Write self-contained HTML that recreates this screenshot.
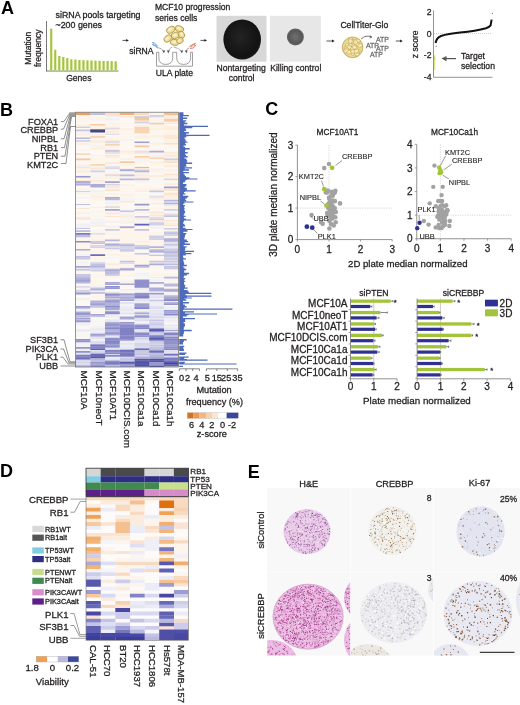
<!DOCTYPE html>
<html><head><meta charset="utf-8"><title>Figure</title>
<style>
html,body{margin:0;padding:0;background:#fff;}
body{width:520px;height:705px;overflow:hidden;}
svg{display:block;font-family:"Liberation Sans", Arial, sans-serif;}
</style></head><body>
<svg width="520" height="705" viewBox="0 0 520 705">
<text x="0.90" y="13.60" font-size="18" text-anchor="start" font-weight="bold" fill="#000">A</text>
<text x="55.50" y="18.40" font-size="8.85" text-anchor="start" fill="#231f20" stroke="#231f20" stroke-width="0.28">siRNA pools targeting</text>
<text x="55.50" y="28.10" font-size="8.85" text-anchor="start" fill="#231f20" stroke="#231f20" stroke-width="0.28">~200 genes</text>
<line x1="46.50" y1="21.00" x2="46.50" y2="71.30" stroke="#555" stroke-width="0.8"/>
<line x1="46.10" y1="71.00" x2="118.50" y2="71.00" stroke="#555" stroke-width="0.8"/>
<rect x="49.90" y="28.70" width="2.60" height="41.90" fill="#d9e8a8"/>
<rect x="50.30" y="28.70" width="1.80" height="41.90" fill="#a4c43c"/>
<rect x="53.93" y="49.80" width="2.60" height="20.80" fill="#d9e8a8"/>
<rect x="54.33" y="49.80" width="1.80" height="20.80" fill="#a4c43c"/>
<rect x="57.96" y="56.00" width="2.60" height="14.60" fill="#d9e8a8"/>
<rect x="58.36" y="56.00" width="1.80" height="14.60" fill="#a4c43c"/>
<rect x="61.99" y="57.00" width="2.60" height="13.60" fill="#d9e8a8"/>
<rect x="62.39" y="57.00" width="1.80" height="13.60" fill="#a4c43c"/>
<rect x="66.02" y="58.00" width="2.60" height="12.60" fill="#d9e8a8"/>
<rect x="66.42" y="58.00" width="1.80" height="12.60" fill="#a4c43c"/>
<rect x="70.05" y="59.40" width="2.60" height="11.20" fill="#d9e8a8"/>
<rect x="70.45" y="59.40" width="1.80" height="11.20" fill="#a4c43c"/>
<rect x="74.08" y="59.60" width="2.60" height="11.00" fill="#d9e8a8"/>
<rect x="74.48" y="59.60" width="1.80" height="11.00" fill="#a4c43c"/>
<rect x="78.11" y="60.00" width="2.60" height="10.60" fill="#d9e8a8"/>
<rect x="78.51" y="60.00" width="1.80" height="10.60" fill="#a4c43c"/>
<rect x="82.14" y="60.20" width="2.60" height="10.40" fill="#d9e8a8"/>
<rect x="82.54" y="60.20" width="1.80" height="10.40" fill="#a4c43c"/>
<rect x="86.17" y="60.40" width="2.60" height="10.20" fill="#d9e8a8"/>
<rect x="86.57" y="60.40" width="1.80" height="10.20" fill="#a4c43c"/>
<rect x="90.20" y="60.50" width="2.60" height="10.10" fill="#d9e8a8"/>
<rect x="90.60" y="60.50" width="1.80" height="10.10" fill="#a4c43c"/>
<rect x="94.23" y="60.70" width="2.60" height="9.90" fill="#d9e8a8"/>
<rect x="94.63" y="60.70" width="1.80" height="9.90" fill="#a4c43c"/>
<rect x="98.26" y="60.80" width="2.60" height="9.80" fill="#d9e8a8"/>
<rect x="98.66" y="60.80" width="1.80" height="9.80" fill="#a4c43c"/>
<rect x="102.29" y="61.00" width="2.60" height="9.60" fill="#d9e8a8"/>
<rect x="102.69" y="61.00" width="1.80" height="9.60" fill="#a4c43c"/>
<rect x="106.32" y="61.00" width="2.60" height="9.60" fill="#d9e8a8"/>
<rect x="106.72" y="61.00" width="1.80" height="9.60" fill="#a4c43c"/>
<rect x="110.35" y="61.20" width="2.60" height="9.40" fill="#d9e8a8"/>
<rect x="110.75" y="61.20" width="1.80" height="9.40" fill="#a4c43c"/>
<rect x="114.38" y="61.30" width="2.60" height="9.30" fill="#d9e8a8"/>
<rect x="114.78" y="61.30" width="1.80" height="9.30" fill="#a4c43c"/>
<text x="31.00" y="48.20" font-size="8.6" text-anchor="middle" fill="#231f20" stroke="#231f20" stroke-width="0.28" transform="rotate(-90 31.00 48.20)">Mutation</text>
<text x="41.00" y="48.20" font-size="8.6" text-anchor="middle" fill="#231f20" stroke="#231f20" stroke-width="0.28" transform="rotate(-90 41.00 48.20)">frequency</text>
<text x="78.80" y="80.60" font-size="8.6" text-anchor="middle" fill="#231f20" stroke="#231f20" stroke-width="0.28">Genes</text>
<line x1="122.50" y1="40.40" x2="127.30" y2="40.40" stroke="#231f20" stroke-width="0.75"/>
<path d="M126.20,39.00 L128.80,40.40 L126.20,41.80 Z" stroke="none" fill="#231f20" stroke-width="0.8"/>
<line x1="200.50" y1="40.40" x2="205.50" y2="40.40" stroke="#231f20" stroke-width="0.75"/>
<path d="M204.40,39.00 L207.00,40.40 L204.40,41.80 Z" stroke="none" fill="#231f20" stroke-width="0.8"/>
<line x1="326.50" y1="41.00" x2="333.10" y2="41.00" stroke="#231f20" stroke-width="0.75"/>
<path d="M332.00,39.60 L334.60,41.00 L332.00,42.40 Z" stroke="none" fill="#231f20" stroke-width="0.8"/>
<line x1="395.80" y1="41.00" x2="401.20" y2="41.00" stroke="#231f20" stroke-width="0.75"/>
<path d="M400.10,39.60 L402.70,41.00 L400.10,42.40 Z" stroke="none" fill="#231f20" stroke-width="0.8"/>
<text x="154.90" y="10.40" font-size="8.6" text-anchor="start" fill="#231f20" stroke="#231f20" stroke-width="0.28">MCF10 progression</text>
<text x="154.90" y="20.60" font-size="8.6" text-anchor="start" fill="#231f20" stroke="#231f20" stroke-width="0.28">series cells</text>
<ellipse cx="170.8" cy="29.8" rx="4.6" ry="3.1" transform="rotate(-25 170.8 29.8)" fill="#eedc96" stroke="#a88a3a" stroke-width="0.7"/>
<ellipse cx="170.20000000000002" cy="29.3" rx="2.3" ry="1.395" transform="rotate(-25 170.8 29.8)" fill="#f8f0c8"/>
<ellipse cx="179.4" cy="28.9" rx="4.4" ry="3.0" transform="rotate(20 179.4 28.9)" fill="#eedc96" stroke="#a88a3a" stroke-width="0.7"/>
<ellipse cx="178.8" cy="28.4" rx="2.2" ry="1.35" transform="rotate(20 179.4 28.9)" fill="#f8f0c8"/>
<ellipse cx="167.9" cy="38.5" rx="4.4" ry="3.1" transform="rotate(-40 167.9 38.5)" fill="#eedc96" stroke="#a88a3a" stroke-width="0.7"/>
<ellipse cx="167.3" cy="38.0" rx="2.2" ry="1.395" transform="rotate(-40 167.9 38.5)" fill="#f8f0c8"/>
<ellipse cx="175.4" cy="35.4" rx="4.2" ry="3.1" transform="rotate(-15 175.4 35.4)" fill="#eedc96" stroke="#a88a3a" stroke-width="0.7"/>
<ellipse cx="174.8" cy="34.9" rx="2.1" ry="1.395" transform="rotate(-15 175.4 35.4)" fill="#f8f0c8"/>
<ellipse cx="181.5" cy="34.8" rx="3.6" ry="3.0" transform="rotate(60 181.5 34.8)" fill="#eedc96" stroke="#a88a3a" stroke-width="0.7"/>
<ellipse cx="180.9" cy="34.3" rx="1.8" ry="1.35" transform="rotate(60 181.5 34.8)" fill="#f8f0c8"/>
<ellipse cx="174.6" cy="42.4" rx="4.3" ry="3.0" transform="rotate(10 174.6 42.4)" fill="#eedc96" stroke="#a88a3a" stroke-width="0.7"/>
<ellipse cx="174.0" cy="41.9" rx="2.15" ry="1.35" transform="rotate(10 174.6 42.4)" fill="#f8f0c8"/>
<ellipse cx="180.0" cy="40.6" rx="3.4" ry="2.8" transform="rotate(-30 180.0 40.6)" fill="#eedc96" stroke="#a88a3a" stroke-width="0.7"/>
<ellipse cx="179.4" cy="40.1" rx="1.7" ry="1.26" transform="rotate(-30 180.0 40.6)" fill="#f8f0c8"/>
<path d="M156.5,52.3 L156.5,66.2 L192.5,66.2 L192.5,52.3 L190.6,52.3 L190.6,57.5 Q190.6,64.4 183.6,64.4 Q176.7,64.4 176.7,57.5 L176.7,52.3 L172.7,52.3 L172.7,57.5 Q172.7,64.4 165.7,64.4 Q158.8,64.4 158.8,57.5 L158.8,52.3 Z" stroke="#777" fill="none" stroke-width="0.7"/>
<path d="M157.5,47.5 Q162,48 163.5,51.5" stroke="#777" fill="none" stroke-width="0.6"/>
<path d="M172,47 Q169,48.5 168.5,51.5" stroke="#777" fill="none" stroke-width="0.6"/>
<path d="M173.5,47 Q178,47.5 181.5,51.5" stroke="#777" fill="none" stroke-width="0.6"/>
<path d="M189,48 Q186.5,48.5 186,51.5" stroke="#777" fill="none" stroke-width="0.6"/>
<path d="M162.3,50.6 L163.8,53.2 L165.3,50.6 Z" stroke="none" fill="#555" stroke-width="0.8"/>
<path d="M166.8,50.6 L168.3,53.2 L169.8,50.6 Z" stroke="none" fill="#555" stroke-width="0.8"/>
<path d="M180.3,50.6 L181.8,53.2 L183.3,50.6 Z" stroke="none" fill="#555" stroke-width="0.8"/>
<path d="M184.8,50.6 L186.3,53.2 L187.8,50.6 Z" stroke="none" fill="#555" stroke-width="0.8"/>
<path d="M152,42.8 Q153.9,41.3 157.8,46.5" stroke="#4a8ad0" fill="none" stroke-width="0.8"/>
<path d="M152,44.4 Q155.9,45.8 157.8,48.1" stroke="#4a8ad0" fill="none" stroke-width="0.8"/>
<line x1="153.45" y1="43.52" x2="153.85" y2="45.52" stroke="#4a8ad0" stroke-width="0.6"/>
<line x1="154.90" y1="44.45" x2="155.30" y2="46.45" stroke="#4a8ad0" stroke-width="0.6"/>
<line x1="156.35" y1="45.38" x2="156.75" y2="47.38" stroke="#4a8ad0" stroke-width="0.6"/>
<path d="M189.5,46.5 Q191.65,45.0 195.8,43.2" stroke="#d0503c" fill="none" stroke-width="0.8"/>
<path d="M189.5,48.1 Q193.65,49.5 195.8,44.800000000000004" stroke="#d0503c" fill="none" stroke-width="0.8"/>
<line x1="191.07" y1="45.47" x2="191.47" y2="47.47" stroke="#d0503c" stroke-width="0.6"/>
<line x1="192.65" y1="44.65" x2="193.05" y2="46.65" stroke="#d0503c" stroke-width="0.6"/>
<line x1="194.23" y1="43.83" x2="194.63" y2="45.83" stroke="#d0503c" stroke-width="0.6"/>
<text x="129.20" y="54.10" font-size="8.6" text-anchor="start" fill="#231f20" stroke="#231f20" stroke-width="0.28">siRNA</text>
<text x="174.40" y="76.20" font-size="8.6" text-anchor="middle" fill="#231f20" stroke="#231f20" stroke-width="0.28">ULA plate</text>
<rect x="216.50" y="15.80" width="50.00" height="45.90" fill="#d8d8d8"/>
<defs><radialGradient id="gblk" cx="0.45" cy="0.45" r="0.6"><stop offset="0" stop-color="#242424"/><stop offset="0.8" stop-color="#121212"/><stop offset="1" stop-color="#1c1c1c"/></radialGradient><radialGradient id="ggry" cx="0.5" cy="0.5" r="0.5"><stop offset="0" stop-color="#707070"/><stop offset="0.8" stop-color="#575757"/><stop offset="1" stop-color="#6a6a6a"/></radialGradient><radialGradient id="gyel" cx="0.5" cy="0.5" r="0.5"><stop offset="0" stop-color="#f4e4a4"/><stop offset="0.9" stop-color="#ecd88c"/><stop offset="1" stop-color="#c8a848"/></radialGradient></defs>
<ellipse cx="242.2" cy="39.5" rx="18.8" ry="20.0" fill="url(#gblk)"/>
<rect x="270.00" y="15.80" width="50.80" height="45.90" fill="#e7e7e7"/>
<ellipse cx="295.4" cy="37.0" rx="8.5" ry="8.4" fill="url(#ggry)"/>
<text x="216.60" y="71.40" font-size="8.6" text-anchor="start" fill="#231f20" stroke="#231f20" stroke-width="0.28">Nontargeting</text>
<text x="241.60" y="81.40" font-size="8.6" text-anchor="middle" fill="#231f20" stroke="#231f20" stroke-width="0.28">control</text>
<text x="270.20" y="71.40" font-size="8.6" text-anchor="start" fill="#231f20" stroke="#231f20" stroke-width="0.28">Killing control</text>
<text x="340.40" y="28.40" font-size="8.6" text-anchor="start" fill="#231f20" stroke="#231f20" stroke-width="0.28">CellTiter-Glo</text>
<circle cx="352.6" cy="47.3" r="10.4" fill="url(#gyel)" stroke="#c0a040" stroke-width="0.6"/>
<ellipse cx="353.0" cy="53.0" rx="2.4" ry="1.9" transform="rotate(94 353.0 53.0)" fill="#f6eab8" stroke="#b8963c" stroke-width="0.45"/>
<ellipse cx="357.1" cy="44.7" rx="2.4" ry="1.9" transform="rotate(148 357.1 44.7)" fill="#f6eab8" stroke="#b8963c" stroke-width="0.45"/>
<ellipse cx="353.2" cy="47.5" rx="2.4" ry="1.9" transform="rotate(120 353.2 47.5)" fill="#f6eab8" stroke="#b8963c" stroke-width="0.45"/>
<ellipse cx="352.4" cy="50.7" rx="2.4" ry="1.9" transform="rotate(120 352.4 50.7)" fill="#f6eab8" stroke="#b8963c" stroke-width="0.45"/>
<ellipse cx="347.1" cy="45.8" rx="2.4" ry="1.9" transform="rotate(101 347.1 45.8)" fill="#f6eab8" stroke="#b8963c" stroke-width="0.45"/>
<ellipse cx="350.9" cy="45.3" rx="2.4" ry="1.9" transform="rotate(162 350.9 45.3)" fill="#f6eab8" stroke="#b8963c" stroke-width="0.45"/>
<ellipse cx="357.1" cy="53.7" rx="2.4" ry="1.9" transform="rotate(99 357.1 53.7)" fill="#f6eab8" stroke="#b8963c" stroke-width="0.45"/>
<ellipse cx="352.2" cy="40.9" rx="2.4" ry="1.9" transform="rotate(16 352.2 40.9)" fill="#f6eab8" stroke="#b8963c" stroke-width="0.45"/>
<ellipse cx="356.9" cy="54.0" rx="2.4" ry="1.9" transform="rotate(10 356.9 54.0)" fill="#f6eab8" stroke="#b8963c" stroke-width="0.45"/>
<ellipse cx="352.3" cy="48.3" rx="2.4" ry="1.9" transform="rotate(68 352.3 48.3)" fill="#f6eab8" stroke="#b8963c" stroke-width="0.45"/>
<ellipse cx="346.0" cy="48.4" rx="2.4" ry="1.9" transform="rotate(99 346.0 48.4)" fill="#f6eab8" stroke="#b8963c" stroke-width="0.45"/>
<ellipse cx="350.9" cy="39.7" rx="2.4" ry="1.9" transform="rotate(101 350.9 39.7)" fill="#f6eab8" stroke="#b8963c" stroke-width="0.45"/>
<ellipse cx="351.8" cy="41.5" rx="2.4" ry="1.9" transform="rotate(34 351.8 41.5)" fill="#f6eab8" stroke="#b8963c" stroke-width="0.45"/>
<ellipse cx="354.1" cy="45.9" rx="2.4" ry="1.9" transform="rotate(34 354.1 45.9)" fill="#f6eab8" stroke="#b8963c" stroke-width="0.45"/>
<ellipse cx="349.0" cy="47.4" rx="2.4" ry="1.9" transform="rotate(172 349.0 47.4)" fill="#f6eab8" stroke="#b8963c" stroke-width="0.45"/>
<ellipse cx="346.9" cy="49.7" rx="2.4" ry="1.9" transform="rotate(77 346.9 49.7)" fill="#f6eab8" stroke="#b8963c" stroke-width="0.45"/>
<ellipse cx="346.1" cy="50.8" rx="2.4" ry="1.9" transform="rotate(146 346.1 50.8)" fill="#f6eab8" stroke="#b8963c" stroke-width="0.45"/>
<ellipse cx="349.1" cy="52.1" rx="2.4" ry="1.9" transform="rotate(149 349.1 52.1)" fill="#f6eab8" stroke="#b8963c" stroke-width="0.45"/>
<ellipse cx="353.1" cy="51.5" rx="2.4" ry="1.9" transform="rotate(7 353.1 51.5)" fill="#f6eab8" stroke="#b8963c" stroke-width="0.45"/>
<ellipse cx="357.7" cy="40.9" rx="2.4" ry="1.9" transform="rotate(171 357.7 40.9)" fill="#f6eab8" stroke="#b8963c" stroke-width="0.45"/>
<ellipse cx="350.4" cy="41.1" rx="2.4" ry="1.9" transform="rotate(83 350.4 41.1)" fill="#f6eab8" stroke="#b8963c" stroke-width="0.45"/>
<ellipse cx="360.1" cy="45.6" rx="2.4" ry="1.9" transform="rotate(145 360.1 45.6)" fill="#f6eab8" stroke="#b8963c" stroke-width="0.45"/>
<ellipse cx="357.7" cy="51.2" rx="2.4" ry="1.9" transform="rotate(162 357.7 51.2)" fill="#f6eab8" stroke="#b8963c" stroke-width="0.45"/>
<ellipse cx="355.5" cy="42.2" rx="2.4" ry="1.9" transform="rotate(72 355.5 42.2)" fill="#f6eab8" stroke="#b8963c" stroke-width="0.45"/>
<ellipse cx="356.4" cy="51.0" rx="2.4" ry="1.9" transform="rotate(163 356.4 51.0)" fill="#f6eab8" stroke="#b8963c" stroke-width="0.45"/>
<ellipse cx="354.5" cy="47.2" rx="2.4" ry="1.9" transform="rotate(17 354.5 47.2)" fill="#f6eab8" stroke="#b8963c" stroke-width="0.45"/>
<path d="M361,39 Q366,34.5 371.5,37" stroke="#231f20" fill="none" stroke-width="0.6"/>
<path d="M369.8,35.6 L371.8,37.1 L369.6,38.0" stroke="#231f20" fill="none" stroke-width="0.6"/>
<text x="376.00" y="41.60" font-size="6.9" text-anchor="start" fill="#6d6d6d" stroke="#6d6d6d" stroke-width="0.28">ATP</text>
<text x="366.00" y="48.00" font-size="6.9" text-anchor="start" fill="#6d6d6d" stroke="#6d6d6d" stroke-width="0.28">ATP</text>
<text x="376.00" y="51.00" font-size="6.9" text-anchor="start" fill="#6d6d6d" stroke="#6d6d6d" stroke-width="0.28">ATP</text>
<text x="370.00" y="57.20" font-size="6.9" text-anchor="start" fill="#6d6d6d" stroke="#6d6d6d" stroke-width="0.28">ATP</text>
<text x="418.40" y="44.30" font-size="8.6" text-anchor="middle" fill="#231f20" stroke="#231f20" stroke-width="0.28" transform="rotate(-90 418.40 44.30)">z score</text>
<line x1="433.50" y1="10.40" x2="433.50" y2="77.30" stroke="#777" stroke-width="0.8"/>
<line x1="433.50" y1="77.30" x2="492.50" y2="77.30" stroke="#777" stroke-width="0.8"/>
<text x="431.50" y="14.60" font-size="8.6" text-anchor="end" fill="#231f20" stroke="#231f20" stroke-width="0.28">2</text>
<text x="431.50" y="36.50" font-size="8.6" text-anchor="end" fill="#231f20" stroke="#231f20" stroke-width="0.28">0</text>
<text x="431.50" y="58.40" font-size="8.6" text-anchor="end" fill="#231f20" stroke="#231f20" stroke-width="0.28">-2</text>
<text x="431.50" y="80.40" font-size="8.6" text-anchor="end" fill="#231f20" stroke="#231f20" stroke-width="0.28">-4</text>
<line x1="434.00" y1="33.60" x2="492.00" y2="33.60" stroke="#aaa" stroke-width="0.6" stroke-dasharray="1,1"/>
<path d="M435.6,43 Q436.6,37.6 441,36 Q448,33.8 460,32.6 Q476,30.8 486,28.2 Q489.6,27 490.6,25.4 L491.6,19.6" stroke="#111" fill="none" stroke-width="2.0"/>
<circle cx="436.20" cy="46.30" r="0.50" fill="#333"/>
<circle cx="492.40" cy="13.30" r="0.50" fill="#333"/>
<line x1="434.60" y1="55.00" x2="434.60" y2="70.00" stroke="#d8e890" stroke-width="1.2"/>
<line x1="434.20" y1="56.00" x2="435.20" y2="60.00" stroke="#a8c848" stroke-width="0.6"/>
<line x1="444.00" y1="58.60" x2="456.00" y2="58.60" stroke="#555" stroke-width="1.2"/>
<path d="M446.5,55.9 L441.5,58.6 L446.5,61.3 Z" stroke="none" fill="#555" stroke-width="0.8"/>
<text x="461.00" y="59.00" font-size="8.6" text-anchor="start" fill="#231f20" stroke="#231f20" stroke-width="0.28">Target</text>
<text x="461.00" y="69.20" font-size="8.6" text-anchor="start" fill="#231f20" stroke="#231f20" stroke-width="0.28">selection</text>
<text x="0.00" y="115.70" font-size="18" text-anchor="start" font-weight="bold" fill="#000">B</text>
<defs><filter id="hmb" x="-5%" y="-2%" width="110%" height="104%"><feGaussianBlur stdDeviation="0.25 0.4"/></filter><clipPath id="hmc"><rect x="75.6" y="112.2" width="103.0" height="254.8"/></clipPath></defs>
<g clip-path="url(#hmc)"><g filter="url(#hmb)">
<path fill="#eca060" d="M75.6 112.2h14.8v1.7h-14.8zM75.6 113.5h14.8v1.7h-14.8z"/>
<path fill="#c0c0e0" d="M90.3 112.2h14.8v1.7h-14.8zM90.3 113.5h14.8v1.7h-14.8zM149.2 114.9h14.8v1.7h-14.8zM105 149.4h14.8v1.7h-14.8zM134.5 166.6h14.8v1.7h-14.8zM75.6 203.8h14.8v1.7h-14.8zM163.9 233h14.8v1.7h-14.8zM75.6 234.3h14.8v1.7h-14.8zM134.5 246.2h14.8v1.7h-14.8zM119.7 250.2h14.8v1.7h-14.8zM75.6 255.5h14.8v1.7h-14.8zM75.6 258.2h14.8v1.7h-14.8zM90.3 263.5h14.8v1.7h-14.8zM119.7 267.5h14.8v1.7h-14.8zM90.3 270.1h14.8v1.7h-14.8zM105 272.8h14.8v1.7h-14.8zM75.6 286h14.8v1.7h-14.8zM90.3 291.4h14.8v1.7h-14.8zM119.7 292.7h14.8v1.7h-14.8zM105 295.3h14.8v1.7h-14.8zM149.2 344.4h14.8v1.7h-14.8zM134.5 351.1h14.8v1.7h-14.8zM149.2 352.4h14.8v1.7h-14.8zM134.5 353.7h29.5v1.7h-29.5zM119.7 359h14.8v1.7h-14.8zM75.6 364.3h14.8v1.7h-14.8zM105 365.7h14.8v1.7h-14.8z"/>
<path fill="#fae0cc" d="M105 112.2h14.8v1.7h-14.8zM105 113.5h14.8v1.7h-14.8zM163.9 213.1h14.8v1.7h-14.8zM163.9 225h14.8v1.7h-14.8z"/>
<path fill="#f0b07c" d="M119.7 112.2h14.8v1.7h-14.8zM119.7 113.5h14.8v1.7h-14.8z"/>
<path fill="#f8dcc0" d="M134.5 112.2h14.8v1.7h-14.8zM134.5 113.5h14.8v1.7h-14.8zM105 140.1h14.8v1.7h-14.8z"/>
<path fill="#fdf4ec" d="M149.2 112.2h14.8v1.7h-14.8zM149.2 113.5h14.8v1.7h-14.8zM90.3 114.9h14.8v1.7h-14.8zM119.7 114.9h14.8v1.7h-14.8zM90.3 116.2h29.5v1.7h-29.5zM75.6 117.5h14.8v1.7h-14.8zM75.6 120.2h14.8v1.7h-14.8zM105 122.8h14.8v1.7h-14.8zM119.7 125.5h14.8v1.7h-14.8zM149.2 125.5h14.8v1.7h-14.8zM90.3 126.8h14.8v1.7h-14.8zM149.2 129.5h14.8v1.7h-14.8zM119.7 133.4h14.8v1.7h-14.8zM75.6 134.8h14.8v1.7h-14.8zM134.5 134.8h14.8v1.7h-14.8zM105 136.1h14.8v1.7h-14.8zM90.3 137.4h14.8v1.7h-14.8zM105 138.7h14.8v1.7h-14.8zM149.2 138.7h14.8v1.7h-14.8zM75.6 141.4h14.8v1.7h-14.8zM90.3 144.1h14.8v1.7h-14.8zM75.6 146.7h29.5v1.7h-29.5zM163.9 146.7h14.8v1.7h-14.8zM105 148h14.8v1.7h-14.8zM149.2 148h14.8v1.7h-14.8zM134.5 149.4h14.8v1.7h-14.8zM163.9 150.7h14.8v1.7h-14.8zM119.7 152h14.8v1.7h-14.8zM134.5 153.3h14.8v1.7h-14.8zM163.9 153.3h14.8v1.7h-14.8zM75.6 157.3h14.8v1.7h-14.8zM119.7 157.3h14.8v1.7h-14.8zM90.3 158.6h14.8v1.7h-14.8zM90.3 160h29.5v1.7h-29.5zM75.6 161.3h14.8v1.7h-14.8zM105 161.3h14.8v1.7h-14.8zM134.5 161.3h14.8v1.7h-14.8zM149.2 162.6h14.8v1.7h-14.8zM163.9 166.6h14.8v1.7h-14.8zM75.6 167.9h14.8v1.7h-14.8zM90.3 169.3h14.8v1.7h-14.8zM149.2 171.9h14.8v1.7h-14.8zM134.5 173.2h14.8v1.7h-14.8zM105 175.9h14.8v1.7h-14.8zM119.7 177.2h14.8v1.7h-14.8zM149.2 178.6h14.8v1.7h-14.8zM90.3 181.2h14.8v1.7h-14.8zM119.7 185.2h29.5v1.7h-29.5zM75.6 187.8h14.8v1.7h-14.8zM90.3 189.2h14.8v1.7h-14.8zM134.5 189.2h29.5v1.7h-29.5zM134.5 193.2h14.8v1.7h-14.8zM90.3 197.1h14.8v1.7h-14.8zM90.3 198.5h14.8v1.7h-14.8zM119.7 199.8h14.8v1.7h-14.8zM149.2 199.8h14.8v1.7h-14.8zM134.5 201.1h14.8v1.7h-14.8zM149.2 203.8h14.8v1.7h-14.8zM149.2 207.8h14.8v1.7h-14.8zM90.3 210.4h14.8v1.7h-14.8zM149.2 210.4h14.8v1.7h-14.8zM90.3 211.7h14.8v1.7h-14.8zM90.3 214.4h14.8v1.7h-14.8zM75.6 215.7h29.5v1.7h-29.5zM105 219.7h14.8v1.7h-14.8zM90.3 230.3h59v1.7h-59zM163.9 230.3h14.8v1.7h-14.8zM90.3 231.6h73.7v1.7h-73.7zM105 233h59v1.7h-59zM90.3 234.3h73.7v1.7h-73.7zM90.3 235.6h14.8v1.7h-14.8zM119.7 235.6h29.5v1.7h-29.5zM163.9 235.6h14.8v1.7h-14.8zM75.6 236.9h73.7v1.7h-73.7zM75.6 238.3h73.7v1.7h-73.7zM75.6 239.6h14.8v1.7h-14.8zM119.7 239.6h44.2v1.7h-44.2zM105 240.9h29.5v1.7h-29.5zM149.2 240.9h14.8v1.7h-14.8zM75.6 242.3h14.8v1.7h-14.8zM119.7 242.3h44.2v1.7h-44.2zM75.6 243.6h29.5v1.7h-29.5zM134.5 243.6h29.5v1.7h-29.5zM75.6 244.9h14.8v1.7h-14.8zM149.2 244.9h14.8v1.7h-14.8zM75.6 246.2h14.8v1.7h-14.8zM105 246.2h14.8v1.7h-14.8zM163.9 246.2h14.8v1.7h-14.8zM75.6 247.6h29.5v1.7h-29.5zM149.2 247.6h14.8v1.7h-14.8zM90.3 248.9h29.5v1.7h-29.5zM75.6 250.2h29.5v1.7h-29.5zM75.6 251.5h29.5v1.7h-29.5zM119.7 251.5h14.8v1.7h-14.8zM75.6 252.9h44.2v1.7h-44.2zM119.7 254.2h29.5v1.7h-29.5zM90.3 255.5h14.8v1.7h-14.8zM119.7 255.5h44.2v1.7h-44.2zM90.3 256.9h59v1.7h-59zM90.3 258.2h14.8v1.7h-14.8zM119.7 258.2h29.5v1.7h-29.5zM90.3 259.5h14.8v1.7h-14.8zM119.7 259.5h44.2v1.7h-44.2zM90.3 260.8h14.8v1.7h-14.8zM134.5 260.8h14.8v1.7h-14.8zM75.6 262.2h14.8v1.7h-14.8zM105 262.2h14.8v1.7h-14.8zM134.5 262.2h29.5v1.7h-29.5zM75.6 263.5h14.8v1.7h-14.8zM119.7 263.5h14.8v1.7h-14.8zM105 264.8h29.5v1.7h-29.5zM119.7 266.1h14.8v1.7h-14.8zM75.6 267.5h14.8v1.7h-14.8zM105 267.5h14.8v1.7h-14.8zM134.5 268.8h14.8v1.7h-14.8zM163.9 268.8h14.8v1.7h-14.8zM119.7 270.1h14.8v1.7h-14.8zM163.9 270.1h14.8v1.7h-14.8zM75.6 271.4h14.8v1.7h-14.8zM149.2 271.4h14.8v1.7h-14.8zM75.6 272.8h14.8v1.7h-14.8zM163.9 272.8h14.8v1.7h-14.8zM90.3 274.1h14.8v1.7h-14.8zM119.7 274.1h14.8v1.7h-14.8zM163.9 274.1h14.8v1.7h-14.8zM90.3 275.4h44.2v1.7h-44.2zM90.3 276.8h29.5v1.7h-29.5zM134.5 276.8h14.8v1.7h-14.8zM90.3 279.4h14.8v1.7h-14.8zM119.7 279.4h14.8v1.7h-14.8zM90.3 280.7h29.5v1.7h-29.5zM163.9 280.7h14.8v1.7h-14.8zM90.3 282.1h14.8v1.7h-14.8zM163.9 282.1h14.8v1.7h-14.8zM90.3 283.4h14.8v1.7h-14.8zM75.6 284.7h14.8v1.7h-14.8zM75.6 287.4h14.8v1.7h-14.8zM163.9 287.4h14.8v1.7h-14.8zM163.9 294h14.8v1.7h-14.8zM90.3 295.3h14.8v1.7h-14.8zM90.3 296.7h14.8v1.7h-14.8zM90.3 298h14.8v1.7h-14.8zM75.6 299.3h14.8v1.7h-14.8zM90.3 308.6h14.8v1.7h-14.8zM90.3 311.3h14.8v1.7h-14.8zM75.6 337.8h14.8v1.7h-14.8z"/>
<path fill="#f4c090" d="M163.9 112.2h14.8v1.7h-14.8zM163.9 113.5h14.8v1.7h-14.8z"/>
<path fill="#fcecdc" d="M75.6 114.9h14.8v1.7h-14.8zM163.9 126.8h14.8v1.7h-14.8zM163.9 128.1h14.8v1.7h-14.8zM90.3 140.1h14.8v1.7h-14.8zM90.3 141.4h14.8v1.7h-14.8zM105 142.7h14.8v1.7h-14.8zM90.3 148h14.8v1.7h-14.8zM119.7 167.9h14.8v1.7h-14.8zM105 173.2h14.8v1.7h-14.8zM134.5 174.6h29.5v1.7h-29.5zM149.2 175.9h14.8v1.7h-14.8zM163.9 183.9h14.8v1.7h-14.8zM149.2 187.8h14.8v1.7h-14.8zM134.5 190.5h14.8v1.7h-14.8zM163.9 191.8h14.8v1.7h-14.8zM105 193.2h14.8v1.7h-14.8zM90.3 195.8h14.8v1.7h-14.8zM149.2 202.4h14.8v1.7h-14.8zM90.3 206.4h14.8v1.7h-14.8zM163.9 222.3h14.8v1.7h-14.8z"/>
<path fill="#ececf4" d="M105 114.9h14.8v1.7h-14.8zM75.6 217h14.8v1.7h-14.8zM149.2 276.8h14.8v1.7h-14.8zM134.5 287.4h14.8v1.7h-14.8zM119.7 288.7h29.5v1.7h-29.5zM134.5 300.6h14.8v1.7h-14.8zM149.2 303.3h14.8v1.7h-14.8zM119.7 306h14.8v1.7h-14.8zM119.7 307.3h14.8v1.7h-14.8zM75.6 308.6h14.8v1.7h-14.8zM163.9 308.6h14.8v1.7h-14.8zM105 315.2h14.8v1.7h-14.8zM163.9 319.2h14.8v1.7h-14.8zM75.6 323.2h14.8v1.7h-14.8zM105 335.2h14.8v1.7h-14.8zM119.7 340.5h14.8v1.7h-14.8zM75.6 341.8h14.8v1.7h-14.8zM119.7 341.8h14.8v1.7h-14.8zM119.7 344.4h14.8v1.7h-14.8zM119.7 345.8h14.8v1.7h-14.8zM75.6 348.4h14.8v1.7h-14.8z"/>
<path fill="#fcf0e4" d="M134.5 114.9h14.8v1.7h-14.8zM163.9 117.5h14.8v1.7h-14.8zM119.7 122.8h29.5v1.7h-29.5zM75.6 124.1h14.8v1.7h-14.8zM75.6 125.5h14.8v1.7h-14.8zM163.9 125.5h14.8v1.7h-14.8zM90.3 128.1h14.8v1.7h-14.8zM149.2 132.1h14.8v1.7h-14.8zM75.6 133.4h29.5v1.7h-29.5zM149.2 134.8h14.8v1.7h-14.8zM134.5 136.1h14.8v1.7h-14.8zM75.6 142.7h14.8v1.7h-14.8zM134.5 142.7h29.5v1.7h-29.5zM75.6 144.1h14.8v1.7h-14.8zM90.3 145.4h14.8v1.7h-14.8zM90.3 154.7h14.8v1.7h-14.8zM105 157.3h14.8v1.7h-14.8zM134.5 157.3h14.8v1.7h-14.8zM119.7 158.6h14.8v1.7h-14.8zM75.6 164h14.8v1.7h-14.8zM119.7 164h14.8v1.7h-14.8zM163.9 164h14.8v1.7h-14.8zM134.5 165.3h14.8v1.7h-14.8zM149.2 167.9h14.8v1.7h-14.8zM75.6 171.9h14.8v1.7h-14.8zM134.5 171.9h14.8v1.7h-14.8zM119.7 173.2h14.8v1.7h-14.8zM163.9 174.6h14.8v1.7h-14.8zM134.5 175.9h14.8v1.7h-14.8zM105 179.9h14.8v1.7h-14.8zM134.5 181.2h14.8v1.7h-14.8zM90.3 182.5h14.8v1.7h-14.8zM163.9 182.5h14.8v1.7h-14.8zM119.7 183.9h14.8v1.7h-14.8zM163.9 187.8h14.8v1.7h-14.8zM75.6 193.2h14.8v1.7h-14.8zM163.9 194.5h14.8v1.7h-14.8zM105 195.8h14.8v1.7h-14.8zM105 201.1h14.8v1.7h-14.8zM134.5 206.4h14.8v1.7h-14.8zM134.5 211.7h14.8v1.7h-14.8zM75.6 213.1h14.8v1.7h-14.8zM90.3 218.4h14.8v1.7h-14.8zM163.9 236.9h14.8v1.7h-14.8zM90.3 239.6h14.8v1.7h-14.8zM119.7 282.1h14.8v1.7h-14.8z"/>
<path fill="#fbe8d4" d="M163.9 114.9h14.8v1.7h-14.8zM163.9 122.8h14.8v1.7h-14.8zM105 162.6h14.8v1.7h-14.8zM134.5 167.9h14.8v1.7h-14.8zM119.7 170.6h14.8v1.7h-14.8zM149.2 197.1h14.8v1.7h-14.8zM119.7 201.1h14.8v1.7h-14.8zM134.5 217h14.8v1.7h-14.8zM119.7 221h14.8v1.7h-14.8zM119.7 227.7h14.8v1.7h-14.8z"/>
<path fill="#fbf8f4" d="M75.6 116.2h14.8v1.7h-14.8zM149.2 130.8h14.8v1.7h-14.8zM163.9 138.7h14.8v1.7h-14.8zM163.9 145.4h14.8v1.7h-14.8zM75.6 154.7h14.8v1.7h-14.8zM134.5 154.7h14.8v1.7h-14.8zM119.7 156h14.8v1.7h-14.8zM163.9 177.2h14.8v1.7h-14.8zM90.3 178.6h14.8v1.7h-14.8zM149.2 183.9h14.8v1.7h-14.8zM119.7 186.5h14.8v1.7h-14.8zM149.2 191.8h14.8v1.7h-14.8zM119.7 195.8h14.8v1.7h-14.8zM149.2 213.1h14.8v1.7h-14.8zM163.9 221h14.8v1.7h-14.8zM75.6 222.3h14.8v1.7h-14.8zM119.7 223.7h14.8v1.7h-14.8zM105 260.8h14.8v1.7h-14.8zM149.2 278.1h14.8v1.7h-14.8zM75.6 300.6h14.8v1.7h-14.8zM90.3 319.2h14.8v1.7h-14.8zM75.6 333.8h14.8v1.7h-14.8z"/>
<path fill="#fbe4d0" d="M119.7 116.2h14.8v1.7h-14.8zM163.9 137.4h14.8v1.7h-14.8zM105 154.7h14.8v1.7h-14.8zM75.6 166.6h14.8v1.7h-14.8zM90.3 167.9h14.8v1.7h-14.8zM163.9 173.2h14.8v1.7h-14.8zM75.6 179.9h29.5v1.7h-29.5zM105 205.1h14.8v1.7h-14.8zM75.6 207.8h14.8v1.7h-14.8zM149.2 214.4h14.8v1.7h-14.8zM105 215.7h14.8v1.7h-14.8zM75.6 218.4h14.8v1.7h-14.8zM163.9 219.7h14.8v1.7h-14.8zM90.3 225h14.8v1.7h-14.8z"/>
<path fill="#c8c8e4" d="M134.5 116.2h14.8v1.7h-14.8zM105 128.1h14.8v1.7h-14.8zM90.3 186.5h14.8v1.7h-14.8zM75.6 190.5h14.8v1.7h-14.8zM149.2 190.5h14.8v1.7h-14.8zM134.5 215.7h14.8v1.7h-14.8zM149.2 218.4h14.8v1.7h-14.8zM75.6 227.7h14.8v1.7h-14.8zM163.9 231.6h14.8v1.7h-14.8zM90.3 240.9h14.8v1.7h-14.8zM119.7 243.6h14.8v1.7h-14.8zM105 247.6h14.8v1.7h-14.8zM119.7 248.9h14.8v1.7h-14.8zM149.2 248.9h14.8v1.7h-14.8zM149.2 251.5h14.8v1.7h-14.8zM149.2 254.2h14.8v1.7h-14.8zM163.9 255.5h14.8v1.7h-14.8zM75.6 256.9h14.8v1.7h-14.8zM149.2 260.8h14.8v1.7h-14.8zM163.9 267.5h14.8v1.7h-14.8zM105 274.1h14.8v1.7h-14.8zM75.6 291.4h14.8v1.7h-14.8zM90.3 292.7h14.8v1.7h-14.8zM75.6 307.3h14.8v1.7h-14.8zM75.6 316.6h14.8v1.7h-14.8zM149.2 340.5h14.8v1.7h-14.8zM149.2 348.4h14.8v1.7h-14.8zM90.3 352.4h14.8v1.7h-14.8zM134.5 352.4h14.8v1.7h-14.8zM163.9 356.4h14.8v1.7h-14.8z"/>
<path fill="#d8d8ec" d="M149.2 116.2h14.8v1.7h-14.8zM105 167.9h14.8v1.7h-14.8zM163.9 178.6h14.8v1.7h-14.8zM90.3 244.9h14.8v1.7h-14.8zM163.9 244.9h14.8v1.7h-14.8zM119.7 247.6h14.8v1.7h-14.8zM163.9 256.9h14.8v1.7h-14.8zM149.2 316.6h14.8v1.7h-14.8zM134.5 328.5h14.8v1.7h-14.8zM90.3 341.8h14.8v1.7h-14.8zM105 353.7h14.8v1.7h-14.8zM134.5 355.1h14.8v1.7h-14.8z"/>
<path fill="#fcece0" d="M163.9 116.2h14.8v1.7h-14.8zM134.5 120.2h14.8v1.7h-14.8zM134.5 146.7h14.8v1.7h-14.8zM119.7 150.7h14.8v1.7h-14.8zM163.9 152h14.8v1.7h-14.8zM105 156h14.8v1.7h-14.8zM163.9 156h14.8v1.7h-14.8zM149.2 161.3h14.8v1.7h-14.8zM163.9 165.3h14.8v1.7h-14.8zM163.9 262.2h14.8v1.7h-14.8zM105 263.5h14.8v1.7h-14.8zM149.2 274.1h14.8v1.7h-14.8z"/>
<path fill="#fcf4e8" d="M90.3 117.5h14.8v1.7h-14.8zM149.2 120.2h14.8v1.7h-14.8zM119.7 132.1h14.8v1.7h-14.8zM163.9 133.4h14.8v1.7h-14.8zM119.7 136.1h14.8v1.7h-14.8zM105 137.4h14.8v1.7h-14.8zM149.2 144.1h14.8v1.7h-14.8zM105 146.7h14.8v1.7h-14.8zM119.7 149.4h14.8v1.7h-14.8zM90.3 157.3h14.8v1.7h-14.8zM149.2 164h14.8v1.7h-14.8zM75.6 169.3h14.8v1.7h-14.8zM149.2 170.6h14.8v1.7h-14.8zM90.3 175.9h14.8v1.7h-14.8zM119.7 175.9h14.8v1.7h-14.8zM75.6 185.2h14.8v1.7h-14.8zM119.7 190.5h14.8v1.7h-14.8zM134.5 195.8h14.8v1.7h-14.8zM90.3 199.8h14.8v1.7h-14.8zM163.9 205.1h14.8v1.7h-14.8zM163.9 207.8h14.8v1.7h-14.8zM119.7 219.7h14.8v1.7h-14.8zM134.5 225h14.8v1.7h-14.8zM105 250.2h14.8v1.7h-14.8zM105 288.7h14.8v1.7h-14.8zM105 298h14.8v1.7h-14.8z"/>
<path fill="#f8f4f4" d="M105 117.5h14.8v1.7h-14.8zM90.3 120.2h14.8v1.7h-14.8zM105 121.5h14.8v1.7h-14.8zM149.2 126.8h14.8v1.7h-14.8zM90.3 138.7h14.8v1.7h-14.8zM119.7 140.1h14.8v1.7h-14.8zM149.2 141.4h14.8v1.7h-14.8zM134.5 144.1h14.8v1.7h-14.8zM149.2 158.6h14.8v1.7h-14.8zM119.7 165.3h14.8v1.7h-14.8zM163.9 170.6h14.8v1.7h-14.8zM90.3 173.2h14.8v1.7h-14.8zM90.3 174.6h14.8v1.7h-14.8zM105 182.5h14.8v1.7h-14.8zM105 187.8h14.8v1.7h-14.8zM75.6 189.2h14.8v1.7h-14.8zM119.7 193.2h14.8v1.7h-14.8zM90.3 194.5h14.8v1.7h-14.8zM105 210.4h14.8v1.7h-14.8zM119.7 211.7h14.8v1.7h-14.8zM163.9 211.7h14.8v1.7h-14.8zM119.7 217h14.8v1.7h-14.8zM90.3 219.7h14.8v1.7h-14.8zM134.5 219.7h14.8v1.7h-14.8zM134.5 221h29.5v1.7h-29.5zM75.6 225h14.8v1.7h-14.8zM149.2 227.7h14.8v1.7h-14.8zM75.6 264.8h14.8v1.7h-14.8zM149.2 266.1h14.8v1.7h-14.8zM75.6 270.1h14.8v1.7h-14.8zM163.9 278.1h14.8v1.7h-14.8zM163.9 279.4h14.8v1.7h-14.8zM134.5 290h14.8v1.7h-14.8zM119.7 319.2h14.8v1.7h-14.8zM134.5 321.9h14.8v1.7h-14.8zM163.9 321.9h14.8v1.7h-14.8zM90.3 323.2h14.8v1.7h-14.8z"/>
<path fill="#fdf8f4" d="M119.7 117.5h14.8v1.7h-14.8zM119.7 118.8h14.8v1.7h-14.8zM119.7 121.5h14.8v1.7h-14.8zM119.7 124.1h14.8v1.7h-14.8zM149.2 124.1h14.8v1.7h-14.8zM119.7 126.8h14.8v1.7h-14.8zM119.7 130.8h14.8v1.7h-14.8zM90.3 132.1h14.8v1.7h-14.8zM149.2 137.4h14.8v1.7h-14.8zM75.6 138.7h14.8v1.7h-14.8zM134.5 138.7h14.8v1.7h-14.8zM119.7 145.4h14.8v1.7h-14.8zM149.2 146.7h14.8v1.7h-14.8zM75.6 148h14.8v1.7h-14.8zM90.3 150.7h14.8v1.7h-14.8zM75.6 152h29.5v1.7h-29.5zM149.2 152h14.8v1.7h-14.8zM90.3 153.3h14.8v1.7h-14.8zM105 158.6h14.8v1.7h-14.8zM75.6 162.6h14.8v1.7h-14.8zM119.7 162.6h14.8v1.7h-14.8zM105 164h14.8v1.7h-14.8zM149.2 166.6h14.8v1.7h-14.8zM90.3 171.9h14.8v1.7h-14.8zM163.9 171.9h14.8v1.7h-14.8zM149.2 173.2h14.8v1.7h-14.8zM75.6 178.6h14.8v1.7h-14.8zM105 178.6h14.8v1.7h-14.8zM119.7 181.2h14.8v1.7h-14.8zM119.7 182.5h14.8v1.7h-14.8zM134.5 183.9h14.8v1.7h-14.8zM149.2 186.5h14.8v1.7h-14.8zM163.9 190.5h14.8v1.7h-14.8zM119.7 191.8h29.5v1.7h-29.5zM75.6 194.5h14.8v1.7h-14.8zM134.5 197.1h14.8v1.7h-14.8zM163.9 198.5h14.8v1.7h-14.8zM75.6 199.8h14.8v1.7h-14.8zM75.6 202.4h14.8v1.7h-14.8zM134.5 202.4h14.8v1.7h-14.8zM90.3 203.8h44.2v1.7h-44.2zM119.7 205.1h29.5v1.7h-29.5zM75.6 206.4h14.8v1.7h-14.8zM119.7 206.4h14.8v1.7h-14.8zM149.2 206.4h14.8v1.7h-14.8zM149.2 209.1h14.8v1.7h-14.8zM75.6 210.4h14.8v1.7h-14.8zM163.9 210.4h14.8v1.7h-14.8zM75.6 219.7h14.8v1.7h-14.8zM105 223.7h14.8v1.7h-14.8zM119.7 225h14.8v1.7h-14.8zM134.5 226.3h14.8v1.7h-14.8zM134.5 227.7h14.8v1.7h-14.8zM75.6 229h14.8v1.7h-14.8zM119.7 229h14.8v1.7h-14.8zM149.2 230.3h14.8v1.7h-14.8zM105 242.3h14.8v1.7h-14.8zM134.5 267.5h14.8v1.7h-14.8zM149.2 268.8h14.8v1.7h-14.8zM163.9 271.4h14.8v1.7h-14.8zM90.3 272.8h14.8v1.7h-14.8zM149.2 272.8h14.8v1.7h-14.8zM119.7 276.8h14.8v1.7h-14.8zM90.3 278.1h14.8v1.7h-14.8zM134.5 278.1h14.8v1.7h-14.8zM75.6 283.4h14.8v1.7h-14.8zM149.2 284.7h14.8v1.7h-14.8zM149.2 286h29.5v1.7h-29.5zM119.7 287.4h14.8v1.7h-14.8zM163.9 291.4h14.8v1.7h-14.8zM75.6 294h29.5v1.7h-29.5zM75.6 296.7h14.8v1.7h-14.8zM90.3 299.3h14.8v1.7h-14.8zM75.6 302h14.8v1.7h-14.8zM75.6 304.6h14.8v1.7h-14.8zM90.3 321.9h14.8v1.7h-14.8z"/>
<path fill="#f4c89c" d="M134.5 117.5h14.8v1.7h-14.8zM134.5 118.8h14.8v1.7h-14.8zM105 150.7h14.8v1.7h-14.8z"/>
<path fill="#fdf8f0" d="M149.2 117.5h14.8v1.7h-14.8zM105 120.2h29.5v1.7h-29.5zM75.6 121.5h14.8v1.7h-14.8zM75.6 122.8h29.5v1.7h-29.5zM163.9 124.1h14.8v1.7h-14.8zM105 125.5h14.8v1.7h-14.8zM105 129.5h14.8v1.7h-14.8zM75.6 130.8h14.8v1.7h-14.8zM163.9 130.8h14.8v1.7h-14.8zM149.2 133.4h14.8v1.7h-14.8zM105 134.8h14.8v1.7h-14.8zM75.6 136.1h14.8v1.7h-14.8zM134.5 140.1h29.5v1.7h-29.5zM119.7 141.4h14.8v1.7h-14.8zM163.9 141.4h14.8v1.7h-14.8zM119.7 144.1h14.8v1.7h-14.8zM163.9 144.1h14.8v1.7h-14.8zM105 145.4h14.8v1.7h-14.8zM149.2 145.4h14.8v1.7h-14.8zM119.7 146.7h14.8v1.7h-14.8zM119.7 148h14.8v1.7h-14.8zM163.9 148h14.8v1.7h-14.8zM90.3 149.4h14.8v1.7h-14.8zM163.9 149.4h14.8v1.7h-14.8zM75.6 150.7h14.8v1.7h-14.8zM119.7 154.7h14.8v1.7h-14.8zM90.3 156h14.8v1.7h-14.8zM75.6 160h14.8v1.7h-14.8zM119.7 160h14.8v1.7h-14.8zM90.3 162.6h14.8v1.7h-14.8zM163.9 162.6h14.8v1.7h-14.8zM134.5 164h14.8v1.7h-14.8zM90.3 165.3h14.8v1.7h-14.8zM119.7 166.6h14.8v1.7h-14.8zM163.9 167.9h14.8v1.7h-14.8zM105 170.6h14.8v1.7h-14.8zM134.5 182.5h14.8v1.7h-14.8zM149.2 185.2h29.5v1.7h-29.5zM75.6 186.5h14.8v1.7h-14.8zM119.7 189.2h14.8v1.7h-14.8zM90.3 191.8h14.8v1.7h-14.8zM75.6 195.8h14.8v1.7h-14.8zM75.6 198.5h14.8v1.7h-14.8zM75.6 201.1h29.5v1.7h-29.5zM149.2 201.1h29.5v1.7h-29.5zM90.3 205.1h14.8v1.7h-14.8zM149.2 205.1h14.8v1.7h-14.8zM134.5 207.8h14.8v1.7h-14.8zM75.6 209.1h29.5v1.7h-29.5zM134.5 210.4h14.8v1.7h-14.8zM75.6 214.4h14.8v1.7h-14.8zM163.9 218.4h14.8v1.7h-14.8zM105 222.3h14.8v1.7h-14.8zM75.6 231.6h14.8v1.7h-14.8zM105 235.6h14.8v1.7h-14.8zM134.5 248.9h14.8v1.7h-14.8zM105 251.5h14.8v1.7h-14.8zM149.2 256.9h14.8v1.7h-14.8zM149.2 258.2h14.8v1.7h-14.8zM134.5 263.5h14.8v1.7h-14.8zM149.2 264.8h14.8v1.7h-14.8zM134.5 270.1h14.8v1.7h-14.8zM90.3 271.4h14.8v1.7h-14.8zM119.7 271.4h14.8v1.7h-14.8zM119.7 272.8h14.8v1.7h-14.8zM105 279.4h14.8v1.7h-14.8zM119.7 284.7h14.8v1.7h-14.8zM119.7 286h14.8v1.7h-14.8zM119.7 291.4h14.8v1.7h-14.8zM75.6 295.3h14.8v1.7h-14.8zM75.6 303.3h14.8v1.7h-14.8zM90.3 309.9h14.8v1.7h-14.8zM90.3 312.6h14.8v1.7h-14.8zM75.6 331.2h14.8v1.7h-14.8zM105 348.4h14.8v1.7h-14.8z"/>
<path fill="#fdf4e8" d="M75.6 118.8h29.5v1.7h-29.5zM149.2 118.8h14.8v1.7h-14.8zM105 124.1h14.8v1.7h-14.8zM134.5 124.1h14.8v1.7h-14.8zM134.5 125.5h14.8v1.7h-14.8zM119.7 129.5h14.8v1.7h-14.8zM163.9 129.5h14.8v1.7h-14.8zM163.9 132.1h14.8v1.7h-14.8zM149.2 149.4h14.8v1.7h-14.8zM105 153.3h29.5v1.7h-29.5zM163.9 157.3h14.8v1.7h-14.8zM90.3 161.3h14.8v1.7h-14.8zM105 171.9h14.8v1.7h-14.8zM119.7 187.8h29.5v1.7h-29.5zM90.3 193.2h14.8v1.7h-14.8zM119.7 197.1h14.8v1.7h-14.8zM163.9 206.4h14.8v1.7h-14.8zM119.7 209.1h14.8v1.7h-14.8zM105 225h14.8v1.7h-14.8zM163.9 229h14.8v1.7h-14.8z"/>
<path fill="#f0f0f4" d="M105 118.8h14.8v1.7h-14.8zM75.6 165.3h14.8v1.7h-14.8zM90.3 166.6h14.8v1.7h-14.8zM90.3 190.5h14.8v1.7h-14.8zM105 202.4h14.8v1.7h-14.8zM119.7 214.4h14.8v1.7h-14.8zM75.6 223.7h14.8v1.7h-14.8zM149.2 226.3h14.8v1.7h-14.8zM149.2 279.4h14.8v1.7h-14.8zM149.2 283.4h14.8v1.7h-14.8zM75.6 288.7h14.8v1.7h-14.8zM105 291.4h14.8v1.7h-14.8zM75.6 298h14.8v1.7h-14.8zM134.5 302h29.5v1.7h-29.5zM119.7 303.3h14.8v1.7h-14.8zM149.2 304.6h14.8v1.7h-14.8zM163.9 306h14.8v1.7h-14.8zM163.9 307.3h14.8v1.7h-14.8zM134.5 308.6h29.5v1.7h-29.5zM105 309.9h14.8v1.7h-14.8zM134.5 309.9h14.8v1.7h-14.8zM134.5 313.9h14.8v1.7h-14.8zM163.9 315.2h14.8v1.7h-14.8zM105 316.6h14.8v1.7h-14.8zM134.5 320.6h14.8v1.7h-14.8zM163.9 320.6h14.8v1.7h-14.8zM75.6 321.9h14.8v1.7h-14.8zM90.3 325.9h14.8v1.7h-14.8zM163.9 325.9h14.8v1.7h-14.8zM75.6 328.5h14.8v1.7h-14.8zM90.3 329.8h14.8v1.7h-14.8zM90.3 331.2h14.8v1.7h-14.8zM75.6 343.1h14.8v1.7h-14.8zM75.6 349.7h14.8v1.7h-14.8zM105 356.4h14.8v1.7h-14.8z"/>
<path fill="#f8cca8" d="M163.9 118.8h14.8v1.7h-14.8zM163.9 120.2h14.8v1.7h-14.8zM90.3 124.1h14.8v1.7h-14.8z"/>
<path fill="#faf8f4" d="M90.3 121.5h14.8v1.7h-14.8zM134.5 148h14.8v1.7h-14.8zM149.2 160h14.8v1.7h-14.8zM134.5 162.6h14.8v1.7h-14.8zM119.7 179.9h14.8v1.7h-14.8zM105 199.8h14.8v1.7h-14.8zM134.5 214.4h14.8v1.7h-14.8zM149.2 225h14.8v1.7h-14.8zM134.5 250.2h14.8v1.7h-14.8zM119.7 252.9h14.8v1.7h-14.8zM105 266.1h14.8v1.7h-14.8zM105 290h14.8v1.7h-14.8zM119.7 300.6h14.8v1.7h-14.8zM75.6 325.9h14.8v1.7h-14.8z"/>
<path fill="#d4d4e8" d="M134.5 121.5h14.8v1.7h-14.8zM105 183.9h14.8v1.7h-14.8zM163.9 234.3h14.8v1.7h-14.8zM90.3 246.2h14.8v1.7h-14.8zM163.9 252.9h14.8v1.7h-14.8zM90.3 262.2h14.8v1.7h-14.8zM149.2 343.1h14.8v1.7h-14.8zM134.5 347.1h14.8v1.7h-14.8zM75.6 361.7h14.8v1.7h-14.8z"/>
<path fill="#f4f4f4" d="M149.2 121.5h14.8v1.7h-14.8zM90.3 134.8h14.8v1.7h-14.8zM75.6 149.4h14.8v1.7h-14.8zM149.2 153.3h14.8v1.7h-14.8zM134.5 160h14.8v1.7h-14.8zM105 165.3h14.8v1.7h-14.8zM119.7 171.9h14.8v1.7h-14.8zM90.3 177.2h14.8v1.7h-14.8zM75.6 191.8h14.8v1.7h-14.8zM149.2 194.5h14.8v1.7h-14.8zM75.6 197.1h14.8v1.7h-14.8zM119.7 198.5h29.5v1.7h-29.5zM75.6 211.7h14.8v1.7h-14.8zM119.7 213.1h14.8v1.7h-14.8zM119.7 218.4h14.8v1.7h-14.8zM90.3 221h14.8v1.7h-14.8zM119.7 222.3h29.5v1.7h-29.5zM90.3 223.7h14.8v1.7h-14.8zM105 226.3h14.8v1.7h-14.8zM75.6 254.2h14.8v1.7h-14.8zM75.6 260.8h14.8v1.7h-14.8zM163.9 264.8h14.8v1.7h-14.8zM134.5 274.1h14.8v1.7h-14.8zM134.5 275.4h14.8v1.7h-14.8zM163.9 275.4h14.8v1.7h-14.8zM119.7 280.7h14.8v1.7h-14.8zM90.3 284.7h14.8v1.7h-14.8zM90.3 286h14.8v1.7h-14.8zM119.7 290h14.8v1.7h-14.8zM134.5 298h14.8v1.7h-14.8zM119.7 304.6h14.8v1.7h-14.8zM75.6 309.9h14.8v1.7h-14.8zM119.7 313.9h14.8v1.7h-14.8zM90.3 316.6h14.8v1.7h-14.8zM134.5 317.9h14.8v1.7h-14.8zM163.9 317.9h14.8v1.7h-14.8zM90.3 320.6h14.8v1.7h-14.8zM119.7 320.6h14.8v1.7h-14.8zM75.6 324.5h14.8v1.7h-14.8zM75.6 335.2h14.8v1.7h-14.8zM75.6 345.8h14.8v1.7h-14.8z"/>
<path fill="#fcf0e0" d="M163.9 121.5h14.8v1.7h-14.8zM90.3 125.5h14.8v1.7h-14.8zM149.2 128.1h14.8v1.7h-14.8zM149.2 136.1h14.8v1.7h-14.8zM134.5 137.4h14.8v1.7h-14.8zM163.9 140.1h14.8v1.7h-14.8zM163.9 160h14.8v1.7h-14.8zM163.9 175.9h14.8v1.7h-14.8zM75.6 177.2h14.8v1.7h-14.8zM105 177.2h14.8v1.7h-14.8zM163.9 179.9h14.8v1.7h-14.8zM119.7 194.5h14.8v1.7h-14.8zM163.9 195.8h14.8v1.7h-14.8zM134.5 218.4h14.8v1.7h-14.8zM134.5 240.9h14.8v1.7h-14.8zM105 254.2h14.8v1.7h-14.8z"/>
<path fill="#f8cca4" d="M149.2 122.8h14.8v1.7h-14.8z"/>
<path fill="#cccce8" d="M75.6 126.8h14.8v1.7h-14.8zM163.9 227.7h14.8v1.7h-14.8zM149.2 236.9h14.8v1.7h-14.8zM75.6 282.1h14.8v1.7h-14.8zM149.2 333.8h14.8v1.7h-14.8zM90.3 351.1h14.8v1.7h-14.8zM163.9 355.1h14.8v1.7h-14.8z"/>
<path fill="#fbe8d8" d="M105 126.8h14.8v1.7h-14.8zM163.9 154.7h14.8v1.7h-14.8zM105 185.2h14.8v1.7h-14.8zM149.2 219.7h14.8v1.7h-14.8z"/>
<path fill="#f8d4b4" d="M134.5 126.8h14.8v1.7h-14.8zM134.5 128.1h14.8v1.7h-14.8zM134.5 129.5h14.8v1.7h-14.8zM134.5 130.8h14.8v1.7h-14.8zM134.5 132.1h14.8v1.7h-14.8zM105 144.1h14.8v1.7h-14.8zM90.3 164h14.8v1.7h-14.8z"/>
<path fill="#fcf8f4" d="M75.6 128.1h14.8v1.7h-14.8zM105 132.1h14.8v1.7h-14.8zM134.5 133.4h14.8v1.7h-14.8zM119.7 137.4h14.8v1.7h-14.8zM75.6 145.4h14.8v1.7h-14.8zM149.2 165.3h14.8v1.7h-14.8zM75.6 173.2h14.8v1.7h-14.8zM149.2 179.9h14.8v1.7h-14.8zM134.5 186.5h14.8v1.7h-14.8zM90.3 187.8h14.8v1.7h-14.8zM134.5 199.8h14.8v1.7h-14.8zM90.3 207.8h29.5v1.7h-29.5zM105 217h14.8v1.7h-14.8zM105 218.4h14.8v1.7h-14.8zM163.9 226.3h14.8v1.7h-14.8zM90.3 227.7h14.8v1.7h-14.8zM134.5 251.5h14.8v1.7h-14.8zM105 255.5h14.8v1.7h-14.8zM75.6 259.5h14.8v1.7h-14.8zM149.2 270.1h14.8v1.7h-14.8zM134.5 271.4h14.8v1.7h-14.8zM105 278.1h14.8v1.7h-14.8zM105 284.7h14.8v1.7h-14.8zM105 317.9h14.8v1.7h-14.8zM163.9 323.2h14.8v1.7h-14.8zM163.9 328.5h14.8v1.7h-14.8z"/>
<path fill="#fcf0e8" d="M119.7 128.1h14.8v1.7h-14.8zM75.6 132.1h14.8v1.7h-14.8zM119.7 138.7h14.8v1.7h-14.8zM149.2 154.7h14.8v1.7h-14.8zM149.2 156h14.8v1.7h-14.8zM134.5 158.6h14.8v1.7h-14.8zM149.2 169.3h29.5v1.7h-29.5zM75.6 174.6h14.8v1.7h-14.8zM163.9 197.1h14.8v1.7h-14.8zM149.2 198.5h14.8v1.7h-14.8zM105 211.7h14.8v1.7h-14.8zM149.2 215.7h14.8v1.7h-14.8z"/>
<path fill="#c4c4e0" d="M75.6 129.5h14.8v1.7h-14.8zM163.9 215.7h14.8v1.7h-14.8zM134.5 229h14.8v1.7h-14.8zM163.9 240.9h14.8v1.7h-14.8zM163.9 250.2h14.8v1.7h-14.8zM163.9 254.2h14.8v1.7h-14.8zM163.9 258.2h14.8v1.7h-14.8zM119.7 260.8h14.8v1.7h-14.8zM163.9 260.8h14.8v1.7h-14.8zM90.3 264.8h14.8v1.7h-14.8zM75.6 268.8h14.8v1.7h-14.8zM75.6 275.4h14.8v1.7h-14.8zM75.6 311.3h14.8v1.7h-14.8zM90.3 315.2h14.8v1.7h-14.8zM149.2 323.2h14.8v1.7h-14.8z"/>
<path fill="#3c409c" d="M90.3 129.5h14.8v1.7h-14.8zM90.3 130.8h14.8v1.7h-14.8zM149.2 360.4h14.8v1.7h-14.8zM134.5 364.3h14.8v1.7h-14.8z"/>
<path fill="#fce8d8" d="M105 130.8h14.8v1.7h-14.8zM163.9 134.8h14.8v1.7h-14.8zM163.9 136.1h14.8v1.7h-14.8zM134.5 152h14.8v1.7h-14.8zM105 186.5h14.8v1.7h-14.8zM149.2 211.7h14.8v1.7h-14.8zM105 213.1h14.8v1.7h-14.8z"/>
<path fill="#e0e0f0" d="M105 133.4h14.8v1.7h-14.8zM134.5 150.7h14.8v1.7h-14.8zM105 152h14.8v1.7h-14.8zM149.2 195.8h14.8v1.7h-14.8zM163.9 203.8h14.8v1.7h-14.8zM90.3 233h14.8v1.7h-14.8zM149.2 296.7h14.8v1.7h-14.8zM119.7 302h14.8v1.7h-14.8zM149.2 306h14.8v1.7h-14.8zM149.2 312.6h14.8v1.7h-14.8zM163.9 316.6h14.8v1.7h-14.8zM149.2 320.6h14.8v1.7h-14.8zM149.2 325.9h14.8v1.7h-14.8zM90.3 337.8h14.8v1.7h-14.8zM90.3 340.5h14.8v1.7h-14.8zM90.3 343.1h14.8v1.7h-14.8zM90.3 349.7h14.8v1.7h-14.8zM163.9 349.7h14.8v1.7h-14.8zM163.9 351.1h14.8v1.7h-14.8zM105 359h14.8v1.7h-14.8zM75.6 363h14.8v1.7h-14.8z"/>
<path fill="#f8f8f4" d="M119.7 134.8h14.8v1.7h-14.8zM90.3 142.7h14.8v1.7h-14.8zM119.7 142.7h14.8v1.7h-14.8zM75.6 156h14.8v1.7h-14.8zM105 169.3h14.8v1.7h-14.8zM149.2 177.2h14.8v1.7h-14.8zM134.5 179.9h14.8v1.7h-14.8zM149.2 181.2h29.5v1.7h-29.5zM149.2 182.5h14.8v1.7h-14.8zM105 190.5h14.8v1.7h-14.8zM105 191.8h14.8v1.7h-14.8zM149.2 193.2h14.8v1.7h-14.8zM105 194.5h14.8v1.7h-14.8zM134.5 194.5h14.8v1.7h-14.8zM90.3 202.4h14.8v1.7h-14.8zM119.7 202.4h14.8v1.7h-14.8zM75.6 205.1h14.8v1.7h-14.8zM119.7 207.8h14.8v1.7h-14.8zM90.3 213.1h14.8v1.7h-14.8zM134.5 213.1h14.8v1.7h-14.8zM105 214.4h14.8v1.7h-14.8zM90.3 217h14.8v1.7h-14.8zM163.9 217h14.8v1.7h-14.8zM75.6 221h14.8v1.7h-14.8zM90.3 226.3h14.8v1.7h-14.8zM105 227.7h14.8v1.7h-14.8zM90.3 229h14.8v1.7h-14.8zM149.2 229h14.8v1.7h-14.8zM149.2 252.9h14.8v1.7h-14.8zM105 258.2h14.8v1.7h-14.8zM105 259.5h14.8v1.7h-14.8zM149.2 275.4h14.8v1.7h-14.8zM119.7 278.1h14.8v1.7h-14.8zM149.2 280.7h14.8v1.7h-14.8zM90.3 290h14.8v1.7h-14.8zM163.9 304.6h14.8v1.7h-14.8zM90.3 307.3h14.8v1.7h-14.8zM119.7 311.3h14.8v1.7h-14.8zM119.7 315.2h14.8v1.7h-14.8zM90.3 317.9h14.8v1.7h-14.8zM90.3 324.5h14.8v1.7h-14.8zM75.6 327.2h14.8v1.7h-14.8zM75.6 332.5h14.8v1.7h-14.8zM75.6 336.5h14.8v1.7h-14.8z"/>
<path fill="#f8d0b0" d="M90.3 136.1h14.8v1.7h-14.8z"/>
<path fill="#b8b8dc" d="M75.6 137.4h14.8v1.7h-14.8zM119.7 178.6h14.8v1.7h-14.8zM105 198.5h14.8v1.7h-14.8zM105 239.6h14.8v1.7h-14.8zM163.9 251.5h14.8v1.7h-14.8zM105 268.8h14.8v1.7h-14.8zM163.9 276.8h14.8v1.7h-14.8zM105 292.7h14.8v1.7h-14.8zM163.9 295.3h14.8v1.7h-14.8zM90.3 302h14.8v1.7h-14.8zM90.3 304.6h14.8v1.7h-14.8zM149.2 331.2h14.8v1.7h-14.8zM149.2 347.1h14.8v1.7h-14.8zM90.3 357.7h14.8v1.7h-14.8z"/>
<path fill="#d0d0e8" d="M75.6 140.1h14.8v1.7h-14.8zM90.3 170.6h14.8v1.7h-14.8zM163.9 209.1h14.8v1.7h-14.8zM163.9 214.4h14.8v1.7h-14.8zM149.2 222.3h14.8v1.7h-14.8zM149.2 223.7h14.8v1.7h-14.8zM149.2 235.6h14.8v1.7h-14.8zM149.2 238.3h14.8v1.7h-14.8zM134.5 244.9h14.8v1.7h-14.8zM75.6 290h14.8v1.7h-14.8zM149.2 327.2h14.8v1.7h-14.8zM149.2 332.5h14.8v1.7h-14.8zM134.5 337.8h14.8v1.7h-14.8zM149.2 345.8h14.8v1.7h-14.8zM134.5 349.7h14.8v1.7h-14.8z"/>
<path fill="#dcdcec" d="M105 141.4h14.8v1.7h-14.8zM105 166.6h14.8v1.7h-14.8zM134.5 169.3h14.8v1.7h-14.8zM105 174.6h14.8v1.7h-14.8zM105 206.4h14.8v1.7h-14.8zM163.9 259.5h14.8v1.7h-14.8zM119.7 262.2h14.8v1.7h-14.8zM90.3 268.8h14.8v1.7h-14.8zM149.2 307.3h14.8v1.7h-14.8zM134.5 331.2h14.8v1.7h-14.8zM134.5 339.1h14.8v1.7h-14.8zM134.5 345.8h14.8v1.7h-14.8zM105 347.1h14.8v1.7h-14.8zM119.7 348.4h14.8v1.7h-14.8zM119.7 356.4h14.8v1.7h-14.8z"/>
<path fill="#a0a0d0" d="M134.5 141.4h14.8v1.7h-14.8zM163.9 186.5h14.8v1.7h-14.8zM134.5 264.8h14.8v1.7h-14.8zM75.6 279.4h14.8v1.7h-14.8zM119.7 294h14.8v1.7h-14.8zM119.7 299.3h14.8v1.7h-14.8zM90.3 303.3h14.8v1.7h-14.8zM75.6 313.9h14.8v1.7h-14.8zM105 321.9h14.8v1.7h-14.8zM119.7 339.1h14.8v1.7h-14.8zM163.9 345.8h14.8v1.7h-14.8zM149.2 357.7h14.8v1.7h-14.8zM90.3 364.3h14.8v1.7h-14.8z"/>
<path fill="#fae0c8" d="M163.9 142.7h14.8v1.7h-14.8zM163.9 161.3h14.8v1.7h-14.8z"/>
<path fill="#f4c8a4" d="M134.5 145.4h14.8v1.7h-14.8zM75.6 158.6h14.8v1.7h-14.8z"/>
<path fill="#acacd8" d="M149.2 150.7h14.8v1.7h-14.8zM90.3 183.9h14.8v1.7h-14.8zM90.3 185.2h14.8v1.7h-14.8zM105 197.1h14.8v1.7h-14.8zM119.7 226.3h14.8v1.7h-14.8zM75.6 248.9h14.8v1.7h-14.8zM149.2 263.5h14.8v1.7h-14.8zM105 270.1h14.8v1.7h-14.8zM105 282.1h14.8v1.7h-14.8zM149.2 282.1h14.8v1.7h-14.8zM149.2 287.4h14.8v1.7h-14.8zM119.7 296.7h14.8v1.7h-14.8zM149.2 299.3h14.8v1.7h-14.8zM134.5 316.6h14.8v1.7h-14.8zM119.7 323.2h14.8v1.7h-14.8zM105 328.5h14.8v1.7h-14.8z"/>
<path fill="#f8d8bc" d="M75.6 153.3h14.8v1.7h-14.8z"/>
<path fill="#f8d0ac" d="M134.5 156h14.8v1.7h-14.8z"/>
<path fill="#f8d8b8" d="M149.2 157.3h14.8v1.7h-14.8z"/>
<path fill="#cccce4" d="M163.9 158.6h14.8v1.7h-14.8zM105 229h14.8v1.7h-14.8zM149.2 341.8h14.8v1.7h-14.8zM75.6 353.7h14.8v1.7h-14.8zM119.7 357.7h14.8v1.7h-14.8z"/>
<path fill="#f4c8a0" d="M119.7 161.3h14.8v1.7h-14.8z"/>
<path fill="#acacd4" d="M119.7 169.3h14.8v1.7h-14.8zM105 243.6h14.8v1.7h-14.8zM149.2 288.7h14.8v1.7h-14.8zM105 331.2h14.8v1.7h-14.8z"/>
<path fill="#fcecd8" d="M75.6 170.6h14.8v1.7h-14.8zM134.5 177.2h14.8v1.7h-14.8zM119.7 215.7h14.8v1.7h-14.8zM163.9 223.7h14.8v1.7h-14.8z"/>
<path fill="#b4b4dc" d="M134.5 170.6h14.8v1.7h-14.8zM163.9 199.8h14.8v1.7h-14.8zM119.7 244.9h14.8v1.7h-14.8zM163.9 284.7h14.8v1.7h-14.8zM119.7 298h14.8v1.7h-14.8zM105 303.3h14.8v1.7h-14.8zM149.2 355.1h14.8v1.7h-14.8zM90.3 359h14.8v1.7h-14.8z"/>
<path fill="#bcbcdc" d="M119.7 174.6h14.8v1.7h-14.8zM105 244.9h14.8v1.7h-14.8zM134.5 247.6h14.8v1.7h-14.8zM163.9 263.5h14.8v1.7h-14.8zM163.9 283.4h14.8v1.7h-14.8zM75.6 315.2h14.8v1.7h-14.8z"/>
<path fill="#9898cc" d="M75.6 175.9h14.8v1.7h-14.8zM75.6 181.2h14.8v1.7h-14.8zM134.5 203.8h14.8v1.7h-14.8zM75.6 292.7h14.8v1.7h-14.8zM134.5 294h14.8v1.7h-14.8zM163.9 303.3h14.8v1.7h-14.8zM119.7 321.9h14.8v1.7h-14.8zM105 324.5h14.8v1.7h-14.8zM149.2 349.7h14.8v1.7h-14.8zM90.3 361.7h14.8v1.7h-14.8z"/>
<path fill="#c4c4e4" d="M134.5 178.6h14.8v1.7h-14.8zM75.6 182.5h14.8v1.7h-14.8zM119.7 210.4h14.8v1.7h-14.8zM90.3 242.3h14.8v1.7h-14.8zM163.9 243.6h14.8v1.7h-14.8zM163.9 248.9h14.8v1.7h-14.8zM134.5 252.9h14.8v1.7h-14.8zM163.9 266.1h14.8v1.7h-14.8zM75.6 274.1h14.8v1.7h-14.8zM90.3 287.4h14.8v1.7h-14.8zM90.3 306h14.8v1.7h-14.8zM149.2 319.2h14.8v1.7h-14.8zM119.7 360.4h14.8v1.7h-14.8z"/>
<path fill="#a4a4d4" d="M105 181.2h14.8v1.7h-14.8zM105 209.1h14.8v1.7h-14.8zM75.6 278.1h14.8v1.7h-14.8zM163.9 298h14.8v1.7h-14.8zM134.5 306h14.8v1.7h-14.8zM90.3 313.9h14.8v1.7h-14.8zM119.7 316.6h14.8v1.7h-14.8zM75.6 317.9h14.8v1.7h-14.8zM163.9 337.8h14.8v1.7h-14.8zM90.3 363h14.8v1.7h-14.8zM119.7 364.3h14.8v1.7h-14.8zM149.2 364.3h14.8v1.7h-14.8z"/>
<path fill="#b0b0d8" d="M75.6 183.9h14.8v1.7h-14.8zM163.9 202.4h14.8v1.7h-14.8zM163.9 238.3h14.8v1.7h-14.8zM163.9 239.6h14.8v1.7h-14.8zM149.2 250.2h14.8v1.7h-14.8zM90.3 266.1h14.8v1.7h-14.8zM90.3 288.7h14.8v1.7h-14.8zM163.9 288.7h14.8v1.7h-14.8zM149.2 290h14.8v1.7h-14.8zM90.3 300.6h14.8v1.7h-14.8zM105 302h14.8v1.7h-14.8zM105 304.6h14.8v1.7h-14.8zM163.9 312.6h14.8v1.7h-14.8zM105 329.8h14.8v1.7h-14.8zM105 333.8h14.8v1.7h-14.8zM134.5 356.4h14.8v1.7h-14.8z"/>
<path fill="#fae4cc" d="M105 189.2h14.8v1.7h-14.8zM163.9 193.2h14.8v1.7h-14.8z"/>
<path fill="#fbe4cc" d="M163.9 189.2h14.8v1.7h-14.8z"/>
<path fill="#bcbce0" d="M134.5 209.1h14.8v1.7h-14.8zM75.6 230.3h14.8v1.7h-14.8zM75.6 235.6h14.8v1.7h-14.8zM134.5 266.1h14.8v1.7h-14.8zM105 271.4h14.8v1.7h-14.8zM75.6 276.8h14.8v1.7h-14.8zM119.7 295.3h14.8v1.7h-14.8zM75.6 319.2h14.8v1.7h-14.8zM90.3 360.4h14.8v1.7h-14.8zM105 364.3h14.8v1.7h-14.8zM75.6 365.7h14.8v1.7h-14.8z"/>
<path fill="#dcdcf0" d="M149.2 217h14.8v1.7h-14.8zM163.9 247.6h14.8v1.7h-14.8zM149.2 315.2h14.8v1.7h-14.8zM134.5 319.2h14.8v1.7h-14.8zM134.5 336.5h14.8v1.7h-14.8zM75.6 360.4h14.8v1.7h-14.8z"/>
<path fill="#f4f0f4" d="M105 221h14.8v1.7h-14.8zM90.3 222.3h14.8v1.7h-14.8zM75.6 226.3h14.8v1.7h-14.8zM134.5 272.8h14.8v1.7h-14.8zM163.9 292.7h14.8v1.7h-14.8zM149.2 294h14.8v1.7h-14.8zM149.2 298h14.8v1.7h-14.8zM105 313.9h14.8v1.7h-14.8zM90.3 327.2h14.8v1.7h-14.8zM90.3 339.1h14.8v1.7h-14.8zM75.6 344.4h14.8v1.7h-14.8z"/>
<path fill="#6064b4" d="M134.5 223.7h14.8v1.7h-14.8zM90.3 348.4h14.8v1.7h-14.8z"/>
<path fill="#7878c0" d="M75.6 233h14.8v1.7h-14.8z"/>
<path fill="#8c8cc8" d="M75.6 240.9h14.8v1.7h-14.8zM105 306h14.8v1.7h-14.8zM105 311.3h14.8v1.7h-14.8zM119.7 324.5h14.8v1.7h-14.8zM119.7 325.9h14.8v1.7h-14.8zM134.5 332.5h14.8v1.7h-14.8zM119.7 337.8h14.8v1.7h-14.8zM105 343.1h14.8v1.7h-14.8zM163.9 343.1h14.8v1.7h-14.8zM105 345.8h14.8v1.7h-14.8zM119.7 363h14.8v1.7h-14.8z"/>
<path fill="#e4e4f0" d="M163.9 242.3h14.8v1.7h-14.8zM149.2 295.3h14.8v1.7h-14.8zM134.5 299.3h14.8v1.7h-14.8zM149.2 300.6h14.8v1.7h-14.8zM149.2 309.9h14.8v1.7h-14.8zM134.5 311.3h14.8v1.7h-14.8zM119.7 312.6h14.8v1.7h-14.8zM105 320.6h14.8v1.7h-14.8zM90.3 332.5h14.8v1.7h-14.8zM105 336.5h14.8v1.7h-14.8zM134.5 341.8h14.8v1.7h-14.8zM119.7 343.1h14.8v1.7h-14.8zM75.6 352.4h14.8v1.7h-14.8zM163.9 352.4h14.8v1.7h-14.8z"/>
<path fill="#d4d4ec" d="M119.7 246.2h14.8v1.7h-14.8zM90.3 267.5h14.8v1.7h-14.8zM149.2 321.9h14.8v1.7h-14.8zM149.2 324.5h14.8v1.7h-14.8zM134.5 343.1h14.8v1.7h-14.8zM134.5 344.4h14.8v1.7h-14.8zM75.6 359h14.8v1.7h-14.8z"/>
<path fill="#b4b4d8" d="M149.2 246.2h14.8v1.7h-14.8zM163.9 365.7h14.8v1.7h-14.8z"/>
<path fill="#6c6cb8" d="M90.3 254.2h14.8v1.7h-14.8zM119.7 349.7h14.8v1.7h-14.8zM149.2 351.1h14.8v1.7h-14.8z"/>
<path fill="#a8a8d4" d="M75.6 266.1h14.8v1.7h-14.8zM119.7 268.8h14.8v1.7h-14.8zM75.6 280.7h14.8v1.7h-14.8zM119.7 283.4h14.8v1.7h-14.8zM163.9 290h14.8v1.7h-14.8zM105 296.7h14.8v1.7h-14.8zM163.9 296.7h14.8v1.7h-14.8zM105 299.3h14.8v1.7h-14.8zM163.9 302h14.8v1.7h-14.8zM105 307.3h14.8v1.7h-14.8zM105 308.6h14.8v1.7h-14.8zM163.9 311.3h14.8v1.7h-14.8zM134.5 312.6h14.8v1.7h-14.8zM119.7 317.9h14.8v1.7h-14.8zM105 325.9h14.8v1.7h-14.8zM163.9 329.8h14.8v1.7h-14.8zM90.3 335.2h14.8v1.7h-14.8zM149.2 356.4h14.8v1.7h-14.8zM134.5 357.7h14.8v1.7h-14.8z"/>
<path fill="#fdf8ec" d="M149.2 267.5h14.8v1.7h-14.8z"/>
<path fill="#9090cc" d="M134.5 279.4h14.8v1.7h-14.8zM134.5 280.7h14.8v1.7h-14.8zM134.5 282.1h14.8v1.7h-14.8zM134.5 283.4h14.8v1.7h-14.8zM134.5 284.7h14.8v1.7h-14.8zM105 286h14.8v1.7h-14.8zM134.5 286h14.8v1.7h-14.8zM134.5 292.7h14.8v1.7h-14.8zM75.6 339.1h14.8v1.7h-14.8zM163.9 340.5h14.8v1.7h-14.8zM90.3 345.8h14.8v1.7h-14.8zM163.9 347.1h14.8v1.7h-14.8zM75.6 351.1h14.8v1.7h-14.8zM105 351.1h14.8v1.7h-14.8z"/>
<path fill="#a4a4d0" d="M105 283.4h14.8v1.7h-14.8zM134.5 303.3h14.8v1.7h-14.8z"/>
<path fill="#9898d0" d="M105 287.4h14.8v1.7h-14.8zM149.2 292.7h14.8v1.7h-14.8zM105 300.6h14.8v1.7h-14.8zM75.6 320.6h14.8v1.7h-14.8z"/>
<path fill="#e8e8f4" d="M134.5 291.4h29.5v1.7h-29.5zM163.9 300.6h14.8v1.7h-14.8zM119.7 308.6h14.8v1.7h-14.8zM119.7 309.9h14.8v1.7h-14.8zM149.2 311.3h14.8v1.7h-14.8zM149.2 317.9h14.8v1.7h-14.8zM105 319.2h14.8v1.7h-14.8zM134.5 323.2h14.8v1.7h-14.8zM163.9 324.5h14.8v1.7h-14.8zM163.9 327.2h14.8v1.7h-14.8zM90.3 328.5h14.8v1.7h-14.8zM75.6 329.8h14.8v1.7h-14.8zM163.9 331.2h14.8v1.7h-14.8zM163.9 335.2h14.8v1.7h-14.8zM134.5 340.5h14.8v1.7h-14.8zM119.7 347.1h14.8v1.7h-14.8zM105 357.7h14.8v1.7h-14.8z"/>
<path fill="#9090c8" d="M105 294h14.8v1.7h-14.8zM105 312.6h14.8v1.7h-14.8zM149.2 363h14.8v1.7h-14.8z"/>
<path fill="#8484c4" d="M134.5 295.3h14.8v1.7h-14.8zM134.5 325.9h14.8v1.7h-14.8zM163.9 332.5h14.8v1.7h-14.8zM163.9 333.8h14.8v1.7h-14.8zM163.9 359h14.8v1.7h-14.8z"/>
<path fill="#8080c4" d="M134.5 296.7h14.8v1.7h-14.8zM119.7 327.2h14.8v1.7h-14.8zM119.7 328.5h14.8v1.7h-14.8zM119.7 329.8h14.8v1.7h-14.8zM119.7 331.2h14.8v1.7h-14.8zM119.7 332.5h14.8v1.7h-14.8zM119.7 333.8h14.8v1.7h-14.8zM149.2 335.2h14.8v1.7h-14.8zM119.7 336.5h14.8v1.7h-14.8zM149.2 336.5h14.8v1.7h-14.8zM105 339.1h14.8v1.7h-14.8zM149.2 339.1h29.5v1.7h-29.5zM105 349.7h14.8v1.7h-14.8zM119.7 352.4h14.8v1.7h-14.8zM119.7 355.1h14.8v1.7h-14.8zM75.6 356.4h14.8v1.7h-14.8zM134.5 365.7h14.8v1.7h-14.8z"/>
<path fill="#8888c8" d="M163.9 299.3h14.8v1.7h-14.8zM134.5 307.3h14.8v1.7h-14.8zM163.9 313.9h14.8v1.7h-14.8zM105 327.2h14.8v1.7h-14.8zM134.5 327.2h14.8v1.7h-14.8zM134.5 333.8h14.8v1.7h-14.8zM119.7 335.2h14.8v1.7h-14.8zM163.9 336.5h14.8v1.7h-14.8zM105 341.8h14.8v1.7h-14.8zM163.9 348.4h14.8v1.7h-14.8zM105 352.4h14.8v1.7h-14.8zM105 355.1h14.8v1.7h-14.8zM90.3 365.7h14.8v1.7h-14.8z"/>
<path fill="#9c9cd0" d="M134.5 304.6h14.8v1.7h-14.8zM75.6 306h14.8v1.7h-14.8zM163.9 309.9h14.8v1.7h-14.8zM134.5 315.2h14.8v1.7h-14.8zM90.3 333.8h14.8v1.7h-14.8zM105 344.4h14.8v1.7h-14.8zM163.9 344.4h14.8v1.7h-14.8zM149.2 361.7h14.8v1.7h-14.8zM119.7 365.7h14.8v1.7h-14.8z"/>
<path fill="#9494cc" d="M75.6 312.6h14.8v1.7h-14.8zM105 323.2h14.8v1.7h-14.8zM134.5 324.5h14.8v1.7h-14.8zM105 332.5h14.8v1.7h-14.8zM134.5 335.2h14.8v1.7h-14.8zM105 337.8h14.8v1.7h-14.8zM75.6 340.5h14.8v1.7h-14.8zM163.9 341.8h14.8v1.7h-14.8zM75.6 347.1h14.8v1.7h-14.8zM105 360.4h14.8v1.7h-14.8z"/>
<path fill="#e4e4f4" d="M149.2 313.9h14.8v1.7h-14.8zM134.5 329.8h14.8v1.7h-14.8zM90.3 336.5h14.8v1.7h-14.8z"/>
<path fill="#6468b4" d="M149.2 328.5h14.8v1.7h-14.8z"/>
<path fill="#5458ac" d="M149.2 329.8h14.8v1.7h-14.8zM134.5 359h14.8v1.7h-14.8zM119.7 361.7h14.8v1.7h-14.8zM134.5 363h14.8v1.7h-14.8z"/>
<path fill="#585cac" d="M149.2 337.8h14.8v1.7h-14.8zM134.5 360.4h14.8v1.7h-14.8z"/>
<path fill="#8484c8" d="M105 340.5h14.8v1.7h-14.8z"/>
<path fill="#7474c0" d="M90.3 344.4h14.8v1.7h-14.8z"/>
<path fill="#787cc0" d="M90.3 347.1h14.8v1.7h-14.8z"/>
<path fill="#6c70bc" d="M134.5 348.4h14.8v1.7h-14.8z"/>
<path fill="#7474bc" d="M119.7 351.1h14.8v1.7h-14.8zM119.7 353.7h14.8v1.7h-14.8z"/>
<path fill="#686cb8" d="M90.3 353.7h14.8v1.7h-14.8zM90.3 355.1h14.8v1.7h-14.8z"/>
<path fill="#7070bc" d="M163.9 353.7h14.8v1.7h-14.8zM75.6 357.7h14.8v1.7h-14.8zM163.9 360.4h14.8v1.7h-14.8z"/>
<path fill="#7c7cc0" d="M75.6 355.1h14.8v1.7h-14.8zM105 361.7h14.8v1.7h-14.8z"/>
<path fill="#5858ac" d="M90.3 356.4h14.8v1.7h-14.8z"/>
<path fill="#7478c0" d="M163.9 357.7h14.8v1.7h-14.8z"/>
<path fill="#4c50a4" d="M149.2 359h14.8v1.7h-14.8z"/>
<path fill="#5054a8" d="M134.5 361.7h14.8v1.7h-14.8zM149.2 365.7h14.8v1.7h-14.8z"/>
<path fill="#5c5cb0" d="M163.9 361.7h14.8v1.7h-14.8z"/>
<path fill="#7c7cc4" d="M105 363h14.8v1.7h-14.8z"/>
<path fill="#4044a0" d="M163.9 363h14.8v1.7h-14.8z"/>
<path fill="#6464b4" d="M163.9 364.3h14.8v1.7h-14.8z"/>
<rect x="90.31" y="129.70" width="14.71" height="1.00" fill="#50506a"/>
</g></g>
<rect x="75.6" y="112.2" width="103.0" height="254.8" fill="none" stroke="#666" stroke-width="0.7"/>
<path fill="#4d6abb" d="M179.2 112.2h4.2v1.4h-4.2zM179.2 113.5h4.3v1.4h-4.3zM179.2 114.9h9.6v1.4h-9.6zM179.2 116.2h3.8v1.4h-3.8zM179.2 117.5h8v1.4h-8zM179.2 118.8h3.8v1.4h-3.8zM179.2 120.2h7v1.4h-7zM179.2 121.5h5.5v1.4h-5.5zM179.2 122.8h8.2v1.4h-8.2zM179.2 124.1h4.7v1.4h-4.7zM179.2 125.5h7.3v1.4h-7.3zM179.2 126.8h13.1v1.4h-13.1zM179.2 128.1h6.3v1.4h-6.3zM179.2 129.5h7v1.4h-7zM179.2 130.8h5.1v1.4h-5.1zM179.2 132.1h9.7v1.4h-9.7zM179.2 133.4h7v1.4h-7zM179.2 134.8h9.4v1.4h-9.4zM179.2 136.1h7v1.4h-7zM179.2 137.4h5.2v1.4h-5.2zM179.2 138.7h6.3v1.4h-6.3zM179.2 140.1h6.4v1.4h-6.4zM179.2 141.4h8.3v1.4h-8.3zM179.2 142.7h6v1.4h-6zM179.2 144.1h6.7v1.4h-6.7zM179.2 145.4h4.4v1.4h-4.4zM179.2 146.7h5.9v1.4h-5.9zM179.2 148h10.5v1.4h-10.5zM179.2 149.4h6.2v1.4h-6.2zM179.2 150.7h5.8v1.4h-5.8zM179.2 152h8.5v1.4h-8.5zM179.2 153.3h5.9v1.4h-5.9zM179.2 154.7h6.8v1.4h-6.8zM179.2 156h8.4v1.4h-8.4zM179.2 157.3h5.2v1.4h-5.2zM179.2 158.6h7.2v1.4h-7.2zM179.2 160h7.9v1.4h-7.9zM179.2 161.3h7.6v1.4h-7.6zM179.2 162.6h12.9v1.4h-12.9zM179.2 164h6.8v1.4h-6.8zM179.2 165.3h7.2v1.4h-7.2zM179.2 166.6h5.3v1.4h-5.3zM179.2 167.9h5.5v1.4h-5.5zM179.2 169.3h9.8v1.4h-9.8zM179.2 170.6h4.1v1.4h-4.1zM179.2 171.9h9.7v1.4h-9.7zM179.2 173.2h4.5v1.4h-4.5zM179.2 174.6h5.7v1.4h-5.7zM179.2 175.9h6.8v1.4h-6.8zM179.2 177.2h10.2v1.4h-10.2zM179.2 178.6h7.7v1.4h-7.7zM179.2 179.9h6.4v1.4h-6.4zM179.2 181.2h5.6v1.4h-5.6zM179.2 182.5h3.8v1.4h-3.8zM179.2 183.9h7.3v1.4h-7.3zM179.2 185.2h7v1.4h-7zM179.2 186.5h5.5v1.4h-5.5zM179.2 187.8h7.6v1.4h-7.6zM179.2 189.2h7.6v1.4h-7.6zM179.2 190.5h5.8v1.4h-5.8zM179.2 191.8h4.8v1.4h-4.8zM179.2 193.2h6.2v1.4h-6.2zM179.2 194.5h3.8v1.4h-3.8zM179.2 195.8h9.1v1.4h-9.1zM179.2 197.1h7.7v1.4h-7.7zM179.2 198.5h6v1.4h-6zM179.2 199.8h7v1.4h-7zM179.2 201.1h4.9v1.4h-4.9zM179.2 202.4h5.2v1.4h-5.2zM179.2 203.8h3.9v1.4h-3.9zM179.2 205.1h5.7v1.4h-5.7zM179.2 206.4h4.8v1.4h-4.8zM179.2 207.8h5.5v1.4h-5.5zM179.2 209.1h4.8v1.4h-4.8zM179.2 210.4h5.8v1.4h-5.8zM179.2 211.7h5.9v1.4h-5.9zM179.2 213.1h5.2v1.4h-5.2zM179.2 214.4h4.5v1.4h-4.5zM179.2 215.7h6.4v1.4h-6.4zM179.2 217h4.7v1.4h-4.7zM179.2 218.4h6.7v1.4h-6.7zM179.2 219.7h4.8v1.4h-4.8zM179.2 221h4.5v1.4h-4.5zM179.2 222.3h3.8v1.4h-3.8zM179.2 223.7h5.1v1.4h-5.1zM179.2 225h5.8v1.4h-5.8zM179.2 226.3h3.8v1.4h-3.8zM179.2 227.7h6.3v1.4h-6.3zM179.2 229h7.2v1.4h-7.2zM179.2 230.3h8.3v1.4h-8.3zM179.2 231.6h4.2v1.4h-4.2zM179.2 233h7v1.4h-7zM179.2 234.3h5.9v1.4h-5.9zM179.2 235.6h5.7v1.4h-5.7zM179.2 236.9h5.4v1.4h-5.4zM179.2 238.3h5.1v1.4h-5.1zM179.2 239.6h7.6v1.4h-7.6zM179.2 240.9h9v1.4h-9zM179.2 242.3h5.6v1.4h-5.6zM179.2 243.6h10.7v1.4h-10.7zM179.2 244.9h4.5v1.4h-4.5zM179.2 246.2h7.4v1.4h-7.4zM179.2 247.6h6v1.4h-6zM179.2 248.9h6v1.4h-6zM179.2 250.2h5.4v1.4h-5.4zM179.2 251.5h6.4v1.4h-6.4zM179.2 252.9h12.2v1.4h-12.2zM179.2 254.2h6.5v1.4h-6.5zM179.2 255.5h3.8v1.4h-3.8zM179.2 256.9h4.2v1.4h-4.2zM179.2 258.2h6.8v1.4h-6.8zM179.2 259.5h4v1.4h-4zM179.2 260.8h4.4v1.4h-4.4zM179.2 262.2h4.9v1.4h-4.9zM179.2 263.5h4.9v1.4h-4.9zM179.2 264.8h7.6v1.4h-7.6zM179.2 266.1h4.1v1.4h-4.1zM179.2 267.5h5.2v1.4h-5.2zM179.2 268.8h7.1v1.4h-7.1zM179.2 270.1h5.1v1.4h-5.1zM179.2 271.4h5v1.4h-5zM179.2 272.8h9.9v1.4h-9.9zM179.2 274.1h7.7v1.4h-7.7zM179.2 275.4h5v1.4h-5zM179.2 276.8h4.4v1.4h-4.4zM179.2 278.1h6v1.4h-6zM179.2 279.4h4.8v1.4h-4.8zM179.2 280.7h6.1v1.4h-6.1zM179.2 282.1h4.8v1.4h-4.8zM179.2 283.4h4.9v1.4h-4.9zM179.2 284.7h6.1v1.4h-6.1zM179.2 286h5.8v1.4h-5.8zM179.2 287.4h8.4v1.4h-8.4zM179.2 288.7h5v1.4h-5zM179.2 290h8.5v1.4h-8.5zM179.2 291.4h9.7v1.4h-9.7zM179.2 292.7h3.9v1.4h-3.9zM179.2 294h6.3v1.4h-6.3zM179.2 295.3h7.9v1.4h-7.9zM179.2 296.7h7.7v1.4h-7.7zM179.2 298h5.4v1.4h-5.4zM179.2 299.3h7.1v1.4h-7.1zM179.2 300.6h3.8v1.4h-3.8zM179.2 302h9.7v1.4h-9.7zM179.2 303.3h3.8v1.4h-3.8zM179.2 304.6h5.7v1.4h-5.7zM179.2 306h7.4v1.4h-7.4zM179.2 307.3h5v1.4h-5zM179.2 308.6h4.2v1.4h-4.2zM179.2 309.9h3.8v1.4h-3.8zM179.2 311.3h3.8v1.4h-3.8zM179.2 312.6h5.8v1.4h-5.8zM179.2 313.9h9.3v1.4h-9.3zM179.2 315.2h7.5v1.4h-7.5zM179.2 316.6h3.8v1.4h-3.8zM179.2 317.9h5.3v1.4h-5.3zM179.2 319.2h5.9v1.4h-5.9zM179.2 320.6h6.1v1.4h-6.1zM179.2 321.9h4.4v1.4h-4.4zM179.2 323.2h5.6v1.4h-5.6zM179.2 324.5h5.8v1.4h-5.8zM179.2 325.9h5.3v1.4h-5.3zM179.2 327.2h4.6v1.4h-4.6zM179.2 328.5h4.5v1.4h-4.5zM179.2 329.8h12.5v1.4h-12.5zM179.2 331.2h4.8v1.4h-4.8zM179.2 332.5h4.6v1.4h-4.6zM179.2 333.8h4v1.4h-4zM179.2 335.2h4v1.4h-4zM179.2 339.1h7.5v1.4h-7.5zM179.2 340.5h4.7v1.4h-4.7zM179.2 341.8h3.8v1.4h-3.8zM179.2 343.1h3.8v1.4h-3.8zM179.2 345.8h5v1.4h-5zM179.2 347.1h3.8v1.4h-3.8zM179.2 348.4h4.7v1.4h-4.7zM179.2 349.7h4.7v1.4h-4.7zM179.2 352.4h7.3v1.4h-7.3zM179.2 353.7h5.8v1.4h-5.8zM179.2 356.4h9.4v1.4h-9.4zM179.2 357.7h5v1.4h-5zM179.2 359h7.9v1.4h-7.9zM179.2 361.7h5.6v1.4h-5.6zM179.2 363h5.1v1.4h-5.1zM179.2 365.7h3.8v1.4h-3.8zM179.2 125.8h28.8v1.2h-28.8zM179.2 134.7h30.4v1.2h-30.4zM179.2 178.4h18.3v1.2h-18.3zM179.2 190.3h16.4v1.2h-16.4zM179.2 201.4h14.2v1.2h-14.2zM179.2 167.3h12.8v1.2h-12.8zM179.2 228.9h13.3v1.2h-13.3zM179.2 219.4h11.8v1.2h-11.8zM179.2 292.7h32.1v1.2h-32.1zM179.2 295.6h32.3v1.2h-32.3zM179.2 308.6h53.2v1.2h-53.2zM179.2 311.3h14.8v1.2h-14.8zM179.2 313.4h37.8v1.2h-37.8zM179.2 359.6h28.3v1.2h-28.3zM179.2 363.4h57.4v1.2h-57.4zM179.2 250.7h14.8v1.2h-14.8zM179.2 297.4h12.6v1.2h-12.6zM179.2 318.1h15.8v1.2h-15.8z"/>
<line x1="179.30" y1="368.80" x2="199.50" y2="368.80" stroke="#555" stroke-width="0.7"/>
<line x1="206.40" y1="368.80" x2="237.70" y2="368.80" stroke="#555" stroke-width="0.7"/>
<line x1="179.30" y1="368.80" x2="179.30" y2="371.00" stroke="#555" stroke-width="0.7"/>
<line x1="186.00" y1="368.80" x2="186.00" y2="371.00" stroke="#555" stroke-width="0.7"/>
<line x1="192.70" y1="368.80" x2="192.70" y2="371.00" stroke="#555" stroke-width="0.7"/>
<line x1="199.40" y1="368.80" x2="199.40" y2="371.00" stroke="#555" stroke-width="0.7"/>
<line x1="206.40" y1="368.80" x2="206.40" y2="371.00" stroke="#555" stroke-width="0.7"/>
<line x1="216.90" y1="368.80" x2="216.90" y2="371.00" stroke="#555" stroke-width="0.7"/>
<line x1="227.30" y1="368.80" x2="227.30" y2="371.00" stroke="#555" stroke-width="0.7"/>
<line x1="237.70" y1="368.80" x2="237.70" y2="371.00" stroke="#555" stroke-width="0.7"/>
<text x="181.50" y="381.30" font-size="9.2" text-anchor="middle" fill="#231f20" stroke="#231f20" stroke-width="0.28">0</text>
<text x="187.50" y="381.30" font-size="9.2" text-anchor="middle" fill="#231f20" stroke="#231f20" stroke-width="0.28">2</text>
<text x="196.00" y="381.30" font-size="9.2" text-anchor="middle" fill="#231f20" stroke="#231f20" stroke-width="0.28">4</text>
<text x="207.20" y="381.30" font-size="9.2" text-anchor="middle" fill="#231f20" stroke="#231f20" stroke-width="0.28">5</text>
<text x="216.80" y="381.30" font-size="9.2" text-anchor="middle" fill="#231f20" stroke="#231f20" stroke-width="0.28">15</text>
<text x="226.20" y="381.30" font-size="9.2" text-anchor="middle" fill="#231f20" stroke="#231f20" stroke-width="0.28">25</text>
<text x="237.40" y="381.30" font-size="9.2" text-anchor="middle" fill="#231f20" stroke="#231f20" stroke-width="0.28">35</text>
<text x="214.00" y="392.80" font-size="9.2" text-anchor="middle" fill="#231f20" stroke="#231f20" stroke-width="0.28">Mutation</text>
<text x="214.50" y="404.60" font-size="9.2" text-anchor="middle" fill="#231f20" stroke="#231f20" stroke-width="0.28">frequency (%)</text>
<rect x="187.30" y="412.60" width="6.10" height="5.80" fill="#d8701e"/>
<rect x="193.30" y="412.60" width="6.10" height="5.80" fill="#ec9a52"/>
<rect x="199.30" y="412.60" width="7.10" height="5.80" fill="#f4b680"/>
<rect x="206.30" y="412.60" width="6.10" height="5.80" fill="#f8d2b0"/>
<rect x="212.30" y="412.60" width="6.10" height="5.80" fill="#fbe6d6"/>
<rect x="218.30" y="412.60" width="8.40" height="5.80" fill="#ffffff"/>
<rect x="226.60" y="412.60" width="11.70" height="5.80" fill="#3a46a2"/>
<rect x="187.3" y="412.6" width="50.9" height="5.8" fill="none" stroke="#bbb" stroke-width="0.4"/>
<text x="191.60" y="427.50" font-size="9.2" text-anchor="middle" fill="#231f20" stroke="#231f20" stroke-width="0.28">6</text>
<text x="201.70" y="427.50" font-size="9.2" text-anchor="middle" fill="#231f20" stroke="#231f20" stroke-width="0.28">4</text>
<text x="211.80" y="427.50" font-size="9.2" text-anchor="middle" fill="#231f20" stroke="#231f20" stroke-width="0.28">2</text>
<text x="222.60" y="427.50" font-size="9.2" text-anchor="middle" fill="#231f20" stroke="#231f20" stroke-width="0.28">0</text>
<text x="232.00" y="427.50" font-size="9.2" text-anchor="middle" fill="#231f20" stroke="#231f20" stroke-width="0.28">-2</text>
<text x="211.80" y="436.80" font-size="9.2" text-anchor="middle" fill="#231f20" stroke="#231f20" stroke-width="0.28">z-score</text>
<text x="58.20" y="124.50" font-size="9.2" text-anchor="end" fill="#231f20" stroke="#231f20" stroke-width="0.28">FOXA1</text>
<text x="58.20" y="133.20" font-size="9.2" text-anchor="end" fill="#231f20" stroke="#231f20" stroke-width="0.28">CREBBP</text>
<text x="58.20" y="142.10" font-size="9.2" text-anchor="end" fill="#231f20" stroke="#231f20" stroke-width="0.28">NIPBL</text>
<text x="58.20" y="150.70" font-size="9.2" text-anchor="end" fill="#231f20" stroke="#231f20" stroke-width="0.28">RB1</text>
<text x="58.20" y="159.40" font-size="9.2" text-anchor="end" fill="#231f20" stroke="#231f20" stroke-width="0.28">PTEN</text>
<text x="58.20" y="167.80" font-size="9.2" text-anchor="end" fill="#231f20" stroke="#231f20" stroke-width="0.28">KMT2C</text>
<path d="M60.8,121.6 L63.9,121.6 L69.6,113.3 L75.6,113.3" stroke="#444" fill="none" stroke-width="0.6"/>
<path d="M60.8,129.1 L63.5,129.1 L70,114 L75.6,114" stroke="#444" fill="none" stroke-width="0.6"/>
<path d="M60.8,138.8 L64,138.8 L70.5,115 L75.6,115" stroke="#444" fill="none" stroke-width="0.6"/>
<path d="M60.8,147.6 L64.5,147.6 L71,116 L75.6,116" stroke="#444" fill="none" stroke-width="0.6"/>
<path d="M60.8,156.2 L65,156.2 L71.5,116.5 L75.6,116.5" stroke="#444" fill="none" stroke-width="0.6"/>
<path d="M60.8,163.5 L66,163.5 L70.5,126.5 L75.6,126.5" stroke="#444" fill="none" stroke-width="0.6"/>
<rect x="69.30" y="112.40" width="6.30" height="4.40" fill="#9a9a9a"/>
<text x="58.20" y="343.00" font-size="9.2" text-anchor="end" fill="#231f20" stroke="#231f20" stroke-width="0.28">SF3B1</text>
<text x="58.20" y="352.20" font-size="9.2" text-anchor="end" fill="#231f20" stroke="#231f20" stroke-width="0.28">PIK3CA</text>
<text x="58.20" y="360.40" font-size="9.2" text-anchor="end" fill="#231f20" stroke="#231f20" stroke-width="0.28">PLK1</text>
<text x="58.20" y="369.20" font-size="9.2" text-anchor="end" fill="#231f20" stroke="#231f20" stroke-width="0.28">UBB</text>
<path d="M60.5,339.8 L64,339.8 L70,361.8 L75.6,361.8" stroke="#444" fill="none" stroke-width="0.6"/>
<path d="M60.5,349.0 L63.5,349.0 L69,362.8 L75.6,362.8" stroke="#444" fill="none" stroke-width="0.6"/>
<path d="M60.5,357.2 L63,357.2 L68,364 L75.6,364" stroke="#444" fill="none" stroke-width="0.6"/>
<path d="M60.5,366.0 L75.6,366.0" stroke="#444" fill="none" stroke-width="0.6"/>
<text x="81.00" y="370.60" font-size="9.9" text-anchor="start" fill="#231f20" stroke="#231f20" stroke-width="0.28" transform="rotate(90 81.00 370.60)">MCF10A</text>
<text x="95.70" y="370.60" font-size="9.9" text-anchor="start" fill="#231f20" stroke="#231f20" stroke-width="0.28" transform="rotate(90 95.70 370.60)">MCF10neoT</text>
<text x="109.50" y="370.60" font-size="9.9" text-anchor="start" fill="#231f20" stroke="#231f20" stroke-width="0.28" transform="rotate(90 109.50 370.60)">MCF10AT1</text>
<text x="123.70" y="370.60" font-size="9.9" text-anchor="start" fill="#231f20" stroke="#231f20" stroke-width="0.28" transform="rotate(90 123.70 370.60)">MCF10DCIS.com</text>
<text x="138.10" y="370.60" font-size="9.9" text-anchor="start" fill="#231f20" stroke="#231f20" stroke-width="0.28" transform="rotate(90 138.10 370.60)">MCF10Ca1a</text>
<text x="152.50" y="370.60" font-size="9.9" text-anchor="start" fill="#231f20" stroke="#231f20" stroke-width="0.28" transform="rotate(90 152.50 370.60)">MCF10Ca1d</text>
<text x="167.10" y="370.60" font-size="9.9" text-anchor="start" fill="#231f20" stroke="#231f20" stroke-width="0.28" transform="rotate(90 167.10 370.60)">MCF10Ca1h</text>
<text x="265.20" y="115.30" font-size="18" text-anchor="start" font-weight="bold" fill="#000">C</text>
<text x="337.50" y="135.20" font-size="8.3" text-anchor="middle" fill="#231f20" stroke="#231f20" stroke-width="0.28">MCF10AT1</text>
<line x1="297.40" y1="145.10" x2="297.40" y2="239.60" stroke="#777" stroke-width="0.8"/>
<line x1="297.40" y1="239.60" x2="392.20" y2="239.60" stroke="#777" stroke-width="0.8"/>
<line x1="295.40" y1="239.60" x2="297.40" y2="239.60" stroke="#777" stroke-width="0.7"/>
<text x="293.20" y="243.20" font-size="10" text-anchor="end" fill="#231f20" stroke="#231f20" stroke-width="0.28">0</text>
<line x1="295.40" y1="208.10" x2="297.40" y2="208.10" stroke="#777" stroke-width="0.7"/>
<text x="293.20" y="211.70" font-size="10" text-anchor="end" fill="#231f20" stroke="#231f20" stroke-width="0.28">1</text>
<line x1="295.40" y1="176.60" x2="297.40" y2="176.60" stroke="#777" stroke-width="0.7"/>
<text x="293.20" y="180.20" font-size="10" text-anchor="end" fill="#231f20" stroke="#231f20" stroke-width="0.28">2</text>
<line x1="295.40" y1="145.10" x2="297.40" y2="145.10" stroke="#777" stroke-width="0.7"/>
<text x="293.20" y="148.70" font-size="10" text-anchor="end" fill="#231f20" stroke="#231f20" stroke-width="0.28">3</text>
<line x1="297.40" y1="239.60" x2="297.40" y2="241.60" stroke="#777" stroke-width="0.7"/>
<text x="297.40" y="252.60" font-size="10" text-anchor="middle" fill="#231f20" stroke="#231f20" stroke-width="0.28">0</text>
<line x1="329.00" y1="239.60" x2="329.00" y2="241.60" stroke="#777" stroke-width="0.7"/>
<text x="329.00" y="252.60" font-size="10" text-anchor="middle" fill="#231f20" stroke="#231f20" stroke-width="0.28">1</text>
<line x1="360.60" y1="239.60" x2="360.60" y2="241.60" stroke="#777" stroke-width="0.7"/>
<text x="360.60" y="252.60" font-size="10" text-anchor="middle" fill="#231f20" stroke="#231f20" stroke-width="0.28">2</text>
<line x1="392.20" y1="239.60" x2="392.20" y2="241.60" stroke="#777" stroke-width="0.7"/>
<text x="392.20" y="252.60" font-size="10" text-anchor="middle" fill="#231f20" stroke="#231f20" stroke-width="0.28">3</text>
<line x1="329.00" y1="145.10" x2="329.00" y2="239.60" stroke="#bbb" stroke-width="0.6" stroke-dasharray="1.2,1.2"/>
<line x1="297.40" y1="208.10" x2="392.20" y2="208.10" stroke="#bbb" stroke-width="0.6" stroke-dasharray="1.2,1.2"/>
<circle cx="332.74" cy="195.66" r="2.30" fill="#a2a2a2"/>
<circle cx="329.11" cy="216.20" r="2.30" fill="#a2a2a2"/>
<circle cx="331.79" cy="191.72" r="2.30" fill="#a2a2a2"/>
<circle cx="331.91" cy="218.69" r="2.30" fill="#a2a2a2"/>
<circle cx="329.16" cy="208.32" r="2.30" fill="#a2a2a2"/>
<circle cx="333.18" cy="207.92" r="2.30" fill="#a2a2a2"/>
<circle cx="330.12" cy="209.93" r="2.30" fill="#a2a2a2"/>
<circle cx="331.36" cy="214.71" r="2.30" fill="#a2a2a2"/>
<circle cx="330.97" cy="205.34" r="2.30" fill="#a2a2a2"/>
<circle cx="334.78" cy="208.34" r="2.30" fill="#a2a2a2"/>
<circle cx="333.21" cy="217.34" r="2.30" fill="#a2a2a2"/>
<circle cx="332.96" cy="206.31" r="2.30" fill="#a2a2a2"/>
<circle cx="329.72" cy="208.03" r="2.30" fill="#a2a2a2"/>
<circle cx="333.07" cy="210.79" r="2.30" fill="#a2a2a2"/>
<circle cx="333.36" cy="193.70" r="2.30" fill="#a2a2a2"/>
<circle cx="334.74" cy="192.79" r="2.30" fill="#a2a2a2"/>
<circle cx="328.02" cy="204.62" r="2.30" fill="#a2a2a2"/>
<circle cx="329.39" cy="199.02" r="2.30" fill="#a2a2a2"/>
<circle cx="331.15" cy="205.70" r="2.30" fill="#a2a2a2"/>
<circle cx="332.05" cy="213.26" r="2.30" fill="#a2a2a2"/>
<circle cx="331.20" cy="214.45" r="2.30" fill="#a2a2a2"/>
<circle cx="335.82" cy="212.00" r="2.30" fill="#a2a2a2"/>
<circle cx="331.02" cy="224.12" r="2.30" fill="#a2a2a2"/>
<circle cx="327.55" cy="215.53" r="2.30" fill="#a2a2a2"/>
<circle cx="332.83" cy="200.62" r="2.30" fill="#a2a2a2"/>
<circle cx="331.63" cy="213.71" r="2.30" fill="#a2a2a2"/>
<circle cx="335.28" cy="217.27" r="2.30" fill="#a2a2a2"/>
<circle cx="328.99" cy="203.25" r="2.30" fill="#a2a2a2"/>
<circle cx="328.66" cy="205.29" r="2.30" fill="#a2a2a2"/>
<circle cx="333.24" cy="208.40" r="2.30" fill="#a2a2a2"/>
<circle cx="331.93" cy="207.40" r="2.30" fill="#a2a2a2"/>
<circle cx="329.41" cy="228.57" r="2.30" fill="#a2a2a2"/>
<circle cx="328.14" cy="207.82" r="2.30" fill="#a2a2a2"/>
<circle cx="327.16" cy="212.99" r="2.30" fill="#a2a2a2"/>
<circle cx="331.46" cy="195.35" r="2.30" fill="#a2a2a2"/>
<circle cx="327.79" cy="212.68" r="2.30" fill="#a2a2a2"/>
<circle cx="331.51" cy="202.87" r="2.30" fill="#a2a2a2"/>
<circle cx="327.76" cy="190.46" r="2.30" fill="#a2a2a2"/>
<circle cx="329.07" cy="197.63" r="2.30" fill="#a2a2a2"/>
<circle cx="330.51" cy="203.96" r="2.30" fill="#a2a2a2"/>
<circle cx="334.88" cy="201.16" r="2.30" fill="#a2a2a2"/>
<circle cx="331.28" cy="217.13" r="2.30" fill="#a2a2a2"/>
<circle cx="329.45" cy="221.06" r="2.30" fill="#a2a2a2"/>
<circle cx="335.70" cy="222.26" r="2.30" fill="#a2a2a2"/>
<circle cx="325.84" cy="192.43" r="2.30" fill="#a2a2a2"/>
<circle cx="333.97" cy="211.13" r="2.30" fill="#a2a2a2"/>
<circle cx="332.94" cy="215.46" r="2.30" fill="#a2a2a2"/>
<circle cx="329.63" cy="203.08" r="2.30" fill="#a2a2a2"/>
<circle cx="329.00" cy="164.00" r="2.30" fill="#a2a2a2"/>
<circle cx="324.26" cy="168.09" r="2.30" fill="#a2a2a2"/>
<circle cx="340.06" cy="203.38" r="2.30" fill="#a2a2a2"/>
<circle cx="311.62" cy="215.03" r="2.30" fill="#a2a2a2"/>
<circle cx="322.68" cy="223.85" r="2.30" fill="#a2a2a2"/>
<circle cx="321.10" cy="222.27" r="2.30" fill="#a2a2a2"/>
<circle cx="333.74" cy="225.42" r="2.30" fill="#a2a2a2"/>
<circle cx="335.32" cy="190.77" r="2.30" fill="#a2a2a2"/>
<circle cx="327.42" cy="192.35" r="2.30" fill="#a2a2a2"/>
<circle cx="332.16" cy="167.78" r="2.40" fill="#a3c43a"/>
<circle cx="324.26" cy="189.20" r="2.40" fill="#a3c43a"/>
<circle cx="326.47" cy="205.58" r="2.40" fill="#a3c43a"/>
<circle cx="306.88" cy="226.69" r="2.40" fill="#2e3192"/>
<circle cx="312.25" cy="227.63" r="2.40" fill="#2e3192"/>
<text x="342.00" y="159.00" font-size="7.4" text-anchor="start" fill="#231f20" stroke="#231f20" stroke-width="0.12">CREBBP</text>
<line x1="335.50" y1="165.50" x2="342.00" y2="160.50" stroke="#555" stroke-width="0.6"/>
<text x="298.80" y="179.00" font-size="7.4" text-anchor="start" fill="#231f20" stroke="#231f20" stroke-width="0.12">KMT2C</text>
<line x1="321.50" y1="180.50" x2="323.50" y2="186.50" stroke="#555" stroke-width="0.6"/>
<text x="299.70" y="200.00" font-size="7.4" text-anchor="start" fill="#231f20" stroke="#231f20" stroke-width="0.12">NIPBL</text>
<line x1="320.50" y1="201.00" x2="324.50" y2="204.00" stroke="#555" stroke-width="0.6"/>
<text x="313.50" y="220.70" font-size="7.4" text-anchor="start" fill="#231f20" stroke="#231f20" stroke-width="0.12">UBB</text>
<line x1="314.00" y1="219.50" x2="310.50" y2="216.00" stroke="#555" stroke-width="0.6"/>
<text x="317.70" y="238.70" font-size="7.4" text-anchor="start" fill="#231f20" stroke="#231f20" stroke-width="0.12">PLK1</text>
<line x1="313.00" y1="229.00" x2="317.50" y2="233.50" stroke="#555" stroke-width="0.6"/>
<text x="454.50" y="135.00" font-size="8.3" text-anchor="middle" fill="#231f20" stroke="#231f20" stroke-width="0.28">MCF10Ca1h</text>
<line x1="416.75" y1="144.35" x2="416.75" y2="238.75" stroke="#777" stroke-width="0.8"/>
<line x1="416.75" y1="238.75" x2="511.23" y2="238.75" stroke="#777" stroke-width="0.8"/>
<line x1="414.75" y1="238.75" x2="416.75" y2="238.75" stroke="#777" stroke-width="0.7"/>
<text x="412.55" y="242.35" font-size="10" text-anchor="end" fill="#231f20" stroke="#231f20" stroke-width="0.28">0</text>
<line x1="414.75" y1="215.15" x2="416.75" y2="215.15" stroke="#777" stroke-width="0.7"/>
<text x="412.55" y="218.75" font-size="10" text-anchor="end" fill="#231f20" stroke="#231f20" stroke-width="0.28">1</text>
<line x1="414.75" y1="191.55" x2="416.75" y2="191.55" stroke="#777" stroke-width="0.7"/>
<text x="412.55" y="195.15" font-size="10" text-anchor="end" fill="#231f20" stroke="#231f20" stroke-width="0.28">2</text>
<line x1="414.75" y1="167.95" x2="416.75" y2="167.95" stroke="#777" stroke-width="0.7"/>
<text x="412.55" y="171.55" font-size="10" text-anchor="end" fill="#231f20" stroke="#231f20" stroke-width="0.28">3</text>
<line x1="414.75" y1="144.35" x2="416.75" y2="144.35" stroke="#777" stroke-width="0.7"/>
<text x="412.55" y="147.95" font-size="10" text-anchor="end" fill="#231f20" stroke="#231f20" stroke-width="0.28">4</text>
<line x1="416.75" y1="238.75" x2="416.75" y2="240.75" stroke="#777" stroke-width="0.7"/>
<text x="416.75" y="251.75" font-size="10" text-anchor="middle" fill="#231f20" stroke="#231f20" stroke-width="0.28">0</text>
<line x1="440.37" y1="238.75" x2="440.37" y2="240.75" stroke="#777" stroke-width="0.7"/>
<text x="440.37" y="251.75" font-size="10" text-anchor="middle" fill="#231f20" stroke="#231f20" stroke-width="0.28">1</text>
<line x1="463.99" y1="238.75" x2="463.99" y2="240.75" stroke="#777" stroke-width="0.7"/>
<text x="463.99" y="251.75" font-size="10" text-anchor="middle" fill="#231f20" stroke="#231f20" stroke-width="0.28">2</text>
<line x1="487.61" y1="238.75" x2="487.61" y2="240.75" stroke="#777" stroke-width="0.7"/>
<text x="487.61" y="251.75" font-size="10" text-anchor="middle" fill="#231f20" stroke="#231f20" stroke-width="0.28">3</text>
<line x1="511.23" y1="238.75" x2="511.23" y2="240.75" stroke="#777" stroke-width="0.7"/>
<text x="511.23" y="251.75" font-size="10" text-anchor="middle" fill="#231f20" stroke="#231f20" stroke-width="0.28">4</text>
<line x1="440.37" y1="144.35" x2="440.37" y2="238.75" stroke="#bbb" stroke-width="0.6" stroke-dasharray="1.2,1.2"/>
<line x1="416.75" y1="215.15" x2="511.23" y2="215.15" stroke="#bbb" stroke-width="0.6" stroke-dasharray="1.2,1.2"/>
<circle cx="443.56" cy="217.81" r="2.20" fill="#a2a2a2"/>
<circle cx="447.30" cy="210.29" r="2.20" fill="#a2a2a2"/>
<circle cx="442.79" cy="222.39" r="2.20" fill="#a2a2a2"/>
<circle cx="442.78" cy="216.93" r="2.20" fill="#a2a2a2"/>
<circle cx="442.13" cy="209.88" r="2.20" fill="#a2a2a2"/>
<circle cx="440.62" cy="213.26" r="2.20" fill="#a2a2a2"/>
<circle cx="444.79" cy="212.70" r="2.20" fill="#a2a2a2"/>
<circle cx="449.35" cy="225.96" r="2.20" fill="#a2a2a2"/>
<circle cx="442.17" cy="222.42" r="2.20" fill="#a2a2a2"/>
<circle cx="442.15" cy="200.99" r="2.20" fill="#a2a2a2"/>
<circle cx="437.36" cy="216.80" r="2.20" fill="#a2a2a2"/>
<circle cx="444.35" cy="214.37" r="2.20" fill="#a2a2a2"/>
<circle cx="445.14" cy="224.80" r="2.20" fill="#a2a2a2"/>
<circle cx="445.32" cy="221.01" r="2.20" fill="#a2a2a2"/>
<circle cx="438.64" cy="211.38" r="2.20" fill="#a2a2a2"/>
<circle cx="443.80" cy="219.59" r="2.20" fill="#a2a2a2"/>
<circle cx="439.85" cy="216.25" r="2.20" fill="#a2a2a2"/>
<circle cx="442.31" cy="216.06" r="2.20" fill="#a2a2a2"/>
<circle cx="439.25" cy="228.13" r="2.20" fill="#a2a2a2"/>
<circle cx="446.34" cy="213.89" r="2.20" fill="#a2a2a2"/>
<circle cx="438.55" cy="224.93" r="2.20" fill="#a2a2a2"/>
<circle cx="440.22" cy="217.63" r="2.20" fill="#a2a2a2"/>
<circle cx="435.83" cy="206.16" r="2.20" fill="#a2a2a2"/>
<circle cx="443.62" cy="217.06" r="2.20" fill="#a2a2a2"/>
<circle cx="443.39" cy="213.56" r="2.20" fill="#a2a2a2"/>
<circle cx="445.56" cy="214.05" r="2.20" fill="#a2a2a2"/>
<circle cx="446.17" cy="205.24" r="2.20" fill="#a2a2a2"/>
<circle cx="441.36" cy="217.90" r="2.20" fill="#a2a2a2"/>
<circle cx="439.62" cy="216.51" r="2.20" fill="#a2a2a2"/>
<circle cx="440.10" cy="214.98" r="2.20" fill="#a2a2a2"/>
<circle cx="443.24" cy="211.64" r="2.20" fill="#a2a2a2"/>
<circle cx="438.78" cy="208.19" r="2.20" fill="#a2a2a2"/>
<circle cx="441.36" cy="215.76" r="2.20" fill="#a2a2a2"/>
<circle cx="440.74" cy="227.73" r="2.20" fill="#a2a2a2"/>
<circle cx="443.08" cy="226.29" r="2.20" fill="#a2a2a2"/>
<circle cx="445.68" cy="214.80" r="2.20" fill="#a2a2a2"/>
<circle cx="447.07" cy="210.94" r="2.20" fill="#a2a2a2"/>
<circle cx="444.45" cy="206.19" r="2.20" fill="#a2a2a2"/>
<circle cx="442.17" cy="205.31" r="2.20" fill="#a2a2a2"/>
<circle cx="441.91" cy="213.43" r="2.20" fill="#a2a2a2"/>
<circle cx="440.24" cy="211.63" r="2.20" fill="#a2a2a2"/>
<circle cx="444.34" cy="218.26" r="2.20" fill="#a2a2a2"/>
<circle cx="438.38" cy="215.31" r="2.20" fill="#a2a2a2"/>
<circle cx="443.59" cy="216.08" r="2.20" fill="#a2a2a2"/>
<circle cx="439.32" cy="219.66" r="2.20" fill="#a2a2a2"/>
<circle cx="441.48" cy="228.13" r="2.20" fill="#a2a2a2"/>
<circle cx="440.50" cy="205.97" r="2.20" fill="#a2a2a2"/>
<circle cx="438.37" cy="216.47" r="2.20" fill="#a2a2a2"/>
<circle cx="447.45" cy="210.59" r="2.20" fill="#a2a2a2"/>
<circle cx="445.11" cy="216.02" r="2.20" fill="#a2a2a2"/>
<circle cx="438.23" cy="200.99" r="2.20" fill="#a2a2a2"/>
<circle cx="443.21" cy="213.56" r="2.20" fill="#a2a2a2"/>
<circle cx="447.31" cy="209.95" r="2.20" fill="#a2a2a2"/>
<circle cx="442.47" cy="222.08" r="2.20" fill="#a2a2a2"/>
<circle cx="441.82" cy="216.03" r="2.20" fill="#a2a2a2"/>
<circle cx="434.46" cy="165.59" r="2.20" fill="#a2a2a2"/>
<circle cx="433.28" cy="186.83" r="2.20" fill="#a2a2a2"/>
<circle cx="442.73" cy="186.83" r="2.20" fill="#a2a2a2"/>
<circle cx="441.55" cy="195.09" r="2.20" fill="#a2a2a2"/>
<circle cx="429.74" cy="203.35" r="2.20" fill="#a2a2a2"/>
<circle cx="423.84" cy="221.05" r="2.20" fill="#a2a2a2"/>
<circle cx="428.56" cy="224.59" r="2.20" fill="#a2a2a2"/>
<circle cx="435.65" cy="227.42" r="2.20" fill="#a2a2a2"/>
<circle cx="449.82" cy="221.05" r="2.20" fill="#a2a2a2"/>
<circle cx="440.37" cy="200.99" r="2.20" fill="#a2a2a2"/>
<circle cx="439.19" cy="167.48" r="2.20" fill="#a3c43a"/>
<circle cx="440.37" cy="170.31" r="2.20" fill="#a3c43a"/>
<circle cx="439.66" cy="173.14" r="2.20" fill="#a3c43a"/>
<circle cx="441.08" cy="172.20" r="2.20" fill="#a3c43a"/>
<circle cx="419.58" cy="222.70" r="2.20" fill="#2e3192"/>
<circle cx="417.22" cy="228.13" r="2.20" fill="#2e3192"/>
<text x="445.00" y="154.70" font-size="7.4" text-anchor="start" fill="#231f20" stroke="#231f20" stroke-width="0.12">KMT2C</text>
<line x1="440.50" y1="165.50" x2="445.50" y2="156.00" stroke="#555" stroke-width="0.6"/>
<text x="452.00" y="162.50" font-size="7.4" text-anchor="start" fill="#231f20" stroke="#231f20" stroke-width="0.12">CREBBP</text>
<line x1="443.50" y1="170.00" x2="452.00" y2="164.00" stroke="#555" stroke-width="0.6"/>
<text x="448.80" y="184.70" font-size="7.4" text-anchor="start" fill="#231f20" stroke="#231f20" stroke-width="0.12">NIPBL</text>
<line x1="442.50" y1="175.00" x2="449.00" y2="179.00" stroke="#555" stroke-width="0.6"/>
<text x="417.50" y="212.20" font-size="7.4" text-anchor="start" fill="#231f20" stroke="#231f20" stroke-width="0.12">PLK1</text>
<line x1="419.00" y1="215.00" x2="419.30" y2="220.00" stroke="#555" stroke-width="0.6"/>
<text x="419.50" y="238.70" font-size="7.4" text-anchor="start" fill="#231f20" stroke="#231f20" stroke-width="0.12">UBB</text>
<text x="277.40" y="194.60" font-size="10.0" text-anchor="middle" fill="#231f20" stroke="#231f20" stroke-width="0.28" transform="rotate(-90 277.40 194.60)">3D plate median normalized</text>
<text x="407.80" y="267.20" font-size="9.6" text-anchor="middle" fill="#231f20" stroke="#231f20" stroke-width="0.28">2D plate median normalized</text>
<text x="347.50" y="307.10" font-size="10" text-anchor="end" fill="#231f20" stroke="#231f20" stroke-width="0.28">MCF10A</text>
<text x="347.50" y="318.50" font-size="10" text-anchor="end" fill="#231f20" stroke="#231f20" stroke-width="0.28">MCF10neoT</text>
<text x="347.50" y="329.90" font-size="10" text-anchor="end" fill="#231f20" stroke="#231f20" stroke-width="0.28">MCF10AT1</text>
<text x="347.50" y="341.30" font-size="10" text-anchor="end" fill="#231f20" stroke="#231f20" stroke-width="0.28">MCF10DCIS.com</text>
<text x="347.50" y="352.70" font-size="10" text-anchor="end" fill="#231f20" stroke="#231f20" stroke-width="0.28">MCF10Ca1a</text>
<text x="347.50" y="364.10" font-size="10" text-anchor="end" fill="#231f20" stroke="#231f20" stroke-width="0.28">MCF10Ca1d</text>
<text x="347.50" y="375.50" font-size="10" text-anchor="end" fill="#231f20" stroke="#231f20" stroke-width="0.28">MCF10Ca1h</text>
<text x="373.80" y="296.20" font-size="8.6" text-anchor="middle" fill="#231f20" stroke="#231f20" stroke-width="0.28">siPTEN</text>
<line x1="373.80" y1="298.50" x2="373.80" y2="378.80" stroke="#999" stroke-width="0.5"/>
<rect x="350.50" y="299.50" width="40.08" height="3.30" fill="#a3c43a"/>
<rect x="350.50" y="304.90" width="19.80" height="3.20" fill="#2e3192"/>
<line x1="390.58" y1="301.15" x2="392.91" y2="301.15" stroke="#333" stroke-width="0.6"/>
<line x1="392.91" y1="300.10" x2="392.91" y2="302.20" stroke="#333" stroke-width="0.6"/>
<line x1="370.31" y1="306.50" x2="371.94" y2="306.50" stroke="#333" stroke-width="0.6"/>
<line x1="371.94" y1="305.40" x2="371.94" y2="307.60" stroke="#333" stroke-width="0.6"/>
<text x="395.24" y="304.70" font-size="7.5" text-anchor="middle" fill="#231f20" stroke="#231f20" stroke-width="0.28">*</text>
<line x1="348.50" y1="309.70" x2="350.50" y2="309.70" stroke="#777" stroke-width="0.6"/>
<rect x="350.50" y="310.90" width="29.82" height="3.30" fill="#a3c43a"/>
<rect x="350.50" y="316.30" width="26.10" height="3.20" fill="#2e3192"/>
<line x1="380.32" y1="312.55" x2="387.31" y2="312.55" stroke="#333" stroke-width="0.6"/>
<line x1="387.31" y1="311.50" x2="387.31" y2="313.60" stroke="#333" stroke-width="0.6"/>
<line x1="376.60" y1="317.90" x2="378.93" y2="317.90" stroke="#333" stroke-width="0.6"/>
<line x1="378.93" y1="316.80" x2="378.93" y2="319.00" stroke="#333" stroke-width="0.6"/>
<line x1="348.50" y1="321.10" x2="350.50" y2="321.10" stroke="#777" stroke-width="0.6"/>
<rect x="350.50" y="322.30" width="23.30" height="3.30" fill="#a3c43a"/>
<rect x="350.50" y="327.70" width="24.47" height="3.20" fill="#2e3192"/>
<line x1="373.80" y1="323.95" x2="375.43" y2="323.95" stroke="#333" stroke-width="0.6"/>
<line x1="375.43" y1="322.90" x2="375.43" y2="325.00" stroke="#333" stroke-width="0.6"/>
<line x1="374.97" y1="329.30" x2="376.13" y2="329.30" stroke="#333" stroke-width="0.6"/>
<line x1="376.13" y1="328.20" x2="376.13" y2="330.40" stroke="#333" stroke-width="0.6"/>
<line x1="348.50" y1="332.50" x2="350.50" y2="332.50" stroke="#777" stroke-width="0.6"/>
<rect x="350.50" y="333.70" width="31.46" height="3.30" fill="#a3c43a"/>
<rect x="350.50" y="339.10" width="22.83" height="3.20" fill="#2e3192"/>
<line x1="381.95" y1="335.35" x2="383.12" y2="335.35" stroke="#333" stroke-width="0.6"/>
<line x1="383.12" y1="334.30" x2="383.12" y2="336.40" stroke="#333" stroke-width="0.6"/>
<line x1="373.33" y1="340.70" x2="374.97" y2="340.70" stroke="#333" stroke-width="0.6"/>
<line x1="374.97" y1="339.60" x2="374.97" y2="341.80" stroke="#333" stroke-width="0.6"/>
<line x1="348.50" y1="343.90" x2="350.50" y2="343.90" stroke="#777" stroke-width="0.6"/>
<rect x="350.50" y="345.10" width="27.49" height="3.30" fill="#a3c43a"/>
<rect x="350.50" y="350.50" width="26.79" height="3.20" fill="#2e3192"/>
<line x1="377.99" y1="346.75" x2="379.86" y2="346.75" stroke="#333" stroke-width="0.6"/>
<line x1="379.86" y1="345.70" x2="379.86" y2="347.80" stroke="#333" stroke-width="0.6"/>
<line x1="377.30" y1="352.10" x2="379.16" y2="352.10" stroke="#333" stroke-width="0.6"/>
<line x1="379.16" y1="351.00" x2="379.16" y2="353.20" stroke="#333" stroke-width="0.6"/>
<line x1="348.50" y1="355.30" x2="350.50" y2="355.30" stroke="#777" stroke-width="0.6"/>
<rect x="350.50" y="356.50" width="20.27" height="3.30" fill="#a3c43a"/>
<rect x="350.50" y="361.90" width="22.83" height="3.20" fill="#2e3192"/>
<line x1="370.77" y1="358.15" x2="371.94" y2="358.15" stroke="#333" stroke-width="0.6"/>
<line x1="371.94" y1="357.10" x2="371.94" y2="359.20" stroke="#333" stroke-width="0.6"/>
<line x1="373.33" y1="363.50" x2="374.03" y2="363.50" stroke="#333" stroke-width="0.6"/>
<line x1="374.03" y1="362.40" x2="374.03" y2="364.60" stroke="#333" stroke-width="0.6"/>
<line x1="348.50" y1="366.70" x2="350.50" y2="366.70" stroke="#777" stroke-width="0.6"/>
<rect x="350.50" y="367.90" width="24.00" height="3.30" fill="#a3c43a"/>
<rect x="350.50" y="373.30" width="22.13" height="3.20" fill="#2e3192"/>
<line x1="374.50" y1="369.55" x2="376.13" y2="369.55" stroke="#333" stroke-width="0.6"/>
<line x1="376.13" y1="368.50" x2="376.13" y2="370.60" stroke="#333" stroke-width="0.6"/>
<line x1="372.63" y1="374.90" x2="373.80" y2="374.90" stroke="#333" stroke-width="0.6"/>
<line x1="373.80" y1="373.80" x2="373.80" y2="376.00" stroke="#333" stroke-width="0.6"/>
<line x1="348.50" y1="378.10" x2="350.50" y2="378.10" stroke="#777" stroke-width="0.6"/>
<line x1="350.50" y1="298.50" x2="350.50" y2="378.80" stroke="#777" stroke-width="0.8"/>
<line x1="350.50" y1="378.80" x2="397.10" y2="378.80" stroke="#777" stroke-width="0.8"/>
<line x1="350.50" y1="378.80" x2="350.50" y2="381.00" stroke="#777" stroke-width="0.7"/>
<text x="350.50" y="390.30" font-size="10" text-anchor="middle" fill="#231f20" stroke="#231f20" stroke-width="0.28">0</text>
<line x1="373.80" y1="378.80" x2="373.80" y2="381.00" stroke="#777" stroke-width="0.7"/>
<text x="373.80" y="390.30" font-size="10" text-anchor="middle" fill="#231f20" stroke="#231f20" stroke-width="0.28">1</text>
<line x1="397.10" y1="378.80" x2="397.10" y2="381.00" stroke="#777" stroke-width="0.7"/>
<text x="397.10" y="390.30" font-size="10" text-anchor="middle" fill="#231f20" stroke="#231f20" stroke-width="0.28">2</text>
<text x="463.50" y="296.20" font-size="8.6" text-anchor="middle" fill="#231f20" stroke="#231f20" stroke-width="0.28">siCREBBP</text>
<line x1="440.43" y1="298.50" x2="440.43" y2="378.80" stroke="#999" stroke-width="0.5"/>
<rect x="417.10" y="299.50" width="35.46" height="3.30" fill="#a3c43a"/>
<rect x="417.10" y="304.90" width="15.86" height="3.20" fill="#2e3192"/>
<line x1="452.56" y1="301.15" x2="454.89" y2="301.15" stroke="#333" stroke-width="0.6"/>
<line x1="454.89" y1="300.10" x2="454.89" y2="302.20" stroke="#333" stroke-width="0.6"/>
<line x1="432.96" y1="306.50" x2="434.13" y2="306.50" stroke="#333" stroke-width="0.6"/>
<line x1="434.13" y1="305.40" x2="434.13" y2="307.60" stroke="#333" stroke-width="0.6"/>
<text x="458.63" y="304.70" font-size="7.5" text-anchor="middle" fill="#231f20" stroke="#231f20" stroke-width="0.28">*</text>
<line x1="415.10" y1="309.70" x2="417.10" y2="309.70" stroke="#777" stroke-width="0.6"/>
<rect x="417.10" y="310.90" width="22.16" height="3.30" fill="#a3c43a"/>
<rect x="417.10" y="316.30" width="25.20" height="3.20" fill="#2e3192"/>
<line x1="439.26" y1="312.55" x2="439.96" y2="312.55" stroke="#333" stroke-width="0.6"/>
<line x1="439.96" y1="311.50" x2="439.96" y2="313.60" stroke="#333" stroke-width="0.6"/>
<line x1="442.30" y1="317.90" x2="444.16" y2="317.90" stroke="#333" stroke-width="0.6"/>
<line x1="444.16" y1="316.80" x2="444.16" y2="319.00" stroke="#333" stroke-width="0.6"/>
<line x1="415.10" y1="321.10" x2="417.10" y2="321.10" stroke="#777" stroke-width="0.6"/>
<rect x="417.10" y="322.30" width="54.13" height="3.30" fill="#a3c43a"/>
<rect x="417.10" y="327.70" width="25.66" height="3.20" fill="#2e3192"/>
<line x1="471.23" y1="323.95" x2="474.03" y2="323.95" stroke="#333" stroke-width="0.6"/>
<line x1="474.03" y1="322.90" x2="474.03" y2="325.00" stroke="#333" stroke-width="0.6"/>
<line x1="442.76" y1="329.30" x2="443.46" y2="329.30" stroke="#333" stroke-width="0.6"/>
<line x1="443.46" y1="328.20" x2="443.46" y2="330.40" stroke="#333" stroke-width="0.6"/>
<text x="478.22" y="327.50" font-size="7.5" text-anchor="middle" fill="#231f20" stroke="#231f20" stroke-width="0.28">*</text>
<line x1="415.10" y1="332.50" x2="417.10" y2="332.50" stroke="#777" stroke-width="0.6"/>
<rect x="417.10" y="333.70" width="54.36" height="3.30" fill="#a3c43a"/>
<rect x="417.10" y="339.10" width="31.50" height="3.20" fill="#2e3192"/>
<line x1="471.46" y1="335.35" x2="472.63" y2="335.35" stroke="#333" stroke-width="0.6"/>
<line x1="472.63" y1="334.30" x2="472.63" y2="336.40" stroke="#333" stroke-width="0.6"/>
<line x1="448.60" y1="340.70" x2="450.93" y2="340.70" stroke="#333" stroke-width="0.6"/>
<line x1="450.93" y1="339.60" x2="450.93" y2="341.80" stroke="#333" stroke-width="0.6"/>
<text x="476.59" y="338.90" font-size="7.5" text-anchor="middle" fill="#231f20" stroke="#231f20" stroke-width="0.28">*</text>
<line x1="415.10" y1="343.90" x2="417.10" y2="343.90" stroke="#777" stroke-width="0.6"/>
<rect x="417.10" y="345.10" width="29.16" height="3.30" fill="#a3c43a"/>
<rect x="417.10" y="350.50" width="22.86" height="3.20" fill="#2e3192"/>
<line x1="446.26" y1="346.75" x2="448.60" y2="346.75" stroke="#333" stroke-width="0.6"/>
<line x1="448.60" y1="345.70" x2="448.60" y2="347.80" stroke="#333" stroke-width="0.6"/>
<line x1="439.96" y1="352.10" x2="440.66" y2="352.10" stroke="#333" stroke-width="0.6"/>
<line x1="440.66" y1="351.00" x2="440.66" y2="353.20" stroke="#333" stroke-width="0.6"/>
<line x1="415.10" y1="355.30" x2="417.10" y2="355.30" stroke="#777" stroke-width="0.6"/>
<rect x="417.10" y="356.50" width="22.16" height="3.30" fill="#a3c43a"/>
<rect x="417.10" y="361.90" width="24.50" height="3.20" fill="#2e3192"/>
<line x1="439.26" y1="358.15" x2="439.96" y2="358.15" stroke="#333" stroke-width="0.6"/>
<line x1="439.96" y1="357.10" x2="439.96" y2="359.20" stroke="#333" stroke-width="0.6"/>
<line x1="441.60" y1="363.50" x2="442.30" y2="363.50" stroke="#333" stroke-width="0.6"/>
<line x1="442.30" y1="362.40" x2="442.30" y2="364.60" stroke="#333" stroke-width="0.6"/>
<line x1="415.10" y1="366.70" x2="417.10" y2="366.70" stroke="#777" stroke-width="0.6"/>
<rect x="417.10" y="367.90" width="67.66" height="3.30" fill="#a3c43a"/>
<rect x="417.10" y="373.30" width="23.33" height="3.20" fill="#2e3192"/>
<line x1="484.76" y1="369.55" x2="487.09" y2="369.55" stroke="#333" stroke-width="0.6"/>
<line x1="487.09" y1="368.50" x2="487.09" y2="370.60" stroke="#333" stroke-width="0.6"/>
<line x1="440.43" y1="374.90" x2="441.13" y2="374.90" stroke="#333" stroke-width="0.6"/>
<line x1="441.13" y1="373.80" x2="441.13" y2="376.00" stroke="#333" stroke-width="0.6"/>
<text x="491.76" y="373.10" font-size="7.5" text-anchor="middle" fill="#231f20" stroke="#231f20" stroke-width="0.28">*</text>
<line x1="415.10" y1="378.10" x2="417.10" y2="378.10" stroke="#777" stroke-width="0.6"/>
<line x1="417.10" y1="298.50" x2="417.10" y2="378.80" stroke="#777" stroke-width="0.8"/>
<line x1="417.10" y1="378.80" x2="510.42" y2="378.80" stroke="#777" stroke-width="0.8"/>
<line x1="417.10" y1="378.80" x2="417.10" y2="381.00" stroke="#777" stroke-width="0.7"/>
<text x="417.10" y="390.30" font-size="10" text-anchor="middle" fill="#231f20" stroke="#231f20" stroke-width="0.28">0</text>
<line x1="440.43" y1="378.80" x2="440.43" y2="381.00" stroke="#777" stroke-width="0.7"/>
<text x="440.43" y="390.30" font-size="10" text-anchor="middle" fill="#231f20" stroke="#231f20" stroke-width="0.28">1</text>
<line x1="463.76" y1="378.80" x2="463.76" y2="381.00" stroke="#777" stroke-width="0.7"/>
<text x="463.76" y="390.30" font-size="10" text-anchor="middle" fill="#231f20" stroke="#231f20" stroke-width="0.28">2</text>
<line x1="487.09" y1="378.80" x2="487.09" y2="381.00" stroke="#777" stroke-width="0.7"/>
<text x="487.09" y="390.30" font-size="10" text-anchor="middle" fill="#231f20" stroke="#231f20" stroke-width="0.28">3</text>
<line x1="510.42" y1="378.80" x2="510.42" y2="381.00" stroke="#777" stroke-width="0.7"/>
<text x="510.42" y="390.30" font-size="10" text-anchor="middle" fill="#231f20" stroke="#231f20" stroke-width="0.28">4</text>
<rect x="485.00" y="299.70" width="12.90" height="6.70" fill="#2e3192"/>
<text x="499.60" y="306.80" font-size="10" text-anchor="start" fill="#231f20" stroke="#231f20" stroke-width="0.28">2D</text>
<rect x="485.00" y="309.30" width="12.90" height="7.00" fill="#a3c43a"/>
<text x="499.60" y="316.60" font-size="10" text-anchor="start" fill="#231f20" stroke="#231f20" stroke-width="0.28">3D</text>
<text x="416.90" y="404.40" font-size="9.8" text-anchor="middle" fill="#231f20" stroke="#231f20" stroke-width="0.28">Plate median normalized</text>
<text x="0.00" y="477.40" font-size="18" text-anchor="start" font-weight="bold" fill="#000">D</text>
<defs><clipPath id="hmd"><rect x="86.0" y="497.0" width="102.5" height="143.29999999999995"/></clipPath></defs>
<g clip-path="url(#hmd)"><g filter="url(#hmb)">
<path fill="#f8dac0" d="M86 497h14.8v3.8h-14.8zM100.6 497h14.8v3.8h-14.8zM115.3 497h14.8v3.8h-14.8zM129.9 497h14.8v3.8h-14.8zM159.2 497h14.8v3.8h-14.8zM173.9 497h14.8v3.8h-14.8zM173.9 500.6h14.8v3.8h-14.8zM115.3 504.2h14.8v3.8h-14.8zM173.9 504.2h14.8v3.8h-14.8zM115.3 507.7h14.8v3.8h-14.8zM129.9 511.3h14.8v3.8h-14.8zM173.9 511.3h14.8v3.8h-14.8zM115.3 518.5h14.8v3.8h-14.8zM144.6 525.7h14.8v3.8h-14.8zM173.9 540h14.8v3.8h-14.8zM115.3 561.5h14.8v3.8h-14.8zM129.9 561.5h14.8v3.8h-14.8zM144.6 561.5h14.8v3.8h-14.8zM144.6 568.6h14.8v3.8h-14.8zM115.3 572.2h14.8v3.8h-14.8zM173.9 575.8h14.8v3.8h-14.8zM100.6 604.5h14.8v3.8h-14.8zM173.9 618.8h14.8v3.8h-14.8z"/>
<path fill="#fae3d0" d="M144.6 497h14.8v3.8h-14.8zM100.6 522.1h14.8v3.8h-14.8zM173.9 522.1h14.8v3.8h-14.8zM173.9 525.7h14.8v3.8h-14.8zM144.6 529.2h14.8v3.8h-14.8zM86 532.8h14.8v3.8h-14.8zM100.6 532.8h14.8v3.8h-14.8zM115.3 532.8h14.8v3.8h-14.8zM129.9 540h14.8v3.8h-14.8zM115.3 550.7h14.8v3.8h-14.8zM173.9 583h14.8v3.8h-14.8zM115.3 604.5h14.8v3.8h-14.8zM86 615.2h14.8v3.8h-14.8zM159.2 626h14.8v3.8h-14.8z"/>
<path fill="#fdfbfa" d="M86 500.6h14.8v3.8h-14.8zM144.6 500.6h14.8v3.8h-14.8zM100.6 504.2h14.8v3.8h-14.8zM144.6 504.2h14.8v3.8h-14.8zM144.6 507.7h14.8v3.8h-14.8zM100.6 511.3h14.8v3.8h-14.8zM115.3 511.3h14.8v3.8h-14.8zM144.6 511.3h14.8v3.8h-14.8zM100.6 514.9h14.8v3.8h-14.8zM100.6 518.5h14.8v3.8h-14.8zM173.9 518.5h14.8v3.8h-14.8zM100.6 525.7h14.8v3.8h-14.8zM86 529.2h14.8v3.8h-14.8zM100.6 529.2h14.8v3.8h-14.8zM173.9 529.2h14.8v3.8h-14.8zM129.9 532.8h14.8v3.8h-14.8zM144.6 532.8h14.8v3.8h-14.8zM159.2 532.8h14.8v3.8h-14.8zM173.9 532.8h14.8v3.8h-14.8zM129.9 536.4h14.8v3.8h-14.8zM86 543.6h14.8v3.8h-14.8zM100.6 543.6h14.8v3.8h-14.8zM115.3 543.6h14.8v3.8h-14.8zM115.3 547.2h14.8v3.8h-14.8zM144.6 550.7h14.8v3.8h-14.8zM100.6 554.3h14.8v3.8h-14.8zM115.3 554.3h14.8v3.8h-14.8zM144.6 554.3h14.8v3.8h-14.8zM100.6 557.9h14.8v3.8h-14.8zM100.6 565.1h14.8v3.8h-14.8zM159.2 565.1h14.8v3.8h-14.8zM173.9 568.6h14.8v3.8h-14.8zM129.9 572.2h14.8v3.8h-14.8zM144.6 572.2h14.8v3.8h-14.8zM159.2 572.2h14.8v3.8h-14.8zM100.6 575.8h14.8v3.8h-14.8zM144.6 575.8h14.8v3.8h-14.8zM144.6 579.4h14.8v3.8h-14.8zM100.6 583h14.8v3.8h-14.8zM86 586.6h14.8v3.8h-14.8zM129.9 586.6h14.8v3.8h-14.8zM159.2 586.6h14.8v3.8h-14.8zM173.9 586.6h14.8v3.8h-14.8zM100.6 590.1h14.8v3.8h-14.8zM115.3 590.1h14.8v3.8h-14.8zM144.6 590.1h14.8v3.8h-14.8zM159.2 590.1h14.8v3.8h-14.8zM86 597.3h14.8v3.8h-14.8zM115.3 597.3h14.8v3.8h-14.8zM129.9 597.3h14.8v3.8h-14.8zM144.6 597.3h14.8v3.8h-14.8zM159.2 597.3h14.8v3.8h-14.8zM173.9 597.3h14.8v3.8h-14.8zM100.6 600.9h14.8v3.8h-14.8zM86 608.1h14.8v3.8h-14.8zM100.6 608.1h14.8v3.8h-14.8zM129.9 608.1h14.8v3.8h-14.8zM144.6 608.1h14.8v3.8h-14.8zM159.2 608.1h14.8v3.8h-14.8zM173.9 608.1h14.8v3.8h-14.8zM100.6 615.2h14.8v3.8h-14.8zM129.9 615.2h14.8v3.8h-14.8zM144.6 615.2h14.8v3.8h-14.8zM173.9 615.2h14.8v3.8h-14.8zM115.3 618.8h14.8v3.8h-14.8zM129.9 622.4h14.8v3.8h-14.8zM144.6 622.4h14.8v3.8h-14.8z"/>
<path fill="#fbece0" d="M100.6 500.6h14.8v3.8h-14.8zM115.3 500.6h14.8v3.8h-14.8zM86 504.2h14.8v3.8h-14.8zM129.9 504.2h14.8v3.8h-14.8zM129.9 507.7h14.8v3.8h-14.8zM159.2 507.7h14.8v3.8h-14.8zM86 511.3h14.8v3.8h-14.8zM115.3 514.9h14.8v3.8h-14.8zM129.9 514.9h14.8v3.8h-14.8zM159.2 514.9h14.8v3.8h-14.8zM173.9 514.9h14.8v3.8h-14.8zM86 518.5h14.8v3.8h-14.8zM129.9 518.5h14.8v3.8h-14.8zM159.2 518.5h14.8v3.8h-14.8zM129.9 522.1h14.8v3.8h-14.8zM100.6 536.4h14.8v3.8h-14.8zM115.3 536.4h14.8v3.8h-14.8zM144.6 536.4h14.8v3.8h-14.8zM100.6 550.7h14.8v3.8h-14.8zM100.6 579.4h14.8v3.8h-14.8zM115.3 586.6h14.8v3.8h-14.8zM100.6 597.3h14.8v3.8h-14.8z"/>
<path fill="#f5c090" d="M129.9 500.6h14.8v3.8h-14.8zM115.3 522.1h14.8v3.8h-14.8zM115.3 525.7h14.8v3.8h-14.8zM115.3 529.2h14.8v3.8h-14.8zM86 550.7h14.8v3.8h-14.8zM159.2 579.4h14.8v3.8h-14.8z"/>
<path fill="#e07010" d="M159.2 500.6h14.8v3.8h-14.8zM159.2 504.2h14.8v3.8h-14.8z"/>
<path fill="#f0a254" d="M86 507.7h14.8v3.8h-14.8zM159.2 511.3h14.8v3.8h-14.8zM86 514.9h14.8v3.8h-14.8z"/>
<path fill="#ececf8" d="M100.6 507.7h14.8v3.8h-14.8zM144.6 514.9h14.8v3.8h-14.8zM86 525.7h14.8v3.8h-14.8zM129.9 525.7h14.8v3.8h-14.8zM129.9 529.2h14.8v3.8h-14.8zM129.9 550.7h14.8v3.8h-14.8zM144.6 565.1h14.8v3.8h-14.8zM159.2 575.8h14.8v3.8h-14.8zM129.9 579.4h14.8v3.8h-14.8zM144.6 583h14.8v3.8h-14.8zM144.6 586.6h14.8v3.8h-14.8zM129.9 600.9h14.8v3.8h-14.8zM144.6 604.5h14.8v3.8h-14.8zM173.9 611.6h14.8v3.8h-14.8zM100.6 629.6h14.8v3.8h-14.8z"/>
<path fill="#f7d1b0" d="M173.9 507.7h14.8v3.8h-14.8zM86 557.9h14.8v3.8h-14.8zM115.3 600.9h14.8v3.8h-14.8z"/>
<path fill="#fcf4ed" d="M144.6 518.5h14.8v3.8h-14.8zM144.6 522.1h14.8v3.8h-14.8zM173.9 536.4h14.8v3.8h-14.8zM115.3 540h14.8v3.8h-14.8zM159.2 543.6h14.8v3.8h-14.8zM173.9 543.6h14.8v3.8h-14.8zM100.6 547.2h14.8v3.8h-14.8zM129.9 547.2h14.8v3.8h-14.8zM173.9 547.2h14.8v3.8h-14.8zM173.9 550.7h14.8v3.8h-14.8zM129.9 554.3h14.8v3.8h-14.8zM159.2 554.3h14.8v3.8h-14.8zM115.3 557.9h14.8v3.8h-14.8zM144.6 557.9h14.8v3.8h-14.8zM173.9 557.9h14.8v3.8h-14.8zM115.3 565.1h14.8v3.8h-14.8zM129.9 565.1h14.8v3.8h-14.8zM173.9 565.1h14.8v3.8h-14.8zM86 568.6h14.8v3.8h-14.8zM115.3 568.6h14.8v3.8h-14.8zM173.9 572.2h14.8v3.8h-14.8zM115.3 575.8h14.8v3.8h-14.8zM129.9 575.8h14.8v3.8h-14.8zM115.3 583h14.8v3.8h-14.8zM129.9 583h14.8v3.8h-14.8zM129.9 590.1h14.8v3.8h-14.8zM115.3 593.7h14.8v3.8h-14.8z"/>
<path fill="#f6c9a0" d="M86 522.1h14.8v3.8h-14.8zM173.9 579.4h14.8v3.8h-14.8zM86 593.7h14.8v3.8h-14.8z"/>
<path fill="#f2ae6c" d="M159.2 522.1h14.8v3.8h-14.8zM86 536.4h14.8v3.8h-14.8zM86 547.2h14.8v3.8h-14.8zM173.9 561.5h14.8v3.8h-14.8z"/>
<path fill="#c3c3e5" d="M159.2 525.7h14.8v3.8h-14.8zM100.6 618.8h14.8v3.8h-14.8zM129.9 618.8h14.8v3.8h-14.8zM86 622.4h14.8v3.8h-14.8zM144.6 633.1h14.8v3.8h-14.8z"/>
<path fill="#f3b478" d="M159.2 529.2h14.8v3.8h-14.8zM86 540h14.8v3.8h-14.8zM159.2 550.7h14.8v3.8h-14.8zM159.2 557.9h14.8v3.8h-14.8zM86 565.1h14.8v3.8h-14.8z"/>
<path fill="#d8d8f0" d="M159.2 536.4h14.8v3.8h-14.8zM100.6 593.7h14.8v3.8h-14.8zM144.6 593.7h14.8v3.8h-14.8zM173.9 604.5h14.8v3.8h-14.8zM100.6 611.6h14.8v3.8h-14.8zM129.9 611.6h14.8v3.8h-14.8zM144.6 611.6h14.8v3.8h-14.8zM144.6 618.8h14.8v3.8h-14.8zM129.9 626h14.8v3.8h-14.8z"/>
<path fill="#f4f4f9" d="M100.6 540h14.8v3.8h-14.8zM129.9 557.9h14.8v3.8h-14.8zM100.6 568.6h14.8v3.8h-14.8zM144.6 629.6h14.8v3.8h-14.8z"/>
<path fill="#efeff8" d="M144.6 540h14.8v3.8h-14.8zM144.6 543.6h14.8v3.8h-14.8zM144.6 547.2h14.8v3.8h-14.8zM173.9 554.3h14.8v3.8h-14.8zM100.6 586.6h14.8v3.8h-14.8z"/>
<path fill="#f4ba84" d="M159.2 540h14.8v3.8h-14.8z"/>
<path fill="#dfdff3" d="M129.9 543.6h14.8v3.8h-14.8zM100.6 561.5h14.8v3.8h-14.8zM129.9 568.6h14.8v3.8h-14.8zM100.6 572.2h14.8v3.8h-14.8zM86 575.8h14.8v3.8h-14.8zM144.6 600.9h14.8v3.8h-14.8zM100.6 622.4h14.8v3.8h-14.8z"/>
<path fill="#7575c0" d="M159.2 547.2h14.8v3.8h-14.8zM115.3 629.6h14.8v3.8h-14.8z"/>
<path fill="#cdcdeb" d="M86 554.3h14.8v3.8h-14.8zM86 572.2h14.8v3.8h-14.8zM115.3 579.4h14.8v3.8h-14.8zM173.9 593.7h14.8v3.8h-14.8zM173.9 600.9h14.8v3.8h-14.8zM115.3 611.6h14.8v3.8h-14.8zM115.3 615.2h14.8v3.8h-14.8zM115.3 622.4h14.8v3.8h-14.8zM173.9 622.4h14.8v3.8h-14.8zM100.6 626h14.8v3.8h-14.8zM144.6 626h14.8v3.8h-14.8zM173.9 626h14.8v3.8h-14.8z"/>
<path fill="#ababdb" d="M86 561.5h14.8v3.8h-14.8zM159.2 604.5h14.8v3.8h-14.8z"/>
<path fill="#5858ad" d="M159.2 561.5h14.8v3.8h-14.8zM86 579.4h14.8v3.8h-14.8zM86 583h14.8v3.8h-14.8zM86 600.9h14.8v3.8h-14.8zM159.2 622.4h14.8v3.8h-14.8z"/>
<path fill="#6060b3" d="M159.2 568.6h14.8v3.8h-14.8zM159.2 611.6h14.8v3.8h-14.8zM86 626h14.8v3.8h-14.8zM86 629.6h14.8v3.8h-14.8z"/>
<path fill="#9d9dd5" d="M159.2 583h14.8v3.8h-14.8zM86 590.1h14.8v3.8h-14.8zM173.9 590.1h14.8v3.8h-14.8zM115.3 626h14.8v3.8h-14.8z"/>
<path fill="#8383c8" d="M129.9 593.7h14.8v3.8h-14.8zM86 618.8h14.8v3.8h-14.8z"/>
<path fill="#4949a4" d="M159.2 593.7h14.8v3.8h-14.8zM115.3 608.1h14.8v3.8h-14.8zM86 611.6h14.8v3.8h-14.8zM100.6 633.1h14.8v3.8h-14.8zM115.3 633.1h14.8v3.8h-14.8zM129.9 633.1h14.8v3.8h-14.8zM173.9 633.1h14.8v3.8h-14.8zM173.9 636.7h14.8v3.8h-14.8z"/>
<path fill="#6868b8" d="M159.2 600.9h14.8v3.8h-14.8zM86 604.5h14.8v3.8h-14.8zM159.2 615.2h14.8v3.8h-14.8z"/>
<path fill="#e5e5f5" d="M129.9 604.5h14.8v3.8h-14.8z"/>
<path fill="#b8b8e0" d="M159.2 618.8h14.8v3.8h-14.8zM129.9 629.6h14.8v3.8h-14.8zM144.6 636.7h14.8v3.8h-14.8z"/>
<path fill="#5050a8" d="M159.2 629.6h14.8v3.8h-14.8zM173.9 629.6h14.8v3.8h-14.8zM159.2 633.1h14.8v3.8h-14.8zM159.2 636.7h14.8v3.8h-14.8z"/>
<path fill="#4143a0" d="M86 633.1h14.8v3.8h-14.8zM100.6 636.7h14.8v3.8h-14.8z"/>
<path fill="#3a3c9c" d="M86 636.7h14.8v3.8h-14.8zM115.3 636.7h14.8v3.8h-14.8zM129.9 636.7h14.8v3.8h-14.8z"/>
</g></g>
<rect x="86.0" y="497.0" width="102.5" height="143.29999999999995" fill="none" stroke="#777" stroke-width="0.6"/>
<rect x="86.00" y="468.20" width="14.69" height="8.05" fill="#d6d6d6"/>
<rect x="100.64" y="468.20" width="14.69" height="8.05" fill="#4a4a4a"/>
<rect x="115.29" y="468.20" width="14.69" height="8.05" fill="#4a4a4a"/>
<rect x="129.93" y="468.20" width="14.69" height="8.05" fill="#4a4a4a"/>
<rect x="144.57" y="468.20" width="14.69" height="8.05" fill="#d6d6d6"/>
<rect x="159.21" y="468.20" width="14.69" height="8.05" fill="#d6d6d6"/>
<rect x="173.86" y="468.20" width="14.69" height="8.05" fill="#4a4a4a"/>
<rect x="86.00" y="476.20" width="14.69" height="6.35" fill="#80cce0"/>
<rect x="100.64" y="476.20" width="14.69" height="6.35" fill="#2e2e84"/>
<rect x="115.29" y="476.20" width="14.69" height="6.35" fill="#2e2e84"/>
<rect x="129.93" y="476.20" width="14.69" height="6.35" fill="#2e2e84"/>
<rect x="144.57" y="476.20" width="14.69" height="6.35" fill="#2e2e84"/>
<rect x="159.21" y="476.20" width="14.69" height="6.35" fill="#2e2e84"/>
<rect x="173.86" y="476.20" width="14.69" height="6.35" fill="#2e2e84"/>
<rect x="86.00" y="482.50" width="14.69" height="6.95" fill="#3f8a4c"/>
<rect x="100.64" y="482.50" width="14.69" height="6.95" fill="#3f8a4c"/>
<rect x="115.29" y="482.50" width="14.69" height="6.95" fill="#3f8a4c"/>
<rect x="129.93" y="482.50" width="14.69" height="6.95" fill="#3f8a4c"/>
<rect x="144.57" y="482.50" width="14.69" height="6.95" fill="#3f8a4c"/>
<rect x="159.21" y="482.50" width="14.69" height="6.95" fill="#c8e08c"/>
<rect x="173.86" y="482.50" width="14.69" height="6.95" fill="#c8e08c"/>
<rect x="86.00" y="489.40" width="14.69" height="7.05" fill="#5c2088"/>
<rect x="100.64" y="489.40" width="14.69" height="7.05" fill="#5c2088"/>
<rect x="115.29" y="489.40" width="14.69" height="7.05" fill="#5c2088"/>
<rect x="129.93" y="489.40" width="14.69" height="7.05" fill="#5c2088"/>
<rect x="144.57" y="489.40" width="14.69" height="7.05" fill="#d68cc8"/>
<rect x="159.21" y="489.40" width="14.69" height="7.05" fill="#d68cc8"/>
<rect x="173.86" y="489.40" width="14.69" height="7.05" fill="#d68cc8"/>
<rect x="86.0" y="468.2" width="102.5" height="28.19999999999999" fill="none" stroke="#333" stroke-width="0.8"/>
<text x="190.30" y="474.30" font-size="8.1" text-anchor="start" fill="#231f20" stroke="#231f20" stroke-width="0.28">RB1</text>
<text x="190.30" y="481.70" font-size="8.1" text-anchor="start" fill="#231f20" stroke="#231f20" stroke-width="0.28">TP53</text>
<text x="190.30" y="488.90" font-size="8.1" text-anchor="start" fill="#231f20" stroke="#231f20" stroke-width="0.28">PTEN</text>
<text x="190.30" y="496.10" font-size="8.1" text-anchor="start" fill="#231f20" stroke="#231f20" stroke-width="0.28">PIK3CA</text>
<text x="68.50" y="502.60" font-size="9.6" text-anchor="end" fill="#231f20" stroke="#231f20" stroke-width="0.28">CREBBP</text>
<text x="68.50" y="515.70" font-size="9.6" text-anchor="end" fill="#231f20" stroke="#231f20" stroke-width="0.28">RB1</text>
<line x1="70.40" y1="499.10" x2="86.00" y2="499.10" stroke="#666" stroke-width="0.6"/>
<path d="M70.4,512.2 L74.5,512.2 L80.2,501.4 L86,501.4" stroke="#555" fill="none" stroke-width="0.6"/>
<text x="68.50" y="617.80" font-size="9.6" text-anchor="end" fill="#231f20" stroke="#231f20" stroke-width="0.28">PLK1</text>
<text x="68.50" y="629.70" font-size="9.6" text-anchor="end" fill="#231f20" stroke="#231f20" stroke-width="0.28">SF3B1</text>
<text x="68.50" y="642.60" font-size="9.6" text-anchor="end" fill="#231f20" stroke="#231f20" stroke-width="0.28">UBB</text>
<path d="M70.4,613.6 L74.1,613.6 L79.9,634.6 L86,634.6" stroke="#555" fill="none" stroke-width="0.6"/>
<path d="M70.4,625.5 L74,625.5 L79.5,636.3 L86,636.3" stroke="#555" fill="none" stroke-width="0.6"/>
<line x1="70.40" y1="638.30" x2="86.00" y2="638.30" stroke="#666" stroke-width="0.6"/>
<rect x="32.30" y="525.80" width="11.50" height="6.20" fill="#d8d8d8"/>
<text x="45.10" y="531.50" font-size="7.3" text-anchor="start" fill="#222" stroke="#222" stroke-width="0.28">RB1WT</text>
<rect x="32.30" y="534.60" width="11.50" height="6.20" fill="#555555"/>
<text x="45.10" y="540.30" font-size="7.3" text-anchor="start" fill="#222" stroke="#222" stroke-width="0.28">RB1alt</text>
<rect x="32.30" y="547.40" width="11.50" height="6.20" fill="#80cce0"/>
<text x="45.10" y="553.10" font-size="7.3" text-anchor="start" fill="#222" stroke="#222" stroke-width="0.28">TP53WT</text>
<rect x="32.30" y="556.00" width="11.50" height="6.20" fill="#2e2e84"/>
<text x="45.10" y="561.70" font-size="7.3" text-anchor="start" fill="#222" stroke="#222" stroke-width="0.28">TP53alt</text>
<rect x="32.30" y="568.90" width="11.50" height="6.20" fill="#c8dc90"/>
<text x="45.10" y="574.60" font-size="7.3" text-anchor="start" fill="#222" stroke="#222" stroke-width="0.28">PTENWT</text>
<rect x="32.30" y="577.70" width="11.50" height="6.20" fill="#3f8a4f"/>
<text x="45.10" y="583.40" font-size="7.3" text-anchor="start" fill="#222" stroke="#222" stroke-width="0.28">PTENalt</text>
<rect x="32.30" y="589.20" width="11.50" height="6.20" fill="#d88ec8"/>
<text x="45.10" y="594.90" font-size="7.3" text-anchor="start" fill="#222" stroke="#222" stroke-width="0.28">PIK3CAWT</text>
<rect x="32.30" y="598.40" width="11.50" height="6.20" fill="#5c2088"/>
<text x="45.10" y="604.10" font-size="7.3" text-anchor="start" fill="#222" stroke="#222" stroke-width="0.28">PIK3CAalt</text>
<text x="89.80" y="645.00" font-size="9.6" text-anchor="start" fill="#231f20" stroke="#231f20" stroke-width="0.28" transform="rotate(90 89.80 645.00)">CAL-51</text>
<text x="104.30" y="645.00" font-size="9.6" text-anchor="start" fill="#231f20" stroke="#231f20" stroke-width="0.28" transform="rotate(90 104.30 645.00)">HCC70</text>
<text x="119.80" y="645.00" font-size="9.6" text-anchor="start" fill="#231f20" stroke="#231f20" stroke-width="0.28" transform="rotate(90 119.80 645.00)">BT20</text>
<text x="133.80" y="645.00" font-size="9.6" text-anchor="start" fill="#231f20" stroke="#231f20" stroke-width="0.28" transform="rotate(90 133.80 645.00)">HCC1937</text>
<text x="148.60" y="645.00" font-size="9.6" text-anchor="start" fill="#231f20" stroke="#231f20" stroke-width="0.28" transform="rotate(90 148.60 645.00)">HCC1806</text>
<text x="164.00" y="645.00" font-size="9.6" text-anchor="start" fill="#231f20" stroke="#231f20" stroke-width="0.28" transform="rotate(90 164.00 645.00)">Hs578t</text>
<text x="178.10" y="645.00" font-size="9.6" text-anchor="start" fill="#231f20" stroke="#231f20" stroke-width="0.28" transform="rotate(90 178.10 645.00)">MDA-MB-157</text>
<rect x="36.20" y="656.20" width="10.95" height="5.80" fill="#f0a050"/>
<rect x="47.10" y="656.20" width="10.65" height="5.80" fill="#ffffff"/>
<rect x="57.70" y="656.20" width="10.35" height="5.80" fill="#b8b8e0"/>
<rect x="68.00" y="656.20" width="10.85" height="5.80" fill="#3c48a0"/>
<rect x="36.2" y="656.2" width="42.6" height="5.8" fill="none" stroke="#aaa" stroke-width="0.4"/>
<text x="32.20" y="671.20" font-size="9.6" text-anchor="middle" fill="#231f20" stroke="#231f20" stroke-width="0.28">1.8</text>
<text x="52.30" y="671.20" font-size="9.6" text-anchor="middle" fill="#231f20" stroke="#231f20" stroke-width="0.28">0</text>
<text x="72.50" y="671.20" font-size="9.6" text-anchor="middle" fill="#231f20" stroke="#231f20" stroke-width="0.28">0.2</text>
<text x="52.30" y="685.00" font-size="9.6" text-anchor="middle" fill="#231f20" stroke="#231f20" stroke-width="0.28">Viability</text>
<text x="247.70" y="477.60" font-size="18" text-anchor="start" font-weight="bold" fill="#000">E</text>
<defs><filter id="hb" x="-10%" y="-10%" width="120%" height="120%"><feGaussianBlur stdDeviation="0.45"/></filter>
<clipPath id="cp00"><rect x="267.2" y="487.8" width="83.00000000000003" height="83.89999999999995"/></clipPath>
<clipPath id="cp01"><rect x="267.2" y="572.3" width="83.00000000000003" height="83.3000000000001"/></clipPath>
<clipPath id="cp10"><rect x="350.8" y="487.8" width="82.4" height="83.89999999999995"/></clipPath>
<clipPath id="cp11"><rect x="350.8" y="572.3" width="82.4" height="83.3000000000001"/></clipPath>
<clipPath id="cp20"><rect x="433.8" y="487.8" width="86.1" height="83.89999999999995"/></clipPath>
<clipPath id="cp21"><rect x="433.8" y="572.3" width="86.1" height="83.3000000000001"/></clipPath>
</defs>
<rect x="267.20" y="487.80" width="83.00" height="83.90" fill="#f8f8f9"/>
<rect x="267.20" y="572.30" width="83.00" height="83.30" fill="#f8f8f9"/>
<rect x="350.80" y="487.80" width="82.40" height="83.90" fill="#f8f8f9"/>
<rect x="350.80" y="572.30" width="82.40" height="83.30" fill="#f8f8f9"/>
<rect x="433.80" y="487.80" width="86.10" height="83.90" fill="#f8f8f9"/>
<rect x="433.80" y="572.30" width="86.10" height="83.30" fill="#f8f8f9"/>
<g clip-path="url(#cp00)">
<g filter="url(#hb)">
<ellipse cx="307" cy="531.7" rx="23.6" ry="22.6" fill="#e8cce8"/>
<path fill="#9a5aa0" d="M298.2 536.9h0.7v0.7h-0.7zM290.7 539.3h1v1h-1zM311.2 551.7h1v1h-1zM285.9 538.7h1.1v1.1h-1.1zM290.8 537h0.8v0.8h-0.8zM299.1 511.4h1v1h-1zM302.5 512.3h0.9v0.9h-0.9zM300.7 535h0.7v0.7h-0.7zM321.1 530.4h1.1v1.1h-1.1zM299.7 545.2h1.1v1.1h-1.1zM321.9 544.6h1v1h-1zM313 516.4h1.1v1.1h-1.1zM309.1 551.3h1v1h-1zM293.5 536.3h0.8v0.8h-0.8zM297 515.3h1.1v1.1h-1.1zM305.7 510.9h0.8v0.8h-0.8zM313.7 544.3h1.1v1.1h-1.1zM287.1 541.8h0.8v0.8h-0.8zM295.1 543.5h1v1h-1zM298.2 514.6h0.6v0.6h-0.6zM294.2 546.6h0.9v0.9h-0.9zM284.7 528.5h0.8v0.8h-0.8zM303.6 525h0.9v0.9h-0.9zM317.9 548.7h1v1h-1zM328.5 533.9h1.1v1.1h-1.1zM285 529.8h0.6v0.6h-0.6zM302.1 534.1h0.9v0.9h-0.9zM326.1 524.2h1.1v1.1h-1.1zM295.2 524.5h0.8v0.8h-0.8zM296.1 522.7h0.7v0.7h-0.7zM312.7 550h0.8v0.8h-0.8zM310.3 526.3h0.9v0.9h-0.9zM326.7 523.8h0.9v0.9h-0.9zM307.3 528.2h0.7v0.7h-0.7zM316.8 513.2h1.1v1.1h-1.1zM314.5 514.7h1v1h-1zM308.7 545.6h0.9v0.9h-0.9zM325.4 520.1h1.1v1.1h-1.1zM324.2 533.1h0.6v0.6h-0.6zM299.9 520.1h0.9v0.9h-0.9zM318.7 531h0.6v0.6h-0.6zM318.8 536.7h1.1v1.1h-1.1zM309.2 531.9h1v1h-1zM303.6 543.9h1v1h-1zM307.1 545.3h0.8v0.8h-0.8zM292.5 532.7h1.1v1.1h-1.1zM298 526.1h1v1h-1zM306.9 526.8h1.1v1.1h-1.1zM321.4 514.9h0.6v0.6h-0.6zM295.1 542.2h0.6v0.6h-0.6zM300.6 543.5h1.2v1.2h-1.2zM317.9 513.9h0.7v0.7h-0.7zM313.1 523.8h1.1v1.1h-1.1zM305.6 535.3h1.1v1.1h-1.1zM326.7 527.9h0.6v0.6h-0.6zM315 513.7h0.8v0.8h-0.8zM316.1 520.5h0.6v0.6h-0.6zM317.3 548.2h0.7v0.7h-0.7zM317.9 527.9h0.7v0.7h-0.7zM322.2 529.1h1v1h-1zM300.8 526.9h0.6v0.6h-0.6zM328.6 533.1h0.9v0.9h-0.9zM313.2 537.2h1v1h-1zM314.9 525.2h0.9v0.9h-0.9zM289.9 537.9h0.9v0.9h-0.9zM316.2 514.2h0.7v0.7h-0.7zM301.5 533.5h1.1v1.1h-1.1zM320 521.6h0.7v0.7h-0.7zM317.8 520.1h0.7v0.7h-0.7zM312.8 540h0.7v0.7h-0.7zM314.1 527.4h0.6v0.6h-0.6zM303.7 546.1h0.8v0.8h-0.8zM298.3 527h1v1h-1zM297.9 543.3h1.1v1.1h-1.1zM314.7 548.2h0.7v0.7h-0.7zM286.8 526.8h1v1h-1zM287.5 521.1h1.1v1.1h-1.1zM321.7 540.2h0.8v0.8h-0.8zM312.3 536.4h1.1v1.1h-1.1zM315.3 531.1h1.1v1.1h-1.1zM307.7 510.5h0.9v0.9h-0.9zM310.1 517.2h1.1v1.1h-1.1zM301.8 534.5h1v1h-1zM327.5 539.4h0.8v0.8h-0.8zM295.9 515.9h1v1h-1zM314.3 528.5h0.8v0.8h-0.8zM305.1 520.4h0.8v0.8h-0.8zM323.9 537.3h0.8v0.8h-0.8zM324.8 525.3h0.8v0.8h-0.8zM315.2 515h1v1h-1zM311.4 526.3h1v1h-1zM314.4 523.6h1v1h-1zM308.7 549.3h0.8v0.8h-0.8zM299.8 536h0.8v0.8h-0.8z"/>
<path fill="#c898c8" d="M311.1 536.1h0.8v0.8h-0.8zM311.6 512.1h0.7v0.7h-0.7zM298.7 550.4h0.7v0.7h-0.7zM308.3 512.9h0.7v0.7h-0.7zM296.7 534.6h1.1v1.1h-1.1zM291.7 539.4h0.9v0.9h-0.9zM323.9 519.4h1v1h-1zM310.7 545.7h0.8v0.8h-0.8zM291.3 516.5h0.6v0.6h-0.6zM323.7 541.2h0.8v0.8h-0.8zM293.5 520.9h1v1h-1zM308.5 510.1h0.8v0.8h-0.8zM307.5 523h0.6v0.6h-0.6zM314.2 525.9h0.7v0.7h-0.7zM315.3 550.4h0.7v0.7h-0.7zM295.6 525.8h0.8v0.8h-0.8zM314.3 542.8h0.7v0.7h-0.7zM294.5 542.9h0.7v0.7h-0.7zM322.6 533h0.8v0.8h-0.8zM323.7 533.4h0.6v0.6h-0.6zM293.9 538.9h1v1h-1zM291.3 536.4h0.7v0.7h-0.7zM304.3 538.4h0.7v0.7h-0.7zM298.8 549.7h0.9v0.9h-0.9zM308.3 539.1h0.7v0.7h-0.7zM322.6 535.8h0.9v0.9h-0.9zM307.1 538.8h1.2v1.2h-1.2zM315.3 540h0.8v0.8h-0.8zM318.8 525.5h0.9v0.9h-0.9zM320.6 525.2h0.9v0.9h-0.9zM316.9 534.1h0.8v0.8h-0.8zM308.1 528.4h1.1v1.1h-1.1zM300.9 547.8h0.7v0.7h-0.7zM311.1 544.8h0.7v0.7h-0.7zM309 551.9h1.1v1.1h-1.1zM314.1 546h0.9v0.9h-0.9zM284.2 530.5h0.9v0.9h-0.9zM295.1 518.5h0.8v0.8h-0.8zM302.5 516.8h0.7v0.7h-0.7zM326.9 522.6h1.1v1.1h-1.1zM291.4 546.4h0.5v0.5h-0.5zM312.8 529.8h0.8v0.8h-0.8zM301.7 512.6h0.6v0.6h-0.6zM290.6 520.1h0.7v0.7h-0.7zM295.5 534h0.6v0.6h-0.6zM305 516.8h0.7v0.7h-0.7zM312.2 546.9h0.6v0.6h-0.6zM311.7 510.7h1v1h-1zM305.6 535.5h0.6v0.6h-0.6zM314.9 550h0.8v0.8h-0.8zM318.7 514.5h0.6v0.6h-0.6zM322.6 531.3h0.6v0.6h-0.6zM293.1 516.2h0.8v0.8h-0.8zM321.3 527.3h0.8v0.8h-0.8zM309.6 540.6h0.5v0.5h-0.5zM322 537.7h0.7v0.7h-0.7zM325.1 520.6h0.7v0.7h-0.7zM302.3 524.9h0.6v0.6h-0.6zM290.7 543.7h0.6v0.6h-0.6zM316.5 516.8h0.9v0.9h-0.9zM310.4 542.2h1v1h-1zM315.1 538h0.7v0.7h-0.7zM300.5 516.9h1.1v1.1h-1.1zM301.3 515h0.8v0.8h-0.8zM304.9 529h0.8v0.8h-0.8zM293.7 532.6h1.1v1.1h-1.1z"/>
<path fill="#8a4a90" d="M299.8 516.5h0.8v0.8h-0.8zM297.2 533.5h0.8v0.8h-0.8zM297.3 512.9h1v1h-1zM329.1 528.2h1v1h-1zM285.7 523.7h0.9v0.9h-0.9zM304.9 514.9h0.7v0.7h-0.7zM313 543h0.6v0.6h-0.6zM295.5 516.5h1.1v1.1h-1.1zM300.8 518.1h0.9v0.9h-0.9zM307.3 543.8h0.8v0.8h-0.8zM323.7 543.6h0.9v0.9h-0.9zM311.1 548.8h0.6v0.6h-0.6zM311.8 512.8h1.2v1.2h-1.2zM298 537.1h1.1v1.1h-1.1zM291.3 535.8h0.6v0.6h-0.6zM316.4 537.8h0.7v0.7h-0.7zM289.9 544.3h0.8v0.8h-0.8zM318.7 514.6h0.7v0.7h-0.7zM304.6 540.7h0.6v0.6h-0.6zM288.6 531h0.9v0.9h-0.9zM309.6 545.1h0.6v0.6h-0.6zM299.7 522.4h0.9v0.9h-0.9zM313.4 515.2h0.8v0.8h-0.8zM303.8 511.4h0.7v0.7h-0.7zM307.7 524.5h0.7v0.7h-0.7zM323.8 517.3h0.8v0.8h-0.8zM287.2 542.7h0.7v0.7h-0.7zM289.6 531h0.6v0.6h-0.6zM302.6 552.3h1.1v1.1h-1.1zM289 532.6h0.8v0.8h-0.8zM314.3 539.4h0.8v0.8h-0.8zM299.7 534.5h0.6v0.6h-0.6zM305.8 531h1v1h-1zM299 549.8h0.6v0.6h-0.6zM308.7 540.9h0.9v0.9h-0.9zM290 537.6h0.7v0.7h-0.7zM309.5 509.9h0.8v0.8h-0.8zM311.6 528h0.7v0.7h-0.7zM312.3 525.8h0.8v0.8h-0.8zM296.5 513.3h0.6v0.6h-0.6zM312.9 524.4h0.7v0.7h-0.7zM316.7 517.3h0.8v0.8h-0.8zM308.7 534.2h0.6v0.6h-0.6zM320 526.3h1.1v1.1h-1.1zM305.5 509.6h0.6v0.6h-0.6zM303.8 540.6h1v1h-1zM299.3 543.9h0.9v0.9h-0.9zM308.9 536.8h0.9v0.9h-0.9zM310.1 529.8h0.9v0.9h-0.9zM324.8 535.4h0.8v0.8h-0.8zM324.1 545.1h1.1v1.1h-1.1zM309 523.7h0.5v0.5h-0.5zM325.1 541.7h0.6v0.6h-0.6zM295.9 546.7h0.7v0.7h-0.7zM299.1 533.8h0.6v0.6h-0.6zM311.4 515.3h1.1v1.1h-1.1zM301.5 523.3h0.9v0.9h-0.9zM318.8 515.7h0.9v0.9h-0.9zM304.4 513.2h0.6v0.6h-0.6zM310.8 549.6h0.8v0.8h-0.8zM300.6 521.7h0.7v0.7h-0.7zM289 545.1h0.8v0.8h-0.8zM322.8 536.7h0.9v0.9h-0.9zM305.2 553h1.1v1.1h-1.1zM286.6 524.6h0.7v0.7h-0.7zM303.8 542.4h0.6v0.6h-0.6zM301 535.3h0.5v0.5h-0.5zM305.1 551.5h1v1h-1zM308.5 544.1h1v1h-1zM325.6 538.1h1v1h-1zM305.5 527.8h1v1h-1zM292.4 541.8h1.1v1.1h-1.1zM292.3 538.8h1v1h-1zM307.2 545.7h0.8v0.8h-0.8zM324.5 523h1.1v1.1h-1.1zM324.9 541.3h0.8v0.8h-0.8zM321.4 543h1.1v1.1h-1.1zM297.8 539.1h0.6v0.6h-0.6zM324.2 539.8h0.6v0.6h-0.6zM324.8 522.1h1.1v1.1h-1.1zM327.2 529.2h1.1v1.1h-1.1zM318.5 531.3h0.7v0.7h-0.7z"/>
<path fill="#a86aa8" d="M322.3 526.1h0.8v0.8h-0.8zM296.9 537.8h0.8v0.8h-0.8zM292.2 547.4h0.8v0.8h-0.8zM321 521.3h0.8v0.8h-0.8zM304.3 527.8h0.6v0.6h-0.6zM296.4 529.8h0.9v0.9h-0.9zM304.2 531.3h0.8v0.8h-0.8zM300.8 549.4h1.1v1.1h-1.1zM287.4 541.2h0.9v0.9h-0.9zM318.7 517.8h0.6v0.6h-0.6zM322 544.2h0.8v0.8h-0.8zM302.5 528.9h0.6v0.6h-0.6zM304.6 514.2h1.1v1.1h-1.1zM297.6 540h0.9v0.9h-0.9zM286.1 532.2h0.8v0.8h-0.8zM297.2 526.9h0.8v0.8h-0.8zM314 549.2h1.1v1.1h-1.1zM294.7 536h1v1h-1zM305.6 546h0.8v0.8h-0.8zM300.1 540.5h0.9v0.9h-0.9zM289.5 538.4h1v1h-1zM293.2 521.3h1.1v1.1h-1.1zM295.1 512.1h1.2v1.2h-1.2zM324 535.1h0.7v0.7h-0.7zM315.2 536h1v1h-1zM312.9 535h1.1v1.1h-1.1zM313.4 519.5h1.1v1.1h-1.1zM320.1 529.9h0.7v0.7h-0.7zM296 514.9h0.9v0.9h-0.9zM289 535.9h0.7v0.7h-0.7zM290.8 530.1h0.8v0.8h-0.8zM316 531.2h1v1h-1zM316.6 528.5h1v1h-1zM301.7 540.4h0.6v0.6h-0.6zM314.3 548.3h0.9v0.9h-0.9zM299.4 532.7h1.1v1.1h-1.1zM319.2 522.8h0.8v0.8h-0.8zM305.4 523.4h1.1v1.1h-1.1zM285.4 525.1h0.6v0.6h-0.6zM306.1 544h1.1v1.1h-1.1zM317.2 531h0.7v0.7h-0.7zM315.7 524.9h0.9v0.9h-0.9zM320.3 541.4h1.1v1.1h-1.1zM295.2 517.4h0.8v0.8h-0.8zM311.2 513.8h0.8v0.8h-0.8zM307 552.4h0.7v0.7h-0.7zM305.1 527h1.2v1.2h-1.2zM303.8 551.4h0.6v0.6h-0.6zM312.2 541h0.6v0.6h-0.6zM313.6 543.8h0.9v0.9h-0.9zM284.6 528.9h1v1h-1zM321.7 533.9h1.1v1.1h-1.1zM298 547.5h0.9v0.9h-0.9zM322.5 518.8h1.1v1.1h-1.1zM296 545.3h0.7v0.7h-0.7zM289.5 522.3h0.7v0.7h-0.7zM303.2 516.5h0.8v0.8h-0.8zM329 531h1v1h-1zM287.2 523.1h0.9v0.9h-0.9zM324.6 519.1h1v1h-1zM324.2 532.7h1.1v1.1h-1.1zM313.6 535.7h0.6v0.6h-0.6zM289.8 521.9h0.7v0.7h-0.7zM323.9 544.5h1v1h-1zM323.2 539.4h1.1v1.1h-1.1zM311.9 545.1h0.8v0.8h-0.8zM312.3 522.7h0.6v0.6h-0.6zM320.2 521.9h0.5v0.5h-0.5zM310.6 529.2h0.9v0.9h-0.9zM296.7 514.1h1.1v1.1h-1.1zM302.4 523h0.6v0.6h-0.6zM313.2 543.3h0.6v0.6h-0.6zM311.9 550.6h1v1h-1zM295.8 541.8h1.1v1.1h-1.1zM311.7 529h0.6v0.6h-0.6zM300.2 521.4h0.6v0.6h-0.6zM300.1 538.5h0.6v0.6h-0.6z"/>
<path fill="#f6ecf6" d="M300.5 518.2h0.9v0.9h-0.9zM317.8 544.8h0.7v0.7h-0.7zM297.1 540.2h0.8v0.8h-0.8zM323.7 522.5h1v1h-1zM324.4 520h0.9v0.9h-0.9zM309.1 537.8h0.8v0.8h-0.8zM316.8 512.4h0.9v0.9h-0.9zM316.6 536.1h0.9v0.9h-0.9zM288.9 538.2h0.7v0.7h-0.7zM322.8 519.1h0.7v0.7h-0.7zM309.8 537.8h0.9v0.9h-0.9zM314.2 510.9h1.1v1.1h-1.1zM315.6 545.6h0.5v0.5h-0.5zM288.6 544.7h0.6v0.6h-0.6zM310.8 536.2h0.6v0.6h-0.6zM320.3 529h0.9v0.9h-0.9zM306.4 525.3h0.6v0.6h-0.6zM323.2 543.6h0.8v0.8h-0.8zM295.9 547.8h0.9v0.9h-0.9zM319.5 538.3h0.8v0.8h-0.8zM324.2 535.7h0.8v0.8h-0.8zM307.9 532.2h0.7v0.7h-0.7zM298.1 529.5h0.9v0.9h-0.9zM313.7 520.4h0.7v0.7h-0.7zM302 531h1.1v1.1h-1.1zM295.5 539.5h1v1h-1zM311.1 538.8h0.8v0.8h-0.8zM296.1 538.9h0.9v0.9h-0.9zM326.4 528.3h0.6v0.6h-0.6zM322.1 530.4h1v1h-1zM316.2 527.2h1.1v1.1h-1.1zM294.5 523h0.7v0.7h-0.7zM306.6 520.8h0.6v0.6h-0.6zM296.5 526.2h0.6v0.6h-0.6zM312.7 537.7h0.8v0.8h-0.8zM299.2 530.9h1v1h-1zM305.5 537.7h1v1h-1zM309.6 519.4h1.1v1.1h-1.1zM308.5 537.6h0.7v0.7h-0.7zM300.3 531.2h0.7v0.7h-0.7zM289.9 529.2h1v1h-1zM286.7 538.6h0.8v0.8h-0.8zM291.8 523h0.6v0.6h-0.6zM317.9 541.8h0.8v0.8h-0.8zM286.4 528.6h1v1h-1zM312.9 516.3h0.6v0.6h-0.6zM284.9 530.7h0.7v0.7h-0.7zM299.2 545.3h0.6v0.6h-0.6zM323.1 516.2h1v1h-1zM310.7 534h1v1h-1zM312.8 532.8h0.7v0.7h-0.7zM288.5 517.8h0.8v0.8h-0.8zM309.8 512.2h0.8v0.8h-0.8zM300.9 546.9h1v1h-1zM313.3 543.2h0.7v0.7h-0.7zM316.6 542h0.9v0.9h-0.9zM302.1 521.2h1.1v1.1h-1.1zM312.3 529.3h0.7v0.7h-0.7zM305 534.2h0.8v0.8h-0.8zM317.8 522.2h1v1h-1zM322.7 542.4h1.1v1.1h-1.1z"/>
<path fill="#b070b0" d="M317.1 526.6h0.8v0.8h-0.8zM296.9 516.9h0.8v0.8h-0.8zM296.5 514.3h1v1h-1zM305.6 531h1.1v1.1h-1.1zM293.1 517.3h0.7v0.7h-0.7zM314.1 532.3h0.6v0.6h-0.6zM312 532.4h0.8v0.8h-0.8zM319.6 532.3h0.6v0.6h-0.6zM289.7 530.2h0.6v0.6h-0.6zM312.7 545.5h0.7v0.7h-0.7zM307.7 514.1h1v1h-1zM321.7 517.9h0.7v0.7h-0.7zM296.4 523.6h1v1h-1zM312 542.2h0.7v0.7h-0.7zM301.7 512.1h0.9v0.9h-0.9zM310.5 532.9h0.7v0.7h-0.7zM303.8 529.9h0.7v0.7h-0.7zM317.9 516h1v1h-1zM297.4 532.6h0.9v0.9h-0.9zM311.3 523.3h1v1h-1zM317.9 519.3h0.9v0.9h-0.9zM322.3 518h1.2v1.2h-1.2zM297.2 518.7h0.7v0.7h-0.7zM319.4 533.8h0.9v0.9h-0.9zM318.1 548.5h0.7v0.7h-0.7zM295.2 539.9h0.8v0.8h-0.8zM305.1 516.1h1v1h-1zM292.4 544.1h0.8v0.8h-0.8zM321.5 532.2h1.1v1.1h-1.1zM305.4 544.3h0.8v0.8h-0.8zM302.4 550.7h0.8v0.8h-0.8zM306.1 548.4h0.6v0.6h-0.6zM296.9 540.7h1v1h-1zM327.8 526h0.8v0.8h-0.8zM297.7 524.8h1.1v1.1h-1.1zM307.7 529.8h0.7v0.7h-0.7zM310.4 532.8h0.8v0.8h-0.8zM318 535.6h0.9v0.9h-0.9zM291.9 538.1h0.8v0.8h-0.8zM323.6 540.1h1v1h-1zM285.3 536.2h0.6v0.6h-0.6zM295.6 514.8h0.8v0.8h-0.8zM320 514.1h0.8v0.8h-0.8zM307.5 549.3h0.7v0.7h-0.7zM315.1 539.5h0.8v0.8h-0.8zM323.5 543.8h1v1h-1zM291.2 523.4h0.7v0.7h-0.7zM293.2 539.5h1v1h-1zM315.3 546.9h0.8v0.8h-0.8zM317 515.2h1v1h-1zM285 528.3h0.9v0.9h-0.9zM309.7 551h0.5v0.5h-0.5zM302 520.5h0.6v0.6h-0.6zM323.1 539.7h0.6v0.6h-0.6zM305.6 511.4h1v1h-1zM312.2 547.3h1.1v1.1h-1.1zM289.7 544.1h0.7v0.7h-0.7zM317.7 522.2h0.8v0.8h-0.8zM293.2 535.7h0.8v0.8h-0.8zM315 520.9h0.6v0.6h-0.6zM295.7 531.9h0.7v0.7h-0.7zM307 527.8h0.7v0.7h-0.7zM318.9 514.5h0.6v0.6h-0.6zM314.2 518.9h0.6v0.6h-0.6zM312.8 545.1h0.8v0.8h-0.8zM318.6 548.1h0.6v0.6h-0.6zM319.8 535.6h0.9v0.9h-0.9zM312 525.7h1v1h-1zM320.2 530.2h0.6v0.6h-0.6zM311.2 531.6h0.7v0.7h-0.7zM319.1 533.8h1.1v1.1h-1.1zM306.7 533.7h0.8v0.8h-0.8zM289.5 534.3h1v1h-1zM296.9 539h1v1h-1zM307.7 516.5h0.8v0.8h-0.8zM327 533h0.9v0.9h-0.9zM323.8 522.1h1.1v1.1h-1.1zM313.1 518.9h0.6v0.6h-0.6zM306.1 535.4h1.1v1.1h-1.1zM319.6 542.6h0.7v0.7h-0.7z"/>
</g>
</g>
<g clip-path="url(#cp10)">
<g filter="url(#hb)">
<ellipse cx="392.3" cy="530.8" rx="24.2" ry="24.2" fill="#f2f0ec"/>
<path fill="#d8ccb8" d="M370.6 524.5h1v1h-1zM400.7 548h0.8v0.8h-0.8zM399.2 545.7h0.9v0.9h-0.9zM403 530.9h0.7v0.7h-0.7zM395.3 551.1h0.8v0.8h-0.8zM406.8 525.2h1.1v1.1h-1.1zM402.5 524.8h0.6v0.6h-0.6zM410.7 536.1h0.6v0.6h-0.6zM387.9 513.5h0.9v0.9h-0.9zM400.8 537.1h1.1v1.1h-1.1zM408.8 545.9h0.8v0.8h-0.8zM401.8 542h1.1v1.1h-1.1zM410.8 536.6h0.7v0.7h-0.7zM402.5 510.6h1.1v1.1h-1.1zM398.8 544.8h1v1h-1zM391.2 533.5h1v1h-1zM390.1 551.6h0.6v0.6h-0.6zM410.6 527.7h1.1v1.1h-1.1zM383.4 537.2h1.1v1.1h-1.1zM392.5 519.3h0.8v0.8h-0.8zM390 547.8h0.6v0.6h-0.6zM376.2 539.4h0.7v0.7h-0.7zM383 552h0.9v0.9h-0.9zM374.5 517.9h0.8v0.8h-0.8zM374.4 525.1h0.6v0.6h-0.6zM392.8 542.9h1v1h-1zM398.3 549.2h0.7v0.7h-0.7zM400.5 510.5h0.9v0.9h-0.9zM379.3 542.8h0.7v0.7h-0.7zM396.7 533.3h0.9v0.9h-0.9zM382.4 514.1h1.1v1.1h-1.1zM412.7 537.6h0.7v0.7h-0.7zM372.6 539.3h1.1v1.1h-1.1zM404.8 547.8h0.7v0.7h-0.7zM385.1 526h0.6v0.6h-0.6zM391.9 527.3h0.7v0.7h-0.7zM398.8 508.2h0.6v0.6h-0.6zM386.8 510.9h1.2v1.2h-1.2zM395.3 534.8h0.7v0.7h-0.7zM396.3 541.6h1.1v1.1h-1.1zM405 536.9h1v1h-1zM393.5 545.2h0.7v0.7h-0.7zM395.9 515h1.2v1.2h-1.2zM406.5 543.7h0.6v0.6h-0.6zM396.8 548.8h1v1h-1zM408.7 516.9h0.9v0.9h-0.9zM398.3 508.8h0.8v0.8h-0.8zM398.6 512.5h0.6v0.6h-0.6zM379 525.3h0.7v0.7h-0.7zM402.6 519.8h0.7v0.7h-0.7zM388.2 508.2h0.7v0.7h-0.7zM391 551.8h0.9v0.9h-0.9zM386.4 522.8h0.6v0.6h-0.6zM412.4 529.6h0.6v0.6h-0.6zM392.3 549.6h0.9v0.9h-0.9zM405.7 546.7h0.7v0.7h-0.7zM402.4 535.6h0.7v0.7h-0.7zM380.4 549.7h1v1h-1z"/>
<path fill="#ffffff" d="M380.6 512h0.6v0.6h-0.6zM398.9 532.5h1.2v1.2h-1.2zM400.6 517.9h0.9v0.9h-0.9zM377.2 531.5h0.5v0.5h-0.5zM399.2 537h0.7v0.7h-0.7zM379.8 521.2h0.9v0.9h-0.9zM411.8 529.5h0.7v0.7h-0.7zM402.6 541h0.7v0.7h-0.7zM396 539.5h0.8v0.8h-0.8zM402 509.7h0.8v0.8h-0.8zM385.1 533.7h1v1h-1zM378.6 547.6h1.2v1.2h-1.2zM378 516h1v1h-1zM391.4 548.8h0.7v0.7h-0.7zM402.9 528.9h0.9v0.9h-0.9zM389.6 526.3h0.7v0.7h-0.7zM400.5 549h0.6v0.6h-0.6zM379.7 526.7h1v1h-1zM369.4 536.3h0.6v0.6h-0.6zM397.1 513.3h1v1h-1zM387.1 526.3h1.1v1.1h-1.1zM410.3 518.2h0.6v0.6h-0.6zM372.2 517.7h0.8v0.8h-0.8zM382.4 519.2h1.1v1.1h-1.1zM379 547.7h0.8v0.8h-0.8zM414.7 533.3h1.1v1.1h-1.1zM406.1 534.3h0.7v0.7h-0.7zM374.7 541.5h0.8v0.8h-0.8zM390.4 538.6h0.8v0.8h-0.8zM395.8 508.7h0.6v0.6h-0.6zM384.1 513.3h1.1v1.1h-1.1zM401.1 529.7h1v1h-1zM388.6 521.4h1v1h-1zM374.6 542.8h0.9v0.9h-0.9zM376.3 547.7h0.9v0.9h-0.9zM405.1 526.7h0.9v0.9h-0.9zM406.2 518.1h0.6v0.6h-0.6zM388.5 527.7h0.8v0.8h-0.8zM384 522.2h1v1h-1zM407.4 541h1.2v1.2h-1.2zM398 515.1h1.1v1.1h-1.1zM401.1 517.7h0.6v0.6h-0.6zM396.3 531.8h0.8v0.8h-0.8zM404 539.8h1v1h-1zM404 530h1.1v1.1h-1.1zM389.8 519.6h1.2v1.2h-1.2zM376.7 533.5h1.1v1.1h-1.1zM394.1 530h0.8v0.8h-0.8zM402.9 535.5h0.6v0.6h-0.6zM395.3 515.6h1.1v1.1h-1.1zM409.9 525.7h0.9v0.9h-0.9zM378.8 539.4h0.7v0.7h-0.7zM397.7 508.9h0.7v0.7h-0.7zM368.9 527.9h1v1h-1zM406.1 519.4h0.8v0.8h-0.8zM387.7 539.1h1v1h-1zM405.6 521.4h0.8v0.8h-0.8zM392.9 507h0.9v0.9h-0.9zM395.4 548.7h0.7v0.7h-0.7zM386.5 537.8h0.8v0.8h-0.8zM403.1 522h1v1h-1zM405.5 512h1v1h-1zM388.4 525.9h0.7v0.7h-0.7zM373.7 518.7h1v1h-1zM383.6 550.5h1.1v1.1h-1.1zM388.8 531.8h0.9v0.9h-0.9zM408.8 523.7h0.6v0.6h-0.6zM385.2 519.6h0.6v0.6h-0.6z"/>
<path fill="#947250" d="M392 546.8h0.7v0.7h-0.7zM387.2 519h0.6v0.6h-0.6zM402.5 537.7h1.2v1.2h-1.2zM395.9 509.6h1.2v1.2h-1.2zM389.6 529.8h0.7v0.7h-0.7zM410.2 528.6h1v1h-1zM392.3 511.3h1v1h-1zM385.6 517.9h1.1v1.1h-1.1zM399.9 538.5h0.7v0.7h-0.7zM412.1 524.8h0.8v0.8h-0.8zM391.3 510.6h0.9v0.9h-0.9zM400.1 530.4h0.7v0.7h-0.7zM375.4 536.7h0.7v0.7h-0.7zM404.7 515.3h0.9v0.9h-0.9zM384.7 527.1h0.9v0.9h-0.9zM392.9 543.1h0.9v0.9h-0.9zM385.5 552.6h1.1v1.1h-1.1zM381.8 533.5h0.8v0.8h-0.8zM397.1 531.8h0.7v0.7h-0.7zM376.9 515.2h0.6v0.6h-0.6zM403.8 538h0.9v0.9h-0.9zM378.7 515.6h1.1v1.1h-1.1zM381.3 543.8h0.7v0.7h-0.7zM397 533.9h0.8v0.8h-0.8zM395.7 515.4h0.9v0.9h-0.9zM400.2 536h0.9v0.9h-0.9zM407 535.2h1v1h-1zM378.9 522h0.6v0.6h-0.6zM399.6 551.8h1.2v1.2h-1.2zM407.3 522.9h1v1h-1zM393.8 527.9h0.7v0.7h-0.7zM406.9 517.1h1.1v1.1h-1.1zM413.1 533.1h1v1h-1zM380.2 514.8h0.7v0.7h-0.7zM410.6 520.7h0.8v0.8h-0.8zM409.8 545.6h0.6v0.6h-0.6zM387.9 533h1.1v1.1h-1.1zM385.6 525.8h0.7v0.7h-0.7zM402.5 512.8h0.7v0.7h-0.7zM407.9 519.8h1v1h-1zM379.9 548.8h0.6v0.6h-0.6zM381.4 547.4h0.6v0.6h-0.6zM375.1 528.6h0.9v0.9h-0.9zM374.5 537h0.7v0.7h-0.7zM382.3 513.4h0.9v0.9h-0.9zM400.2 539.9h0.7v0.7h-0.7zM395 509.9h0.6v0.6h-0.6zM409.6 539.3h0.9v0.9h-0.9zM386.9 516.1h1.1v1.1h-1.1zM381.7 534.3h0.8v0.8h-0.8zM370.4 533.1h0.8v0.8h-0.8zM381.7 518.6h1v1h-1zM407.4 547.9h0.6v0.6h-0.6zM383.7 537.5h0.7v0.7h-0.7zM377.2 521.3h1.1v1.1h-1.1zM381.4 537.3h1v1h-1zM406.1 542.4h0.7v0.7h-0.7zM381.9 513.6h1v1h-1zM395.7 523.1h0.7v0.7h-0.7zM392.4 514.2h0.6v0.6h-0.6zM376 516.1h0.9v0.9h-0.9zM388 517.6h1.1v1.1h-1.1zM405.8 535.1h0.6v0.6h-0.6zM380.7 513.5h0.8v0.8h-0.8zM393.2 519.4h0.9v0.9h-0.9zM394.2 510h1.2v1.2h-1.2zM388.7 551h0.8v0.8h-0.8zM413.2 538.8h1v1h-1zM399.3 522.2h0.8v0.8h-0.8zM389.2 521.4h0.6v0.6h-0.6zM394.3 536h0.8v0.8h-0.8zM402.8 546.1h0.6v0.6h-0.6zM384.9 524.5h0.8v0.8h-0.8zM398.9 525.8h1.1v1.1h-1.1zM388.5 540.3h1v1h-1zM397 543.7h0.5v0.5h-0.5zM392.3 523.8h1v1h-1zM382.4 541.1h0.8v0.8h-0.8zM392 513h1.2v1.2h-1.2zM378.3 515.3h0.6v0.6h-0.6zM397.9 515.6h0.9v0.9h-0.9zM384.2 536.5h0.6v0.6h-0.6zM388 522.1h0.9v0.9h-0.9zM385.2 509.2h0.9v0.9h-0.9zM369 534.9h1v1h-1z"/>
<path fill="#c8b498" d="M408.5 516.5h1v1h-1zM395.7 512.7h0.8v0.8h-0.8zM379.7 541.1h0.6v0.6h-0.6zM396.3 520.3h0.7v0.7h-0.7zM377.5 528.9h1.1v1.1h-1.1zM397.4 519.1h0.7v0.7h-0.7zM370.1 532.2h1.1v1.1h-1.1zM408.7 514.8h1.1v1.1h-1.1zM372.2 519.8h1.2v1.2h-1.2zM402 544h0.9v0.9h-0.9zM394.2 514.4h0.6v0.6h-0.6zM381.1 528.7h1.1v1.1h-1.1zM376.9 519.9h0.7v0.7h-0.7zM379 531.4h0.8v0.8h-0.8zM379.5 525.2h0.8v0.8h-0.8zM398.1 517.7h1.1v1.1h-1.1zM387.5 508.8h1v1h-1zM385.6 534.2h0.7v0.7h-0.7zM380.6 520.8h0.7v0.7h-0.7zM393.5 531.4h0.9v0.9h-0.9zM404 521.4h1.1v1.1h-1.1zM384.2 512.4h1.1v1.1h-1.1zM391.5 512.1h1v1h-1zM377.1 535.1h0.6v0.6h-0.6zM396.4 510.4h1v1h-1zM385.8 527.4h0.8v0.8h-0.8zM397.2 534.2h1.2v1.2h-1.2zM383.3 512.3h0.9v0.9h-0.9zM410.2 526.2h1.1v1.1h-1.1zM388.9 509.3h0.7v0.7h-0.7zM395.9 517.7h0.6v0.6h-0.6zM385 514.9h1.1v1.1h-1.1zM379.1 520.1h1.1v1.1h-1.1zM386.2 551.3h0.7v0.7h-0.7zM398.3 510.5h1.1v1.1h-1.1zM410.3 538.4h0.9v0.9h-0.9zM380.3 535.6h0.9v0.9h-0.9zM405.5 545.6h0.9v0.9h-0.9zM407.6 541.1h0.5v0.5h-0.5zM404.5 527.2h0.5v0.5h-0.5zM399.6 525.7h0.6v0.6h-0.6zM409.3 537.7h0.8v0.8h-0.8zM378.9 535.7h0.8v0.8h-0.8zM400.4 515.7h0.7v0.7h-0.7zM385.1 548.9h1v1h-1zM412.5 526.4h0.8v0.8h-0.8zM398.8 535.5h1v1h-1zM380.5 529.9h0.6v0.6h-0.6zM373.8 517.4h0.7v0.7h-0.7zM381.8 539h0.9v0.9h-0.9zM389.4 508.4h0.8v0.8h-0.8zM391 548.7h1.1v1.1h-1.1zM371.6 534h0.9v0.9h-0.9zM380.8 531.2h0.9v0.9h-0.9zM387.6 551.4h0.6v0.6h-0.6zM381.8 526.2h0.7v0.7h-0.7zM386.8 548.7h1.1v1.1h-1.1zM397.8 541.1h1.1v1.1h-1.1zM390.3 517.7h0.6v0.6h-0.6zM375.8 516.9h0.8v0.8h-0.8zM399 550.2h1.1v1.1h-1.1zM383.7 510h0.7v0.7h-0.7zM395 549.8h0.7v0.7h-0.7zM401 541.8h0.8v0.8h-0.8zM404.2 515.8h0.9v0.9h-0.9zM394.3 541.7h0.7v0.7h-0.7z"/>
<path fill="#a07c54" d="M374 521.1h1v1h-1zM385.8 539.1h0.8v0.8h-0.8zM373.9 538.7h0.6v0.6h-0.6zM385.9 525.9h0.8v0.8h-0.8zM386.5 519.6h1.1v1.1h-1.1zM386.4 508h1.1v1.1h-1.1zM375.3 533.8h0.8v0.8h-0.8zM407.7 537.8h0.7v0.7h-0.7zM402.2 541.9h0.6v0.6h-0.6zM390.6 533.3h0.9v0.9h-0.9zM389.9 520.7h1.1v1.1h-1.1zM393.9 537.4h0.6v0.6h-0.6zM390.1 546.1h1v1h-1zM386.5 522.8h1.1v1.1h-1.1zM411.2 528.9h1.1v1.1h-1.1zM402.4 510.9h0.6v0.6h-0.6zM381.6 520.7h1.2v1.2h-1.2zM391 545.1h0.9v0.9h-0.9zM375.2 541.5h1v1h-1zM375 532.7h1.1v1.1h-1.1zM408.1 530.7h0.8v0.8h-0.8zM387.2 511h1v1h-1zM399.3 521.9h1.1v1.1h-1.1zM382.1 539.8h1.1v1.1h-1.1zM393.8 520h0.7v0.7h-0.7zM370.5 529.1h0.8v0.8h-0.8zM399.6 518h1v1h-1zM395.4 543.9h0.9v0.9h-0.9zM373.7 524.8h1v1h-1zM409.8 539h0.6v0.6h-0.6zM390.7 546.4h0.9v0.9h-0.9zM394.3 513h0.6v0.6h-0.6zM411.8 538h0.7v0.7h-0.7zM377.8 539h0.9v0.9h-0.9zM411.6 526.8h0.7v0.7h-0.7zM390.7 518.2h0.9v0.9h-0.9zM411.3 543.3h0.6v0.6h-0.6zM374 532.4h1.1v1.1h-1.1zM394.7 542h0.7v0.7h-0.7zM373.3 526h0.7v0.7h-0.7zM397 518.1h1.1v1.1h-1.1zM392.9 507.3h0.9v0.9h-0.9zM389.9 542.1h1.1v1.1h-1.1zM405.1 517.3h1.1v1.1h-1.1zM383.4 551h0.8v0.8h-0.8zM398.7 522.4h0.6v0.6h-0.6zM384.1 538.9h0.7v0.7h-0.7zM393.9 532.7h0.6v0.6h-0.6zM396.3 549.7h1.1v1.1h-1.1zM399.8 539.9h0.8v0.8h-0.8z"/>
<path fill="#b08c60" d="M410.3 541h1v1h-1zM395.3 532.6h0.8v0.8h-0.8zM412.8 533.8h0.9v0.9h-0.9zM391.4 544.1h1.1v1.1h-1.1zM383.6 525h0.9v0.9h-0.9zM408.5 540.4h0.9v0.9h-0.9zM390.9 538.1h1.1v1.1h-1.1zM385.9 547.9h0.8v0.8h-0.8zM389.8 545.6h1.1v1.1h-1.1zM374.7 531.6h1v1h-1zM391.9 551.7h1.1v1.1h-1.1zM397.9 529.8h0.6v0.6h-0.6zM373.9 542.2h1v1h-1zM406.2 543.2h0.6v0.6h-0.6zM390.1 530.9h1.2v1.2h-1.2zM381.7 526.4h1v1h-1zM374.3 537.6h0.6v0.6h-0.6zM396.4 513.2h0.7v0.7h-0.7zM386.4 527.7h1.1v1.1h-1.1zM391.5 528.3h0.9v0.9h-0.9zM400.9 527.8h0.9v0.9h-0.9zM406 524.5h0.6v0.6h-0.6zM389.2 549.4h0.6v0.6h-0.6zM399.1 522h0.9v0.9h-0.9zM404.9 549.4h0.9v0.9h-0.9zM386.3 544.5h1.1v1.1h-1.1zM413.5 523.2h1v1h-1zM370.7 535.4h1.2v1.2h-1.2zM394.3 538.3h0.6v0.6h-0.6zM384 548.8h0.9v0.9h-0.9zM369.4 535.1h0.7v0.7h-0.7zM410.7 541.6h0.7v0.7h-0.7zM378.9 522.2h0.9v0.9h-0.9zM380.8 523.5h0.7v0.7h-0.7zM406.8 533.3h0.6v0.6h-0.6zM384 515.7h0.6v0.6h-0.6zM373.4 528h0.6v0.6h-0.6zM380.6 538.4h0.6v0.6h-0.6zM397.7 534.9h1v1h-1zM387.8 521.7h0.9v0.9h-0.9zM414.4 532h0.6v0.6h-0.6zM374.5 525.1h0.8v0.8h-0.8zM406.2 513.4h1.1v1.1h-1.1zM403.3 546h0.6v0.6h-0.6zM414.9 529.8h0.7v0.7h-0.7zM376.8 544.4h1.1v1.1h-1.1zM384 524.9h0.7v0.7h-0.7zM392.3 540.6h0.8v0.8h-0.8zM378.8 539.8h0.5v0.5h-0.5zM379.9 523.1h0.6v0.6h-0.6zM393.1 519h0.8v0.8h-0.8zM389.9 527.6h0.7v0.7h-0.7zM389.2 519.4h0.8v0.8h-0.8z"/>
</g>
</g>
<g clip-path="url(#cp20)">
<g filter="url(#hb)">
<ellipse cx="480.6" cy="531.5" rx="24.2" ry="25.2" fill="#e2e4f0"/>
<path fill="#c8cad8" d="M497.3 535.8h0.7v0.7h-0.7zM466.3 514.1h1.1v1.1h-1.1zM466.4 547.4h1.4v1.4h-1.4zM470.2 529.4h1.3v1.3h-1.3zM480.2 513.1h0.6v0.6h-0.6zM493 515.8h0.9v0.9h-0.9zM474 549.4h1v1h-1zM481.6 547.7h0.7v0.7h-0.7zM497.8 531.8h0.7v0.7h-0.7zM467.3 545.4h1v1h-1zM474.1 521.9h1.4v1.4h-1.4zM478.3 524.2h1.3v1.3h-1.3zM463.3 536.1h0.7v0.7h-0.7zM463.4 547.4h1.2v1.2h-1.2zM466.2 518.8h1.3v1.3h-1.3zM493.6 541.3h0.8v0.8h-0.8zM475.8 511.2h0.9v0.9h-0.9zM458.4 525.6h0.9v0.9h-0.9zM491 539.6h0.9v0.9h-0.9zM463.3 524.4h1.1v1.1h-1.1zM459.2 522.3h1.3v1.3h-1.3zM472.7 510.6h1.3v1.3h-1.3zM486 554.1h0.9v0.9h-0.9zM493.7 545.8h1.1v1.1h-1.1zM466.6 542h1.3v1.3h-1.3zM481.6 510.9h1.2v1.2h-1.2zM458.2 524.2h1.4v1.4h-1.4zM488.3 517.9h0.6v0.6h-0.6zM458.7 538.2h1v1h-1zM486.8 511h0.6v0.6h-0.6zM497.8 518.7h0.8v0.8h-0.8zM493.4 550.2h1.3v1.3h-1.3zM503.3 535.6h0.8v0.8h-0.8zM499.4 533.1h0.8v0.8h-0.8zM469.7 528.2h1.3v1.3h-1.3z"/>
<path fill="#f4f4fa" d="M473.9 525.2h1v1h-1zM501.8 522.4h1v1h-1zM493.7 511.9h0.8v0.8h-0.8zM493.4 530.1h0.9v0.9h-0.9zM493.7 550.1h1v1h-1zM485.2 509.4h0.9v0.9h-0.9zM462.7 532.5h1.1v1.1h-1.1zM459.7 531.4h1.4v1.4h-1.4zM479.6 552.5h1.3v1.3h-1.3zM497.7 539.7h1.4v1.4h-1.4zM497.7 528.2h0.8v0.8h-0.8zM502.2 538h0.8v0.8h-0.8zM496.8 538.2h0.9v0.9h-0.9zM478.9 506.9h1.2v1.2h-1.2zM482.1 517.4h1.2v1.2h-1.2zM464.6 517.5h1v1h-1zM490.3 549.1h1.2v1.2h-1.2zM474.8 551.4h1.1v1.1h-1.1zM501.1 537.6h1.4v1.4h-1.4zM483.4 520.6h0.7v0.7h-0.7zM496.2 541.6h1v1h-1zM493.4 517.9h1.2v1.2h-1.2zM499.8 519.5h0.8v0.8h-0.8zM495.1 543.9h1.4v1.4h-1.4z"/>
<path fill="#9a7a60" d="M493.6 548.3h0.9v0.9h-0.9zM497.8 536.2h0.6v0.6h-0.6zM499 530.2h1.3v1.3h-1.3zM483.1 554.7h1v1h-1zM476.1 536.8h0.9v0.9h-0.9zM462.8 525.8h1v1h-1zM489 548h0.7v0.7h-0.7zM494.6 547.3h0.9v0.9h-0.9zM469.5 513.7h0.9v0.9h-0.9zM495.9 541.2h1v1h-1zM501 520.5h1.1v1.1h-1.1zM473.2 514h0.8v0.8h-0.8zM478.9 523.7h0.7v0.7h-0.7zM492.8 527.5h0.8v0.8h-0.8zM481.9 536.6h1.4v1.4h-1.4zM476.9 544.7h0.9v0.9h-0.9zM483.2 533.1h1.1v1.1h-1.1zM488.7 547.4h1.1v1.1h-1.1zM473.5 553.2h0.8v0.8h-0.8zM468 511h1.4v1.4h-1.4zM476.8 554h1.3v1.3h-1.3zM488.4 543.3h1.2v1.2h-1.2zM467.3 535.6h0.7v0.7h-0.7zM472.1 550.4h1.4v1.4h-1.4zM464.9 540.3h1.2v1.2h-1.2zM496.9 541.6h0.8v0.8h-0.8zM499.2 529h0.7v0.7h-0.7z"/>
<path fill="#a07050" d="M500.8 530.5h1.4v1.4h-1.4zM493.8 516.2h1.3v1.3h-1.3zM484.3 535.3h1v1h-1zM485.2 521.9h1.3v1.3h-1.3zM461.8 546h1.4v1.4h-1.4zM475.9 551.5h1.2v1.2h-1.2zM489 550.1h0.7v0.7h-0.7zM497.6 524.7h0.9v0.9h-0.9zM462.4 525.3h1v1h-1zM484.9 508.6h1.4v1.4h-1.4zM464.2 537h0.8v0.8h-0.8zM486.8 544h1.2v1.2h-1.2zM498.3 525.3h0.9v0.9h-0.9zM495.3 545.1h0.7v0.7h-0.7zM479.3 555.5h0.8v0.8h-0.8zM477.8 541.5h0.9v0.9h-0.9zM497.2 520.5h0.7v0.7h-0.7zM494.1 550.7h0.7v0.7h-0.7zM478.5 512.7h1.2v1.2h-1.2zM485.2 512.5h0.7v0.7h-0.7z"/>
<path fill="#8a6a5a" d="M460.1 533.6h1.3v1.3h-1.3zM483.2 509.5h1v1h-1zM489.1 547h0.9v0.9h-0.9zM460.2 537.5h1.2v1.2h-1.2zM494.2 543.9h0.8v0.8h-0.8zM475.6 508.4h1v1h-1zM491.3 537h0.9v0.9h-0.9zM464.9 540.7h1v1h-1zM487.8 512.4h1.1v1.1h-1.1zM490.4 529.3h1v1h-1zM463.3 518h0.8v0.8h-0.8zM497 515.8h1.4v1.4h-1.4zM460.4 518.8h1.2v1.2h-1.2zM487 523.6h0.8v0.8h-0.8z"/>
</g>
</g>
<g clip-path="url(#cp01)">
<g filter="url(#hb)">
<ellipse cx="308.1" cy="616.7" rx="35.1" ry="32.5" fill="#ecbce4" stroke="#c88cc0" stroke-width="0.6"/>
<path fill="#a8428a" d="M305.8 614.8h1v1h-1zM285.4 634.1h0.8v0.8h-0.8zM322.7 628.9h0.8v0.8h-0.8zM294 616h0.6v0.6h-0.6zM318.9 600.3h0.7v0.7h-0.7zM302.9 620.7h0.8v0.8h-0.8zM298.3 641.4h1v1h-1zM329.4 621.2h1v1h-1zM316.3 593.1h0.8v0.8h-0.8zM304.2 607.3h1v1h-1zM283.5 619.9h0.6v0.6h-0.6zM326 617.5h0.7v0.7h-0.7zM296.4 620.3h0.6v0.6h-0.6zM298.5 593.5h0.6v0.6h-0.6zM305.4 586h0.7v0.7h-0.7zM303.2 613.6h1.1v1.1h-1.1zM335.2 627.6h0.7v0.7h-0.7zM309.1 642h1v1h-1zM299 627.6h0.7v0.7h-0.7zM311.9 586.3h0.6v0.6h-0.6zM330.1 601.8h0.7v0.7h-0.7zM288.3 616.3h0.9v0.9h-0.9zM280 601.7h0.9v0.9h-0.9zM316 645.6h1v1h-1zM299.6 607.5h0.5v0.5h-0.5zM295.1 624h0.7v0.7h-0.7zM321.4 641.7h1v1h-1zM307 633.1h0.6v0.6h-0.6zM289.8 623h1.1v1.1h-1.1zM326.7 598h0.8v0.8h-0.8zM296.1 615.1h1v1h-1zM293.2 596.7h0.6v0.6h-0.6zM317.4 588.4h0.7v0.7h-0.7zM316.4 629.6h0.9v0.9h-0.9zM325.7 640.5h0.7v0.7h-0.7zM286.1 608.1h0.7v0.7h-0.7zM331.4 602.7h0.8v0.8h-0.8zM329.3 595.6h0.5v0.5h-0.5zM274.5 611.9h0.6v0.6h-0.6zM336.2 600.5h0.8v0.8h-0.8zM301.2 590.6h0.8v0.8h-0.8zM314 617.8h0.9v0.9h-0.9zM340.3 610.7h0.9v0.9h-0.9zM300.1 623.9h0.5v0.5h-0.5zM274.7 609.8h1v1h-1zM315.1 613.6h0.9v0.9h-0.9zM297.2 610.7h0.5v0.5h-0.5zM300.1 588h0.8v0.8h-0.8zM338.5 610h0.6v0.6h-0.6zM286 594.5h0.8v0.8h-0.8zM336.2 604.9h0.8v0.8h-0.8zM315.1 635.6h0.7v0.7h-0.7zM305.4 600.3h0.6v0.6h-0.6zM288.2 638.2h0.7v0.7h-0.7zM301.2 630.2h0.9v0.9h-0.9zM333.7 620.2h0.6v0.6h-0.6zM330 600h1v1h-1zM307.6 605.5h1v1h-1zM313.4 621.6h0.9v0.9h-0.9zM303.9 627.6h0.7v0.7h-0.7zM339.7 614.2h0.6v0.6h-0.6zM299.4 618.6h0.6v0.6h-0.6zM315.2 587.4h0.9v0.9h-0.9zM294.6 596.9h1v1h-1zM319.6 635.6h1v1h-1zM287 623.5h0.8v0.8h-0.8zM335.1 600.9h0.5v0.5h-0.5zM292.9 631.2h0.6v0.6h-0.6zM278.9 610h0.9v0.9h-0.9zM308.1 621h0.8v0.8h-0.8zM333.3 625.9h0.7v0.7h-0.7zM296.2 606h1v1h-1zM315 637.7h0.9v0.9h-0.9zM311.9 592.4h0.8v0.8h-0.8zM301 587.1h0.9v0.9h-0.9zM290.3 599.1h0.6v0.6h-0.6zM294.6 609.1h0.6v0.6h-0.6zM294.9 642.9h1v1h-1zM282.9 598.6h0.9v0.9h-0.9zM312.2 642.2h0.6v0.6h-0.6zM333.2 605.3h0.8v0.8h-0.8zM285.2 629.4h0.6v0.6h-0.6zM326.1 628.5h0.6v0.6h-0.6zM303 631.7h1v1h-1zM314.1 646.4h1v1h-1zM280.1 606.6h0.9v0.9h-0.9zM285.6 634.6h0.9v0.9h-0.9zM299.7 601.9h0.5v0.5h-0.5zM305.3 587.2h0.7v0.7h-0.7zM309.4 630.6h0.9v0.9h-0.9zM295.8 628.3h1v1h-1zM309.4 615.5h1v1h-1zM314.6 630.3h0.5v0.5h-0.5zM311.8 631.4h0.6v0.6h-0.6zM333.3 596.2h0.8v0.8h-0.8zM330.2 607.7h0.7v0.7h-0.7zM300.6 609.7h0.5v0.5h-0.5zM327.1 614.1h1v1h-1zM288.2 595.1h1v1h-1zM298.1 633h0.5v0.5h-0.5zM331.4 605.2h0.6v0.6h-0.6zM316.6 592.8h0.9v0.9h-0.9zM302.4 585.5h0.8v0.8h-0.8zM300 614.2h1v1h-1zM331.1 609.5h1v1h-1zM308.6 611.5h0.6v0.6h-0.6zM306.5 616.3h0.5v0.5h-0.5zM311.9 633.2h0.6v0.6h-0.6zM280.9 606.4h1v1h-1zM338.9 616.5h0.6v0.6h-0.6zM293.1 612.6h1v1h-1zM303.3 646.6h0.9v0.9h-0.9zM291.6 636.4h0.5v0.5h-0.5zM311.9 601.5h0.9v0.9h-0.9zM310.2 589.1h0.6v0.6h-0.6zM314.3 622.8h0.6v0.6h-0.6zM278.3 610h0.5v0.5h-0.5zM324.5 631.8h1v1h-1zM279.8 615.7h0.5v0.5h-0.5zM277.1 610.7h0.9v0.9h-0.9zM331.7 598.9h1v1h-1zM277.7 607.7h0.8v0.8h-0.8zM317.9 620.7h0.8v0.8h-0.8zM312.9 634.8h0.8v0.8h-0.8zM325.6 596.7h0.8v0.8h-0.8zM302.7 589h0.9v0.9h-0.9zM294.6 621.7h0.9v0.9h-0.9zM316 618.4h1v1h-1zM337.5 614.2h0.5v0.5h-0.5zM313 617.7h0.6v0.6h-0.6zM296.8 644.4h0.8v0.8h-0.8zM326.7 609.6h0.6v0.6h-0.6zM315.5 607.6h0.7v0.7h-0.7zM293.1 599.5h0.8v0.8h-0.8zM308.1 621.5h1.1v1.1h-1.1zM295.8 639.3h1v1h-1zM297.1 608h0.9v0.9h-0.9zM280.2 607.9h0.9v0.9h-0.9zM307.5 606.6h0.5v0.5h-0.5zM314.5 642.6h1.1v1.1h-1.1zM295.3 620.8h0.6v0.6h-0.6zM311.5 600.4h0.8v0.8h-0.8zM327 602.8h0.5v0.5h-0.5zM291 611.3h0.7v0.7h-0.7zM298.4 602h0.5v0.5h-0.5zM317.4 629.7h0.5v0.5h-0.5zM327.5 624.2h0.6v0.6h-0.6zM293.3 621h1v1h-1zM307.9 586.5h0.6v0.6h-0.6zM311.9 598h0.5v0.5h-0.5zM309.6 595h1v1h-1zM325.2 638.3h0.6v0.6h-0.6zM283.1 598.5h0.8v0.8h-0.8zM301.7 642.2h0.6v0.6h-0.6zM279.5 632.2h1.1v1.1h-1.1zM296.9 636.2h1v1h-1zM301.7 596.8h1v1h-1zM309.6 637.2h0.7v0.7h-0.7zM297.8 594.8h0.5v0.5h-0.5zM314.6 614.7h0.5v0.5h-0.5zM298 616.8h0.7v0.7h-0.7zM287.4 596.9h1v1h-1zM288 641.4h0.8v0.8h-0.8zM278.9 622.1h0.6v0.6h-0.6zM279.8 623h0.6v0.6h-0.6zM276 627.3h0.8v0.8h-0.8zM316.3 589.4h1v1h-1zM299.6 597.7h0.7v0.7h-0.7zM296.4 613.9h0.6v0.6h-0.6zM319.2 637.6h0.9v0.9h-0.9zM324.9 626h1v1h-1zM327.1 598.8h0.8v0.8h-0.8zM313 614.6h1v1h-1zM320.5 637.2h1v1h-1zM321.8 616.1h0.6v0.6h-0.6zM323.7 599.9h0.7v0.7h-0.7zM333 613.9h0.7v0.7h-0.7zM277.6 629.8h0.6v0.6h-0.6zM280.5 614.6h0.8v0.8h-0.8zM297.4 594.6h0.8v0.8h-0.8zM293.6 625h1.1v1.1h-1.1zM303.4 632.4h0.8v0.8h-0.8zM318.6 620.5h0.9v0.9h-0.9zM279.8 603.8h0.6v0.6h-0.6zM319.1 640.1h0.6v0.6h-0.6zM320.9 603.2h0.7v0.7h-0.7zM322 600.1h1v1h-1zM303.9 597.1h0.9v0.9h-0.9zM293.8 615.3h0.6v0.6h-0.6zM299.5 638.6h0.9v0.9h-0.9zM299.6 590.7h0.9v0.9h-0.9zM305.7 612.4h0.6v0.6h-0.6zM320.1 606.2h0.8v0.8h-0.8zM307.2 635.5h0.9v0.9h-0.9zM321.8 604.7h1v1h-1zM278.4 610.3h0.7v0.7h-0.7zM314.2 590.8h0.8v0.8h-0.8zM306.1 642.6h0.8v0.8h-0.8zM325.5 635.7h0.5v0.5h-0.5zM313.7 621h1v1h-1zM338.4 613.3h1v1h-1zM297.5 597.2h1v1h-1zM300.4 623.2h0.8v0.8h-0.8zM316.1 604.7h0.6v0.6h-0.6zM299.1 624.2h0.6v0.6h-0.6zM309.1 606.9h0.7v0.7h-0.7zM313.4 585.5h0.6v0.6h-0.6zM331.6 616.4h0.5v0.5h-0.5zM330.1 605.4h0.8v0.8h-0.8zM323.2 608.6h0.6v0.6h-0.6zM289.3 592.9h1v1h-1zM315.6 602.4h1v1h-1zM301.4 594.4h0.6v0.6h-0.6zM316.1 613.4h0.9v0.9h-0.9zM336.2 616.8h1v1h-1zM313.9 624.1h0.8v0.8h-0.8zM286.9 608h1.1v1.1h-1.1zM288.2 598.6h0.8v0.8h-0.8zM340 621h0.9v0.9h-0.9zM314.2 609.6h0.5v0.5h-0.5zM293.3 594.3h0.5v0.5h-0.5zM289.6 605.3h1.1v1.1h-1.1zM335.9 629.1h0.8v0.8h-0.8zM303.7 622.6h1v1h-1zM287.8 636h0.8v0.8h-0.8zM279.3 620.7h1v1h-1zM329.3 605.3h0.9v0.9h-0.9zM282 625.9h0.7v0.7h-0.7zM291.7 620.2h0.6v0.6h-0.6zM280.6 601h0.7v0.7h-0.7zM282.5 622.5h0.5v0.5h-0.5zM302 597.8h0.8v0.8h-0.8zM295.8 601.3h0.6v0.6h-0.6zM314.8 602.9h0.9v0.9h-0.9zM321.6 630.9h0.9v0.9h-0.9zM302.6 606.3h1.1v1.1h-1.1zM330.8 609.3h1v1h-1zM309.1 588.5h0.9v0.9h-0.9zM278.8 630.8h1v1h-1zM292.4 592h0.8v0.8h-0.8zM300.1 617.2h1v1h-1zM292.3 643h0.9v0.9h-0.9zM281 609.3h1.1v1.1h-1.1zM283.7 636.3h0.6v0.6h-0.6zM290.4 627.3h0.8v0.8h-0.8zM326.8 611.3h1.1v1.1h-1.1zM301.5 590.8h0.8v0.8h-0.8zM310.1 586.8h0.9v0.9h-0.9zM286.9 621.5h0.8v0.8h-0.8zM299.5 618.1h0.8v0.8h-0.8zM311.5 608.7h0.6v0.6h-0.6zM289.8 590.4h0.9v0.9h-0.9zM307.8 601.3h0.9v0.9h-0.9zM321 607.1h0.8v0.8h-0.8zM303.7 590.9h1v1h-1zM311.2 619.1h0.8v0.8h-0.8zM281.9 623.6h0.8v0.8h-0.8zM297.3 634.6h0.9v0.9h-0.9zM312.7 586.7h0.6v0.6h-0.6zM316.5 588.5h0.8v0.8h-0.8zM320.1 588.3h0.7v0.7h-0.7zM321.4 589h0.7v0.7h-0.7zM304.8 638.5h0.8v0.8h-0.8zM300.1 613.9h0.8v0.8h-0.8zM310.7 586h0.9v0.9h-0.9zM322.9 593h0.9v0.9h-0.9zM295.8 637.4h0.5v0.5h-0.5z"/>
<path fill="#9c3c80" d="M289.5 611h1v1h-1zM328.1 601.2h0.5v0.5h-0.5zM292.1 632.7h1v1h-1zM324.5 607.2h1v1h-1zM331.3 617.2h0.5v0.5h-0.5zM322.8 639.9h0.6v0.6h-0.6zM283.7 624.5h0.6v0.6h-0.6zM293.9 639.7h1v1h-1zM332.7 613.7h0.8v0.8h-0.8zM313 604.2h0.9v0.9h-0.9zM334.6 613.6h0.7v0.7h-0.7zM328.5 614.5h0.9v0.9h-0.9zM322.1 595.8h0.9v0.9h-0.9zM282.1 621.8h0.5v0.5h-0.5zM282.1 628.1h0.9v0.9h-0.9zM309.1 626.6h0.5v0.5h-0.5zM330.2 594.2h0.7v0.7h-0.7zM309.6 585.5h1v1h-1zM295.8 634.2h0.9v0.9h-0.9zM327.5 605.7h0.9v0.9h-0.9zM330.7 602.9h0.9v0.9h-0.9zM292.2 632.7h0.8v0.8h-0.8zM331.7 598.3h0.9v0.9h-0.9zM310.2 624.9h0.8v0.8h-0.8zM295 616.3h1v1h-1zM293.6 593.9h1v1h-1zM292.4 588.7h1v1h-1zM325.5 639.8h0.8v0.8h-0.8zM339.5 621.8h0.7v0.7h-0.7zM301.7 589.4h1v1h-1zM302.9 640.2h0.7v0.7h-0.7zM304.4 620.5h1v1h-1zM285.5 622.1h1v1h-1zM306.7 623.1h0.9v0.9h-0.9zM324.2 623.1h0.7v0.7h-0.7zM332.8 627.8h0.7v0.7h-0.7zM296.4 607.7h1v1h-1zM301.2 639.3h1v1h-1zM316.6 636h0.7v0.7h-0.7zM326.4 622.3h0.9v0.9h-0.9zM321.7 623.3h0.5v0.5h-0.5zM333.5 599.8h0.6v0.6h-0.6zM327 613.5h0.8v0.8h-0.8zM318.2 591.7h0.7v0.7h-0.7zM335 623.4h0.9v0.9h-0.9zM288.4 608.6h0.6v0.6h-0.6zM326.5 597.8h0.6v0.6h-0.6zM282.8 599.4h0.6v0.6h-0.6zM287.3 618.5h0.6v0.6h-0.6zM300.8 631.7h1v1h-1zM306.2 602.8h0.7v0.7h-0.7zM288.2 600.3h1v1h-1zM316 636.2h1.1v1.1h-1.1zM320.9 600h0.5v0.5h-0.5zM290.1 631h0.9v0.9h-0.9zM295.3 614.6h0.5v0.5h-0.5zM309.8 639.4h0.6v0.6h-0.6zM304.4 645.3h0.5v0.5h-0.5zM313.3 595h1v1h-1zM320.7 637.8h0.9v0.9h-0.9zM294.6 635.6h0.7v0.7h-0.7zM287.6 607.2h0.7v0.7h-0.7zM283.1 638h0.9v0.9h-0.9zM291.4 610.1h0.5v0.5h-0.5zM287.9 618.3h1v1h-1zM327.5 608.2h0.8v0.8h-0.8zM296.2 632.5h1v1h-1zM292.3 614.3h1v1h-1zM303.6 600.1h0.9v0.9h-0.9zM337.3 603.2h1v1h-1zM283.9 618.7h0.7v0.7h-0.7zM312.3 616.8h1.1v1.1h-1.1zM316.9 613.4h0.5v0.5h-0.5zM290.9 610h1v1h-1zM295.9 592.8h0.6v0.6h-0.6zM291.6 619.6h0.7v0.7h-0.7zM309 631h1v1h-1zM320.1 622.8h0.7v0.7h-0.7zM292.8 610.8h0.7v0.7h-0.7zM304.1 624.9h0.8v0.8h-0.8zM294 632.9h1v1h-1zM325.1 607.2h0.9v0.9h-0.9zM322.9 623.1h0.8v0.8h-0.8zM337.2 612h0.5v0.5h-0.5zM315.9 624.4h0.6v0.6h-0.6zM293.3 637.5h1v1h-1zM309.8 627.5h1v1h-1zM305.2 625.2h0.6v0.6h-0.6zM326.4 624.8h0.8v0.8h-0.8zM311.4 635.6h0.9v0.9h-0.9zM328.7 631.7h0.8v0.8h-0.8zM303.8 591.7h0.6v0.6h-0.6zM278.4 614.7h0.9v0.9h-0.9zM314.8 637.5h0.8v0.8h-0.8zM303.1 594.5h1v1h-1zM296.5 608.9h1v1h-1zM299.2 622.9h0.5v0.5h-0.5zM303.3 628.6h0.6v0.6h-0.6zM292.5 618h0.8v0.8h-0.8zM298.8 608h1v1h-1zM320.7 638h0.7v0.7h-0.7zM301.9 639.9h0.6v0.6h-0.6zM316.6 646.3h0.9v0.9h-0.9zM276 620.1h0.7v0.7h-0.7zM303.9 595.2h1v1h-1zM310.1 598.9h1v1h-1zM315.8 617.8h1v1h-1zM319.9 626.4h0.9v0.9h-0.9zM287 591.5h1v1h-1zM293.9 588.5h0.6v0.6h-0.6zM287.2 600.2h1v1h-1zM288.5 592.8h0.7v0.7h-0.7zM326.7 631.6h1v1h-1zM314 619.3h1v1h-1zM278.5 625.3h0.5v0.5h-0.5zM285.9 616.2h0.8v0.8h-0.8zM325.4 606.8h0.8v0.8h-0.8zM307.4 591.3h1.1v1.1h-1.1zM280.1 631.2h0.9v0.9h-0.9zM298.2 638.6h0.9v0.9h-0.9zM319.1 643.5h0.5v0.5h-0.5zM292.9 641.8h0.5v0.5h-0.5zM324.4 606.6h0.8v0.8h-0.8zM292.2 590.1h0.9v0.9h-0.9zM318.3 644.4h0.7v0.7h-0.7zM331.7 617.9h0.8v0.8h-0.8zM277.3 608.2h0.5v0.5h-0.5zM338.8 604.3h0.8v0.8h-0.8zM298.8 611.8h0.9v0.9h-0.9zM329.4 606.1h0.5v0.5h-0.5zM331.7 600.3h0.5v0.5h-0.5zM293.1 595.7h0.6v0.6h-0.6zM326.3 606.5h0.9v0.9h-0.9zM310.4 635.6h0.6v0.6h-0.6zM309.9 590.7h0.7v0.7h-0.7zM309.1 602.5h0.7v0.7h-0.7zM295.4 624.1h0.6v0.6h-0.6zM278.2 607.8h1v1h-1zM305 620.1h0.6v0.6h-0.6zM285.9 615.8h0.6v0.6h-0.6zM322.4 622h1v1h-1zM319 594.5h0.9v0.9h-0.9zM318.1 626.7h0.6v0.6h-0.6zM291.7 631.9h0.9v0.9h-0.9zM325.5 638.7h0.8v0.8h-0.8zM309.5 585.5h0.8v0.8h-0.8zM287.1 602.7h0.6v0.6h-0.6zM326.8 637.8h0.6v0.6h-0.6zM306 644.2h1v1h-1zM317.5 608.1h1v1h-1zM323.2 591.6h0.5v0.5h-0.5zM324.6 590.7h1v1h-1zM304.2 599.1h1v1h-1zM293.7 599.3h0.7v0.7h-0.7zM327.3 612.4h0.7v0.7h-0.7zM291.6 597.4h0.6v0.6h-0.6zM318.6 626.7h0.5v0.5h-0.5zM325.6 626.3h0.5v0.5h-0.5zM274.3 614.2h0.9v0.9h-0.9zM303.4 625h1.1v1.1h-1.1zM278.8 614.9h0.6v0.6h-0.6zM307.1 620.2h0.7v0.7h-0.7zM319.4 598.3h0.6v0.6h-0.6zM322.3 632.1h0.7v0.7h-0.7zM292 638.1h0.9v0.9h-0.9zM292.5 641.5h0.8v0.8h-0.8zM299.4 639.6h0.6v0.6h-0.6zM289 631h0.5v0.5h-0.5zM329.9 599.9h0.6v0.6h-0.6zM286.9 602.4h1v1h-1zM284.9 637.3h0.5v0.5h-0.5zM313.4 636.7h0.8v0.8h-0.8zM340.7 620.4h0.9v0.9h-0.9zM312.9 598.9h0.9v0.9h-0.9zM333.2 616.5h1v1h-1zM339 618.9h0.5v0.5h-0.5zM291.7 615.9h0.9v0.9h-0.9zM277.5 623.1h1.1v1.1h-1.1zM285.3 638.5h0.7v0.7h-0.7zM323.5 609.4h0.6v0.6h-0.6zM311.9 600h0.5v0.5h-0.5zM332.5 629.8h0.7v0.7h-0.7zM292.1 630.5h0.7v0.7h-0.7zM301.3 628.1h0.9v0.9h-0.9zM292.6 608.3h0.6v0.6h-0.6zM330.6 635.9h0.7v0.7h-0.7zM288.1 605.7h0.6v0.6h-0.6zM325.2 618.4h0.5v0.5h-0.5zM317.2 604.8h0.6v0.6h-0.6zM276.7 628.4h0.9v0.9h-0.9zM303.6 610.1h0.6v0.6h-0.6zM321.6 628.6h1.1v1.1h-1.1zM316.7 621.2h0.7v0.7h-0.7zM307 609.1h0.8v0.8h-0.8zM331.4 608h1.1v1.1h-1.1zM286.6 631.8h0.9v0.9h-0.9zM286.5 631.4h0.6v0.6h-0.6zM301.4 594.3h1v1h-1zM319.4 610.2h0.8v0.8h-0.8zM281.5 606.4h0.9v0.9h-0.9zM328.5 593.2h0.5v0.5h-0.5zM301.8 639.1h0.8v0.8h-0.8zM296.3 617.6h0.8v0.8h-0.8zM313.8 631.5h0.9v0.9h-0.9zM277.1 626.9h0.8v0.8h-0.8zM302.9 618.4h0.6v0.6h-0.6zM328.6 601.1h0.7v0.7h-0.7zM317.8 624.1h1v1h-1zM323.1 643.6h1v1h-1zM318.7 630h1v1h-1zM324.3 632.4h0.6v0.6h-0.6zM298.1 632.2h0.8v0.8h-0.8zM302.3 592.8h0.6v0.6h-0.6zM311.9 643.4h1v1h-1zM284.5 595.2h1.1v1.1h-1.1zM330.3 616.3h1v1h-1zM298 599.4h0.6v0.6h-0.6zM280.7 602.9h0.9v0.9h-0.9zM330.6 636.5h0.8v0.8h-0.8zM333.7 617.6h1v1h-1zM320 609.9h0.9v0.9h-0.9zM283.4 622h0.8v0.8h-0.8zM337.6 610.1h0.5v0.5h-0.5zM308.9 642.5h0.6v0.6h-0.6zM299.8 610.4h0.5v0.5h-0.5zM314.4 596.7h0.7v0.7h-0.7zM330.5 631.9h0.7v0.7h-0.7zM333.4 607.4h0.6v0.6h-0.6zM295.8 635.6h0.5v0.5h-0.5zM333.6 614.5h0.5v0.5h-0.5zM315.4 590.9h0.9v0.9h-0.9zM326 620.9h0.7v0.7h-0.7zM317.4 602.2h0.8v0.8h-0.8zM317.8 610.7h0.8v0.8h-0.8zM335.1 600.7h0.7v0.7h-0.7zM335.6 612.7h0.8v0.8h-0.8zM298.5 592.4h0.9v0.9h-0.9zM284 595.6h0.8v0.8h-0.8zM329.9 639.8h0.6v0.6h-0.6zM298.5 633h0.6v0.6h-0.6zM328.2 629.3h0.8v0.8h-0.8zM284.4 603.3h0.7v0.7h-0.7zM334.2 597.3h0.6v0.6h-0.6zM303.2 625h0.6v0.6h-0.6zM317.6 629.7h0.6v0.6h-0.6zM326 613h0.6v0.6h-0.6zM280.1 597.8h0.9v0.9h-0.9zM328.7 597.2h0.6v0.6h-0.6zM298.3 624.2h0.5v0.5h-0.5zM287.3 636.7h0.6v0.6h-0.6zM340.9 614.5h0.7v0.7h-0.7zM325.7 610.1h0.7v0.7h-0.7zM293.3 644.2h0.6v0.6h-0.6zM303.1 609.2h0.7v0.7h-0.7zM318.4 616.6h1v1h-1zM305.9 637.1h0.7v0.7h-0.7zM332.2 628.5h0.9v0.9h-0.9zM324 620.4h1v1h-1zM316.3 587.6h0.5v0.5h-0.5zM309.7 605.1h0.7v0.7h-0.7zM308.1 626.7h0.7v0.7h-0.7zM284.4 622.1h0.6v0.6h-0.6zM330.3 600.2h0.6v0.6h-0.6zM291.1 618h1.1v1.1h-1.1zM284.6 639.2h0.7v0.7h-0.7zM317.8 641.5h0.9v0.9h-0.9zM304.7 632.3h0.9v0.9h-0.9zM305 607.6h1v1h-1zM282.2 627.8h0.9v0.9h-0.9zM323.5 634.3h0.9v0.9h-0.9zM297.1 619.6h0.6v0.6h-0.6zM302.9 604.1h1.1v1.1h-1.1zM311.8 629.9h1v1h-1zM323.9 600.7h1v1h-1zM297.7 607.8h1.1v1.1h-1.1zM322.1 623.7h1v1h-1zM283.9 595.5h0.8v0.8h-0.8zM317.9 611.6h0.7v0.7h-0.7zM278.7 622.2h0.8v0.8h-0.8zM325.8 629h1.1v1.1h-1.1zM336.2 623.1h1v1h-1zM317 640.1h0.5v0.5h-0.5zM318.4 609.1h0.5v0.5h-0.5zM337.7 617.9h0.6v0.6h-0.6zM330.8 619.8h0.7v0.7h-0.7zM291.3 640h1v1h-1zM318.2 592.2h0.6v0.6h-0.6zM311.1 617.5h1.1v1.1h-1.1zM309.6 632h1v1h-1zM295.9 587.7h0.8v0.8h-0.8zM283.4 637.1h0.6v0.6h-0.6zM309 643.5h0.5v0.5h-0.5zM301.5 589.9h0.8v0.8h-0.8zM280.3 623.1h0.9v0.9h-0.9zM288.1 602.3h0.8v0.8h-0.8zM332.2 636.6h0.9v0.9h-0.9zM290 609h0.6v0.6h-0.6z"/>
<path fill="#d890c0" d="M297.6 590.4h0.8v0.8h-0.8zM289.2 597.8h0.8v0.8h-0.8zM315.2 644.4h0.9v0.9h-0.9zM288.9 613.8h0.7v0.7h-0.7zM292.6 635.6h0.9v0.9h-0.9zM322.5 615.4h0.8v0.8h-0.8zM330.8 615.5h0.5v0.5h-0.5zM290.4 620.3h1.1v1.1h-1.1zM308.5 600.9h0.7v0.7h-0.7zM294.3 637.3h0.8v0.8h-0.8zM300.1 591.6h0.8v0.8h-0.8zM328.9 595.3h1v1h-1zM328.6 600.2h0.9v0.9h-0.9zM317.9 632.5h1v1h-1zM316.8 625.3h0.7v0.7h-0.7zM317.9 609h0.7v0.7h-0.7zM303.7 637.6h0.7v0.7h-0.7zM304.7 601.2h0.8v0.8h-0.8zM288.3 614.9h0.6v0.6h-0.6zM315.7 610.4h0.7v0.7h-0.7zM310.7 615.4h0.8v0.8h-0.8zM286.8 598.6h0.9v0.9h-0.9zM311.1 619.7h0.5v0.5h-0.5zM331.1 614.1h0.9v0.9h-0.9zM321.3 631.6h0.5v0.5h-0.5zM310.7 617.4h0.9v0.9h-0.9zM284.8 634.7h0.6v0.6h-0.6zM283.7 617.8h1v1h-1zM302.6 647.1h0.6v0.6h-0.6zM331.6 618.9h0.6v0.6h-0.6zM281.2 612.3h0.8v0.8h-0.8zM300.7 624.4h0.8v0.8h-0.8zM302.4 594.7h0.7v0.7h-0.7zM330.6 639.7h0.5v0.5h-0.5zM304.3 610.3h0.8v0.8h-0.8zM282.1 600.3h0.8v0.8h-0.8zM312.3 641.3h0.6v0.6h-0.6zM285.9 598.4h0.7v0.7h-0.7zM336.8 603.8h0.8v0.8h-0.8zM299 593.2h1v1h-1zM301.3 629.2h0.7v0.7h-0.7zM291.9 632.6h1.1v1.1h-1.1zM304.2 623.5h1v1h-1zM291.6 629.9h0.7v0.7h-0.7zM341.6 618.4h0.6v0.6h-0.6zM336.3 612.9h1v1h-1zM329.8 640h1v1h-1zM310 591.5h0.9v0.9h-0.9zM291.9 621.3h0.7v0.7h-0.7zM311.5 622.9h1.1v1.1h-1.1zM282.1 596.2h0.9v0.9h-0.9zM286.9 634.1h0.8v0.8h-0.8zM319.4 598.8h0.9v0.9h-0.9zM333.7 625.9h0.7v0.7h-0.7zM307.7 624.8h0.7v0.7h-0.7zM281.7 619.5h1v1h-1zM312.7 632.9h1v1h-1zM304.1 601.4h0.8v0.8h-0.8zM283.1 603.9h0.5v0.5h-0.5zM338.5 608.9h0.6v0.6h-0.6zM315 632.1h1.1v1.1h-1.1zM312.3 618.9h1.1v1.1h-1.1zM305.9 598h1v1h-1zM292.4 596.2h1v1h-1zM300.3 636.6h1v1h-1zM279.2 609.4h0.5v0.5h-0.5zM279.6 631h0.6v0.6h-0.6zM300.9 616h0.6v0.6h-0.6zM300.3 626.7h0.7v0.7h-0.7zM334 621.2h0.5v0.5h-0.5zM317 626.3h0.6v0.6h-0.6zM300 622.9h0.8v0.8h-0.8zM329.1 613.3h0.6v0.6h-0.6zM290.5 617.3h1v1h-1zM333.7 609.4h0.8v0.8h-0.8zM318.1 603.6h0.7v0.7h-0.7zM303.2 612.2h0.7v0.7h-0.7zM319.2 624h0.9v0.9h-0.9zM329.3 604.8h1v1h-1zM287.5 605.9h0.9v0.9h-0.9zM333.1 607.8h1v1h-1zM284.4 607.5h0.6v0.6h-0.6zM302.7 626.1h0.7v0.7h-0.7zM282.5 622.1h0.7v0.7h-0.7zM282.8 635.2h0.9v0.9h-0.9zM314.8 596.3h0.6v0.6h-0.6zM331.5 599.8h1v1h-1zM297.4 636.6h0.5v0.5h-0.5zM309.4 625.9h1.1v1.1h-1.1zM286.4 626.9h1.1v1.1h-1.1zM281.7 615.6h0.8v0.8h-0.8zM293.9 608.5h1v1h-1zM326.7 641.3h1v1h-1zM324.3 626.8h0.8v0.8h-0.8zM329.6 605.6h0.6v0.6h-0.6zM314.3 610.7h1v1h-1zM324 640.4h0.5v0.5h-0.5zM337.6 613.5h0.6v0.6h-0.6zM279.4 606.6h0.6v0.6h-0.6zM331.7 598.9h0.5v0.5h-0.5zM289.3 614.6h0.6v0.6h-0.6zM301.4 630.2h1v1h-1zM307 605.1h0.6v0.6h-0.6zM298 620.9h0.5v0.5h-0.5zM299.7 636.7h0.7v0.7h-0.7zM316.5 641.1h0.8v0.8h-0.8zM317.3 635.8h0.6v0.6h-0.6zM313.2 627.6h1v1h-1zM327.8 629.2h0.9v0.9h-0.9zM292.1 589.6h1v1h-1zM314.7 615.8h0.7v0.7h-0.7zM309.6 597.4h0.5v0.5h-0.5zM303.7 631h0.8v0.8h-0.8zM282.8 621.1h0.7v0.7h-0.7zM320.4 619.2h1v1h-1zM302.8 610.1h0.9v0.9h-0.9zM306.5 636.4h0.7v0.7h-0.7zM317.8 601.1h0.5v0.5h-0.5zM316.9 638.7h0.9v0.9h-0.9zM308.5 632.9h0.7v0.7h-0.7zM305.8 632.5h0.6v0.6h-0.6zM325.6 625.7h0.6v0.6h-0.6zM321.7 622.9h0.8v0.8h-0.8zM335.6 618.6h0.5v0.5h-0.5zM285.7 596.1h0.5v0.5h-0.5zM290.6 629.8h0.7v0.7h-0.7zM301.3 646.8h0.7v0.7h-0.7zM317.1 622.2h1v1h-1zM296.2 609.8h1v1h-1zM304.4 606.1h0.8v0.8h-0.8zM275.7 606.4h0.9v0.9h-0.9zM304 608h0.6v0.6h-0.6zM316.6 606.1h0.7v0.7h-0.7zM318.5 644.5h1v1h-1zM305.4 585.6h0.9v0.9h-0.9zM285.1 605.8h0.7v0.7h-0.7zM319.6 605.7h0.5v0.5h-0.5zM288.2 620.2h0.8v0.8h-0.8zM319.6 643.9h0.8v0.8h-0.8zM306.5 625h0.6v0.6h-0.6zM287.2 631.7h0.9v0.9h-0.9zM280.3 597.9h0.9v0.9h-0.9zM304 607.4h0.7v0.7h-0.7zM281 605h1.1v1.1h-1.1zM281.4 617.7h0.6v0.6h-0.6zM313.3 585.9h0.5v0.5h-0.5zM297.5 613.7h0.9v0.9h-0.9zM311.6 615.4h0.9v0.9h-0.9zM314.9 603h0.7v0.7h-0.7zM318.2 594.1h0.9v0.9h-0.9zM335.8 600h0.7v0.7h-0.7zM301.4 611.4h0.5v0.5h-0.5zM319.6 628.1h1.1v1.1h-1.1zM308.3 629.4h1v1h-1zM318.1 629.3h1v1h-1zM295.4 637h0.9v0.9h-0.9zM308.4 586h0.8v0.8h-0.8zM317.6 624.8h0.8v0.8h-0.8zM288.3 627.7h0.9v0.9h-0.9zM336.3 615.4h1v1h-1zM309.8 637.2h0.5v0.5h-0.5zM304.4 615.6h0.5v0.5h-0.5zM296.3 597.8h0.5v0.5h-0.5zM328.6 627.6h1.1v1.1h-1.1zM321.1 618.7h1.1v1.1h-1.1zM308.9 636h0.5v0.5h-0.5zM323.9 629.7h0.7v0.7h-0.7zM330.8 597.7h0.7v0.7h-0.7zM288 591.5h0.9v0.9h-0.9zM322.2 598h0.7v0.7h-0.7zM333 624.2h0.5v0.5h-0.5zM277.3 608.6h1v1h-1zM315.2 640.8h1v1h-1zM288.2 611.9h0.9v0.9h-0.9zM318.7 627.6h1v1h-1zM309.9 584.9h0.8v0.8h-0.8zM334.1 619h0.9v0.9h-0.9zM335.9 607.2h0.6v0.6h-0.6zM289.8 600.9h0.9v0.9h-0.9zM302.7 645.6h0.6v0.6h-0.6zM283.1 627.5h0.6v0.6h-0.6zM286.5 618.4h0.8v0.8h-0.8zM325.2 596.6h0.5v0.5h-0.5zM323.3 619.3h0.6v0.6h-0.6zM332.7 605.7h1v1h-1zM299.9 632.9h0.9v0.9h-0.9zM296.1 598.9h0.6v0.6h-0.6zM314.2 587.7h0.7v0.7h-0.7zM312.7 614.8h0.7v0.7h-0.7zM322.6 594.7h1.1v1.1h-1.1zM322.2 611.6h0.6v0.6h-0.6zM327.7 614h0.7v0.7h-0.7zM305.9 611.9h1v1h-1zM308.2 618.1h0.6v0.6h-0.6zM332.3 620.9h0.7v0.7h-0.7zM325.2 605.5h0.6v0.6h-0.6zM313.5 612.2h1v1h-1zM330.8 620.8h0.6v0.6h-0.6zM278.6 616.6h0.7v0.7h-0.7zM297.3 595.7h1.1v1.1h-1.1zM308.7 622.4h0.6v0.6h-0.6zM313.5 640.8h1v1h-1zM311.9 632.6h0.6v0.6h-0.6zM309 606.5h1v1h-1zM317.4 586.3h0.8v0.8h-0.8zM283.3 612.2h1.1v1.1h-1.1zM327.8 617.7h0.9v0.9h-0.9zM281.1 604.9h0.6v0.6h-0.6zM333 611.2h1.1v1.1h-1.1zM293.7 594.8h1v1h-1zM310 632.4h1v1h-1zM288.4 641.5h0.8v0.8h-0.8zM288.7 636.9h1v1h-1zM313.1 596.8h1v1h-1zM279 604.4h1v1h-1zM316.4 633.9h1v1h-1zM290.5 599.9h1v1h-1zM320.3 624.8h0.6v0.6h-0.6zM299.7 620.4h0.7v0.7h-0.7zM307.3 586.5h1.1v1.1h-1.1zM295.4 616.1h0.5v0.5h-0.5zM284.5 622h0.6v0.6h-0.6zM310.3 645.6h1v1h-1zM288.4 632.2h0.8v0.8h-0.8zM292.3 607.2h0.5v0.5h-0.5zM293.2 629.3h0.5v0.5h-0.5zM305.6 632.7h0.6v0.6h-0.6zM336.4 608.6h1v1h-1zM298.7 622.3h0.5v0.5h-0.5zM291.6 630.4h1v1h-1zM298.7 622.5h0.7v0.7h-0.7zM286.2 616.6h1v1h-1zM322.4 631.2h0.6v0.6h-0.6zM282.9 619.3h0.6v0.6h-0.6zM299.9 591h1v1h-1zM287.2 598.7h0.6v0.6h-0.6zM276 616.5h1v1h-1zM317.7 618.3h1v1h-1zM294.3 615.9h0.5v0.5h-0.5zM288.1 605.4h0.5v0.5h-0.5zM316.8 629.6h0.5v0.5h-0.5zM295.1 636.4h0.8v0.8h-0.8zM336.6 612.2h1v1h-1zM296.5 624.3h0.9v0.9h-0.9zM310.3 610.9h0.7v0.7h-0.7zM280 632.8h1v1h-1zM303.4 624.8h0.5v0.5h-0.5zM313.5 636.3h0.5v0.5h-0.5zM277.8 612.2h0.9v0.9h-0.9zM300.7 645.2h0.5v0.5h-0.5zM301.4 633.8h0.5v0.5h-0.5zM294.9 605h1v1h-1zM333.2 605.3h0.7v0.7h-0.7zM303 589.2h0.6v0.6h-0.6zM301.7 641.2h0.6v0.6h-0.6zM289.9 618.1h0.7v0.7h-0.7zM330.7 610.5h0.9v0.9h-0.9zM292.9 629.6h0.6v0.6h-0.6zM286.9 625.8h0.5v0.5h-0.5zM319.9 613.3h1v1h-1zM294.1 590.6h0.7v0.7h-0.7zM306.9 617.4h0.8v0.8h-0.8zM292.8 589h1v1h-1z"/>
<path fill="#903478" d="M309.6 623.7h0.7v0.7h-0.7zM326 609.6h0.9v0.9h-0.9zM309.1 604.6h0.5v0.5h-0.5zM286.3 640h0.9v0.9h-0.9zM310.2 599h0.5v0.5h-0.5zM319.5 597.7h0.5v0.5h-0.5zM289.8 638.4h0.6v0.6h-0.6zM300.1 632.9h0.8v0.8h-0.8zM327.6 639.9h1v1h-1zM303.6 627h0.7v0.7h-0.7zM334.7 604.8h0.6v0.6h-0.6zM306.6 611h0.9v0.9h-0.9zM296.9 627.5h0.9v0.9h-0.9zM309 622.9h0.9v0.9h-0.9zM324.8 641.6h0.8v0.8h-0.8zM311.9 607.2h0.6v0.6h-0.6zM321.6 627h0.6v0.6h-0.6zM289.6 607.9h0.9v0.9h-0.9zM321.3 632.8h0.6v0.6h-0.6zM325.9 599.2h0.6v0.6h-0.6zM295 633.6h0.8v0.8h-0.8zM325.2 597.7h1v1h-1zM296 604.3h1v1h-1zM296.2 643.7h0.9v0.9h-0.9zM295.4 638.1h0.9v0.9h-0.9zM284.1 598h0.5v0.5h-0.5zM297.8 619.7h0.7v0.7h-0.7zM292 606.8h0.5v0.5h-0.5zM314.1 611.3h0.7v0.7h-0.7zM300.3 592.1h1v1h-1zM296.4 601.4h0.8v0.8h-0.8zM319.9 644.5h0.6v0.6h-0.6zM335.9 633.7h0.6v0.6h-0.6zM286 625.5h0.8v0.8h-0.8zM326.9 633.7h0.7v0.7h-0.7zM303.7 628.1h0.7v0.7h-0.7zM297.3 592.7h1.1v1.1h-1.1zM309.8 643.7h0.7v0.7h-0.7zM306.3 624.3h0.6v0.6h-0.6zM317.8 590.8h0.5v0.5h-0.5zM315 608.2h0.9v0.9h-0.9zM291.6 591.8h0.6v0.6h-0.6zM317.6 597h0.6v0.6h-0.6zM286.2 632.7h0.9v0.9h-0.9zM319.1 602.9h0.8v0.8h-0.8zM308.2 586.9h0.9v0.9h-0.9zM284.9 614.4h0.7v0.7h-0.7zM322.9 590.7h0.6v0.6h-0.6zM324.8 623.4h1v1h-1zM284.6 601.3h1v1h-1zM307.5 590h1.1v1.1h-1.1zM336 602.3h0.9v0.9h-0.9zM304.4 601.2h0.7v0.7h-0.7zM300.1 614.5h1v1h-1zM306.9 617.8h1v1h-1zM319.6 606.4h0.7v0.7h-0.7zM283.2 632.1h0.6v0.6h-0.6zM293 640.8h1v1h-1zM328.5 598.6h0.9v0.9h-0.9zM282.8 610h0.5v0.5h-0.5zM311.3 610.9h0.5v0.5h-0.5zM298.9 595.8h1v1h-1zM279.2 622.1h0.6v0.6h-0.6zM314 644.2h0.5v0.5h-0.5zM286.4 605.6h0.6v0.6h-0.6zM299.8 610.6h1v1h-1zM338.5 629.4h0.6v0.6h-0.6zM301 626.6h0.5v0.5h-0.5zM305.1 621.5h0.9v0.9h-0.9zM308.3 617.3h0.9v0.9h-0.9zM322.6 599.2h0.7v0.7h-0.7zM297.2 616.1h0.9v0.9h-0.9zM294.4 601.7h0.6v0.6h-0.6zM274.5 618.8h0.6v0.6h-0.6zM294.9 601.8h0.8v0.8h-0.8zM303.1 631.4h0.6v0.6h-0.6zM327.3 619.7h0.9v0.9h-0.9zM292.1 618h0.5v0.5h-0.5zM301 588h0.7v0.7h-0.7zM297.6 610.4h0.6v0.6h-0.6zM281.8 609.3h1.1v1.1h-1.1zM310.5 588.9h0.5v0.5h-0.5zM331 624.9h1.1v1.1h-1.1zM327 606.1h1v1h-1zM291.7 595.5h0.8v0.8h-0.8zM333.6 632.2h0.5v0.5h-0.5zM314.9 620.5h1v1h-1zM317.9 644.5h1v1h-1zM312.3 601.4h0.5v0.5h-0.5zM293 594.4h0.6v0.6h-0.6zM326.8 614.8h1v1h-1zM293.2 630.2h0.8v0.8h-0.8zM314.4 628.8h1.1v1.1h-1.1zM298.6 624h0.8v0.8h-0.8zM324.8 608.5h0.9v0.9h-0.9zM311.1 599.6h0.8v0.8h-0.8zM293.6 609.6h0.9v0.9h-0.9zM287.5 608.3h0.7v0.7h-0.7zM302.4 630.6h0.9v0.9h-0.9zM336 611h0.6v0.6h-0.6zM332.5 627.7h0.6v0.6h-0.6zM278 607.7h0.7v0.7h-0.7zM290.3 593.5h0.7v0.7h-0.7zM298 589.2h0.6v0.6h-0.6zM288.8 609.4h0.5v0.5h-0.5zM279.8 629.4h0.5v0.5h-0.5zM306.3 625.5h0.7v0.7h-0.7zM299.8 638.1h0.5v0.5h-0.5zM302 606.3h0.7v0.7h-0.7zM283 627h0.7v0.7h-0.7zM327.6 641h0.9v0.9h-0.9zM341.4 619.9h0.8v0.8h-0.8zM319.7 602.3h0.8v0.8h-0.8zM307 631.7h0.8v0.8h-0.8zM311.5 598.8h0.8v0.8h-0.8zM295.1 603.4h0.7v0.7h-0.7zM335.9 601.9h0.7v0.7h-0.7zM334.7 608.4h1.1v1.1h-1.1zM309 643.6h0.5v0.5h-0.5zM307.3 592.5h1v1h-1zM295.4 616.6h1.1v1.1h-1.1zM314.1 612.3h0.7v0.7h-0.7zM311.6 594.4h0.5v0.5h-0.5zM304 644.9h0.7v0.7h-0.7zM294.8 592.9h1v1h-1zM322.7 632.6h0.7v0.7h-0.7zM322.7 620.8h0.9v0.9h-0.9zM311.7 632.9h0.8v0.8h-0.8zM323.7 596.5h1v1h-1zM322.5 601.3h0.5v0.5h-0.5zM293.8 639.4h0.9v0.9h-0.9zM293.8 638h0.7v0.7h-0.7zM285.5 594.2h0.9v0.9h-0.9zM330.6 632.9h1v1h-1zM334.1 598.4h1v1h-1zM277.7 607.9h0.7v0.7h-0.7zM299.7 607.7h0.6v0.6h-0.6zM310.9 609.9h0.8v0.8h-0.8zM287.8 634.4h1v1h-1zM299.2 646.1h0.5v0.5h-0.5zM310.7 593.8h0.9v0.9h-0.9zM325.6 634.4h0.7v0.7h-0.7zM278.3 615.7h0.8v0.8h-0.8zM299.9 639.1h0.9v0.9h-0.9zM314 615.6h0.8v0.8h-0.8zM280.9 611.7h0.8v0.8h-0.8zM301.8 642.7h0.8v0.8h-0.8zM312.5 630.3h0.6v0.6h-0.6zM299.4 609.5h0.8v0.8h-0.8zM299.9 626.9h0.9v0.9h-0.9zM293.3 637.1h0.8v0.8h-0.8zM276 617h0.7v0.7h-0.7zM309.9 636.3h0.8v0.8h-0.8zM304.4 602.8h1v1h-1zM316.8 589.8h0.5v0.5h-0.5zM332.1 618h0.7v0.7h-0.7zM331.5 633.9h0.7v0.7h-0.7zM299.4 623h0.6v0.6h-0.6zM321.3 619.9h0.7v0.7h-0.7zM323.5 596.3h1.1v1.1h-1.1zM323.2 643.4h0.6v0.6h-0.6zM308.7 593.3h1v1h-1zM305.8 626.1h0.8v0.8h-0.8zM286.1 632.5h0.9v0.9h-0.9zM325.7 599.2h1v1h-1zM315.2 607.3h0.5v0.5h-0.5zM292.2 616.9h1.1v1.1h-1.1zM336.2 617.8h1v1h-1zM322.8 592.9h0.8v0.8h-0.8zM314.1 596h0.8v0.8h-0.8zM306.4 642.4h0.9v0.9h-0.9zM291.1 622.1h0.7v0.7h-0.7zM315.4 613.6h0.6v0.6h-0.6zM297.6 620.7h0.9v0.9h-0.9zM320.6 629.6h0.8v0.8h-0.8zM289.6 621.8h0.7v0.7h-0.7zM301.3 598.6h0.9v0.9h-0.9zM318.8 600.5h0.6v0.6h-0.6zM284.9 595.7h1v1h-1zM303.2 594.8h0.8v0.8h-0.8zM293.9 638.1h0.9v0.9h-0.9zM324.5 632h0.8v0.8h-0.8zM287.4 594.9h0.9v0.9h-0.9zM286.7 607.9h0.9v0.9h-0.9zM280.6 634.9h0.6v0.6h-0.6zM284.5 610.7h0.5v0.5h-0.5zM318.4 613.1h0.8v0.8h-0.8zM323.1 588.5h1v1h-1zM292.7 595.7h0.9v0.9h-0.9zM316.7 605.2h1v1h-1zM283.2 601.8h1v1h-1zM322.1 634h0.8v0.8h-0.8zM279.9 613.8h0.6v0.6h-0.6zM319.1 606.4h0.7v0.7h-0.7zM331.6 607.7h0.9v0.9h-0.9zM281.3 625.6h0.7v0.7h-0.7zM308.8 614.9h0.8v0.8h-0.8zM299.9 605.9h1v1h-1zM280.7 620.4h0.6v0.6h-0.6zM278.1 604.3h0.5v0.5h-0.5zM278.8 608.1h0.6v0.6h-0.6zM303.8 585.7h0.9v0.9h-0.9zM286.8 593.4h0.6v0.6h-0.6zM308.3 594.6h0.7v0.7h-0.7zM303.6 623.2h0.9v0.9h-0.9zM291.6 632.5h0.9v0.9h-0.9zM306.3 598h0.9v0.9h-0.9zM303.5 619.6h0.9v0.9h-0.9zM295.1 642.5h0.9v0.9h-0.9zM331.7 611.3h0.9v0.9h-0.9zM310.9 598.7h0.9v0.9h-0.9zM287.1 618.8h1v1h-1zM304.5 595.3h0.5v0.5h-0.5zM330.7 610h0.6v0.6h-0.6zM305.1 601.3h0.6v0.6h-0.6zM290.5 614.1h0.5v0.5h-0.5zM314.2 636.4h1.1v1.1h-1.1zM287 629.2h1.1v1.1h-1.1zM300.2 621.3h0.7v0.7h-0.7zM277.9 602.9h1v1h-1zM328.5 606.5h0.9v0.9h-0.9zM325.3 630.7h0.6v0.6h-0.6zM285.9 623.3h0.8v0.8h-0.8zM281.2 609h0.9v0.9h-0.9zM286 629.9h1v1h-1zM315.1 634.1h0.5v0.5h-0.5zM289.4 622.3h0.5v0.5h-0.5zM326.9 602.9h0.6v0.6h-0.6zM284.7 601.3h0.7v0.7h-0.7zM331.6 594.4h1v1h-1zM338.4 613.8h0.5v0.5h-0.5zM303.8 588.6h0.6v0.6h-0.6zM288.6 640.7h0.6v0.6h-0.6zM318.8 617.9h1.1v1.1h-1.1zM334.5 627h0.9v0.9h-0.9zM302.8 592.4h0.7v0.7h-0.7zM314.9 632.7h0.6v0.6h-0.6zM289.4 599.2h0.8v0.8h-0.8zM282.9 620.6h0.8v0.8h-0.8zM297.5 646.2h1.1v1.1h-1.1zM297.3 610.1h0.9v0.9h-0.9zM310.2 593.2h0.9v0.9h-0.9zM289.6 638.5h0.7v0.7h-0.7zM316.3 624.1h1v1h-1zM281.5 631h0.5v0.5h-0.5zM329.4 611h0.6v0.6h-0.6zM300.5 595.4h0.7v0.7h-0.7zM309.2 625.6h0.7v0.7h-0.7zM323.4 610.7h0.6v0.6h-0.6zM297.5 587.1h0.5v0.5h-0.5zM300.5 645.4h0.6v0.6h-0.6zM294 631.7h0.8v0.8h-0.8zM293.7 614.6h0.6v0.6h-0.6zM311.2 608.6h0.5v0.5h-0.5zM301.2 598.8h0.8v0.8h-0.8zM317.1 608.7h1.1v1.1h-1.1zM320.5 590.1h1v1h-1zM293.2 600.9h0.5v0.5h-0.5zM306.7 618.1h0.7v0.7h-0.7zM304 588.8h0.5v0.5h-0.5zM295.2 589.5h0.8v0.8h-0.8zM297.8 615.7h0.6v0.6h-0.6zM292.3 596.6h0.8v0.8h-0.8zM302.9 624.1h0.8v0.8h-0.8zM331 636h1v1h-1zM305.2 632h1v1h-1zM320.1 592.5h0.9v0.9h-0.9zM294.9 637.1h0.9v0.9h-0.9zM337.5 608.8h0.6v0.6h-0.6zM315.9 642.9h0.7v0.7h-0.7zM336.4 605h0.7v0.7h-0.7zM296.5 595.5h0.7v0.7h-0.7zM278.7 599.8h1.1v1.1h-1.1zM280.9 619.4h1.1v1.1h-1.1zM304.6 616.9h0.9v0.9h-0.9zM299.8 632.5h1v1h-1zM304.5 625.1h1v1h-1zM319.6 592h1v1h-1zM332.4 595.1h1.1v1.1h-1.1zM318.4 645.5h0.7v0.7h-0.7zM290.1 597.8h1.1v1.1h-1.1zM334.8 623.2h1v1h-1zM337.9 630h0.6v0.6h-0.6zM326.4 616.4h0.8v0.8h-0.8zM305.9 609h1v1h-1zM289.2 602.9h0.6v0.6h-0.6zM318.2 604.9h1v1h-1zM333.1 604.1h0.9v0.9h-0.9zM305.7 587.5h0.9v0.9h-0.9zM319.6 637.1h0.7v0.7h-0.7z"/>
<path fill="#c060a4" d="M317.5 602.3h0.9v0.9h-0.9zM282.7 614.1h0.6v0.6h-0.6zM291.5 623.9h0.6v0.6h-0.6zM310 628.4h0.6v0.6h-0.6zM295.8 633.4h1v1h-1zM339.4 610.8h0.9v0.9h-0.9zM275.4 611.4h0.7v0.7h-0.7zM285.5 614.7h0.5v0.5h-0.5zM304.2 633.9h1.1v1.1h-1.1zM301 626.6h0.5v0.5h-0.5zM311.7 612.6h0.5v0.5h-0.5zM297 596.6h0.7v0.7h-0.7zM286.9 633.9h1v1h-1zM307.4 644.3h0.5v0.5h-0.5zM336.3 603.9h0.9v0.9h-0.9zM320.7 607.1h0.6v0.6h-0.6zM290.2 596h1v1h-1zM315.6 637.2h0.5v0.5h-0.5zM313.3 611.3h0.9v0.9h-0.9zM326.9 623.8h0.7v0.7h-0.7zM296.5 586.6h0.9v0.9h-0.9zM283.4 596h0.5v0.5h-0.5zM330.4 603h1v1h-1zM310.5 645.2h1v1h-1zM304.1 638.6h0.5v0.5h-0.5zM308.8 641.9h0.9v0.9h-0.9zM294 596.1h0.6v0.6h-0.6zM280.4 632.3h0.9v0.9h-0.9zM290.7 625.5h1v1h-1zM308.1 611.2h0.7v0.7h-0.7zM303.3 600.3h0.9v0.9h-0.9zM308.7 611.8h1v1h-1zM293.4 594.9h1v1h-1zM281.4 613.8h0.8v0.8h-0.8zM322.8 624.3h0.6v0.6h-0.6zM334.7 610.6h1v1h-1zM303 642.8h0.5v0.5h-0.5zM296.8 629.6h0.7v0.7h-0.7zM305.3 606.1h0.7v0.7h-0.7zM283.3 601.2h0.8v0.8h-0.8zM300.7 613.8h0.7v0.7h-0.7zM340.4 615.9h0.9v0.9h-0.9zM333.6 614h0.6v0.6h-0.6zM298.1 588.8h0.6v0.6h-0.6zM286.5 601.1h0.5v0.5h-0.5zM296.2 638.8h0.5v0.5h-0.5zM303.4 620.6h0.8v0.8h-0.8zM303.8 605.4h1v1h-1zM314.4 592.6h0.7v0.7h-0.7zM304.9 639h0.5v0.5h-0.5zM310.8 626.9h0.6v0.6h-0.6zM316.4 614h0.7v0.7h-0.7zM276.6 628.8h1v1h-1zM307.7 604.6h1v1h-1zM282.9 624.4h0.5v0.5h-0.5zM284.5 622.2h0.7v0.7h-0.7zM288.7 614.6h1v1h-1zM322.8 595.5h0.7v0.7h-0.7zM316 633.9h0.6v0.6h-0.6zM319.3 591h0.7v0.7h-0.7zM282.2 610.6h0.5v0.5h-0.5zM290 635.3h1v1h-1zM308.6 637.9h0.9v0.9h-0.9zM293.5 590.6h1v1h-1zM315.2 615.7h0.8v0.8h-0.8zM277.7 617.6h0.6v0.6h-0.6zM337.5 601.9h0.5v0.5h-0.5zM309.9 598.5h1.1v1.1h-1.1zM318.5 587.1h1v1h-1zM322 640.6h0.7v0.7h-0.7zM314.2 625.3h0.6v0.6h-0.6zM331.8 636.5h0.8v0.8h-0.8zM287.4 607.9h0.7v0.7h-0.7zM336.8 629.9h1v1h-1zM324.7 636.7h0.9v0.9h-0.9zM332.7 622.4h0.9v0.9h-0.9zM305.7 593.4h0.8v0.8h-0.8zM282.6 633.2h0.5v0.5h-0.5zM326.4 605.4h1v1h-1zM287.9 599.6h1v1h-1zM327.7 616h0.9v0.9h-0.9zM337.2 630.5h0.6v0.6h-0.6zM300 637.7h1v1h-1zM289.8 636.5h0.5v0.5h-0.5zM290.6 633.3h1v1h-1zM327.5 599h1v1h-1zM311.9 590.1h0.9v0.9h-0.9zM319.9 631.9h1v1h-1zM317.8 633h0.7v0.7h-0.7zM303.1 617.1h0.7v0.7h-0.7zM306 615.3h0.7v0.7h-0.7zM333.8 612.3h0.7v0.7h-0.7zM338.2 630.5h0.6v0.6h-0.6zM276.9 626.5h0.7v0.7h-0.7zM321.5 624.4h1v1h-1zM302.7 593.5h1v1h-1zM336.1 609.9h0.9v0.9h-0.9zM331.7 594.4h0.9v0.9h-0.9zM293 635.5h0.9v0.9h-0.9zM336.6 617.9h0.7v0.7h-0.7zM306.5 588.4h0.6v0.6h-0.6zM323.6 593.8h0.8v0.8h-0.8zM288.1 638h0.9v0.9h-0.9zM315.5 629.8h1v1h-1zM339.1 621.6h0.7v0.7h-0.7zM329.3 636.8h0.6v0.6h-0.6zM328.7 602.8h0.7v0.7h-0.7zM304 600.8h1.1v1.1h-1.1zM280.2 622.2h0.7v0.7h-0.7zM314.4 606.5h0.7v0.7h-0.7zM329.7 623.6h0.5v0.5h-0.5zM296.3 610.6h0.8v0.8h-0.8zM286 607.1h0.5v0.5h-0.5zM312.1 599.5h0.7v0.7h-0.7zM324 613.2h0.6v0.6h-0.6zM296.4 617h1v1h-1zM314.9 603.1h0.8v0.8h-0.8zM313.6 618.7h0.7v0.7h-0.7zM297.1 634h1.1v1.1h-1.1zM313.1 635.5h0.7v0.7h-0.7zM322.8 622.3h0.9v0.9h-0.9zM322.5 609.3h0.8v0.8h-0.8zM311 608h0.7v0.7h-0.7zM317.5 603.6h0.7v0.7h-0.7zM328.4 620.6h0.5v0.5h-0.5zM290.3 618h0.6v0.6h-0.6zM310.1 626.1h0.7v0.7h-0.7zM293.5 618h0.8v0.8h-0.8zM297.7 609.2h0.7v0.7h-0.7zM286.7 627.6h0.6v0.6h-0.6zM301 596.8h0.7v0.7h-0.7zM281.3 623.1h0.8v0.8h-0.8zM311.3 593.2h0.6v0.6h-0.6zM287.3 611.6h0.6v0.6h-0.6zM301 617.9h0.8v0.8h-0.8zM293.4 614.4h0.8v0.8h-0.8zM277.8 627.3h0.5v0.5h-0.5zM315.3 610.1h1v1h-1zM283.4 636.4h0.6v0.6h-0.6zM331.1 601.4h0.6v0.6h-0.6zM323.1 642.6h1v1h-1zM322.3 623.9h0.5v0.5h-0.5zM309.4 609.3h0.8v0.8h-0.8zM314 617.6h0.7v0.7h-0.7zM311.3 600.8h0.8v0.8h-0.8zM299.4 633.9h0.5v0.5h-0.5zM322.8 601.4h1.1v1.1h-1.1zM299.4 595.6h0.6v0.6h-0.6zM315.5 589.6h1.1v1.1h-1.1zM333.6 624.4h0.7v0.7h-0.7zM295.3 592.4h0.8v0.8h-0.8zM293.9 614.3h1v1h-1zM285.5 639.6h1v1h-1zM330 614.2h0.8v0.8h-0.8zM315.5 639.1h0.9v0.9h-0.9zM299.5 641.6h0.5v0.5h-0.5zM329 596.7h0.5v0.5h-0.5zM294.6 604.4h0.7v0.7h-0.7zM316.7 642.7h1v1h-1zM310.5 621.5h0.8v0.8h-0.8zM318.9 644.5h0.5v0.5h-0.5zM305.5 609.5h0.8v0.8h-0.8zM341.1 613.6h0.5v0.5h-0.5zM297.3 621h0.5v0.5h-0.5zM289.4 616h0.8v0.8h-0.8zM282.1 600.6h0.6v0.6h-0.6zM296.2 593.2h0.5v0.5h-0.5zM319.9 599h0.7v0.7h-0.7zM277 620h0.6v0.6h-0.6zM336.9 622.2h0.7v0.7h-0.7zM302.9 592.8h0.8v0.8h-0.8zM276.2 611.3h0.8v0.8h-0.8zM332.8 634.4h0.5v0.5h-0.5zM339.5 625.2h0.8v0.8h-0.8zM306 646.5h0.6v0.6h-0.6zM281.7 633.7h0.5v0.5h-0.5zM324.8 619.2h1.1v1.1h-1.1zM327.4 642h0.8v0.8h-0.8zM328.6 594.7h0.8v0.8h-0.8zM329.6 636h0.5v0.5h-0.5zM289.8 599.2h0.7v0.7h-0.7zM326 611.8h0.5v0.5h-0.5zM306.3 596.7h0.8v0.8h-0.8zM289.6 641h0.8v0.8h-0.8zM313.5 637.5h0.5v0.5h-0.5zM303.6 642.2h0.6v0.6h-0.6zM280.8 609.8h0.9v0.9h-0.9zM298.7 632.5h0.9v0.9h-0.9zM323.1 637h1v1h-1zM340.1 623.8h0.6v0.6h-0.6zM286.3 598.2h0.5v0.5h-0.5zM281.9 619.9h0.5v0.5h-0.5zM330.6 606h1.1v1.1h-1.1zM315 644.1h0.7v0.7h-0.7zM303.1 611.6h0.9v0.9h-0.9zM315.8 606.6h0.8v0.8h-0.8zM282 629.5h0.8v0.8h-0.8zM297.4 610.8h0.5v0.5h-0.5zM284.6 609.6h0.9v0.9h-0.9zM285.5 601.3h0.9v0.9h-0.9zM331.2 624.6h0.9v0.9h-0.9zM301.7 618.6h0.8v0.8h-0.8zM286.1 633.9h0.5v0.5h-0.5zM334.6 612.7h0.5v0.5h-0.5zM316.8 599.7h0.7v0.7h-0.7zM326.4 618.9h0.5v0.5h-0.5zM330.1 607.3h0.8v0.8h-0.8zM329.1 593.1h1v1h-1zM292 612.2h0.7v0.7h-0.7zM295.4 594h0.9v0.9h-0.9zM329.6 604.3h0.6v0.6h-0.6zM275 625h0.8v0.8h-0.8zM317.5 645.4h1v1h-1zM308.5 624.3h0.9v0.9h-0.9zM306.2 606.9h0.8v0.8h-0.8zM300 623.1h0.9v0.9h-0.9zM308.5 610.4h0.5v0.5h-0.5zM287.7 608.8h0.5v0.5h-0.5zM309.6 605.5h0.5v0.5h-0.5zM296.3 589.2h1v1h-1zM297.8 591h0.9v0.9h-0.9zM314.7 646.7h1v1h-1zM320.2 588.4h0.6v0.6h-0.6zM305.5 608h1v1h-1zM331.2 619.7h0.5v0.5h-0.5zM314.4 615.2h1v1h-1zM327.2 607h1v1h-1zM289.2 596.6h0.7v0.7h-0.7zM294.7 595.3h1.1v1.1h-1.1zM296.6 610.2h0.8v0.8h-0.8zM309.2 592.3h1v1h-1zM298.4 595.1h0.9v0.9h-0.9zM300.3 645.2h0.9v0.9h-0.9zM335.3 609.4h0.9v0.9h-0.9zM296.1 615.7h0.9v0.9h-0.9zM322.1 600.7h0.9v0.9h-0.9zM328.1 625.5h0.6v0.6h-0.6zM308.9 634.7h0.6v0.6h-0.6zM331.9 608.6h0.9v0.9h-0.9zM332.3 636.5h0.8v0.8h-0.8zM326 636.9h0.8v0.8h-0.8zM335.4 601.2h0.9v0.9h-0.9zM338.7 610.7h0.6v0.6h-0.6zM324.7 641.2h1.1v1.1h-1.1zM328.9 621.8h0.8v0.8h-0.8zM307 638.8h1v1h-1zM291.6 612.5h0.7v0.7h-0.7zM329.9 613.9h0.9v0.9h-0.9zM317.6 598.1h1.1v1.1h-1.1zM302.3 594.2h0.9v0.9h-0.9zM303.8 618.8h1v1h-1zM325.5 601h1v1h-1zM325.7 606.1h0.7v0.7h-0.7zM285.1 612.4h0.8v0.8h-0.8zM292.7 605.2h0.6v0.6h-0.6zM296.9 638.2h0.5v0.5h-0.5zM301.9 625.6h0.9v0.9h-0.9zM337.6 602.3h0.9v0.9h-0.9zM296 604.7h0.5v0.5h-0.5zM282.8 626.3h0.6v0.6h-0.6zM284.5 608.7h0.5v0.5h-0.5zM296.7 642.4h0.7v0.7h-0.7zM296.7 613.6h0.6v0.6h-0.6zM328.7 610.6h0.8v0.8h-0.8zM280.7 612.4h0.6v0.6h-0.6zM331 618.5h0.9v0.9h-0.9zM335.4 628.7h0.7v0.7h-0.7z"/>
<path fill="#b04890" d="M292.9 628.4h1v1h-1zM285.2 639.9h1v1h-1zM296.7 603h1v1h-1zM315.8 611.5h1v1h-1zM303.8 638.5h1v1h-1zM301.1 598.7h0.8v0.8h-0.8zM280 608.3h1v1h-1zM294.6 595.4h0.9v0.9h-0.9zM298.4 633.7h0.6v0.6h-0.6zM321.1 616h0.5v0.5h-0.5zM309.5 628.1h0.9v0.9h-0.9zM299.9 589.3h0.7v0.7h-0.7zM315.1 613.7h0.8v0.8h-0.8zM332.2 604.9h0.9v0.9h-0.9zM296.5 587.9h0.8v0.8h-0.8zM315.7 621.4h0.5v0.5h-0.5zM301.2 625.5h1v1h-1zM291.6 641.2h0.6v0.6h-0.6zM325.7 626.8h0.6v0.6h-0.6zM295.3 591.6h0.6v0.6h-0.6zM302.2 594.2h0.6v0.6h-0.6zM329.7 606.1h0.6v0.6h-0.6zM315.5 624.1h0.9v0.9h-0.9zM304.2 588.8h0.8v0.8h-0.8zM299.7 604.7h0.7v0.7h-0.7zM314.5 639.3h0.6v0.6h-0.6zM294.4 619.3h0.7v0.7h-0.7zM307.1 617.6h0.7v0.7h-0.7zM304.7 620.1h0.5v0.5h-0.5zM312.1 599.6h0.8v0.8h-0.8zM310.9 644.4h0.7v0.7h-0.7zM283.7 598.8h0.6v0.6h-0.6zM292.8 598.2h0.7v0.7h-0.7zM336.9 610.3h0.9v0.9h-0.9zM293.7 634.2h0.8v0.8h-0.8zM301.8 647h1v1h-1zM274.8 617.1h0.9v0.9h-0.9zM313 593.4h0.5v0.5h-0.5zM287.4 629.6h0.7v0.7h-0.7zM297.2 607.8h1v1h-1zM325.5 637.5h0.5v0.5h-0.5zM299.1 603.8h0.5v0.5h-0.5zM285.8 619.3h1v1h-1zM310.6 586.3h0.7v0.7h-0.7zM320.7 641.7h1v1h-1zM311.3 633.2h0.6v0.6h-0.6zM296.4 644.2h0.8v0.8h-0.8zM280.1 607.8h0.5v0.5h-0.5zM326 628.5h0.7v0.7h-0.7zM308 597.7h0.8v0.8h-0.8zM324.5 632.7h0.7v0.7h-0.7zM324.1 615.8h0.7v0.7h-0.7zM293.9 600h0.9v0.9h-0.9zM323.2 641.2h0.5v0.5h-0.5zM332.5 630.5h1v1h-1zM287.5 606.7h1v1h-1zM298.4 610h0.7v0.7h-0.7zM300.8 597.4h1v1h-1zM305.3 609.8h1v1h-1zM296.5 605.1h0.7v0.7h-0.7zM332.8 628.6h0.5v0.5h-0.5zM282.5 620.2h1v1h-1zM308 628.4h0.6v0.6h-0.6zM322.8 640.7h0.8v0.8h-0.8zM325.1 602.1h1v1h-1zM330.1 594.1h0.8v0.8h-0.8zM328.8 610.2h1v1h-1zM295.8 627.6h0.8v0.8h-0.8zM279.6 609.2h0.7v0.7h-0.7zM311.7 594.6h0.6v0.6h-0.6zM306.8 593.4h0.8v0.8h-0.8zM290.7 614.6h0.8v0.8h-0.8zM323.7 632.3h0.7v0.7h-0.7zM283.7 612h0.5v0.5h-0.5zM290.3 616.7h0.6v0.6h-0.6zM319.5 645.8h0.7v0.7h-0.7zM286.5 594.8h0.6v0.6h-0.6zM318 606h0.8v0.8h-0.8zM312.9 586h1v1h-1zM320.5 615.7h0.8v0.8h-0.8zM316 622.4h0.9v0.9h-0.9zM302 617.5h0.7v0.7h-0.7zM336.9 609.5h0.9v0.9h-0.9zM306.5 590.7h1v1h-1zM333.1 615.9h0.8v0.8h-0.8zM333.9 620.8h0.7v0.7h-0.7zM318.8 606.6h0.5v0.5h-0.5zM320.4 632.8h0.5v0.5h-0.5zM295 605.8h0.9v0.9h-0.9zM275.2 621.9h0.6v0.6h-0.6zM308.8 617.4h0.7v0.7h-0.7zM317 622.7h0.8v0.8h-0.8zM304.7 610.7h0.5v0.5h-0.5zM334.4 609.6h0.8v0.8h-0.8zM301.5 593.8h0.6v0.6h-0.6zM330.6 632.5h0.9v0.9h-0.9zM305.4 624.8h0.8v0.8h-0.8zM291.9 608.1h0.9v0.9h-0.9zM305 634.4h0.6v0.6h-0.6zM321.9 590.9h1v1h-1zM294.5 590.5h1v1h-1zM283.8 598h1v1h-1zM323.4 623.5h0.8v0.8h-0.8zM296.7 615.1h0.7v0.7h-0.7zM336.2 601.7h0.8v0.8h-0.8zM314.5 614.8h0.8v0.8h-0.8zM313.8 596h0.7v0.7h-0.7zM297.8 592h0.5v0.5h-0.5zM290 611.3h0.7v0.7h-0.7zM296.2 626.6h1v1h-1zM285.6 610.9h0.7v0.7h-0.7zM302.6 606h1v1h-1zM315.2 631.1h0.5v0.5h-0.5zM288.3 619.3h0.8v0.8h-0.8zM310.9 596.5h0.6v0.6h-0.6zM303.5 612h0.9v0.9h-0.9zM325.7 620.8h0.6v0.6h-0.6zM316.8 605.8h0.6v0.6h-0.6zM276.4 605.9h0.8v0.8h-0.8zM288.9 594.8h0.7v0.7h-0.7zM318.6 588h0.7v0.7h-0.7zM303.4 637.9h0.6v0.6h-0.6zM322.8 603.9h0.8v0.8h-0.8zM307.2 602.9h0.8v0.8h-0.8zM292.2 609.6h0.6v0.6h-0.6zM335.4 624.7h0.7v0.7h-0.7zM294.1 601.1h0.5v0.5h-0.5zM314.6 646.3h1v1h-1zM339.2 610.7h0.6v0.6h-0.6zM297.1 644.3h0.5v0.5h-0.5zM320.8 588.5h0.9v0.9h-0.9zM281.9 621h0.8v0.8h-0.8zM275.1 618h0.9v0.9h-0.9zM297.2 612.2h0.9v0.9h-0.9zM296.9 610.8h0.7v0.7h-0.7zM306.8 631.8h0.8v0.8h-0.8zM307.4 643.4h0.6v0.6h-0.6zM337.8 608.6h0.6v0.6h-0.6zM295 622h0.9v0.9h-0.9zM293.1 613.9h0.6v0.6h-0.6zM334 601.5h0.8v0.8h-0.8zM286.7 618h0.5v0.5h-0.5zM312.1 616.9h0.8v0.8h-0.8zM300 644.2h1v1h-1zM306.8 591.1h0.9v0.9h-0.9zM304.7 634.1h0.7v0.7h-0.7zM327.1 595.4h1v1h-1zM326.3 617.6h0.7v0.7h-0.7zM279 609.6h0.6v0.6h-0.6zM285.6 613.8h1.1v1.1h-1.1zM306.6 605.4h1v1h-1zM281.9 604.5h0.6v0.6h-0.6zM294.1 595.6h0.8v0.8h-0.8zM285.7 628.7h0.6v0.6h-0.6zM309.2 586.6h0.7v0.7h-0.7zM311.4 611.4h0.9v0.9h-0.9zM325.8 592.9h0.7v0.7h-0.7zM315.3 615.1h0.8v0.8h-0.8zM277.6 621.9h0.9v0.9h-0.9zM311.9 635.5h0.6v0.6h-0.6zM328.2 633.1h0.5v0.5h-0.5zM287.5 640.2h0.6v0.6h-0.6zM302.2 643h0.9v0.9h-0.9zM312.8 606.2h1v1h-1zM320.7 597.4h0.5v0.5h-0.5zM294 602.7h0.9v0.9h-0.9zM324.9 629.9h0.6v0.6h-0.6zM289.5 599.7h0.5v0.5h-0.5zM297.7 597h0.7v0.7h-0.7zM299 638.2h0.6v0.6h-0.6zM327.1 601.1h0.8v0.8h-0.8zM313.2 632.2h0.9v0.9h-0.9zM282.7 632h0.6v0.6h-0.6zM308 587.8h0.7v0.7h-0.7zM316.4 593.7h0.6v0.6h-0.6zM309.7 593.6h0.5v0.5h-0.5zM307.9 609.5h0.7v0.7h-0.7zM288.1 642h0.6v0.6h-0.6zM303.7 619h0.7v0.7h-0.7zM290.6 589.1h0.9v0.9h-0.9zM302.1 624.2h0.9v0.9h-0.9zM330.5 595.1h0.8v0.8h-0.8zM283.8 617.2h0.6v0.6h-0.6zM283.8 618.3h0.5v0.5h-0.5zM292.9 643.2h1.1v1.1h-1.1zM299.4 586.2h0.9v0.9h-0.9zM333.5 623.6h0.9v0.9h-0.9zM289.7 623.3h0.7v0.7h-0.7zM319.4 592.7h1v1h-1zM331.2 594.8h0.8v0.8h-0.8zM340.7 621.8h0.5v0.5h-0.5zM321.6 595.3h0.9v0.9h-0.9zM275.6 619.2h0.9v0.9h-0.9zM318 590.7h1v1h-1zM280.2 604.2h0.6v0.6h-0.6zM296.9 601.6h0.9v0.9h-0.9zM308 635.3h0.5v0.5h-0.5zM287.1 604.8h0.9v0.9h-0.9zM319.7 598.2h0.9v0.9h-0.9zM315.2 624.6h0.5v0.5h-0.5zM331.1 612.6h1v1h-1zM282.3 613.9h0.5v0.5h-0.5zM284.9 601.1h0.6v0.6h-0.6zM293.1 622.4h0.8v0.8h-0.8zM305.8 630.5h0.9v0.9h-0.9zM312.6 638.6h0.7v0.7h-0.7zM281.8 636.3h0.7v0.7h-0.7zM302.8 636.4h0.6v0.6h-0.6zM316 602.5h0.5v0.5h-0.5zM306.3 614.4h0.8v0.8h-0.8zM290.4 603.4h1v1h-1zM304.2 640.4h0.7v0.7h-0.7zM332.6 619.5h0.9v0.9h-0.9zM284.3 622.1h1v1h-1zM290.4 636.4h1v1h-1zM314.9 598h1v1h-1zM334.7 605.1h1v1h-1zM318.2 622.2h0.5v0.5h-0.5zM319.7 616.3h1v1h-1zM323.8 617h1v1h-1zM307.7 592.3h0.9v0.9h-0.9zM318.4 617.5h0.8v0.8h-0.8zM318.6 623.4h0.5v0.5h-0.5zM306.2 621.7h1v1h-1zM325.4 639.1h0.7v0.7h-0.7zM312.5 614h0.5v0.5h-0.5zM310.6 622.3h1v1h-1zM289.2 638.2h1.1v1.1h-1.1zM293 590.1h1v1h-1zM304.4 613.1h1v1h-1zM301.6 643.4h0.9v0.9h-0.9zM304.8 586.9h0.7v0.7h-0.7zM306.8 636.4h0.8v0.8h-0.8zM338.8 608.7h0.7v0.7h-0.7zM310.4 602.5h1v1h-1zM292.5 592.8h0.5v0.5h-0.5zM328.4 633h0.8v0.8h-0.8zM316.7 586.3h0.8v0.8h-0.8zM328.6 594.4h1.1v1.1h-1.1zM301.3 588.6h1v1h-1zM282.9 611.3h0.5v0.5h-0.5zM279.2 615.7h1v1h-1zM279.6 600.7h1v1h-1zM286.1 620.1h0.8v0.8h-0.8zM318.1 630.9h0.9v0.9h-0.9zM306.1 623.7h0.8v0.8h-0.8zM277.7 606.9h0.8v0.8h-0.8zM303.6 625h0.7v0.7h-0.7zM285.3 634.7h0.8v0.8h-0.8zM287.8 602.2h0.7v0.7h-0.7z"/>
<path fill="#f8e8f4" d="M313.7 596.5h0.6v0.6h-0.6zM300.1 593.1h0.5v0.5h-0.5zM299.9 644.7h0.6v0.6h-0.6zM282.6 631.7h0.5v0.5h-0.5zM338.7 609.7h0.6v0.6h-0.6zM316.4 604.5h0.8v0.8h-0.8zM317.8 612.6h0.6v0.6h-0.6zM285.7 593.6h0.9v0.9h-0.9zM301.1 595.7h0.7v0.7h-0.7zM306.1 647h0.6v0.6h-0.6zM281.6 623.6h1v1h-1zM302.8 588.3h0.8v0.8h-0.8zM323.4 631.2h0.7v0.7h-0.7zM288.6 612.8h0.9v0.9h-0.9zM331.7 637.3h0.9v0.9h-0.9zM315.6 643.4h1.1v1.1h-1.1zM293.3 607.5h0.7v0.7h-0.7zM304.2 631.6h0.5v0.5h-0.5zM324.6 640.5h0.6v0.6h-0.6zM288.2 626.2h0.6v0.6h-0.6zM321.4 616.1h0.6v0.6h-0.6zM309 586.5h0.6v0.6h-0.6zM327.4 598.3h0.6v0.6h-0.6zM284.7 634h0.9v0.9h-0.9zM302.8 621.7h0.5v0.5h-0.5zM325.1 639.8h0.5v0.5h-0.5zM297.4 628.4h0.5v0.5h-0.5zM321.6 635.5h0.6v0.6h-0.6zM329 596h0.9v0.9h-0.9zM304.5 596h0.5v0.5h-0.5zM293.1 633.1h0.5v0.5h-0.5zM314.3 604h0.7v0.7h-0.7zM284.9 618.1h0.8v0.8h-0.8zM279.9 618.6h0.9v0.9h-0.9zM286.3 627.4h0.6v0.6h-0.6zM287.3 622.5h0.6v0.6h-0.6zM290.9 593.5h1.1v1.1h-1.1zM323.6 614.1h0.9v0.9h-0.9zM303.3 604.7h0.9v0.9h-0.9zM290.6 618.3h0.9v0.9h-0.9zM285.5 626h0.6v0.6h-0.6zM301.4 607.3h1v1h-1zM310.6 636.1h1.1v1.1h-1.1zM301.3 598.6h0.7v0.7h-0.7zM331 607.8h0.7v0.7h-0.7zM309 642.5h0.5v0.5h-0.5zM323.4 600h1v1h-1zM304.1 618.5h0.5v0.5h-0.5zM335.8 624.6h1v1h-1zM308.6 619.1h0.9v0.9h-0.9zM304.1 626.2h0.6v0.6h-0.6zM297.3 627.3h0.9v0.9h-0.9zM299.9 632.3h1.1v1.1h-1.1zM297.8 622.2h1v1h-1zM327.3 630.6h1.1v1.1h-1.1zM282.4 613.2h0.9v0.9h-0.9zM281.6 617.4h0.9v0.9h-0.9zM317.3 623.6h0.8v0.8h-0.8zM314.8 638.6h1v1h-1zM300.2 628.9h0.9v0.9h-0.9zM320.1 622.1h0.9v0.9h-0.9zM337 614.9h0.6v0.6h-0.6zM337.4 609.4h0.5v0.5h-0.5zM304.7 608.9h1.1v1.1h-1.1zM318 591h0.6v0.6h-0.6zM328.5 635.9h1v1h-1zM335.7 630.7h0.7v0.7h-0.7zM327.3 591.6h0.9v0.9h-0.9zM327.2 611.9h1v1h-1zM304.6 614.6h0.7v0.7h-0.7zM303.3 640.2h0.9v0.9h-0.9zM319.1 625.6h0.5v0.5h-0.5zM319.1 600h0.7v0.7h-0.7zM291.8 641.6h0.8v0.8h-0.8zM319.2 604.8h0.9v0.9h-0.9zM333.3 619h0.6v0.6h-0.6zM295.2 597.5h0.8v0.8h-0.8zM331.8 638.1h1v1h-1zM315.7 635.8h0.6v0.6h-0.6zM312.6 617h0.8v0.8h-0.8zM304 610.4h0.5v0.5h-0.5zM296.7 602.4h1.1v1.1h-1.1zM302.5 602.3h0.8v0.8h-0.8zM275.6 607h0.5v0.5h-0.5zM320.5 590.9h0.9v0.9h-0.9zM292.9 607.3h0.8v0.8h-0.8zM278.4 607.8h0.9v0.9h-0.9zM281.9 633.2h0.8v0.8h-0.8zM292 639.4h0.7v0.7h-0.7zM322.7 602.7h0.5v0.5h-0.5zM280 598.3h0.9v0.9h-0.9zM326 600.3h0.6v0.6h-0.6zM312.4 625h0.7v0.7h-0.7zM312.1 605.1h0.5v0.5h-0.5zM308.5 629.5h0.6v0.6h-0.6zM305.3 647.5h0.6v0.6h-0.6zM292.5 589.3h0.7v0.7h-0.7zM296.4 619.7h0.8v0.8h-0.8zM302 593.5h0.5v0.5h-0.5zM292.6 636.5h0.6v0.6h-0.6zM341.1 615.1h0.8v0.8h-0.8zM308.6 625.7h0.6v0.6h-0.6zM338.1 604.3h0.6v0.6h-0.6zM309.6 600.3h0.6v0.6h-0.6zM306.1 590.8h0.7v0.7h-0.7zM325.5 617.9h0.7v0.7h-0.7zM293.5 624.9h0.7v0.7h-0.7zM310.9 592.6h0.6v0.6h-0.6zM291 597.2h0.5v0.5h-0.5zM316.8 604.5h0.9v0.9h-0.9zM295 614.2h0.5v0.5h-0.5zM300.9 615.6h0.9v0.9h-0.9zM294.8 643.4h0.8v0.8h-0.8zM303.3 610.8h0.6v0.6h-0.6zM324.7 628.9h0.9v0.9h-0.9zM316.3 602.2h1.1v1.1h-1.1zM309.9 631.3h0.5v0.5h-0.5zM279.6 609h0.5v0.5h-0.5zM300.9 640.3h0.8v0.8h-0.8zM280 602h1.1v1.1h-1.1zM330.7 605.4h0.8v0.8h-0.8zM314.8 587.3h0.9v0.9h-0.9zM292.4 615.3h0.9v0.9h-0.9zM302.9 602.5h1v1h-1zM287 600.8h0.9v0.9h-0.9zM323.9 615.2h0.9v0.9h-0.9zM304 588.5h0.8v0.8h-0.8zM322.2 639.4h1v1h-1zM326.9 637.5h0.9v0.9h-0.9zM306.4 592.1h0.5v0.5h-0.5zM307.9 644.5h1v1h-1zM297.8 625.6h1v1h-1zM323.6 612h0.5v0.5h-0.5zM293 595.3h0.5v0.5h-0.5zM301.3 586h0.7v0.7h-0.7zM323.1 605.8h0.8v0.8h-0.8zM328 612.4h0.7v0.7h-0.7zM334.5 623.8h0.6v0.6h-0.6zM329.4 636.3h0.5v0.5h-0.5zM334.2 631.2h0.8v0.8h-0.8zM331.8 598h0.9v0.9h-0.9zM282 602.9h0.7v0.7h-0.7zM303.8 607.4h0.5v0.5h-0.5zM330.7 597.9h0.5v0.5h-0.5zM288 629.7h0.7v0.7h-0.7zM309.4 606.7h0.8v0.8h-0.8zM286.7 599.6h1v1h-1zM299.1 605.8h1.1v1.1h-1.1zM281.3 634h0.5v0.5h-0.5zM297.2 613.8h1v1h-1zM294 602.5h1v1h-1zM320.5 593.4h0.6v0.6h-0.6zM294.9 618.8h1.1v1.1h-1.1zM302.6 641.1h0.6v0.6h-0.6zM297.9 586.7h0.8v0.8h-0.8zM325.1 592.6h0.8v0.8h-0.8zM304 600.5h0.6v0.6h-0.6zM335 598.7h0.6v0.6h-0.6zM290.8 632.9h1v1h-1zM327 626.7h0.9v0.9h-0.9zM300 593.4h0.5v0.5h-0.5zM330 626.6h0.8v0.8h-0.8zM301 588.3h1v1h-1zM326.4 590.2h0.7v0.7h-0.7zM310.9 632.7h1v1h-1zM295.2 600.8h1v1h-1zM280.2 612.6h0.9v0.9h-0.9zM329.2 607.9h0.5v0.5h-0.5zM276 620.9h0.7v0.7h-0.7zM304.3 585h0.9v0.9h-0.9zM289.2 620.2h0.6v0.6h-0.6zM306.8 630.6h0.5v0.5h-0.5zM277.4 605.1h1.1v1.1h-1.1zM279.3 621.4h0.5v0.5h-0.5zM336.7 609.3h0.6v0.6h-0.6zM328.3 631.6h0.8v0.8h-0.8zM277.5 625.3h0.8v0.8h-0.8zM340.5 614.4h1v1h-1zM285.3 639.5h0.6v0.6h-0.6zM297.3 640.6h0.5v0.5h-0.5zM293.7 602.8h0.9v0.9h-0.9zM322 628.1h0.5v0.5h-0.5zM301.6 596.9h0.5v0.5h-0.5zM296.9 600.2h0.8v0.8h-0.8zM303 601.6h0.6v0.6h-0.6zM290.7 599h0.5v0.5h-0.5zM333.6 622.7h0.7v0.7h-0.7zM296.7 608.7h0.5v0.5h-0.5zM329.4 606.2h0.5v0.5h-0.5zM329.3 593.9h0.8v0.8h-0.8zM314.8 595.5h0.7v0.7h-0.7zM314.5 607h0.9v0.9h-0.9zM312.8 590.5h0.7v0.7h-0.7zM287.7 632.8h1v1h-1zM278.3 611.8h0.5v0.5h-0.5zM285.4 632.4h1v1h-1zM330.6 631.6h0.9v0.9h-0.9zM311.8 622.7h0.6v0.6h-0.6zM280.2 627.1h0.6v0.6h-0.6zM295.6 603.7h0.8v0.8h-0.8zM310.2 643.1h1v1h-1zM301.5 597h0.7v0.7h-0.7zM323.6 619.8h0.9v0.9h-0.9zM308.5 589.3h0.9v0.9h-0.9zM305.9 637.7h0.9v0.9h-0.9zM294.6 626.5h0.9v0.9h-0.9zM278.6 606.2h1v1h-1zM296.5 624.9h0.7v0.7h-0.7zM293.2 594.6h1v1h-1zM300.3 629.8h1v1h-1zM333.7 635.6h0.5v0.5h-0.5zM298.1 621.9h0.9v0.9h-0.9zM305.9 626.9h1.1v1.1h-1.1zM335.3 614.7h0.9v0.9h-0.9zM298.3 646.4h0.8v0.8h-0.8zM301.2 634.7h0.5v0.5h-0.5zM305 626.1h1v1h-1zM314.5 637.9h1v1h-1zM333 635.3h1.1v1.1h-1.1zM275 622.5h0.8v0.8h-0.8zM308.2 589.3h0.8v0.8h-0.8zM320.4 640.9h1v1h-1zM325.7 637.9h1.1v1.1h-1.1zM288.4 593.6h0.8v0.8h-0.8zM313.8 601.8h0.7v0.7h-0.7zM336.5 611.9h0.7v0.7h-0.7zM286.5 625.8h1v1h-1zM298.5 621.3h0.8v0.8h-0.8zM297.5 630.1h0.6v0.6h-0.6zM286 602.9h0.9v0.9h-0.9zM318.8 621.7h0.7v0.7h-0.7zM339.6 616.8h0.8v0.8h-0.8zM324 632.8h0.9v0.9h-0.9zM281.2 631.3h0.6v0.6h-0.6zM287 636.2h1.1v1.1h-1.1zM298.8 627.9h0.6v0.6h-0.6zM288.4 598.1h1v1h-1zM274.9 610.2h1.1v1.1h-1.1zM293.9 616.2h1.1v1.1h-1.1zM277.8 628h0.9v0.9h-0.9zM314.8 598.5h0.8v0.8h-0.8zM303.5 612.9h0.8v0.8h-0.8zM281 598.7h0.6v0.6h-0.6zM314.7 605.4h0.8v0.8h-0.8zM313.5 589.3h1v1h-1zM304.2 640.3h0.9v0.9h-0.9zM282.7 595.9h0.6v0.6h-0.6zM321.1 628.5h0.9v0.9h-0.9zM301.9 594.2h0.5v0.5h-0.5zM302.9 632.6h0.5v0.5h-0.5zM317.4 628.7h0.8v0.8h-0.8zM333.4 603.8h0.9v0.9h-0.9zM331.2 602.5h0.8v0.8h-0.8zM336.8 603.4h0.7v0.7h-0.7zM282.1 605.5h0.7v0.7h-0.7zM297.3 639.3h1.1v1.1h-1.1zM300.5 632.8h1v1h-1zM330.3 607.5h0.9v0.9h-0.9zM335.7 609.4h0.6v0.6h-0.6zM279.1 608.1h0.7v0.7h-0.7zM282 624.9h0.8v0.8h-0.8zM326.7 594.9h0.6v0.6h-0.6zM313.1 588.3h0.8v0.8h-0.8zM292.9 589.4h0.9v0.9h-0.9zM280.5 615.9h1v1h-1zM298.8 621.1h0.8v0.8h-0.8z"/>
</g>
<g filter="url(#hb)">
<ellipse cx="272" cy="667" rx="27" ry="27" fill="#ecbce4"/>
<path fill="#c060a4" d="M291.1 675.9h0.5v0.5h-0.5zM283.2 645h0.7v0.7h-0.7zM273.5 660.1h1v1h-1zM253.7 671.1h1.1v1.1h-1.1zM264.9 657.9h1v1h-1zM263.5 647.7h1v1h-1zM278.5 664.8h1v1h-1zM269.7 654.1h0.7v0.7h-0.7zM289.2 658.5h0.9v0.9h-0.9zM266.4 645.9h0.5v0.5h-0.5zM288.5 649.1h0.5v0.5h-0.5zM279.1 644.3h0.8v0.8h-0.8zM275.5 667.5h0.7v0.7h-0.7zM282.5 653h0.9v0.9h-0.9zM286.1 682.5h1v1h-1zM270.6 668.7h0.9v0.9h-0.9zM253.6 657.9h0.7v0.7h-0.7zM283.6 664.2h0.8v0.8h-0.8zM256.9 685h0.7v0.7h-0.7zM263.5 680h0.8v0.8h-0.8zM277.7 659.9h0.8v0.8h-0.8zM278.6 679.5h0.9v0.9h-0.9zM282.4 676.9h0.5v0.5h-0.5zM279.6 655.4h0.8v0.8h-0.8zM252.5 651.2h1v1h-1zM274.3 676.1h0.5v0.5h-0.5zM258.5 663.6h0.5v0.5h-0.5zM266.5 686.5h0.5v0.5h-0.5zM254.3 669.9h0.8v0.8h-0.8zM265.4 660.9h0.7v0.7h-0.7zM278.9 673.4h0.6v0.6h-0.6zM292.2 674.8h0.6v0.6h-0.6zM275.1 655.3h1v1h-1zM255.6 670.6h0.6v0.6h-0.6zM292.5 664.7h0.8v0.8h-0.8zM265.9 683.5h0.5v0.5h-0.5zM279.7 644.1h1v1h-1zM274.4 671h0.9v0.9h-0.9zM279.6 677.8h1v1h-1zM246.1 667.2h0.5v0.5h-0.5zM250.5 681.2h0.7v0.7h-0.7zM248.8 672.8h0.7v0.7h-0.7zM273.4 685.7h0.9v0.9h-0.9zM282.4 674.6h0.7v0.7h-0.7zM273.4 642.2h0.6v0.6h-0.6zM269.3 669.9h1v1h-1zM269.4 665.4h0.6v0.6h-0.6zM295.5 665.4h0.8v0.8h-0.8zM286.9 654.9h0.7v0.7h-0.7zM254.4 663.1h0.8v0.8h-0.8zM255.5 681.7h1v1h-1zM292.1 655.1h0.6v0.6h-0.6zM292.3 673.9h1v1h-1zM262.1 683.8h1.1v1.1h-1.1zM248.2 660.2h0.5v0.5h-0.5zM251.6 672.7h0.5v0.5h-0.5zM249.2 669.8h0.6v0.6h-0.6zM274.8 688.9h0.5v0.5h-0.5zM271.1 658.9h1v1h-1zM258.9 648.7h0.8v0.8h-0.8zM263.8 678.8h0.5v0.5h-0.5zM276.1 691.9h1v1h-1zM269.1 640.9h0.6v0.6h-0.6zM259.6 654.6h0.9v0.9h-0.9zM261.3 684.9h0.5v0.5h-0.5zM283.1 680.1h1v1h-1zM253.8 651.9h0.7v0.7h-0.7zM281.2 666.8h0.7v0.7h-0.7zM266.8 689.4h0.9v0.9h-0.9zM281.6 652.9h0.9v0.9h-0.9zM294.3 676.7h0.9v0.9h-0.9zM285.9 682h1v1h-1zM289.3 659.7h0.6v0.6h-0.6zM259.8 663.3h0.5v0.5h-0.5zM289.9 678.5h0.9v0.9h-0.9zM264.2 668.5h0.6v0.6h-0.6zM258 670.1h0.7v0.7h-0.7zM270.3 686.8h1v1h-1zM258.3 647.6h0.7v0.7h-0.7zM270.8 689.3h0.8v0.8h-0.8zM275.6 653.1h1.1v1.1h-1.1zM266.9 651.2h1v1h-1zM259 680.3h0.6v0.6h-0.6zM259.5 672.5h0.7v0.7h-0.7zM268.5 652.5h0.8v0.8h-0.8zM260.8 644.5h1v1h-1zM283.9 676.8h0.7v0.7h-0.7zM269.8 647.4h0.9v0.9h-0.9zM264.9 683h1v1h-1zM256.2 674.6h1v1h-1zM284.6 662.1h0.5v0.5h-0.5zM276.5 652.8h0.7v0.7h-0.7zM260.6 655.9h1v1h-1zM250.2 674.5h0.6v0.6h-0.6zM275.1 666.7h1v1h-1zM248.4 676.7h0.7v0.7h-0.7zM258.1 659.6h0.6v0.6h-0.6zM250.8 670.6h1v1h-1zM283.8 671.4h0.6v0.6h-0.6zM247.8 666.1h1v1h-1zM274 668.3h0.9v0.9h-0.9zM252.2 662.5h1v1h-1zM284.4 661.5h1v1h-1zM276.2 688.6h0.6v0.6h-0.6zM290.2 682.2h0.8v0.8h-0.8zM257.5 648.1h1v1h-1zM280 688.4h1v1h-1zM272.2 677.7h0.6v0.6h-0.6zM278.4 691.5h1.1v1.1h-1.1zM290 648.4h0.6v0.6h-0.6zM278.3 681.6h1v1h-1zM289.2 668.8h0.7v0.7h-0.7zM267.5 684.3h0.7v0.7h-0.7zM269.2 640.8h0.6v0.6h-0.6zM268.3 650.4h0.9v0.9h-0.9zM286.2 650.6h1.1v1.1h-1.1zM263.3 686.8h1v1h-1zM265.8 684.3h1v1h-1zM264.1 665.4h1v1h-1zM258.4 686.3h0.8v0.8h-0.8zM250.8 669.8h0.9v0.9h-0.9zM285 687.2h1v1h-1zM265.8 664.8h1.1v1.1h-1.1zM279.6 688.4h1.1v1.1h-1.1zM255.1 685h1v1h-1zM252.7 665.2h0.6v0.6h-0.6zM260.6 654.5h0.8v0.8h-0.8zM264.9 660.9h0.6v0.6h-0.6zM269.8 655.6h0.8v0.8h-0.8zM297 667.1h0.5v0.5h-0.5zM284.9 681.7h1v1h-1zM261.8 646.7h0.8v0.8h-0.8zM282.1 685.5h0.9v0.9h-0.9zM265 645.2h0.9v0.9h-0.9zM264.5 652.3h0.5v0.5h-0.5zM270.2 669.9h1.1v1.1h-1.1zM260.1 658.9h0.6v0.6h-0.6zM267.8 661.9h0.6v0.6h-0.6zM253.8 674h0.6v0.6h-0.6zM282 685.7h0.6v0.6h-0.6zM247.8 665.7h0.9v0.9h-0.9zM264.2 657.9h0.7v0.7h-0.7zM264.9 648.5h0.7v0.7h-0.7zM252.1 676.9h0.9v0.9h-0.9zM254.3 667.1h0.7v0.7h-0.7zM270.6 661.8h0.8v0.8h-0.8zM265.5 667.8h0.5v0.5h-0.5zM282.5 648.5h0.6v0.6h-0.6zM268.8 649.5h1v1h-1zM273.3 662.8h1v1h-1zM271.7 647.3h0.5v0.5h-0.5zM266.9 647.1h0.6v0.6h-0.6zM296.7 673.4h1v1h-1zM288.1 646.6h0.5v0.5h-0.5zM250 671.5h0.8v0.8h-0.8z"/>
<path fill="#903478" d="M280.8 667.9h0.8v0.8h-0.8zM274.7 657.7h0.6v0.6h-0.6zM254.1 662.5h0.8v0.8h-0.8zM253.5 651.2h1v1h-1zM279.3 686.1h0.6v0.6h-0.6zM272.2 690h0.5v0.5h-0.5zM252.8 680.5h0.8v0.8h-0.8zM255.4 676.2h0.9v0.9h-0.9zM274.5 663.5h0.9v0.9h-0.9zM291.7 659.1h1v1h-1zM248.2 668.1h0.6v0.6h-0.6zM283.7 648.1h1.1v1.1h-1.1zM266.2 687.8h0.9v0.9h-0.9zM249.9 670.1h0.6v0.6h-0.6zM275.7 642.1h0.9v0.9h-0.9zM283.5 665.7h0.6v0.6h-0.6zM295.3 664.6h0.7v0.7h-0.7zM276.3 664.1h0.5v0.5h-0.5zM259.3 684.3h0.6v0.6h-0.6zM253.5 652h0.7v0.7h-0.7zM254.5 684.4h1v1h-1zM261.3 652h0.8v0.8h-0.8zM282.4 666.2h0.8v0.8h-0.8zM257.1 666.8h0.6v0.6h-0.6zM256.9 672.1h0.8v0.8h-0.8zM273.5 681.6h0.7v0.7h-0.7zM259.7 657.7h0.7v0.7h-0.7zM268.4 674.8h0.8v0.8h-0.8zM276.8 679.1h0.9v0.9h-0.9zM275.4 688.2h0.7v0.7h-0.7zM278.4 644.7h0.9v0.9h-0.9zM270.3 646.5h1.1v1.1h-1.1zM251.7 674.2h0.9v0.9h-0.9zM259.4 671.3h0.7v0.7h-0.7zM260.1 654.4h0.5v0.5h-0.5zM285.2 675.9h0.5v0.5h-0.5zM260.4 678.4h1v1h-1zM249.3 654.6h0.9v0.9h-0.9zM281.9 672.1h0.8v0.8h-0.8zM246.2 664.5h0.7v0.7h-0.7zM275.2 645.4h0.9v0.9h-0.9zM271.9 670.3h1v1h-1zM272.1 648.3h1.1v1.1h-1.1zM294.6 675.1h0.7v0.7h-0.7zM288.9 684.8h0.6v0.6h-0.6zM283.6 654.2h1v1h-1zM279 657h0.6v0.6h-0.6zM284.7 656.6h0.7v0.7h-0.7zM297.7 666.9h0.6v0.6h-0.6zM277.4 664.1h0.9v0.9h-0.9zM273.1 661.2h0.8v0.8h-0.8zM276.1 687.9h0.5v0.5h-0.5zM283.1 661.8h0.7v0.7h-0.7zM287.7 670.1h0.5v0.5h-0.5zM275.6 645.6h0.5v0.5h-0.5zM280.7 669.6h0.7v0.7h-0.7zM252.8 650.3h0.5v0.5h-0.5zM282.3 672.3h0.8v0.8h-0.8zM284.4 650.1h0.7v0.7h-0.7zM256.9 687.7h0.9v0.9h-0.9zM252.4 663.4h0.5v0.5h-0.5zM251.7 678.9h0.7v0.7h-0.7zM273.4 692.4h0.7v0.7h-0.7zM280.5 653.3h0.5v0.5h-0.5zM251.3 667.5h0.5v0.5h-0.5zM271 690h0.8v0.8h-0.8zM271 663.7h0.7v0.7h-0.7zM281.8 658.9h1.1v1.1h-1.1zM287.2 661.5h0.9v0.9h-0.9zM248.1 656.6h0.6v0.6h-0.6zM289.1 658.4h0.5v0.5h-0.5zM277.5 665h0.6v0.6h-0.6zM266.6 651.7h0.5v0.5h-0.5zM288.8 684.4h0.9v0.9h-0.9zM264.3 668.7h1v1h-1zM276.2 646.4h0.7v0.7h-0.7zM262.3 649.5h0.6v0.6h-0.6zM280.8 656.8h0.9v0.9h-0.9zM277.2 664.3h0.7v0.7h-0.7zM282.9 649.1h0.9v0.9h-0.9zM272.7 679.2h0.8v0.8h-0.8zM278.3 673h0.7v0.7h-0.7zM276.6 667.8h0.9v0.9h-0.9zM279.7 667.6h0.5v0.5h-0.5zM274.5 686.4h0.5v0.5h-0.5zM285 665.5h1v1h-1zM279.3 659.7h0.9v0.9h-0.9zM263.1 675.4h1v1h-1zM257 656.2h0.6v0.6h-0.6zM250.1 673.8h0.6v0.6h-0.6zM260.9 684.3h1v1h-1zM294.2 653.8h0.5v0.5h-0.5zM287.4 666.8h0.6v0.6h-0.6zM275.4 669h0.6v0.6h-0.6zM261.7 662.9h1v1h-1zM295.5 671.4h1v1h-1zM271.1 653.5h1.1v1.1h-1.1zM254.8 657.5h1v1h-1zM280.3 656.8h0.5v0.5h-0.5zM292.4 678.8h1v1h-1zM294.6 665h0.7v0.7h-0.7zM278.4 671h0.8v0.8h-0.8zM290 658.2h0.9v0.9h-0.9zM292.9 653h0.5v0.5h-0.5zM260.5 672.4h0.9v0.9h-0.9zM294.4 678.9h0.6v0.6h-0.6zM256.8 663.8h0.7v0.7h-0.7zM294.2 665.9h1.1v1.1h-1.1zM259 670.2h0.5v0.5h-0.5zM263.7 664.6h1.1v1.1h-1.1zM257 652.9h1v1h-1zM268.2 663.2h1v1h-1zM283.7 659h0.6v0.6h-0.6zM273.8 644.1h0.5v0.5h-0.5zM264.4 671.9h0.7v0.7h-0.7zM272.5 685.8h0.7v0.7h-0.7zM295.2 677.1h0.8v0.8h-0.8zM247 666.5h0.7v0.7h-0.7zM252.6 681.7h0.9v0.9h-0.9zM274.1 683.3h1v1h-1zM272.8 641.8h0.5v0.5h-0.5zM282.3 658.4h0.5v0.5h-0.5zM285.3 644.9h0.6v0.6h-0.6zM250.8 663.8h0.8v0.8h-0.8zM272.5 664h0.6v0.6h-0.6zM248.4 654.7h0.7v0.7h-0.7zM250.5 666.1h0.5v0.5h-0.5zM261 650.6h1v1h-1zM267.9 688.1h0.6v0.6h-0.6z"/>
<path fill="#a8428a" d="M287.4 653.1h0.8v0.8h-0.8zM272.3 656.4h0.8v0.8h-0.8zM251.2 663.3h0.6v0.6h-0.6zM283.7 662.4h1v1h-1zM289.7 682.6h0.5v0.5h-0.5zM291.6 672.4h0.7v0.7h-0.7zM260.8 656.9h0.5v0.5h-0.5zM255.9 649.2h0.8v0.8h-0.8zM250.4 658.8h0.9v0.9h-0.9zM291.3 656.4h0.9v0.9h-0.9zM266.2 663.8h0.8v0.8h-0.8zM296.9 673.3h0.5v0.5h-0.5zM288.5 673.5h0.6v0.6h-0.6zM273.6 656.9h0.9v0.9h-0.9zM254.6 673.8h0.9v0.9h-0.9zM276.6 652h1.1v1.1h-1.1zM289.1 680.2h0.9v0.9h-0.9zM276.4 691.3h0.6v0.6h-0.6zM274.8 660.4h0.6v0.6h-0.6zM250.3 654.9h0.5v0.5h-0.5zM247 674.7h0.5v0.5h-0.5zM264.3 671.1h0.6v0.6h-0.6zM265.8 663.3h1v1h-1zM262.7 644.2h0.9v0.9h-0.9zM281.2 690.3h0.5v0.5h-0.5zM255.6 654.4h0.5v0.5h-0.5zM256.5 660.2h0.8v0.8h-0.8zM269.5 665.8h0.7v0.7h-0.7zM259.3 681.1h1v1h-1zM271.2 680.1h0.5v0.5h-0.5zM266 647.1h1v1h-1zM269 673.5h0.7v0.7h-0.7zM278.6 654.3h1v1h-1zM285.5 681.8h0.8v0.8h-0.8zM271.9 664.4h0.5v0.5h-0.5zM268.9 681.2h1v1h-1zM289 665.2h0.9v0.9h-0.9zM255.4 651.2h0.9v0.9h-0.9zM262.8 657.7h0.5v0.5h-0.5zM277 682.8h0.6v0.6h-0.6zM271.9 653.9h0.7v0.7h-0.7zM274 643.3h0.6v0.6h-0.6zM253.4 676.6h1v1h-1zM247.9 676.7h1.1v1.1h-1.1zM285.1 655.9h0.7v0.7h-0.7zM275.4 653.9h0.8v0.8h-0.8zM274.6 672.7h0.9v0.9h-0.9zM270.1 684.1h0.7v0.7h-0.7zM285.7 683.3h0.7v0.7h-0.7zM291.6 657.3h0.9v0.9h-0.9zM247.7 662.5h0.9v0.9h-0.9zM282.5 667.8h0.7v0.7h-0.7zM273.5 641.3h0.5v0.5h-0.5zM297.6 669.9h0.6v0.6h-0.6zM251.5 654.3h0.9v0.9h-0.9zM272.9 691.5h0.5v0.5h-0.5zM246.9 671.2h0.5v0.5h-0.5zM278.5 672.3h1v1h-1zM269.5 650.7h0.7v0.7h-0.7zM259.7 676.7h0.9v0.9h-0.9zM250.8 679h1v1h-1zM271.9 686.6h0.9v0.9h-0.9zM277.4 643.5h0.8v0.8h-0.8zM282.8 667.7h0.8v0.8h-0.8zM247.1 674h0.5v0.5h-0.5zM265.7 682.9h0.7v0.7h-0.7zM274.4 663.1h0.5v0.5h-0.5zM276.4 670.1h0.7v0.7h-0.7zM293.1 665.4h1.1v1.1h-1.1zM271.8 682.7h0.6v0.6h-0.6zM291.1 653.9h0.6v0.6h-0.6zM286.7 662.3h1v1h-1zM281.8 689.1h1v1h-1zM275 653h1.1v1.1h-1.1zM275.2 652.7h0.6v0.6h-0.6zM273.6 686.6h1v1h-1zM278.7 650.8h1.1v1.1h-1.1zM283 679.1h0.6v0.6h-0.6zM261.3 658.8h0.5v0.5h-0.5zM248.9 655.1h1.1v1.1h-1.1zM285.7 686.4h0.8v0.8h-0.8zM264.9 667.5h0.6v0.6h-0.6zM264.8 644.2h0.5v0.5h-0.5zM286.8 651.5h0.9v0.9h-0.9zM271.9 677.5h0.7v0.7h-0.7zM267.8 651h0.8v0.8h-0.8zM281.5 680.3h0.8v0.8h-0.8zM279 690h0.8v0.8h-0.8zM263.4 652h0.7v0.7h-0.7zM273.2 689.5h0.5v0.5h-0.5zM258.2 675h0.5v0.5h-0.5zM287.2 671.7h0.7v0.7h-0.7zM276.3 653.1h0.5v0.5h-0.5zM254.9 648.6h0.6v0.6h-0.6zM251.3 659.4h0.7v0.7h-0.7zM277.3 690.2h0.5v0.5h-0.5zM263.7 649.4h0.8v0.8h-0.8zM276.2 655.9h0.7v0.7h-0.7zM282.2 679.8h0.8v0.8h-0.8zM269.1 661.9h0.9v0.9h-0.9zM256.2 660.6h1v1h-1zM251.2 681.5h0.7v0.7h-0.7zM268.2 646.8h0.7v0.7h-0.7zM274.6 682.1h1v1h-1zM265.3 665.8h0.9v0.9h-0.9zM277 660.5h0.6v0.6h-0.6zM268.2 657.3h0.6v0.6h-0.6zM278.4 657.4h0.5v0.5h-0.5zM290 671.6h1v1h-1zM279.6 674.1h0.6v0.6h-0.6zM267.4 672h0.6v0.6h-0.6zM267.7 652h0.9v0.9h-0.9zM270.1 664.3h0.5v0.5h-0.5zM282.4 670h0.6v0.6h-0.6zM254.7 675.1h0.5v0.5h-0.5zM250.7 681.5h1.1v1.1h-1.1zM246.6 663.7h0.8v0.8h-0.8zM277.3 686.2h0.7v0.7h-0.7zM283.7 653.5h0.5v0.5h-0.5zM248 672.1h1v1h-1zM251.1 652.1h0.9v0.9h-0.9zM284.1 646h0.9v0.9h-0.9zM250.6 672.3h0.8v0.8h-0.8zM267.8 658.6h1v1h-1zM282.5 686.3h0.8v0.8h-0.8zM251.3 683h0.7v0.7h-0.7zM280.4 642.7h0.6v0.6h-0.6zM290.6 656.2h0.9v0.9h-0.9zM257.3 673.4h0.8v0.8h-0.8zM285.3 647.2h0.8v0.8h-0.8zM277.2 674.8h0.7v0.7h-0.7zM287.6 685.5h0.7v0.7h-0.7zM284.3 685.1h0.9v0.9h-0.9zM281.2 690.1h0.9v0.9h-0.9zM264.5 671.5h0.5v0.5h-0.5zM272.3 666.8h0.5v0.5h-0.5z"/>
</g>
<g filter="url(#hb)">
<ellipse cx="368" cy="598" rx="24" ry="24" fill="#ecbce4"/>
<path fill="#903478" d="M357.7 597.1h0.5v0.5h-0.5zM362.7 582.3h0.6v0.6h-0.6zM352.9 586.3h1v1h-1zM369 601.3h0.5v0.5h-0.5zM372.7 606h0.8v0.8h-0.8zM347.2 608h0.9v0.9h-0.9zM383.1 611.7h0.6v0.6h-0.6zM353.4 615.1h0.8v0.8h-0.8zM389.3 599.4h0.8v0.8h-0.8zM382 599.3h0.8v0.8h-0.8zM346.9 603.5h1.1v1.1h-1.1zM378.1 617.1h0.7v0.7h-0.7zM380.3 594.4h0.6v0.6h-0.6zM371.3 587.3h0.9v0.9h-0.9zM353.9 603.1h1v1h-1zM385.8 605.8h1.1v1.1h-1.1zM369.7 587.1h0.6v0.6h-0.6zM359.7 608.8h0.6v0.6h-0.6zM346.8 588.3h1v1h-1zM375.8 617.6h0.5v0.5h-0.5zM372.1 604.6h0.9v0.9h-0.9zM383.5 609.3h1v1h-1zM382.6 609.2h0.5v0.5h-0.5zM363 607.1h0.6v0.6h-0.6zM365.7 586.9h0.7v0.7h-0.7zM368.4 581.6h0.5v0.5h-0.5zM385.6 607.9h1v1h-1zM367.3 578.9h0.7v0.7h-0.7zM350.5 611.6h1.1v1.1h-1.1zM364.5 618h0.7v0.7h-0.7zM376.4 616.3h1v1h-1zM345.4 591.5h1v1h-1zM374.6 579.4h0.8v0.8h-0.8zM378 581.4h0.9v0.9h-0.9zM370.2 595h0.7v0.7h-0.7zM363.1 603.2h1v1h-1zM379.2 578.7h0.7v0.7h-0.7zM371.4 591.3h0.7v0.7h-0.7zM384.7 605.4h0.7v0.7h-0.7zM354 587.7h0.5v0.5h-0.5zM374.4 599.1h1v1h-1zM362.5 579h0.5v0.5h-0.5zM356.3 582.3h0.6v0.6h-0.6zM365.1 606.8h0.6v0.6h-0.6zM353.3 587.7h0.7v0.7h-0.7zM378.4 584.9h0.8v0.8h-0.8zM378.8 604.8h0.6v0.6h-0.6zM384.7 601.1h0.5v0.5h-0.5zM355.7 588h0.9v0.9h-0.9zM345.4 592.4h0.8v0.8h-0.8zM367.8 611.7h0.6v0.6h-0.6zM358.2 581.3h0.5v0.5h-0.5zM367.1 595.1h0.8v0.8h-0.8zM350 588.4h0.7v0.7h-0.7zM381.3 602.9h0.8v0.8h-0.8zM345.1 602.1h0.9v0.9h-0.9zM362 614.9h0.7v0.7h-0.7zM386.4 589.2h0.7v0.7h-0.7zM354 605.4h0.7v0.7h-0.7zM356.5 609.5h0.9v0.9h-0.9zM354.1 602.7h0.7v0.7h-0.7zM361.7 587.6h0.6v0.6h-0.6zM373.5 594.4h0.6v0.6h-0.6zM348.7 598.1h0.9v0.9h-0.9zM370 583.7h0.7v0.7h-0.7zM387.5 604.1h0.8v0.8h-0.8zM376.7 614h0.6v0.6h-0.6zM352.8 606.2h0.9v0.9h-0.9zM369.5 608.4h0.9v0.9h-0.9zM357 578.9h0.7v0.7h-0.7zM377 578.1h0.9v0.9h-0.9zM380.4 583.3h1v1h-1zM361.5 579.2h0.5v0.5h-0.5zM370.2 575.4h0.6v0.6h-0.6zM380 580.8h0.8v0.8h-0.8zM362.4 615.7h0.8v0.8h-0.8zM346.2 589.3h0.5v0.5h-0.5zM371.1 576.2h0.9v0.9h-0.9zM347.7 607h0.7v0.7h-0.7zM362.3 577.2h1v1h-1zM359.9 610.7h0.6v0.6h-0.6zM363.4 592h1v1h-1zM372.4 616.2h0.6v0.6h-0.6zM360.2 614.8h0.7v0.7h-0.7zM362.1 615.8h0.9v0.9h-0.9zM372.3 581.5h0.5v0.5h-0.5zM370.7 576.1h0.7v0.7h-0.7zM368.3 610.1h0.7v0.7h-0.7zM360 615.1h0.5v0.5h-0.5zM363 600.8h0.5v0.5h-0.5zM371.9 610.5h0.8v0.8h-0.8zM357.5 596h0.9v0.9h-0.9zM386.1 583.5h0.5v0.5h-0.5zM381.1 594.3h0.8v0.8h-0.8zM346.8 596.9h0.8v0.8h-0.8zM362.1 592.2h0.9v0.9h-0.9zM362 599.5h0.8v0.8h-0.8zM351.2 610.6h0.6v0.6h-0.6zM372.6 615h0.8v0.8h-0.8zM353.5 604.1h0.9v0.9h-0.9zM366.9 582.1h0.7v0.7h-0.7zM360.1 598h0.6v0.6h-0.6zM389 603.7h0.9v0.9h-0.9zM360.1 578.2h0.9v0.9h-0.9zM361.3 617.3h1v1h-1zM374.6 588.4h0.6v0.6h-0.6zM347.2 601h0.7v0.7h-0.7zM373.9 609.5h1v1h-1zM374.2 617.9h0.6v0.6h-0.6zM378.4 600.9h1v1h-1zM389.1 603h1v1h-1zM363 613.9h1v1h-1zM355.3 612.9h0.5v0.5h-0.5zM365.4 576h0.9v0.9h-0.9zM384 593.9h1v1h-1zM372.4 593.9h0.7v0.7h-0.7zM354 589.5h0.9v0.9h-0.9zM382.7 596.3h0.7v0.7h-0.7zM355.1 593.3h1v1h-1zM362 618h0.6v0.6h-0.6zM362.1 585.5h0.7v0.7h-0.7zM386.9 586.9h0.9v0.9h-0.9zM380.2 588.8h0.5v0.5h-0.5zM357.1 611.5h0.6v0.6h-0.6zM364.7 607.2h0.6v0.6h-0.6zM370.4 599.5h0.5v0.5h-0.5zM388.9 602.5h0.8v0.8h-0.8zM358.1 584.5h1v1h-1zM375.2 613.1h0.5v0.5h-0.5zM366.4 574.6h0.5v0.5h-0.5zM372.6 614h0.8v0.8h-0.8zM387 603.8h0.6v0.6h-0.6zM353.2 602.8h0.9v0.9h-0.9zM377.3 586.3h0.8v0.8h-0.8zM361.2 610.4h0.7v0.7h-0.7zM382.8 581.6h0.6v0.6h-0.6zM347 604.1h0.6v0.6h-0.6zM365.3 584.3h1v1h-1zM349.3 607.1h0.6v0.6h-0.6zM376.5 579.4h1.1v1.1h-1.1zM352.4 585.5h0.7v0.7h-0.7zM353.2 613h0.7v0.7h-0.7zM376.3 585.7h0.7v0.7h-0.7zM375 588.6h0.5v0.5h-0.5zM361.9 585.8h0.5v0.5h-0.5zM358 589.7h0.5v0.5h-0.5zM357.1 585.6h0.5v0.5h-0.5zM369 588.4h1v1h-1zM353.3 614.8h1v1h-1zM388.1 592.5h0.9v0.9h-0.9zM353.4 590.5h0.6v0.6h-0.6zM384.9 606.3h0.9v0.9h-0.9zM348.5 588.4h0.9v0.9h-0.9zM374.2 586.6h0.5v0.5h-0.5zM379.3 610.8h0.9v0.9h-0.9z"/>
<path fill="#c060a4" d="M366 578.1h0.9v0.9h-0.9zM362 602.5h1v1h-1zM372.3 611.3h0.7v0.7h-0.7zM387.2 591.9h0.6v0.6h-0.6zM385.3 604.9h0.5v0.5h-0.5zM387.5 607.2h0.6v0.6h-0.6zM353.3 582.5h0.8v0.8h-0.8zM369.2 609.9h0.8v0.8h-0.8zM370.5 612.4h0.8v0.8h-0.8zM355.4 616h1.1v1.1h-1.1zM378.4 613.1h1v1h-1zM349.6 589.2h0.6v0.6h-0.6zM377 577.2h0.7v0.7h-0.7zM349.2 596.1h0.9v0.9h-0.9zM382.9 609.6h0.7v0.7h-0.7zM390.3 594.4h0.5v0.5h-0.5zM369.4 594.7h0.9v0.9h-0.9zM363.3 591.2h0.8v0.8h-0.8zM370.1 605.9h0.5v0.5h-0.5zM367.3 598.9h1.1v1.1h-1.1zM359.8 581.3h0.8v0.8h-0.8zM345.9 592.5h0.9v0.9h-0.9zM382.7 587h1v1h-1zM367.7 575.7h0.8v0.8h-0.8zM348.1 587.8h0.6v0.6h-0.6zM367.2 581.8h0.8v0.8h-0.8zM375.7 597.5h1.1v1.1h-1.1zM371.5 601.5h0.8v0.8h-0.8zM388.9 599.8h0.8v0.8h-0.8zM363.9 598.2h0.5v0.5h-0.5zM368 575.9h0.7v0.7h-0.7zM364.3 580.8h0.6v0.6h-0.6zM355.7 581.4h0.9v0.9h-0.9zM375.3 600.4h1.1v1.1h-1.1zM369.6 576.1h0.9v0.9h-0.9zM371.8 614h0.6v0.6h-0.6zM380.9 605.1h0.9v0.9h-0.9zM371.1 589.1h0.6v0.6h-0.6zM367.3 586.8h0.5v0.5h-0.5zM368.5 580.4h1v1h-1zM365.9 588.4h0.9v0.9h-0.9zM350.2 594.3h0.9v0.9h-0.9zM364.5 580.2h0.9v0.9h-0.9zM368.6 581.8h1v1h-1zM358.8 583.8h0.8v0.8h-0.8zM380.4 597.8h0.6v0.6h-0.6zM367.9 610.8h0.5v0.5h-0.5zM372.9 578.6h0.8v0.8h-0.8zM345.8 594.2h1v1h-1zM359.5 599.9h0.6v0.6h-0.6zM373.8 611.2h0.7v0.7h-0.7zM372.1 617.7h0.9v0.9h-0.9zM346 597.2h0.6v0.6h-0.6zM370.9 600.4h1v1h-1zM366.7 615h0.6v0.6h-0.6zM360.4 598.5h0.8v0.8h-0.8zM370.8 610.2h1v1h-1zM346.2 594.2h0.5v0.5h-0.5zM371.3 608.6h1v1h-1zM345.7 601.5h0.6v0.6h-0.6zM370.3 612.6h0.8v0.8h-0.8zM358.8 587.6h1v1h-1zM377.8 618.5h0.5v0.5h-0.5zM381.7 607.9h0.9v0.9h-0.9zM371.9 610.4h0.5v0.5h-0.5zM364.2 574.7h0.8v0.8h-0.8zM372.7 594h0.6v0.6h-0.6zM370.3 589.8h1v1h-1zM359.9 606.5h0.7v0.7h-0.7zM384.5 613.5h0.8v0.8h-0.8zM347.1 593.1h0.8v0.8h-0.8zM364.9 605.9h0.6v0.6h-0.6zM376.2 583.1h0.8v0.8h-0.8zM360.3 576.9h0.8v0.8h-0.8zM363.4 582.8h1v1h-1zM370 580.1h0.5v0.5h-0.5zM372.3 617h0.6v0.6h-0.6zM353.6 612h0.9v0.9h-0.9zM385.5 587.5h0.8v0.8h-0.8zM371.8 603.2h0.7v0.7h-0.7zM375.4 580.3h1v1h-1zM368.4 608.6h0.8v0.8h-0.8zM365.4 610.8h0.7v0.7h-0.7zM344.5 597.5h0.9v0.9h-0.9zM347.2 607.3h0.9v0.9h-0.9zM368.5 589.9h0.8v0.8h-0.8zM385.8 601h0.6v0.6h-0.6zM389.3 589.8h0.9v0.9h-0.9zM350.3 593.1h0.9v0.9h-0.9zM367.3 612.3h0.7v0.7h-0.7zM361.4 578.1h0.5v0.5h-0.5zM361.8 611h0.6v0.6h-0.6zM346.4 599.2h0.6v0.6h-0.6zM344.7 598.1h0.5v0.5h-0.5zM390.1 597h0.8v0.8h-0.8zM354.7 583.7h0.9v0.9h-0.9zM373.8 614.3h0.8v0.8h-0.8zM351.5 604.7h1v1h-1zM368.4 611.3h0.7v0.7h-0.7zM360.1 598.5h0.8v0.8h-0.8zM377.7 584.2h0.9v0.9h-0.9zM354.4 610.8h0.8v0.8h-0.8zM354.4 615.1h1.1v1.1h-1.1zM375.7 601.5h0.7v0.7h-0.7zM388.6 599.8h0.5v0.5h-0.5zM375.5 587h0.9v0.9h-0.9zM366.1 607.9h0.6v0.6h-0.6zM373.5 593.6h0.8v0.8h-0.8zM356.9 577.1h1v1h-1zM372.8 577h0.6v0.6h-0.6zM347.8 587.9h0.9v0.9h-0.9zM377.2 578.9h0.7v0.7h-0.7zM364.6 588.9h0.6v0.6h-0.6zM363.5 583.2h0.7v0.7h-0.7zM366.5 575.6h0.9v0.9h-0.9zM344.7 600.3h1v1h-1zM381.1 584.8h1v1h-1zM373.2 600.2h0.5v0.5h-0.5zM345.8 596.6h0.9v0.9h-0.9zM382.4 589.2h1v1h-1zM363.6 605.8h0.6v0.6h-0.6zM381.6 581.8h0.8v0.8h-0.8zM358.3 615h0.7v0.7h-0.7zM360.6 615.3h1.1v1.1h-1.1zM386.2 610.3h0.6v0.6h-0.6zM347 604.2h0.9v0.9h-0.9zM355.9 596.3h0.8v0.8h-0.8zM350.1 592.4h0.7v0.7h-0.7zM377.3 605.4h0.5v0.5h-0.5zM382 603.4h0.5v0.5h-0.5zM359.6 587.2h0.6v0.6h-0.6zM381.5 601.6h0.6v0.6h-0.6zM379.2 579.5h0.9v0.9h-0.9z"/>
<path fill="#a8428a" d="M355.3 605.6h0.5v0.5h-0.5zM361.2 576.3h0.9v0.9h-0.9zM374.9 614.1h0.5v0.5h-0.5zM362.5 598.5h1v1h-1zM383.3 587.5h1v1h-1zM370.7 590.2h1v1h-1zM349.1 610.6h0.8v0.8h-0.8zM367.2 586.3h0.5v0.5h-0.5zM381.2 595.9h0.5v0.5h-0.5zM348.2 603.4h0.5v0.5h-0.5zM372.5 617.8h0.7v0.7h-0.7zM383.7 600.5h0.5v0.5h-0.5zM363.5 584.3h1v1h-1zM381.8 588.9h0.7v0.7h-0.7zM364.6 575.2h0.8v0.8h-0.8zM358.9 578h1v1h-1zM363.5 592.1h1v1h-1zM383.5 608.6h0.8v0.8h-0.8zM372.4 604h1v1h-1zM374.8 582.5h0.5v0.5h-0.5zM385.8 594.1h0.9v0.9h-0.9zM382.7 582.8h0.8v0.8h-0.8zM387 600.2h0.7v0.7h-0.7zM359.5 589h0.5v0.5h-0.5zM370.9 602.6h0.9v0.9h-0.9zM381.9 584.7h0.9v0.9h-0.9zM376.1 595.3h0.7v0.7h-0.7zM351.5 601.7h0.6v0.6h-0.6zM360.9 607.5h0.8v0.8h-0.8zM361.8 593.6h0.7v0.7h-0.7zM388.8 597.7h0.7v0.7h-0.7zM385.6 601.6h0.7v0.7h-0.7zM360.4 582.5h0.7v0.7h-0.7zM353.6 613.6h1v1h-1zM367.5 603.5h0.8v0.8h-0.8zM369.6 614.1h0.9v0.9h-0.9zM367.6 597.8h1.1v1.1h-1.1zM377.5 597.6h0.7v0.7h-0.7zM376 591.8h1v1h-1zM369.2 576.7h0.6v0.6h-0.6zM379.7 578.3h0.5v0.5h-0.5zM372.8 582.9h0.9v0.9h-0.9zM354.4 601.7h0.6v0.6h-0.6zM356.1 604.4h0.6v0.6h-0.6zM355.1 593.2h0.7v0.7h-0.7zM374.7 606.2h0.8v0.8h-0.8zM361.1 585.1h1v1h-1zM349.7 592.1h0.9v0.9h-0.9zM364.8 609.8h0.8v0.8h-0.8zM354.8 605.7h0.7v0.7h-0.7zM352.4 606.7h0.8v0.8h-0.8zM385.5 602.6h0.9v0.9h-0.9zM367.5 599.6h0.7v0.7h-0.7zM368.5 594.9h0.6v0.6h-0.6zM362.7 619.9h0.7v0.7h-0.7zM372.3 613.6h0.5v0.5h-0.5zM380.9 600.8h0.5v0.5h-0.5zM360.1 604.8h0.7v0.7h-0.7zM382.6 596.6h0.6v0.6h-0.6zM366.2 605.6h0.8v0.8h-0.8zM372.6 589.8h0.7v0.7h-0.7zM355 601.6h0.6v0.6h-0.6zM371.4 616.9h0.7v0.7h-0.7zM372.2 581.9h1v1h-1zM363.5 617.5h1v1h-1zM368 593.4h1v1h-1zM369.3 618h0.6v0.6h-0.6zM377.8 587.8h0.6v0.6h-0.6zM362.3 607.8h1v1h-1zM365.8 595.5h0.8v0.8h-0.8zM372.4 581.1h1.1v1.1h-1.1zM366.2 577h0.7v0.7h-0.7zM363.9 591.5h0.6v0.6h-0.6zM365.4 609.6h0.9v0.9h-0.9zM363.9 611.9h0.6v0.6h-0.6zM361.6 613.4h1v1h-1zM371.7 605.9h0.7v0.7h-0.7zM376.8 598.4h0.5v0.5h-0.5zM352.2 583.7h1v1h-1zM349.6 611.9h0.9v0.9h-0.9zM363.4 612.5h0.6v0.6h-0.6zM386.8 607.1h0.7v0.7h-0.7zM364.8 574.4h0.9v0.9h-0.9zM377.7 610.5h0.5v0.5h-0.5zM365.7 579.6h1v1h-1zM379.4 601.3h0.8v0.8h-0.8zM372.3 618.5h1v1h-1zM381.1 590.2h0.8v0.8h-0.8zM366.4 589.9h0.9v0.9h-0.9zM371 616.3h0.5v0.5h-0.5zM358.9 592.4h0.8v0.8h-0.8zM370.4 611.5h0.6v0.6h-0.6zM390.2 600.1h0.9v0.9h-0.9zM357.1 613h0.5v0.5h-0.5zM355.2 613.7h0.5v0.5h-0.5zM355.5 614.5h0.9v0.9h-0.9zM359.1 595.5h0.8v0.8h-0.8zM372.4 617.1h0.9v0.9h-0.9zM360.7 611.9h0.5v0.5h-0.5zM358.4 614.3h0.8v0.8h-0.8zM348.3 591.4h1v1h-1zM347.3 603.4h1.1v1.1h-1.1zM380.2 595.2h0.8v0.8h-0.8zM373.3 594.4h1v1h-1zM347.8 593.1h1.1v1.1h-1.1zM363 579.3h0.5v0.5h-0.5zM388.8 602.9h1.1v1.1h-1.1zM356.1 605h0.9v0.9h-0.9zM359.3 580.7h1v1h-1zM357.9 618.2h1v1h-1zM374.2 583.2h0.6v0.6h-0.6zM349.5 609h0.5v0.5h-0.5zM361.9 586h0.6v0.6h-0.6zM375 609h0.7v0.7h-0.7zM381.6 598h0.6v0.6h-0.6zM359.6 594.2h0.9v0.9h-0.9zM375.3 595.5h0.8v0.8h-0.8zM368.8 579.6h0.8v0.8h-0.8zM350.8 594.7h0.5v0.5h-0.5zM352.4 591.9h0.5v0.5h-0.5zM380.5 583.3h0.9v0.9h-0.9zM353.3 590.7h0.6v0.6h-0.6zM375.1 618.9h1v1h-1zM363.7 600h0.5v0.5h-0.5zM363.2 590.3h1.1v1.1h-1.1zM359.9 597.5h0.5v0.5h-0.5zM383.9 591.4h0.9v0.9h-0.9zM382 594.3h1v1h-1zM356.6 605.6h0.9v0.9h-0.9zM351.7 606.7h1.1v1.1h-1.1zM372.2 586.7h0.5v0.5h-0.5zM369.9 579.5h1.1v1.1h-1.1z"/>
</g>
<g filter="url(#hb)">
<ellipse cx="372" cy="640" rx="28" ry="28" fill="#ecbce4"/>
<path fill="#a8428a" d="M391.8 645.6h0.9v0.9h-0.9zM383.1 626.5h0.6v0.6h-0.6zM396 646.2h0.8v0.8h-0.8zM362.9 622.8h0.5v0.5h-0.5zM371.3 625.7h0.9v0.9h-0.9zM375.4 637.3h0.5v0.5h-0.5zM350 624h0.7v0.7h-0.7zM390.4 623.9h0.9v0.9h-0.9zM364.8 646h0.8v0.8h-0.8zM377.5 652.3h1v1h-1zM349.6 633.4h1.1v1.1h-1.1zM387.3 629.4h1.1v1.1h-1.1zM353.3 627.3h0.9v0.9h-0.9zM358.4 653.7h0.6v0.6h-0.6zM350.6 655.3h1.1v1.1h-1.1zM372.3 633.5h0.8v0.8h-0.8zM353.1 630.7h0.5v0.5h-0.5zM388.2 660.6h0.8v0.8h-0.8zM387.4 661.6h0.7v0.7h-0.7zM386.1 649.7h0.9v0.9h-0.9zM381.2 639.7h1v1h-1zM397.3 635.2h1v1h-1zM355.8 645.8h0.7v0.7h-0.7zM355.9 658.8h0.5v0.5h-0.5zM353.4 645.1h0.5v0.5h-0.5zM360.7 624.9h0.6v0.6h-0.6zM367.6 655.8h1v1h-1zM373.7 632.4h0.5v0.5h-0.5zM361.6 653.4h0.9v0.9h-0.9zM374.7 661h0.9v0.9h-0.9zM381.1 614.9h0.6v0.6h-0.6zM366.3 650h0.5v0.5h-0.5zM382.4 645.1h1v1h-1zM392.5 627.7h0.5v0.5h-0.5zM368.9 627.4h0.9v0.9h-0.9zM368.7 666.1h0.9v0.9h-0.9zM373 634.5h0.9v0.9h-0.9zM381 628.8h1v1h-1zM384.3 659.1h0.9v0.9h-0.9zM396.5 648.7h0.5v0.5h-0.5zM368.2 641.9h0.6v0.6h-0.6zM368.2 623.3h0.9v0.9h-0.9zM387 654.3h1v1h-1zM358 620.4h1v1h-1zM367.9 621.1h1v1h-1zM386.9 622.4h0.8v0.8h-0.8zM387.9 629.8h0.6v0.6h-0.6zM345.7 646.1h0.8v0.8h-0.8zM348.3 631.9h0.6v0.6h-0.6zM355.2 621.7h0.6v0.6h-0.6zM380.1 641.8h0.7v0.7h-0.7zM360.1 617.6h0.9v0.9h-0.9zM387.7 619.4h0.9v0.9h-0.9zM369.4 634.1h0.8v0.8h-0.8zM349.3 632.9h0.9v0.9h-0.9zM351.3 644.1h0.6v0.6h-0.6zM357 638.5h0.9v0.9h-0.9zM356.3 653h0.9v0.9h-0.9zM358 633.6h0.6v0.6h-0.6zM387.9 632.5h0.6v0.6h-0.6zM373.1 640.5h0.8v0.8h-0.8zM378 659.9h0.9v0.9h-0.9zM383.5 620.1h0.8v0.8h-0.8zM385.4 649.1h1v1h-1zM365.7 626.5h0.7v0.7h-0.7zM361.3 658.7h0.5v0.5h-0.5zM357.5 648.7h0.9v0.9h-0.9zM395.1 642.6h0.8v0.8h-0.8zM362.7 643.3h0.5v0.5h-0.5zM384.7 656h1v1h-1zM379.3 641.5h0.6v0.6h-0.6zM365.8 643.8h0.9v0.9h-0.9zM355.3 637h0.8v0.8h-0.8zM382.7 642.7h1.1v1.1h-1.1zM355.3 633.2h0.8v0.8h-0.8zM355.3 624.7h1v1h-1zM393.6 653.9h0.5v0.5h-0.5zM374 649.9h0.7v0.7h-0.7zM375.6 623.5h0.8v0.8h-0.8zM395.4 626.8h0.6v0.6h-0.6zM390.3 633.6h0.5v0.5h-0.5zM356.6 640.8h1v1h-1zM361.3 650.4h0.7v0.7h-0.7zM388.5 636.9h0.6v0.6h-0.6zM353.9 642.9h1v1h-1zM382 617.4h0.5v0.5h-0.5zM385.4 657.6h0.5v0.5h-0.5zM354.8 625.2h0.7v0.7h-0.7zM373.9 665.3h0.8v0.8h-0.8zM363.9 632.3h0.5v0.5h-0.5zM385.8 629.5h0.5v0.5h-0.5zM348.3 635.8h0.6v0.6h-0.6zM369.4 649.9h0.9v0.9h-0.9zM384.6 663.2h0.6v0.6h-0.6zM351.7 649.2h0.8v0.8h-0.8zM370.7 628.9h1.1v1.1h-1.1zM390.4 651.1h0.9v0.9h-0.9zM347.7 645.5h0.7v0.7h-0.7zM390.9 621.4h0.9v0.9h-0.9zM380.4 662.9h1v1h-1zM361.2 633.4h0.6v0.6h-0.6zM389.6 634.2h0.5v0.5h-0.5zM356.4 617.3h0.7v0.7h-0.7zM359.7 616.4h0.5v0.5h-0.5zM358.8 643.3h0.5v0.5h-0.5zM388.5 634.9h1v1h-1zM388.7 637.9h0.7v0.7h-0.7zM351.3 653.4h0.8v0.8h-0.8zM366 660.2h0.8v0.8h-0.8zM372 660.3h0.5v0.5h-0.5zM354.8 626.2h0.7v0.7h-0.7zM396 640.4h0.7v0.7h-0.7zM390.6 642.5h0.5v0.5h-0.5zM350.5 654.6h1v1h-1zM358 658.1h0.6v0.6h-0.6zM346.2 642h1v1h-1zM374.9 649.5h0.9v0.9h-0.9zM358 657.7h0.9v0.9h-0.9zM378 652.1h0.6v0.6h-0.6zM394.2 643.4h0.7v0.7h-0.7zM353.7 634.6h1v1h-1zM366.6 638.5h0.8v0.8h-0.8zM391.1 621.8h1v1h-1zM376.5 649.5h0.7v0.7h-0.7zM373.8 623.7h0.8v0.8h-0.8zM389.8 640.1h0.5v0.5h-0.5zM366.8 654.6h0.5v0.5h-0.5zM361.5 655.8h0.8v0.8h-0.8zM388.8 636.7h1v1h-1zM368.3 623.4h0.6v0.6h-0.6zM364.8 642.3h0.6v0.6h-0.6zM393.7 632.2h0.7v0.7h-0.7zM372.2 633.2h1v1h-1zM364.2 633.1h0.6v0.6h-0.6zM348.6 647.6h1v1h-1zM356.5 651.6h0.5v0.5h-0.5zM351.9 653.8h0.5v0.5h-0.5zM376.9 640.8h0.9v0.9h-0.9zM395.6 630.7h1v1h-1zM380.5 643.5h0.5v0.5h-0.5zM368.8 633.4h0.7v0.7h-0.7zM392.7 641.7h0.6v0.6h-0.6zM376.7 630.2h1v1h-1zM373.9 646.1h0.7v0.7h-0.7zM350.2 651.6h0.7v0.7h-0.7zM380.5 617.1h0.8v0.8h-0.8zM372.4 631.9h1v1h-1zM359.6 618h0.9v0.9h-0.9zM367.6 620.7h0.5v0.5h-0.5zM389.4 645.6h0.5v0.5h-0.5zM362.9 639.8h0.8v0.8h-0.8zM359.3 617.1h0.6v0.6h-0.6zM369.7 641.4h1.1v1.1h-1.1zM357.7 640.9h0.8v0.8h-0.8zM359.2 645.2h0.5v0.5h-0.5zM393.7 638.6h0.9v0.9h-0.9z"/>
<path fill="#c060a4" d="M374.1 637.7h0.9v0.9h-0.9zM365.3 622.9h0.7v0.7h-0.7zM381.8 647.2h0.7v0.7h-0.7zM396.7 629.7h0.8v0.8h-0.8zM383.5 653.2h0.6v0.6h-0.6zM385.7 643.5h0.7v0.7h-0.7zM359 654.5h0.6v0.6h-0.6zM380 638.6h0.6v0.6h-0.6zM375.4 652.7h0.9v0.9h-0.9zM383 654.6h0.7v0.7h-0.7zM356.8 634.4h0.8v0.8h-0.8zM360.3 657.3h0.5v0.5h-0.5zM392.9 624.7h0.8v0.8h-0.8zM379.4 662.4h1v1h-1zM395.9 633.3h0.9v0.9h-0.9zM349.3 639.1h1.1v1.1h-1.1zM347.2 630.2h1v1h-1zM390.3 653.7h0.8v0.8h-0.8zM381 628.4h0.8v0.8h-0.8zM365.3 651h0.7v0.7h-0.7zM359.9 660.5h0.7v0.7h-0.7zM376 663.5h0.5v0.5h-0.5zM376.6 623.3h1v1h-1zM392.9 634h1v1h-1zM377.3 621.3h0.7v0.7h-0.7zM388.9 630h0.9v0.9h-0.9zM367.8 651.2h0.5v0.5h-0.5zM383.1 633h0.6v0.6h-0.6zM395.7 648.6h0.5v0.5h-0.5zM360.9 618.1h0.9v0.9h-0.9zM394.7 638.7h0.9v0.9h-0.9zM382 623.5h0.7v0.7h-0.7zM386.2 631.6h0.6v0.6h-0.6zM365.7 643h0.6v0.6h-0.6zM352.1 638.5h0.6v0.6h-0.6zM361.8 617.4h0.8v0.8h-0.8zM381.6 656.9h0.7v0.7h-0.7zM378.5 623.3h0.6v0.6h-0.6zM372.8 634.9h0.7v0.7h-0.7zM369.2 645.3h0.7v0.7h-0.7zM387.3 625.6h0.9v0.9h-0.9zM393.7 625.6h0.6v0.6h-0.6zM365.4 659h1.1v1.1h-1.1zM377 652h0.5v0.5h-0.5zM384.2 615.9h0.8v0.8h-0.8zM354.1 643.1h0.8v0.8h-0.8zM380.5 629.6h0.8v0.8h-0.8zM361.9 651.4h0.6v0.6h-0.6zM349.4 626.9h0.8v0.8h-0.8zM397.2 647.7h0.6v0.6h-0.6zM394.2 634.8h1.1v1.1h-1.1zM361.4 663.5h0.5v0.5h-0.5zM357.1 637.9h0.9v0.9h-0.9zM382.4 664.5h0.6v0.6h-0.6zM383.9 649.8h0.5v0.5h-0.5zM383.7 623h0.5v0.5h-0.5zM392.2 628.9h0.9v0.9h-0.9zM388.3 646.3h0.8v0.8h-0.8zM366.8 618.3h0.7v0.7h-0.7zM362.1 631.8h0.9v0.9h-0.9zM370.6 619h0.5v0.5h-0.5zM382.5 616.3h0.6v0.6h-0.6zM379 620.7h0.9v0.9h-0.9zM358.8 654.1h0.6v0.6h-0.6zM368.2 652.4h0.6v0.6h-0.6zM356.3 644.5h0.9v0.9h-0.9zM378.1 645.2h1v1h-1zM349 648.3h1v1h-1zM375.6 661h1v1h-1zM357.2 654.1h0.9v0.9h-0.9zM356 655.4h0.9v0.9h-0.9zM351.1 626.4h0.5v0.5h-0.5zM356.8 646.8h0.6v0.6h-0.6zM355.5 659.2h0.9v0.9h-0.9zM350.1 647.1h0.8v0.8h-0.8zM381.8 627.5h0.8v0.8h-0.8zM382.5 624.8h0.5v0.5h-0.5zM374.5 638.7h0.5v0.5h-0.5zM366.8 663.3h1.1v1.1h-1.1zM350.5 624.4h0.7v0.7h-0.7zM344.9 640.4h0.5v0.5h-0.5zM355.9 624.7h0.9v0.9h-0.9zM348.4 649.7h0.5v0.5h-0.5zM353 627.8h0.7v0.7h-0.7zM377.4 650.1h0.5v0.5h-0.5zM354.1 658.2h1v1h-1zM380.1 665.4h0.6v0.6h-0.6zM367.6 658.3h0.9v0.9h-0.9zM380.5 655.1h1.1v1.1h-1.1zM351 632.3h0.8v0.8h-0.8zM362.4 653.8h0.5v0.5h-0.5zM383.4 631.8h0.7v0.7h-0.7zM368 654.3h0.9v0.9h-0.9zM376.5 621h0.6v0.6h-0.6zM364.9 636.5h0.8v0.8h-0.8zM357.4 637.2h1v1h-1zM350.8 627.9h1v1h-1zM393.4 631.7h0.9v0.9h-0.9zM361.3 635.3h0.9v0.9h-0.9zM374.3 638.8h0.6v0.6h-0.6zM359.8 645.8h0.9v0.9h-0.9zM388.8 641h0.5v0.5h-0.5zM397 637.3h0.6v0.6h-0.6zM390.6 646.1h0.8v0.8h-0.8zM364.8 635.5h0.9v0.9h-0.9zM347.9 629.7h0.9v0.9h-0.9zM370.8 642.2h0.6v0.6h-0.6zM374.7 622.5h0.5v0.5h-0.5zM373.5 632.8h1v1h-1zM383.4 626.2h0.6v0.6h-0.6zM357.1 623.8h0.8v0.8h-0.8zM382.7 635.1h1v1h-1zM368.2 642.6h1v1h-1zM358.8 649.3h0.7v0.7h-0.7zM358.3 634.4h0.9v0.9h-0.9zM371.1 639.9h0.9v0.9h-0.9zM358.5 620.9h0.6v0.6h-0.6zM381.7 632.8h0.6v0.6h-0.6zM357.7 656.2h0.5v0.5h-0.5zM389.3 659.7h0.6v0.6h-0.6zM368.9 635.4h0.5v0.5h-0.5zM364 623.1h1.1v1.1h-1.1zM363.8 660.2h0.5v0.5h-0.5zM384.4 660.2h0.6v0.6h-0.6zM377.1 629.8h1.1v1.1h-1.1zM349.7 638.2h1.1v1.1h-1.1zM379.4 643.6h0.6v0.6h-0.6zM387.7 658.4h0.7v0.7h-0.7zM354.7 649.6h1v1h-1zM388.4 660.1h0.5v0.5h-0.5zM355.7 655.9h0.8v0.8h-0.8zM379.8 644.8h0.5v0.5h-0.5zM357.6 635.2h0.7v0.7h-0.7z"/>
<path fill="#903478" d="M382.9 657.8h0.8v0.8h-0.8zM345.2 637.6h0.5v0.5h-0.5zM370.5 652.4h0.8v0.8h-0.8zM347.9 626.8h0.6v0.6h-0.6zM383.8 625.8h0.7v0.7h-0.7zM366.5 630.4h1.1v1.1h-1.1zM377.2 637.6h0.5v0.5h-0.5zM394.4 652.6h0.6v0.6h-0.6zM392.5 630.8h1v1h-1zM382.2 616.9h0.7v0.7h-0.7zM370.3 619.3h0.6v0.6h-0.6zM368.5 650.1h0.8v0.8h-0.8zM370.8 633.4h1v1h-1zM362 619.3h1v1h-1zM354.8 628.2h0.6v0.6h-0.6zM352.2 649.3h0.7v0.7h-0.7zM359.7 647.1h0.7v0.7h-0.7zM367.7 643.9h0.5v0.5h-0.5zM363.2 618.8h0.8v0.8h-0.8zM351.5 639.5h0.5v0.5h-0.5zM393.1 640.3h1v1h-1zM372.5 616.4h0.5v0.5h-0.5zM364.8 623h0.6v0.6h-0.6zM377.3 618.1h1v1h-1zM397.9 634.6h1v1h-1zM364.4 614.3h1.1v1.1h-1.1zM370.2 631.1h0.6v0.6h-0.6zM369.2 645.1h0.6v0.6h-0.6zM387.9 634h0.6v0.6h-0.6zM373 638.5h0.5v0.5h-0.5zM387.1 634.1h0.5v0.5h-0.5zM379.1 621.1h0.9v0.9h-0.9zM369.7 654h1v1h-1zM367.7 656.4h0.7v0.7h-0.7zM386.5 636.6h0.9v0.9h-0.9zM349.5 639.1h0.7v0.7h-0.7zM386.2 661.6h0.7v0.7h-0.7zM379.6 616.3h0.7v0.7h-0.7zM364.2 646.5h0.6v0.6h-0.6zM373 623.6h1v1h-1zM379.1 642.9h1.1v1.1h-1.1zM373.2 648.2h1v1h-1zM362.3 628.4h0.8v0.8h-0.8zM371.3 623.3h0.5v0.5h-0.5zM384 659.6h1v1h-1zM394.2 627.8h0.9v0.9h-0.9zM373.4 626h0.6v0.6h-0.6zM374.5 663.4h0.7v0.7h-0.7zM376.5 615.4h0.9v0.9h-0.9zM351.6 637.4h0.8v0.8h-0.8zM385.2 633.9h1v1h-1zM376.7 646.2h0.5v0.5h-0.5zM396.3 634.3h0.8v0.8h-0.8zM374.6 634.4h0.5v0.5h-0.5zM349.8 625.7h1v1h-1zM361.7 640.8h0.5v0.5h-0.5zM352.1 628.9h0.7v0.7h-0.7zM382.3 628.7h0.8v0.8h-0.8zM379.9 626.5h0.7v0.7h-0.7zM394.4 654.3h0.8v0.8h-0.8zM390.4 635.6h0.5v0.5h-0.5zM362.3 635h0.5v0.5h-0.5zM381.7 622.2h0.9v0.9h-0.9zM367 653.5h0.8v0.8h-0.8zM378.1 618.6h0.5v0.5h-0.5zM386.3 635.8h1v1h-1zM386.2 641.1h1v1h-1zM389.6 629.9h0.6v0.6h-0.6zM349.6 642.9h1v1h-1zM382.4 617.4h0.5v0.5h-0.5zM370 639.5h0.5v0.5h-0.5zM365.7 627.2h0.9v0.9h-0.9zM383.4 659h0.8v0.8h-0.8zM359.7 642.3h1.1v1.1h-1.1zM359.1 649.3h0.8v0.8h-0.8zM349.8 654.7h0.9v0.9h-0.9zM368.3 624.5h1v1h-1zM397.7 633.2h0.9v0.9h-0.9zM357.7 640h0.6v0.6h-0.6zM372.5 629.3h1v1h-1zM386.9 653.6h0.9v0.9h-0.9zM397 637.7h1v1h-1zM362.9 625.4h1.1v1.1h-1.1zM379.2 646.1h0.5v0.5h-0.5zM392.6 654.2h1.1v1.1h-1.1zM384.8 625.1h1v1h-1zM355.8 620.7h0.8v0.8h-0.8zM379 621.1h1v1h-1zM392.4 643.2h0.6v0.6h-0.6zM347.5 647.9h1.1v1.1h-1.1zM376.9 625.1h0.5v0.5h-0.5zM394.4 631.6h0.6v0.6h-0.6zM363.1 652.8h0.9v0.9h-0.9zM373.7 615.6h0.5v0.5h-0.5zM354.2 639.7h0.9v0.9h-0.9zM363.4 617.7h1v1h-1zM374 639.1h0.6v0.6h-0.6zM393.2 653.7h0.6v0.6h-0.6zM358.1 633.8h0.6v0.6h-0.6zM375.7 623.2h1v1h-1zM364.5 626.2h0.7v0.7h-0.7zM352.6 631.6h0.9v0.9h-0.9zM387.1 658.7h0.9v0.9h-0.9zM374.1 626.4h0.9v0.9h-0.9zM380.2 633.8h0.7v0.7h-0.7zM371.6 629.5h0.9v0.9h-0.9zM376.8 641.1h0.5v0.5h-0.5zM385.5 662.6h0.9v0.9h-0.9zM360.9 625.1h0.7v0.7h-0.7zM353.8 619.9h1.1v1.1h-1.1zM372.6 643.2h0.5v0.5h-0.5zM395.6 637.7h0.8v0.8h-0.8zM354.6 659.4h0.7v0.7h-0.7zM393.8 654.8h0.7v0.7h-0.7zM382.2 651.5h0.7v0.7h-0.7zM352.7 655.8h0.7v0.7h-0.7zM350.3 656.4h0.7v0.7h-0.7zM384.5 628.5h0.7v0.7h-0.7zM374.8 619.2h0.7v0.7h-0.7zM363.3 615.3h0.8v0.8h-0.8zM377.6 656.7h1v1h-1zM388.1 630.3h0.8v0.8h-0.8zM347.3 628.1h0.9v0.9h-0.9zM353.5 628.9h0.6v0.6h-0.6zM372.7 638.4h0.8v0.8h-0.8zM372.5 666.2h0.9v0.9h-0.9zM364.6 661.6h0.5v0.5h-0.5zM387.8 641.3h0.7v0.7h-0.7zM391.8 633.8h0.8v0.8h-0.8zM355.6 623h0.9v0.9h-0.9zM388.9 623.9h0.6v0.6h-0.6z"/>
</g>
</g>
<g clip-path="url(#cp11)">
<g filter="url(#hb)">
<ellipse cx="393.7" cy="612.5" rx="33.7" ry="30.5" fill="#ededf1"/>
<path fill="#ffffff" d="M395.5 613.2h0.6v0.6h-0.6zM411.2 611.2h0.8v0.8h-0.8zM376 634.2h0.7v0.7h-0.7zM363.8 599.1h1.1v1.1h-1.1zM368.6 630.8h1v1h-1zM384.6 616.9h0.8v0.8h-0.8zM384.2 603.3h0.8v0.8h-0.8zM399.7 622.9h0.7v0.7h-0.7zM407.8 599.4h0.8v0.8h-0.8zM383.5 617.3h1.1v1.1h-1.1zM403.9 615.2h1.2v1.2h-1.2zM405.9 627.9h1.3v1.3h-1.3zM404.1 584.6h1.1v1.1h-1.1zM398.5 631.7h0.6v0.6h-0.6zM412.5 631.9h1.1v1.1h-1.1zM420.2 625.8h1v1h-1zM404.5 614.1h1.2v1.2h-1.2zM418.4 611.3h1v1h-1zM371 627.7h0.8v0.8h-0.8zM416.5 610.4h1.1v1.1h-1.1zM367.1 621.4h1.3v1.3h-1.3zM384.1 621.7h1.2v1.2h-1.2zM422.2 608.5h1v1h-1zM406.9 611.2h0.9v0.9h-0.9zM364 620.7h0.8v0.8h-0.8zM402.6 594.3h1.1v1.1h-1.1zM394.1 598.9h0.9v0.9h-0.9zM403.9 618.4h0.6v0.6h-0.6zM375 628.7h0.7v0.7h-0.7zM402.2 616.5h0.8v0.8h-0.8zM385.1 587h0.7v0.7h-0.7zM392 610.2h1.4v1.4h-1.4zM376.4 625.1h1.4v1.4h-1.4zM405.6 587.1h1.2v1.2h-1.2zM417.2 614.5h0.9v0.9h-0.9zM385.2 625.2h1.3v1.3h-1.3zM375 611h1v1h-1zM398 636.7h0.8v0.8h-0.8zM365 610.1h0.7v0.7h-0.7zM404.1 600.4h1.2v1.2h-1.2zM391.2 630.6h1v1h-1zM380.8 603.5h0.8v0.8h-0.8zM371.7 596.2h1.2v1.2h-1.2zM385.2 625.9h1.3v1.3h-1.3zM382.2 621h0.8v0.8h-0.8zM418 610.6h1.1v1.1h-1.1zM396.6 622.5h1.4v1.4h-1.4zM365.3 619.5h1v1h-1zM379.3 603.9h1.1v1.1h-1.1zM373 603.1h1.1v1.1h-1.1zM381.7 632.5h1.4v1.4h-1.4zM419.2 596.1h1v1h-1zM386.3 598.1h1.3v1.3h-1.3zM388.6 583.1h1v1h-1zM398.4 621.1h0.8v0.8h-0.8zM406.5 603.2h1.1v1.1h-1.1zM413.5 608.2h1v1h-1zM374.3 617.9h0.9v0.9h-0.9zM418.8 617h1.4v1.4h-1.4zM406.4 633h1.2v1.2h-1.2zM380.9 639.3h0.8v0.8h-0.8zM394.8 636.9h1.3v1.3h-1.3zM375.3 624.9h1.1v1.1h-1.1zM401.4 584.4h1.3v1.3h-1.3zM382.7 599.3h1.3v1.3h-1.3zM393.7 594.7h0.7v0.7h-0.7zM386.1 625.5h1.4v1.4h-1.4zM387.5 615.5h0.9v0.9h-0.9zM380 596.4h1v1h-1zM387.1 631h1.2v1.2h-1.2zM405.5 619h1v1h-1zM373.7 610.5h1.3v1.3h-1.3zM418.9 596h1.1v1.1h-1.1zM416.4 619.1h1.1v1.1h-1.1zM394.3 599h1.2v1.2h-1.2zM371.9 606.5h1.1v1.1h-1.1zM412 632.5h0.9v0.9h-0.9zM380.9 584.8h1.4v1.4h-1.4zM405.6 605.6h1.4v1.4h-1.4zM375 587.9h1.4v1.4h-1.4zM387.2 595h0.9v0.9h-0.9zM365 597h1.4v1.4h-1.4zM372 616.5h1v1h-1zM410.4 589.6h0.8v0.8h-0.8zM391 636.2h1.3v1.3h-1.3zM391.7 611.5h0.9v0.9h-0.9zM374.9 591.7h1v1h-1zM383.6 625.4h1.3v1.3h-1.3zM383.1 637.6h0.7v0.7h-0.7zM411.5 625.6h0.9v0.9h-0.9zM375.6 622.1h1.3v1.3h-1.3zM394.1 615.2h1.3v1.3h-1.3zM363.5 604h0.9v0.9h-0.9zM419.6 607.6h1.3v1.3h-1.3zM392.6 615.3h1.4v1.4h-1.4zM364.7 625h1.2v1.2h-1.2zM376.3 600.9h1.2v1.2h-1.2zM393.1 618.9h1.2v1.2h-1.2zM369.5 616.8h1v1h-1zM361.6 607h1.1v1.1h-1.1zM365.3 616h0.9v0.9h-0.9zM375.3 594.9h0.7v0.7h-0.7zM370.8 622.9h0.9v0.9h-0.9zM379.7 593h1.2v1.2h-1.2zM388.4 635.4h1v1h-1zM374.4 605.5h0.8v0.8h-0.8zM386.9 606.3h1.4v1.4h-1.4zM403.8 623.6h0.8v0.8h-0.8zM373.4 605.9h0.9v0.9h-0.9zM414.6 613.4h1.2v1.2h-1.2zM399.2 585.9h0.9v0.9h-0.9zM370.3 610.1h1.2v1.2h-1.2zM412.6 588.6h1v1h-1zM421.2 600.7h1.1v1.1h-1.1zM380.1 596.1h1.4v1.4h-1.4zM395 611.1h0.9v0.9h-0.9zM367.7 594.1h1.2v1.2h-1.2zM383 622.3h1v1h-1zM395.1 627h1.1v1.1h-1.1zM365.9 602h1.1v1.1h-1.1zM384.8 635.3h1.1v1.1h-1.1zM404.3 587.4h1.3v1.3h-1.3zM411.6 630.3h1.1v1.1h-1.1zM394 629h1.1v1.1h-1.1zM402.6 598.8h0.7v0.7h-0.7zM384.8 622.5h1.3v1.3h-1.3zM370 622.2h0.7v0.7h-0.7zM408.9 599.5h1.2v1.2h-1.2zM401.9 630h0.9v0.9h-0.9zM391 600.9h1.3v1.3h-1.3zM392.8 587.8h1v1h-1zM391.6 593.7h1v1h-1zM384.1 638h1.3v1.3h-1.3zM407.5 637.5h1.3v1.3h-1.3zM397 585.1h0.7v0.7h-0.7zM416.9 602.5h1.3v1.3h-1.3zM378 604.1h1.4v1.4h-1.4zM384.6 610.5h0.9v0.9h-0.9zM421.5 619.4h0.9v0.9h-0.9zM363.8 605.4h0.9v0.9h-0.9zM401.2 625.1h0.9v0.9h-0.9zM410.9 594.6h0.7v0.7h-0.7zM394 602.6h1.2v1.2h-1.2zM384.5 591h1.4v1.4h-1.4zM384.2 610.1h1.1v1.1h-1.1zM367.8 595.4h1v1h-1zM391.6 633.9h1.4v1.4h-1.4zM395.5 602.2h1.3v1.3h-1.3zM414.4 627.6h1.1v1.1h-1.1zM401.5 607.4h1.2v1.2h-1.2zM418.7 607.5h0.8v0.8h-0.8zM421.8 618.1h0.7v0.7h-0.7zM396.1 634.4h1.1v1.1h-1.1zM403.9 620.6h0.9v0.9h-0.9zM382.7 636.9h0.7v0.7h-0.7zM392.9 631.5h0.8v0.8h-0.8zM375.5 600.1h0.9v0.9h-0.9zM373.3 603h0.8v0.8h-0.8z"/>
<path fill="#d8d0c8" d="M367.5 597.1h0.8v0.8h-0.8zM400 632.5h0.8v0.8h-0.8zM411.7 606.1h1.3v1.3h-1.3zM381 607.9h0.8v0.8h-0.8zM387.2 606.3h0.7v0.7h-0.7zM400.3 636.1h1.1v1.1h-1.1zM417.8 608.8h1.4v1.4h-1.4zM410.7 603.6h0.7v0.7h-0.7zM402.7 617.4h0.7v0.7h-0.7zM401.7 634h1v1h-1zM418 605.6h0.7v0.7h-0.7zM415.1 599.6h1.1v1.1h-1.1zM414.7 630.3h0.9v0.9h-0.9zM403.3 619.2h1.2v1.2h-1.2zM421.3 597h0.8v0.8h-0.8zM389.9 605.6h1.1v1.1h-1.1zM422.2 607.4h1v1h-1zM421.2 616.9h1.4v1.4h-1.4zM410.1 605h0.9v0.9h-0.9zM387 615.3h1v1h-1zM406.1 595.3h1.3v1.3h-1.3zM374.5 600.7h1.4v1.4h-1.4zM394.8 593.5h0.6v0.6h-0.6zM420.4 610.8h0.9v0.9h-0.9zM380.2 629.9h0.9v0.9h-0.9zM408.9 593.5h1.1v1.1h-1.1zM404.8 611.8h0.8v0.8h-0.8zM403.6 620.6h1.3v1.3h-1.3zM406.9 601.1h1.3v1.3h-1.3zM389.1 612.6h1.2v1.2h-1.2zM396.4 640.4h1v1h-1zM387.7 635h1.3v1.3h-1.3zM364.5 621.7h1.3v1.3h-1.3zM397.5 589h1.2v1.2h-1.2zM391.5 639.1h0.8v0.8h-0.8zM383 634.2h1.4v1.4h-1.4zM406.6 633h0.7v0.7h-0.7zM387 587.8h0.8v0.8h-0.8zM405.9 630h0.8v0.8h-0.8zM369.7 615.9h1.4v1.4h-1.4zM411.9 591.1h0.8v0.8h-0.8zM383.1 591.1h1.3v1.3h-1.3zM405.9 587.2h1.1v1.1h-1.1zM396.9 619h0.9v0.9h-0.9zM408 617.4h1v1h-1zM391.4 608h1.1v1.1h-1.1zM379 588.1h0.7v0.7h-0.7zM402.6 598.5h1.2v1.2h-1.2zM384.2 591.9h1v1h-1zM406.1 594.8h1.2v1.2h-1.2zM391.4 607.6h1v1h-1zM398.5 613h1.1v1.1h-1.1zM403.9 628.9h0.7v0.7h-0.7zM398 606.3h1v1h-1zM392.4 610.7h1.1v1.1h-1.1zM409.4 634.7h1.1v1.1h-1.1zM381.3 637.5h0.8v0.8h-0.8zM392.4 631.1h1.2v1.2h-1.2zM374.3 627.7h1.1v1.1h-1.1zM373 593.5h1.4v1.4h-1.4zM413.9 617.4h0.9v0.9h-0.9zM423.7 605.1h1.1v1.1h-1.1zM397.3 600.4h0.9v0.9h-0.9zM366.4 595.6h1v1h-1zM367.5 607.1h1v1h-1zM377.8 615.2h1v1h-1zM413.8 607.3h0.8v0.8h-0.8zM417.3 598.9h0.7v0.7h-0.7zM371.7 621.2h1.3v1.3h-1.3zM389.2 589.5h1v1h-1zM423.3 600.9h1.1v1.1h-1.1zM366.7 598.9h1v1h-1zM382.9 636.1h0.8v0.8h-0.8zM399.6 585.3h1.3v1.3h-1.3zM392.5 628.3h1.2v1.2h-1.2zM387.4 620h0.7v0.7h-0.7zM372.6 609h0.8v0.8h-0.8zM390.8 608.7h0.7v0.7h-0.7zM366.9 606.1h1.1v1.1h-1.1zM397 592.5h0.9v0.9h-0.9zM415.9 593.7h1.3v1.3h-1.3zM410.2 598.8h0.7v0.7h-0.7zM411 620.8h1v1h-1zM403 631.6h0.7v0.7h-0.7zM385.5 612.6h0.7v0.7h-0.7zM385.9 622.3h0.7v0.7h-0.7zM402.2 636.4h0.7v0.7h-0.7zM388.5 639.7h1.1v1.1h-1.1zM422.6 606.9h1.3v1.3h-1.3zM385 610.1h0.7v0.7h-0.7zM424.3 615.7h1v1h-1zM400.7 588.7h1.4v1.4h-1.4zM380.6 609.6h1.4v1.4h-1.4zM397 612.4h1.3v1.3h-1.3zM365.4 618.4h1.4v1.4h-1.4zM398.9 624.2h1.3v1.3h-1.3zM378 590.4h0.7v0.7h-0.7zM384.3 615.7h0.8v0.8h-0.8zM393.3 594.5h1.4v1.4h-1.4zM406 609.5h0.9v0.9h-0.9zM422.1 599.9h1v1h-1zM411.4 591.7h0.9v0.9h-0.9zM377.9 638h0.8v0.8h-0.8zM371.6 609.4h1.1v1.1h-1.1zM376 608.7h1v1h-1zM376.3 601h0.7v0.7h-0.7zM409.1 631.2h1.3v1.3h-1.3zM390.1 613.8h0.9v0.9h-0.9zM402.7 607.8h1v1h-1zM384.5 626.2h1.4v1.4h-1.4zM385 632.5h1.1v1.1h-1.1zM424.3 603.6h1.3v1.3h-1.3zM368.6 604.8h1.2v1.2h-1.2zM368.1 619.7h1.2v1.2h-1.2zM379.4 617.6h1.3v1.3h-1.3zM411 629.5h1.2v1.2h-1.2zM412.2 633.9h0.7v0.7h-0.7zM378 603.2h1.3v1.3h-1.3zM411.3 595.3h1.1v1.1h-1.1zM410.2 614.5h1.1v1.1h-1.1zM410.5 628h1.2v1.2h-1.2zM406.7 590h1.3v1.3h-1.3zM378.2 634.7h0.8v0.8h-0.8zM385.9 602.2h1.3v1.3h-1.3zM402.7 632.2h1.3v1.3h-1.3zM405.1 594.6h1.1v1.1h-1.1zM419 601.3h0.9v0.9h-0.9zM405.4 629.4h0.9v0.9h-0.9zM375.5 619.2h0.8v0.8h-0.8zM414 599.1h1v1h-1zM405.1 589.9h0.8v0.8h-0.8zM383.9 593h0.9v0.9h-0.9zM402.7 621.9h0.8v0.8h-0.8zM420.1 615.7h0.7v0.7h-0.7zM390 634.3h0.7v0.7h-0.7zM399.1 608.2h1.4v1.4h-1.4zM400.3 637.9h1v1h-1zM393.5 594.2h1.2v1.2h-1.2zM389.2 606.9h0.8v0.8h-0.8zM378.4 604.4h1.3v1.3h-1.3zM382.9 630.7h0.9v0.9h-0.9zM383.2 621.6h1.3v1.3h-1.3zM395.1 599.6h1.3v1.3h-1.3zM391.5 628.1h0.8v0.8h-0.8zM368.6 611.3h1v1h-1zM364.2 608.2h0.7v0.7h-0.7zM411.5 590.6h0.8v0.8h-0.8zM382.1 616.1h1.3v1.3h-1.3zM413.3 605.8h1.3v1.3h-1.3zM390.4 586.3h0.7v0.7h-0.7zM394.2 633.7h0.7v0.7h-0.7zM402.3 609.5h1.4v1.4h-1.4zM364.2 608.4h1.3v1.3h-1.3zM396.7 607.8h1.1v1.1h-1.1z"/>
<path fill="#b8b8c4" d="M398.9 585.4h0.8v0.8h-0.8zM415.6 593.7h1.2v1.2h-1.2zM378.1 591.8h0.7v0.7h-0.7zM399.2 628.5h0.8v0.8h-0.8zM384.1 604.6h0.7v0.7h-0.7zM406.3 589h0.6v0.6h-0.6zM406.8 606.4h1v1h-1zM425.4 614.4h1.4v1.4h-1.4zM374.4 613.3h0.9v0.9h-0.9zM367.5 602.7h0.7v0.7h-0.7zM410 633.9h1.2v1.2h-1.2zM407.1 633h0.6v0.6h-0.6zM369 602.1h1.4v1.4h-1.4zM397.4 601.5h0.9v0.9h-0.9zM387.3 629.4h1v1h-1zM400.7 607.1h1v1h-1zM400.9 622.6h1.4v1.4h-1.4zM385.7 584.7h0.8v0.8h-0.8zM407.7 613.6h1.3v1.3h-1.3zM364.3 602.6h0.9v0.9h-0.9zM389.8 623.1h0.8v0.8h-0.8zM408.5 624.2h0.9v0.9h-0.9zM408.5 627.5h1.4v1.4h-1.4zM412.9 597.6h1.1v1.1h-1.1zM371.2 619.2h1.2v1.2h-1.2zM389.7 593.7h0.9v0.9h-0.9zM383.3 624.8h1v1h-1zM417.1 621.3h1.4v1.4h-1.4zM375.7 602.1h1.1v1.1h-1.1zM405.6 629.7h0.9v0.9h-0.9zM379.3 588.3h1.1v1.1h-1.1zM372.9 608.7h0.7v0.7h-0.7zM413.4 618h1.4v1.4h-1.4zM410.8 634.1h0.8v0.8h-0.8zM408.4 604.9h1.2v1.2h-1.2zM375.9 612h1.2v1.2h-1.2zM422.7 612.1h0.7v0.7h-0.7zM400.9 610.3h1.4v1.4h-1.4zM406.3 622.2h1.4v1.4h-1.4zM372.6 622.1h1v1h-1zM397.2 634h0.7v0.7h-0.7zM393.3 602.6h1.2v1.2h-1.2zM406.5 629.2h1.3v1.3h-1.3zM388.9 635.1h1.3v1.3h-1.3zM397.2 607.2h1v1h-1zM399.8 599.5h1.3v1.3h-1.3zM387.5 626.3h1.3v1.3h-1.3zM361.8 620.2h1.2v1.2h-1.2zM379.6 586.6h1.2v1.2h-1.2zM394.1 605.5h1.3v1.3h-1.3zM386.7 605.7h0.9v0.9h-0.9zM369.2 624.8h1.4v1.4h-1.4zM392.7 591.2h1v1h-1zM396.8 604.4h1.2v1.2h-1.2zM381.3 594.7h1.3v1.3h-1.3zM377.9 619.5h0.7v0.7h-0.7zM371.6 599.4h1.3v1.3h-1.3zM422.3 620.6h0.8v0.8h-0.8zM423.8 620.1h0.7v0.7h-0.7zM389.8 627h1v1h-1zM407.8 622.2h0.7v0.7h-0.7zM377.6 618.7h1.3v1.3h-1.3zM391.7 637.6h1.4v1.4h-1.4zM412.6 589.8h0.8v0.8h-0.8zM401.3 606.1h1.2v1.2h-1.2zM397.7 595.4h1.3v1.3h-1.3zM418.8 612.7h1.3v1.3h-1.3zM416.4 594.1h1v1h-1zM413.8 600h1.4v1.4h-1.4zM382.5 603.8h0.7v0.7h-0.7zM411.8 598.2h0.7v0.7h-0.7zM379.6 606.9h0.7v0.7h-0.7zM378.6 632.5h1.3v1.3h-1.3zM408.8 593.1h1.4v1.4h-1.4zM422.1 607.2h1v1h-1zM413 606.5h1.2v1.2h-1.2zM413.7 602h0.7v0.7h-0.7zM382.7 625.4h0.7v0.7h-0.7zM383.7 608.4h1v1h-1zM408.2 623.2h1.2v1.2h-1.2zM388.1 604.9h1.1v1.1h-1.1zM404.1 621.9h1.4v1.4h-1.4zM374.6 621h1.4v1.4h-1.4zM390.8 626.9h1.4v1.4h-1.4zM391.2 596.8h1.1v1.1h-1.1zM381.2 600.4h1v1h-1zM382.1 622.9h1.3v1.3h-1.3zM373.6 596h1.4v1.4h-1.4zM416.7 622.4h1.3v1.3h-1.3zM387.4 626.4h0.7v0.7h-0.7zM374.1 607.4h1.2v1.2h-1.2zM401.1 616.4h0.7v0.7h-0.7zM413.9 603.8h1.1v1.1h-1.1zM413.3 620.2h1v1h-1zM400.5 617.9h1.1v1.1h-1.1zM394.4 605.8h1v1h-1zM412.8 600.1h1.1v1.1h-1.1zM368 630.2h0.9v0.9h-0.9zM368.7 599.1h1.4v1.4h-1.4zM411.3 599.8h1.2v1.2h-1.2zM386.1 635.2h0.7v0.7h-0.7zM405.8 598.7h1.3v1.3h-1.3zM404.8 611.1h1.4v1.4h-1.4zM414.7 594.2h1.4v1.4h-1.4zM399.4 590.2h1.4v1.4h-1.4zM378.2 599.9h1.3v1.3h-1.3zM362.4 605.2h0.8v0.8h-0.8zM414.4 614.9h0.8v0.8h-0.8zM408.7 614.9h1.3v1.3h-1.3zM376.2 600.4h1.1v1.1h-1.1zM387.7 616.4h1.2v1.2h-1.2zM376.7 609h0.9v0.9h-0.9zM410 606.1h1.1v1.1h-1.1zM409.4 629.1h0.7v0.7h-0.7zM371.2 595.2h1.3v1.3h-1.3zM412.4 592h0.7v0.7h-0.7zM407.6 589.7h1v1h-1zM412.1 604.3h0.8v0.8h-0.8zM411.9 616.7h1.2v1.2h-1.2zM377.8 629.8h0.9v0.9h-0.9zM411.6 588.6h1.3v1.3h-1.3zM408.1 623.7h0.7v0.7h-0.7zM405.6 592.9h0.9v0.9h-0.9zM403 630.4h1v1h-1zM394.6 599.1h1.1v1.1h-1.1zM419.2 610.2h1.3v1.3h-1.3zM390.8 620.3h0.9v0.9h-0.9zM382.1 625.6h1.4v1.4h-1.4zM414.2 625.4h0.8v0.8h-0.8zM408.4 607.9h0.8v0.8h-0.8zM409.4 610.4h1.2v1.2h-1.2zM409.3 633.6h1.2v1.2h-1.2zM371.5 631h1.3v1.3h-1.3zM403.3 619.9h1.4v1.4h-1.4zM386.6 592.4h1.4v1.4h-1.4zM411.6 612.5h1.3v1.3h-1.3zM385.8 585.2h0.7v0.7h-0.7zM395.2 597.3h1.3v1.3h-1.3zM392.9 590.9h1.1v1.1h-1.1zM402.9 615.7h0.8v0.8h-0.8zM404.2 632.5h0.9v0.9h-0.9zM384 588.8h1v1h-1z"/>
<path fill="#c8c8d0" d="M391.4 641.6h0.8v0.8h-0.8zM394.3 591h0.9v0.9h-0.9zM379.4 629.1h1.2v1.2h-1.2zM380.2 601.6h1v1h-1zM398.4 609.8h1.3v1.3h-1.3zM389.8 639.9h0.8v0.8h-0.8zM404.2 603.3h0.8v0.8h-0.8zM404.1 613.8h0.7v0.7h-0.7zM380.1 616.8h1.1v1.1h-1.1zM390 590h1.4v1.4h-1.4zM414.7 629.5h0.9v0.9h-0.9zM418.8 629.3h0.7v0.7h-0.7zM408.1 630.2h0.9v0.9h-0.9zM366.9 603.5h0.9v0.9h-0.9zM381.8 634h0.7v0.7h-0.7zM404 594h1v1h-1zM404.4 638.7h1.4v1.4h-1.4zM398.4 637.1h1.2v1.2h-1.2zM408.1 619.7h0.9v0.9h-0.9zM423.1 608.2h1.4v1.4h-1.4zM399.6 628.5h1.1v1.1h-1.1zM373.9 604.7h0.9v0.9h-0.9zM401.3 588.9h0.9v0.9h-0.9zM391.8 641h0.9v0.9h-0.9zM382.8 615.9h0.7v0.7h-0.7zM391.7 640h0.8v0.8h-0.8zM399.9 596.8h0.8v0.8h-0.8zM368.7 603.2h1.3v1.3h-1.3zM403.8 614.7h1.1v1.1h-1.1zM377.7 618.8h1.3v1.3h-1.3zM407.9 618.5h0.9v0.9h-0.9zM375.8 607.1h1v1h-1zM384.7 598.1h1.4v1.4h-1.4zM386.7 597.5h1v1h-1zM397 617h1.2v1.2h-1.2zM407.3 603.4h0.6v0.6h-0.6zM384.7 635.6h0.8v0.8h-0.8zM406.2 586.7h1.4v1.4h-1.4zM374.1 625.9h1.3v1.3h-1.3zM375.2 633.3h1.1v1.1h-1.1zM367.2 598.9h0.9v0.9h-0.9zM406.1 617h1v1h-1zM365.2 605.6h1v1h-1zM374.8 599.2h1.2v1.2h-1.2zM412.6 612.9h1.1v1.1h-1.1zM367.1 606.5h1.1v1.1h-1.1zM422.2 622h1v1h-1zM403.5 593.1h1.2v1.2h-1.2zM390.3 601.6h0.6v0.6h-0.6zM364 613.3h0.7v0.7h-0.7zM410 602.4h1.2v1.2h-1.2zM396.5 636.5h1.3v1.3h-1.3zM384.1 613.2h1.4v1.4h-1.4zM399 601.7h1.3v1.3h-1.3zM409.4 620.8h1.4v1.4h-1.4zM387.2 636h1.1v1.1h-1.1zM383.3 589.7h0.8v0.8h-0.8zM417.8 594.1h1.2v1.2h-1.2zM414.1 590.9h0.9v0.9h-0.9zM404.9 586.1h1.4v1.4h-1.4zM402.9 610.4h0.9v0.9h-0.9zM372.1 606.4h1.4v1.4h-1.4zM407.9 605.3h1v1h-1zM367.8 606.3h1.4v1.4h-1.4zM398.6 590.7h1.4v1.4h-1.4zM406.5 604.9h1.1v1.1h-1.1zM371.3 605.2h0.7v0.7h-0.7zM416.4 610.9h0.8v0.8h-0.8zM402.3 609.7h1.3v1.3h-1.3zM388.9 630h0.7v0.7h-0.7zM390.5 602.4h0.9v0.9h-0.9zM412.7 626.5h1.4v1.4h-1.4zM388.9 615.4h1.2v1.2h-1.2zM407.1 613.4h0.9v0.9h-0.9zM422.1 625h1v1h-1zM381 637.6h1.3v1.3h-1.3zM390.6 599h1v1h-1zM365 605.1h1.4v1.4h-1.4zM379.3 586.4h0.8v0.8h-0.8zM387.2 635.9h1.2v1.2h-1.2zM383.6 600.4h0.8v0.8h-0.8zM375.7 599.6h0.9v0.9h-0.9zM406.9 586.8h1.3v1.3h-1.3zM406.2 618.3h1.1v1.1h-1.1zM416 619.1h0.6v0.6h-0.6zM410.3 604.3h0.7v0.7h-0.7zM365.2 610.1h1.3v1.3h-1.3zM401 632.9h1v1h-1zM401 633h1.4v1.4h-1.4zM414.1 622.8h1.3v1.3h-1.3zM380.9 609.4h0.8v0.8h-0.8zM384.1 610.2h1.2v1.2h-1.2zM400.5 587.3h1.2v1.2h-1.2zM386.7 621h1.4v1.4h-1.4zM402 612.1h0.7v0.7h-0.7zM381.9 611h1.3v1.3h-1.3zM381.2 605.9h0.8v0.8h-0.8zM376.4 601.1h0.9v0.9h-0.9zM377 604.7h1.3v1.3h-1.3zM370 599.9h1.2v1.2h-1.2zM361.8 614.7h1.4v1.4h-1.4zM416.6 629.5h1.1v1.1h-1.1zM376.4 594.2h0.7v0.7h-0.7zM387.4 632.4h0.7v0.7h-0.7zM412.5 633.4h1.4v1.4h-1.4zM393.8 586h1.4v1.4h-1.4zM366.7 610.1h0.9v0.9h-0.9zM410 628.2h0.7v0.7h-0.7zM400.6 624.9h0.9v0.9h-0.9zM364.9 624.8h1v1h-1zM363.3 616.4h0.9v0.9h-0.9zM404.1 589.3h1.1v1.1h-1.1zM390.2 593.2h0.9v0.9h-0.9zM381.6 611.2h1.3v1.3h-1.3zM423.5 606.6h1.3v1.3h-1.3zM394.5 582.8h1.4v1.4h-1.4zM416.5 611.5h1.3v1.3h-1.3zM368.4 609.9h0.9v0.9h-0.9zM397.1 596.2h1v1h-1zM402.9 599.1h1v1h-1zM410.4 632.9h0.8v0.8h-0.8zM401.2 620.9h0.7v0.7h-0.7zM378.9 596.5h1.2v1.2h-1.2zM392.2 587.9h1.4v1.4h-1.4zM393.9 585.8h0.9v0.9h-0.9zM391.5 588.6h0.8v0.8h-0.8zM411.4 592.6h1v1h-1zM372.8 634.7h0.7v0.7h-0.7zM402.9 603.2h1.2v1.2h-1.2zM407.3 608.5h1.1v1.1h-1.1zM423.9 602.1h1.1v1.1h-1.1zM367.4 621h1.3v1.3h-1.3zM424.3 613h1.3v1.3h-1.3zM386.3 624.2h0.7v0.7h-0.7zM412.1 599.7h0.7v0.7h-0.7zM373.3 628.4h1.3v1.3h-1.3zM412.8 614.2h0.9v0.9h-0.9zM400.5 611.5h0.9v0.9h-0.9zM396.6 601.8h1.3v1.3h-1.3zM418.7 597.5h1.3v1.3h-1.3zM382.8 584.6h0.8v0.8h-0.8zM415.1 591.2h1.2v1.2h-1.2zM398.3 595h0.7v0.7h-0.7zM413.3 589.8h0.7v0.7h-0.7zM402.5 608.9h0.8v0.8h-0.8zM375.8 626.9h1.1v1.1h-1.1z"/>
</g>
<g filter="url(#hb)">
<ellipse cx="450" cy="590" rx="22" ry="18" fill="#e8e8ee"/>
<path fill="#b0a898" d="M445.9 583.9h1v1h-1zM462.3 593.4h0.8v0.8h-0.8zM449.8 601.9h0.7v0.7h-0.7zM438.4 602.9h1.4v1.4h-1.4zM462.2 602.3h1.3v1.3h-1.3zM446.8 593.2h1.4v1.4h-1.4zM462.9 593.9h1v1h-1zM464.4 581.2h1.4v1.4h-1.4zM465 583.3h0.6v0.6h-0.6zM446 593.3h0.8v0.8h-0.8zM444.3 606.2h1.2v1.2h-1.2zM463.6 583.8h0.8v0.8h-0.8zM434.9 595h0.8v0.8h-0.8zM461 584.6h0.7v0.7h-0.7zM448.5 580.9h0.9v0.9h-0.9zM450.3 577.9h1.4v1.4h-1.4zM448.1 573.2h1.3v1.3h-1.3zM458.1 575h0.8v0.8h-0.8zM447.8 577.1h0.7v0.7h-0.7zM447.4 603.6h1.1v1.1h-1.1zM437.8 580.7h1.1v1.1h-1.1zM450.7 582h0.8v0.8h-0.8zM433.3 586.2h1.2v1.2h-1.2zM440.5 587h0.9v0.9h-0.9zM446.8 586.2h1.3v1.3h-1.3zM440.1 584.7h0.8v0.8h-0.8zM443.9 574.1h0.8v0.8h-0.8zM451.8 601.8h1v1h-1zM452.6 579.7h1v1h-1zM447.3 603.3h1v1h-1zM448.6 579.6h1v1h-1zM468.6 583.9h0.8v0.8h-0.8zM459.3 578.6h1.2v1.2h-1.2zM449.1 580.7h1.3v1.3h-1.3zM449.6 589.4h1.2v1.2h-1.2zM442.6 582.2h1v1h-1zM438.1 587.4h0.9v0.9h-0.9zM444.5 579.7h1v1h-1zM450.4 603.7h1.3v1.3h-1.3z"/>
<path fill="#c0c0c8" d="M447.3 587.9h1v1h-1zM437.9 601.4h1.3v1.3h-1.3zM462.1 600.1h1.4v1.4h-1.4zM446.1 577.9h0.8v0.8h-0.8zM464.9 580.3h1.1v1.1h-1.1zM431.3 589.6h1v1h-1zM446 578.5h0.7v0.7h-0.7zM458.4 593.3h1.3v1.3h-1.3zM446.6 574.6h1.2v1.2h-1.2zM433.7 589.3h1v1h-1zM460.7 594.6h1.2v1.2h-1.2zM458.9 593.5h1.1v1.1h-1.1zM444.8 581.7h0.9v0.9h-0.9zM452.3 582.8h1.2v1.2h-1.2zM454.7 595.8h0.7v0.7h-0.7zM442.1 590.2h1.3v1.3h-1.3zM455 592.7h1.2v1.2h-1.2zM449.5 598.3h0.9v0.9h-0.9zM463.7 600h0.6v0.6h-0.6zM441.1 583.8h0.8v0.8h-0.8zM456.6 576.9h1.4v1.4h-1.4zM450.9 579.1h1.4v1.4h-1.4zM434.8 579.4h1.3v1.3h-1.3zM431.1 584.7h0.8v0.8h-0.8zM445.7 602.7h0.7v0.7h-0.7zM458.3 574.2h1.1v1.1h-1.1zM457 600.3h0.9v0.9h-0.9zM436.5 590.6h1.1v1.1h-1.1zM448.3 601h1.3v1.3h-1.3zM458.5 585.1h1.2v1.2h-1.2zM452 596.9h1.1v1.1h-1.1zM431.2 583.3h0.7v0.7h-0.7zM430.1 590.7h1.2v1.2h-1.2zM432.1 589.1h1.1v1.1h-1.1zM452.3 601.2h1.2v1.2h-1.2zM451.2 590.8h0.9v0.9h-0.9zM437.2 591.8h0.7v0.7h-0.7zM440.3 579.2h1.2v1.2h-1.2zM467.4 593.4h1.4v1.4h-1.4zM468.6 582.2h0.9v0.9h-0.9zM452.8 586.5h0.8v0.8h-0.8z"/>
</g>
<g filter="url(#hb)">
<ellipse cx="368" cy="668" rx="26" ry="24" fill="#ece8e4"/>
<path fill="#d0c8c0" d="M365.9 663.1h0.9v0.9h-0.9zM377.9 653.3h1.4v1.4h-1.4zM389 665.9h1.4v1.4h-1.4zM356.6 651.7h1v1h-1zM380.7 666.9h1.2v1.2h-1.2zM369.1 675.3h1v1h-1zM380 650.5h0.8v0.8h-0.8zM372.9 663.8h1.4v1.4h-1.4zM356.6 670.1h1v1h-1zM362.1 653.9h1.4v1.4h-1.4zM352.1 670h1.3v1.3h-1.3zM365.8 681.5h1.1v1.1h-1.1zM348.7 662.5h0.6v0.6h-0.6zM348 678.8h0.8v0.8h-0.8zM362.7 664.8h0.9v0.9h-0.9zM352.3 665.8h1.1v1.1h-1.1zM359.6 648.3h1v1h-1zM390.3 665.7h1v1h-1zM377.3 667.7h1v1h-1zM362.2 653.8h0.7v0.7h-0.7zM352.4 675.2h0.8v0.8h-0.8zM356.1 655.7h0.6v0.6h-0.6zM381.8 670h1.1v1.1h-1.1zM380.3 685.9h0.7v0.7h-0.7zM345.8 672.9h1.3v1.3h-1.3zM360.5 645.5h1.2v1.2h-1.2zM376 675.3h0.9v0.9h-0.9zM371.3 680.8h1.4v1.4h-1.4zM353.6 681.7h0.9v0.9h-0.9zM351.5 679.8h1.2v1.2h-1.2zM374.4 656.8h0.9v0.9h-0.9zM343.2 672.2h1.1v1.1h-1.1zM353.7 670.7h1.1v1.1h-1.1zM345.7 675.7h1.2v1.2h-1.2zM373.6 660.7h1.1v1.1h-1.1zM378.4 664.6h0.8v0.8h-0.8zM350.9 652.1h1.4v1.4h-1.4z"/>
<path fill="#c0b0a0" d="M346.4 679.6h0.8v0.8h-0.8zM373 679h1.4v1.4h-1.4zM378.7 656.9h0.9v0.9h-0.9zM359.5 662.5h1.2v1.2h-1.2zM383.7 652.4h0.7v0.7h-0.7zM389.3 676h1.2v1.2h-1.2zM354.2 653.1h0.8v0.8h-0.8zM346.7 655.4h1.3v1.3h-1.3zM364.6 650.6h1.2v1.2h-1.2zM359.7 659.2h1.3v1.3h-1.3zM348.7 678.2h1.2v1.2h-1.2zM380.8 651.4h0.9v0.9h-0.9zM355.6 657.3h1v1h-1zM363 690h0.9v0.9h-0.9zM346.4 657.7h1.4v1.4h-1.4zM363.7 660.8h0.7v0.7h-0.7zM372.8 651.8h0.9v0.9h-0.9zM361.5 689.1h0.7v0.7h-0.7zM383.4 659.7h1.3v1.3h-1.3zM381 685.4h1.4v1.4h-1.4zM367.1 685.3h1.4v1.4h-1.4zM357.8 687.7h1.4v1.4h-1.4zM372 650.5h0.7v0.7h-0.7zM382.9 659.1h0.9v0.9h-0.9zM384 655.5h1v1h-1zM359.7 660.1h0.7v0.7h-0.7zM370.7 685.1h1.2v1.2h-1.2zM361.8 649.1h0.8v0.8h-0.8zM348.7 678.9h1.1v1.1h-1.1zM362.3 690h0.8v0.8h-0.8zM368.5 689.9h1.2v1.2h-1.2zM382.7 658.6h0.7v0.7h-0.7zM357.9 660.4h1.3v1.3h-1.3zM355.9 669.9h0.9v0.9h-0.9zM368.1 674.9h1.2v1.2h-1.2zM361.3 651.9h0.9v0.9h-0.9zM362.6 671.8h0.9v0.9h-0.9zM351.7 663.2h0.7v0.7h-0.7zM356.8 676.2h1.2v1.2h-1.2zM376 682.1h1.2v1.2h-1.2zM374.8 658.1h1.2v1.2h-1.2zM356.3 686.2h1.4v1.4h-1.4zM372.2 662.6h1.1v1.1h-1.1zM364.9 655h1.1v1.1h-1.1zM373.2 668.5h0.8v0.8h-0.8zM366.1 652.5h1.3v1.3h-1.3zM368.8 650.3h1.3v1.3h-1.3zM377 685.4h1.4v1.4h-1.4z"/>
<path fill="#b8a890" d="M375 652.3h1.1v1.1h-1.1zM351.7 681.5h0.8v0.8h-0.8zM382.2 685.1h1v1h-1zM377.8 652.7h0.9v0.9h-0.9zM370.3 675.9h0.9v0.9h-0.9zM378.2 672h1v1h-1zM358.7 671.7h1.3v1.3h-1.3zM375.8 659.5h1v1h-1zM362.5 655h1v1h-1zM369 670.4h1.2v1.2h-1.2zM358.5 688.6h0.8v0.8h-0.8zM361.9 674h0.6v0.6h-0.6zM364.7 667.1h1.4v1.4h-1.4zM371.3 645.6h1.3v1.3h-1.3zM384 675.6h1.2v1.2h-1.2zM380 647.3h1.4v1.4h-1.4zM382.6 672.4h1.3v1.3h-1.3zM347.3 657.2h0.9v0.9h-0.9zM350.6 684.3h0.7v0.7h-0.7zM353.5 648.6h1.3v1.3h-1.3zM386.9 653h0.9v0.9h-0.9zM378.5 677.2h1.3v1.3h-1.3zM365.7 670.8h0.8v0.8h-0.8zM378.2 685.8h1v1h-1zM370.8 681.4h0.7v0.7h-0.7zM383.7 685h1v1h-1zM386.5 657.9h1.3v1.3h-1.3zM376.1 653.6h1.3v1.3h-1.3zM389.2 659.8h0.9v0.9h-0.9zM353.8 660.7h1.2v1.2h-1.2zM379.8 659.2h1.2v1.2h-1.2zM372.4 659.1h0.9v0.9h-0.9zM378 650h1.2v1.2h-1.2zM378.3 656.9h0.8v0.8h-0.8zM373.3 685.4h0.7v0.7h-0.7z"/>
</g>
</g>
<g clip-path="url(#cp21)">
<g filter="url(#hb)">
<ellipse cx="477.8" cy="613.5" rx="34.5" ry="32.5" fill="#e8e9f2"/>
<path fill="#8a5a30" d="M448.9 629h0.7v0.7h-0.7zM462 632.2h1.1v1.1h-1.1zM456.4 597h1v1h-1zM509.4 610.9h1.1v1.1h-1.1zM462.4 638.4h1v1h-1zM495.2 634.1h1.2v1.2h-1.2zM455.4 636.6h1.2v1.2h-1.2zM488.2 637.5h1.1v1.1h-1.1zM473.5 621.8h1.2v1.2h-1.2zM485.7 637.3h0.8v0.8h-0.8zM486.7 643.3h0.9v0.9h-0.9zM505.2 610.4h1.1v1.1h-1.1zM502.3 620.6h0.8v0.8h-0.8zM476.9 592.3h1v1h-1zM446.7 625.7h0.9v0.9h-0.9zM473.8 641.4h0.8v0.8h-0.8zM494.2 589.7h0.8v0.8h-0.8zM466.5 629.5h1.1v1.1h-1.1zM476.8 608.6h1.3v1.3h-1.3zM478.6 633.4h1.2v1.2h-1.2zM460.2 606.5h1.2v1.2h-1.2zM488.6 634.3h0.9v0.9h-0.9zM495.3 638.7h0.8v0.8h-0.8zM489.9 604.3h1.3v1.3h-1.3zM494.5 590.1h1.3v1.3h-1.3zM501 631.7h0.8v0.8h-0.8zM481.4 599.4h0.9v0.9h-0.9zM448.3 620.2h0.8v0.8h-0.8zM494.9 628.6h1.3v1.3h-1.3zM498.5 593.2h1.2v1.2h-1.2zM447.7 603.8h0.8v0.8h-0.8zM455.6 594.9h1v1h-1zM452.4 594.6h1v1h-1zM454.2 605.5h1.2v1.2h-1.2zM489.3 616.4h1.2v1.2h-1.2zM498.9 609.4h0.9v0.9h-0.9zM462.2 620.2h1v1h-1zM463 626.5h0.9v0.9h-0.9zM467.8 603.8h0.9v0.9h-0.9zM493.1 635.3h0.8v0.8h-0.8zM506.6 621h1.2v1.2h-1.2zM474.2 613h0.8v0.8h-0.8zM499.9 611.7h1v1h-1zM510.3 616.5h1.1v1.1h-1.1zM464.1 636.6h1v1h-1zM504.8 598.2h1v1h-1zM453.5 626.4h1v1h-1zM483.1 634h0.8v0.8h-0.8zM448.6 629h1.2v1.2h-1.2zM504.4 617h1.1v1.1h-1.1zM480 607.7h0.8v0.8h-0.8zM482.4 607.6h0.9v0.9h-0.9zM499.2 630.4h0.7v0.7h-0.7zM468.2 592.1h0.9v0.9h-0.9zM450.9 625.5h1.3v1.3h-1.3zM499.7 624.3h0.9v0.9h-0.9zM459 596.3h0.9v0.9h-0.9zM445.9 615.9h1.1v1.1h-1.1zM468 629.7h0.9v0.9h-0.9zM503.7 629.7h1.3v1.3h-1.3zM489.3 594h0.9v0.9h-0.9zM478.8 636.7h0.7v0.7h-0.7zM478.5 585.6h1v1h-1zM457.8 602.6h1v1h-1zM491.5 641h1.2v1.2h-1.2zM458.2 592.8h0.8v0.8h-0.8zM467.1 591h0.9v0.9h-0.9zM455.4 636h1.3v1.3h-1.3zM496.3 592.8h1v1h-1zM464.8 602.8h1.1v1.1h-1.1zM452.3 619.7h1.1v1.1h-1.1zM484.5 604.3h1.1v1.1h-1.1zM500.7 595.8h1.2v1.2h-1.2zM471.7 638.1h1.1v1.1h-1.1zM472 582.7h0.9v0.9h-0.9zM502 603.4h0.9v0.9h-0.9zM498.2 588.4h0.8v0.8h-0.8zM468.2 635.2h1.3v1.3h-1.3zM495.8 588.3h0.8v0.8h-0.8zM507.2 605.1h0.8v0.8h-0.8zM452.6 600.2h1v1h-1zM469.9 607.7h0.8v0.8h-0.8zM470.9 624.2h1.1v1.1h-1.1zM459.7 638.3h0.8v0.8h-0.8zM504.2 598.6h0.9v0.9h-0.9zM506.2 620.2h1v1h-1z"/>
<path fill="#9a6a40" d="M454.7 601.6h1.1v1.1h-1.1zM451.2 599.2h1.1v1.1h-1.1zM484.5 643.6h1v1h-1zM458.1 593.2h0.9v0.9h-0.9zM506.9 624h1.1v1.1h-1.1zM471.6 590.3h1.3v1.3h-1.3zM455.3 596.4h0.8v0.8h-0.8zM482.6 620.4h0.7v0.7h-0.7zM484.4 623.7h0.8v0.8h-0.8zM492 607.4h0.9v0.9h-0.9zM477.3 627.4h0.8v0.8h-0.8zM489.6 593.2h1.2v1.2h-1.2zM477.2 622.6h1.1v1.1h-1.1zM479 589.5h0.8v0.8h-0.8zM500 594.9h0.9v0.9h-0.9zM507.3 624.5h1v1h-1zM481.3 618.1h0.9v0.9h-0.9zM463.9 605.8h0.8v0.8h-0.8zM493.1 640.1h1.2v1.2h-1.2zM455.4 636.8h1.2v1.2h-1.2zM476.8 593.2h0.8v0.8h-0.8zM464.2 618.5h1.3v1.3h-1.3zM464 634.7h1v1h-1zM477.8 585.1h0.8v0.8h-0.8zM481.6 642.5h1.1v1.1h-1.1zM490.6 592.9h0.7v0.7h-0.7zM476.7 639.7h1.2v1.2h-1.2zM463.6 587.1h1v1h-1zM476.1 639.5h1.1v1.1h-1.1zM508.3 606.7h1.1v1.1h-1.1zM460.9 603.1h0.9v0.9h-0.9zM482.6 604.4h0.7v0.7h-0.7zM475.6 635.5h0.9v0.9h-0.9zM456 612.1h1.3v1.3h-1.3zM498.7 600.8h0.9v0.9h-0.9zM460.1 633.8h0.8v0.8h-0.8zM489.4 614h0.8v0.8h-0.8zM450.3 600.5h1.2v1.2h-1.2zM446 613.1h1.2v1.2h-1.2zM480.2 608.6h1.1v1.1h-1.1zM486.6 640h1.1v1.1h-1.1zM497.3 609.5h1.1v1.1h-1.1zM455.9 623.9h1.3v1.3h-1.3zM457.2 592.4h1.3v1.3h-1.3zM504.1 619.8h0.9v0.9h-0.9zM483.5 609.3h1.1v1.1h-1.1zM484.8 604.9h1.2v1.2h-1.2zM456.2 630.9h1.3v1.3h-1.3zM450.5 630.9h0.8v0.8h-0.8zM460.9 631.2h0.9v0.9h-0.9zM499.5 597.1h1.1v1.1h-1.1zM454.5 618.7h0.8v0.8h-0.8zM451 628h1.1v1.1h-1.1zM501.5 604.4h0.8v0.8h-0.8zM479.1 644.2h1.3v1.3h-1.3zM496.9 629.9h1.2v1.2h-1.2zM461.6 639.1h1.3v1.3h-1.3zM496.7 635.8h1.1v1.1h-1.1zM510.2 614.1h1.2v1.2h-1.2zM448.5 609.8h0.7v0.7h-0.7zM477.3 605.8h1.3v1.3h-1.3zM459.9 588.9h1v1h-1zM498.3 595.5h1.3v1.3h-1.3zM462.6 589.5h0.8v0.8h-0.8zM495.7 637.4h1.1v1.1h-1.1zM479.1 600.6h1.1v1.1h-1.1zM485.9 606.7h1v1h-1zM478.4 607.8h1.1v1.1h-1.1z"/>
<path fill="#6a4a30" d="M466.9 583.4h1.1v1.1h-1.1zM502.3 603.5h1.2v1.2h-1.2zM499 593.4h1.3v1.3h-1.3zM485.1 586.1h0.9v0.9h-0.9zM466.9 638.4h0.8v0.8h-0.8zM448.4 623h1.2v1.2h-1.2zM469.6 604.5h0.9v0.9h-0.9zM508 621.9h1.1v1.1h-1.1zM486.4 583.2h0.9v0.9h-0.9zM503.7 598.8h1v1h-1zM490.9 597.1h1.1v1.1h-1.1zM494.6 633.9h0.7v0.7h-0.7zM457.6 631.3h1v1h-1zM485.2 592.3h1v1h-1zM496.7 616.8h1.1v1.1h-1.1zM461.1 615.1h1.3v1.3h-1.3zM492.7 614.9h1.3v1.3h-1.3zM505.1 620.4h1.3v1.3h-1.3zM455.5 636.4h1.1v1.1h-1.1zM467.2 588.9h1v1h-1zM492.6 634.5h1.2v1.2h-1.2zM501.5 618h1.2v1.2h-1.2zM474.3 604.8h1v1h-1zM487.8 609.7h1.2v1.2h-1.2zM500.8 610h1.2v1.2h-1.2zM452.4 604.9h1.1v1.1h-1.1zM487.7 611.7h0.8v0.8h-0.8zM468.3 591.6h1.2v1.2h-1.2zM448.7 621.8h1v1h-1zM469 630.4h1.2v1.2h-1.2zM468.7 590.8h0.7v0.7h-0.7zM487 618h1v1h-1zM453.2 624.2h0.8v0.8h-0.8zM465 590.6h1v1h-1zM476.6 604.5h0.8v0.8h-0.8zM494 634.8h1.1v1.1h-1.1zM494.3 594.1h1.3v1.3h-1.3zM482.4 599.1h0.7v0.7h-0.7zM477.6 630.6h1v1h-1zM474.2 590.4h1v1h-1zM460.7 633h1.2v1.2h-1.2zM485.3 610.7h0.8v0.8h-0.8zM466.8 626.6h1.3v1.3h-1.3zM505.2 625.8h0.8v0.8h-0.8zM476 605.7h1.3v1.3h-1.3zM453.3 632.4h0.7v0.7h-0.7zM452.8 593.7h1v1h-1zM505.8 619h0.9v0.9h-0.9zM475.9 591.8h0.9v0.9h-0.9zM460.8 590.8h0.9v0.9h-0.9zM471.5 610.8h1v1h-1zM484.3 585.4h1v1h-1zM475.7 583.4h1.1v1.1h-1.1zM482.6 635.8h1v1h-1zM489.8 622h1.2v1.2h-1.2zM470.5 584.1h1v1h-1zM488.2 642.9h0.9v0.9h-0.9zM457.4 609.9h1.1v1.1h-1.1zM486.7 637.7h1.3v1.3h-1.3zM501.4 608h1v1h-1zM500.8 615.1h0.9v0.9h-0.9zM456.6 628.3h1.2v1.2h-1.2zM452.9 600.8h1.1v1.1h-1.1zM484.8 596.6h1.1v1.1h-1.1zM467 599.4h0.9v0.9h-0.9zM450.5 613.2h1.3v1.3h-1.3zM504.5 609.7h1.3v1.3h-1.3zM494.4 631.2h1v1h-1zM447.6 618.7h1.2v1.2h-1.2zM480 621.2h1.2v1.2h-1.2zM507.7 622.3h1.2v1.2h-1.2zM457.4 628.4h0.8v0.8h-0.8zM470.5 624.4h1.1v1.1h-1.1zM465.9 592h1.3v1.3h-1.3z"/>
<path fill="#7a5030" d="M457.7 630.9h1.2v1.2h-1.2zM469.9 639.1h1.2v1.2h-1.2zM501.3 610.1h1.1v1.1h-1.1zM478.9 588h0.9v0.9h-0.9zM458.7 638.3h1.3v1.3h-1.3zM459 636.9h0.8v0.8h-0.8zM462.1 586h1.2v1.2h-1.2zM474.5 616.6h1.3v1.3h-1.3zM473 601.5h0.8v0.8h-0.8zM497.9 591.4h0.7v0.7h-0.7zM485.1 640.7h0.8v0.8h-0.8zM483.6 594.8h0.8v0.8h-0.8zM445.4 607.5h1.2v1.2h-1.2zM500.9 632.4h0.9v0.9h-0.9zM487 602.9h0.8v0.8h-0.8zM504.4 627.9h1.3v1.3h-1.3zM505.3 628.2h0.9v0.9h-0.9zM498.3 626.1h0.8v0.8h-0.8zM486.4 591.6h1.2v1.2h-1.2zM508.7 612.5h1.1v1.1h-1.1zM491.3 585h1v1h-1zM501.8 599.8h1.1v1.1h-1.1zM504.7 626.5h1v1h-1zM483.1 590.3h0.8v0.8h-0.8zM449.7 625.2h1.1v1.1h-1.1zM450.9 617.4h0.8v0.8h-0.8zM448.9 615.8h1v1h-1zM454.3 634.2h1v1h-1zM452.2 601.7h1v1h-1zM461.8 630.6h1.1v1.1h-1.1zM458.1 614.3h1.1v1.1h-1.1zM473.4 585.8h0.9v0.9h-0.9zM489.8 604.2h1.1v1.1h-1.1zM504.4 617.5h1.2v1.2h-1.2zM507.2 610.9h0.9v0.9h-0.9zM493.9 591h0.8v0.8h-0.8zM496.6 603.6h0.8v0.8h-0.8zM494.1 639.1h0.7v0.7h-0.7zM472.7 625.2h0.9v0.9h-0.9zM463.7 636.6h0.8v0.8h-0.8zM479.6 584.5h0.9v0.9h-0.9zM458.9 612.7h1.2v1.2h-1.2zM507.1 626.7h1.1v1.1h-1.1zM477.2 631.2h1.1v1.1h-1.1zM468.3 617.3h0.7v0.7h-0.7zM502.3 611.2h1.1v1.1h-1.1zM475.7 609.9h1.3v1.3h-1.3zM460.3 632.5h1.2v1.2h-1.2zM474.6 589.6h1v1h-1zM486.3 626h1.1v1.1h-1.1zM480.5 593.2h1.2v1.2h-1.2zM466.9 611.9h1.3v1.3h-1.3zM481.1 610.4h1.1v1.1h-1.1zM483.6 621.6h0.8v0.8h-0.8zM462.7 586.2h1v1h-1zM487.5 590.7h0.9v0.9h-0.9zM464.4 587.6h0.9v0.9h-0.9zM444.2 615.6h0.9v0.9h-0.9zM487 622.4h1v1h-1zM469.1 622.5h1.2v1.2h-1.2zM479.4 637.7h1.2v1.2h-1.2zM455.3 599.5h1.3v1.3h-1.3zM474.1 615.5h0.8v0.8h-0.8zM505.1 620.5h1.3v1.3h-1.3zM456.5 611.5h1.1v1.1h-1.1zM502.6 606.5h0.8v0.8h-0.8zM459.3 588.1h1.1v1.1h-1.1zM498.7 603.6h1.3v1.3h-1.3zM458.5 595.6h1v1h-1zM499 590.8h0.9v0.9h-0.9zM471.7 636.5h1.3v1.3h-1.3zM470.7 584.7h0.9v0.9h-0.9z"/>
</g>
<g filter="url(#hb)">
<ellipse cx="450" cy="668" rx="22" ry="24" fill="#e6e7f0"/>
<path fill="#8a5a30" d="M447.5 659.8h1.3v1.3h-1.3zM454.5 645.4h1.1v1.1h-1.1zM449.7 660h0.9v0.9h-0.9zM457 673.7h1.4v1.4h-1.4zM432.9 660.9h0.8v0.8h-0.8zM454.9 663.7h1.3v1.3h-1.3zM448.7 672.1h1.1v1.1h-1.1zM448.5 675.9h1v1h-1zM459.7 660.9h1.1v1.1h-1.1zM430.9 665.7h1v1h-1zM449.8 685.8h1.1v1.1h-1.1zM440.7 655.8h1.4v1.4h-1.4zM454 659.6h0.9v0.9h-0.9zM448.9 673.6h0.7v0.7h-0.7zM440 683.8h0.8v0.8h-0.8zM436.2 672.3h0.7v0.7h-0.7zM450.1 652.3h0.8v0.8h-0.8zM449.5 688.9h0.9v0.9h-0.9zM451.7 664.6h0.6v0.6h-0.6zM458.7 669.3h1.3v1.3h-1.3zM448.7 677h0.7v0.7h-0.7zM465.3 679h1v1h-1zM445.2 658.4h1.3v1.3h-1.3zM451.3 667.7h1v1h-1zM461.3 680.2h1.2v1.2h-1.2zM444.3 660.5h1.2v1.2h-1.2zM430.7 671.5h1.4v1.4h-1.4zM438.6 680.4h1.1v1.1h-1.1zM429.8 663.7h0.9v0.9h-0.9zM436.4 658.8h0.9v0.9h-0.9zM452 658.4h0.8v0.8h-0.8zM441.5 655.2h1.2v1.2h-1.2zM440.7 654.4h1.1v1.1h-1.1z"/>
<path fill="#7a5030" d="M446.6 681.4h0.8v0.8h-0.8zM454.9 677.9h0.8v0.8h-0.8zM452.8 649h0.9v0.9h-0.9zM456.9 657h1.1v1.1h-1.1zM457.6 681.6h1.4v1.4h-1.4zM440.3 659.7h1.4v1.4h-1.4zM431.5 661.8h1.2v1.2h-1.2zM453.2 663.1h1.2v1.2h-1.2zM433.2 658.7h1v1h-1zM448.5 682h0.7v0.7h-0.7zM452.9 686.7h1v1h-1zM432.7 656.2h1v1h-1zM469.8 674.8h0.8v0.8h-0.8zM465.4 680.9h1.2v1.2h-1.2zM444.1 656.8h1.4v1.4h-1.4zM431.8 663.9h1v1h-1zM468.2 667.3h0.7v0.7h-0.7zM441.1 676.9h1.4v1.4h-1.4zM464.7 659h0.8v0.8h-0.8zM457.7 651.6h1.1v1.1h-1.1zM438.3 671.8h1.1v1.1h-1.1zM435.3 674.6h1.3v1.3h-1.3zM456.2 670.4h1.1v1.1h-1.1zM432.6 668.2h1.4v1.4h-1.4zM436.5 665.9h0.9v0.9h-0.9zM450.2 645.5h0.9v0.9h-0.9zM449.5 684.9h0.7v0.7h-0.7zM466.6 660.8h0.8v0.8h-0.8zM459 666.6h1v1h-1zM444.7 665.6h0.9v0.9h-0.9zM447.5 688.5h1.2v1.2h-1.2zM438 682.5h0.8v0.8h-0.8zM443.5 673.9h1.2v1.2h-1.2zM468.1 673.9h1v1h-1zM443.4 648.4h1.1v1.1h-1.1zM454.5 687.5h0.9v0.9h-0.9z"/>
<path fill="#9a6a40" d="M445.8 654h1.4v1.4h-1.4zM454.6 673.9h1v1h-1zM439.1 680.2h0.7v0.7h-0.7zM450.8 660.6h1.3v1.3h-1.3zM430.7 674.7h0.6v0.6h-0.6zM431.9 666.9h0.6v0.6h-0.6zM445.6 656.5h1.3v1.3h-1.3zM437.6 667.1h1v1h-1zM450.1 684.7h0.9v0.9h-0.9zM453.5 684.9h0.7v0.7h-0.7zM430.7 674.8h0.7v0.7h-0.7zM434.5 656.3h0.9v0.9h-0.9zM438.5 673.5h1.2v1.2h-1.2zM438.3 662.5h0.7v0.7h-0.7zM447.6 656.1h1v1h-1zM437.3 671.1h0.7v0.7h-0.7zM442 657.5h0.7v0.7h-0.7zM434.4 677.6h1.4v1.4h-1.4zM455.9 668h1.3v1.3h-1.3zM448.4 677.9h1.2v1.2h-1.2zM450.3 654.3h1.4v1.4h-1.4z"/>
</g>
<g filter="url(#hb)">
<ellipse cx="540" cy="600" rx="24" ry="30" fill="#e6e7f0"/>
<path fill="#8a5a30" d="M554.4 587.6h0.9v0.9h-0.9zM546.8 618.2h0.7v0.7h-0.7zM537.8 572.7h1.3v1.3h-1.3zM519.1 594h0.7v0.7h-0.7zM528.3 606.6h0.7v0.7h-0.7zM550.9 602.6h1.1v1.1h-1.1zM543.5 621.8h1.1v1.1h-1.1zM537.4 627.1h1.3v1.3h-1.3zM559 600.2h0.8v0.8h-0.8zM537 623.1h0.7v0.7h-0.7zM554.8 596.5h0.9v0.9h-0.9zM548.2 592.7h1.1v1.1h-1.1zM526.1 579.2h1v1h-1zM558.9 589.7h1.4v1.4h-1.4zM528.5 581.7h0.6v0.6h-0.6zM547.4 588.2h0.9v0.9h-0.9zM539.6 590.1h1.3v1.3h-1.3zM538.1 623.6h1.1v1.1h-1.1zM552.4 606.9h1.2v1.2h-1.2zM552.1 616.2h0.9v0.9h-0.9zM552.8 606.5h0.7v0.7h-0.7zM556 580.7h0.7v0.7h-0.7zM538.7 578.7h0.7v0.7h-0.7z"/>
<path fill="#7a5030" d="M526.7 603.6h1.4v1.4h-1.4zM545 593.6h1.3v1.3h-1.3zM549.2 616.6h1.2v1.2h-1.2zM538 624.6h0.9v0.9h-0.9zM540 628.2h0.9v0.9h-0.9zM538.5 609h1.2v1.2h-1.2zM537.5 601.6h0.8v0.8h-0.8zM552.2 606.9h0.8v0.8h-0.8zM538.3 619.6h1.1v1.1h-1.1zM542.1 622.9h1.1v1.1h-1.1zM533.2 593h1.1v1.1h-1.1zM526.5 605.1h0.9v0.9h-0.9zM543.4 571h1.2v1.2h-1.2zM532.3 609.6h1.2v1.2h-1.2zM546.5 580.6h0.7v0.7h-0.7zM539.5 622.4h0.7v0.7h-0.7zM535.4 598.9h0.7v0.7h-0.7zM522.5 605.4h1.2v1.2h-1.2zM557.8 602.6h1.1v1.1h-1.1zM549.3 581.3h1.1v1.1h-1.1zM542.4 608.2h1.2v1.2h-1.2zM526.7 620.2h1.4v1.4h-1.4zM543.3 576.6h1.4v1.4h-1.4zM533.3 626h0.7v0.7h-0.7zM534.6 598.1h1.1v1.1h-1.1zM562.1 597.6h0.8v0.8h-0.8zM541.6 584.5h0.8v0.8h-0.8zM521.8 600.4h0.8v0.8h-0.8zM537.4 570.8h1.1v1.1h-1.1zM533.3 588.3h0.8v0.8h-0.8zM533.6 601.5h1.3v1.3h-1.3zM539.4 621.7h1.1v1.1h-1.1zM534.8 602.3h0.7v0.7h-0.7zM554.8 577.9h1.1v1.1h-1.1zM521.6 612.7h1v1h-1zM554.6 613.1h1.2v1.2h-1.2zM546.3 603.7h1.2v1.2h-1.2z"/>
</g>
</g>
<line x1="479.80" y1="652.30" x2="514.50" y2="652.30" stroke="#111" stroke-width="1.0"/>
<text x="308.80" y="487.00" font-size="9.2" text-anchor="middle" fill="#231f20" stroke="#231f20" stroke-width="0.28">H&amp;E</text>
<text x="394.60" y="486.80" font-size="9.2" text-anchor="middle" fill="#231f20" stroke="#231f20" stroke-width="0.28">CREBBP</text>
<text x="479.60" y="485.80" font-size="9.2" text-anchor="middle" fill="#231f20" stroke="#231f20" stroke-width="0.28">Ki-67</text>
<text x="431.50" y="501.20" font-size="8.6" text-anchor="end" fill="#231f20" stroke="#231f20" stroke-width="0.28">8</text>
<text x="431.50" y="581.00" font-size="8.6" text-anchor="end" fill="#231f20" stroke="#231f20" stroke-width="0.28">3</text>
<text x="517.20" y="502.00" font-size="8.6" text-anchor="end" fill="#231f20" stroke="#231f20" stroke-width="0.28">25%</text>
<text x="517.20" y="581.20" font-size="8.6" text-anchor="end" fill="#231f20" stroke="#231f20" stroke-width="0.28">40%</text>
<text x="264.20" y="530.00" font-size="9.4" text-anchor="middle" fill="#231f20" stroke="#231f20" stroke-width="0.28" transform="rotate(-90 264.20 530.00)">siControl</text>
<text x="264.40" y="616.00" font-size="9.4" text-anchor="middle" fill="#231f20" stroke="#231f20" stroke-width="0.28" transform="rotate(-90 264.40 616.00)">siCREBBP</text>
</svg>
</body></html>
